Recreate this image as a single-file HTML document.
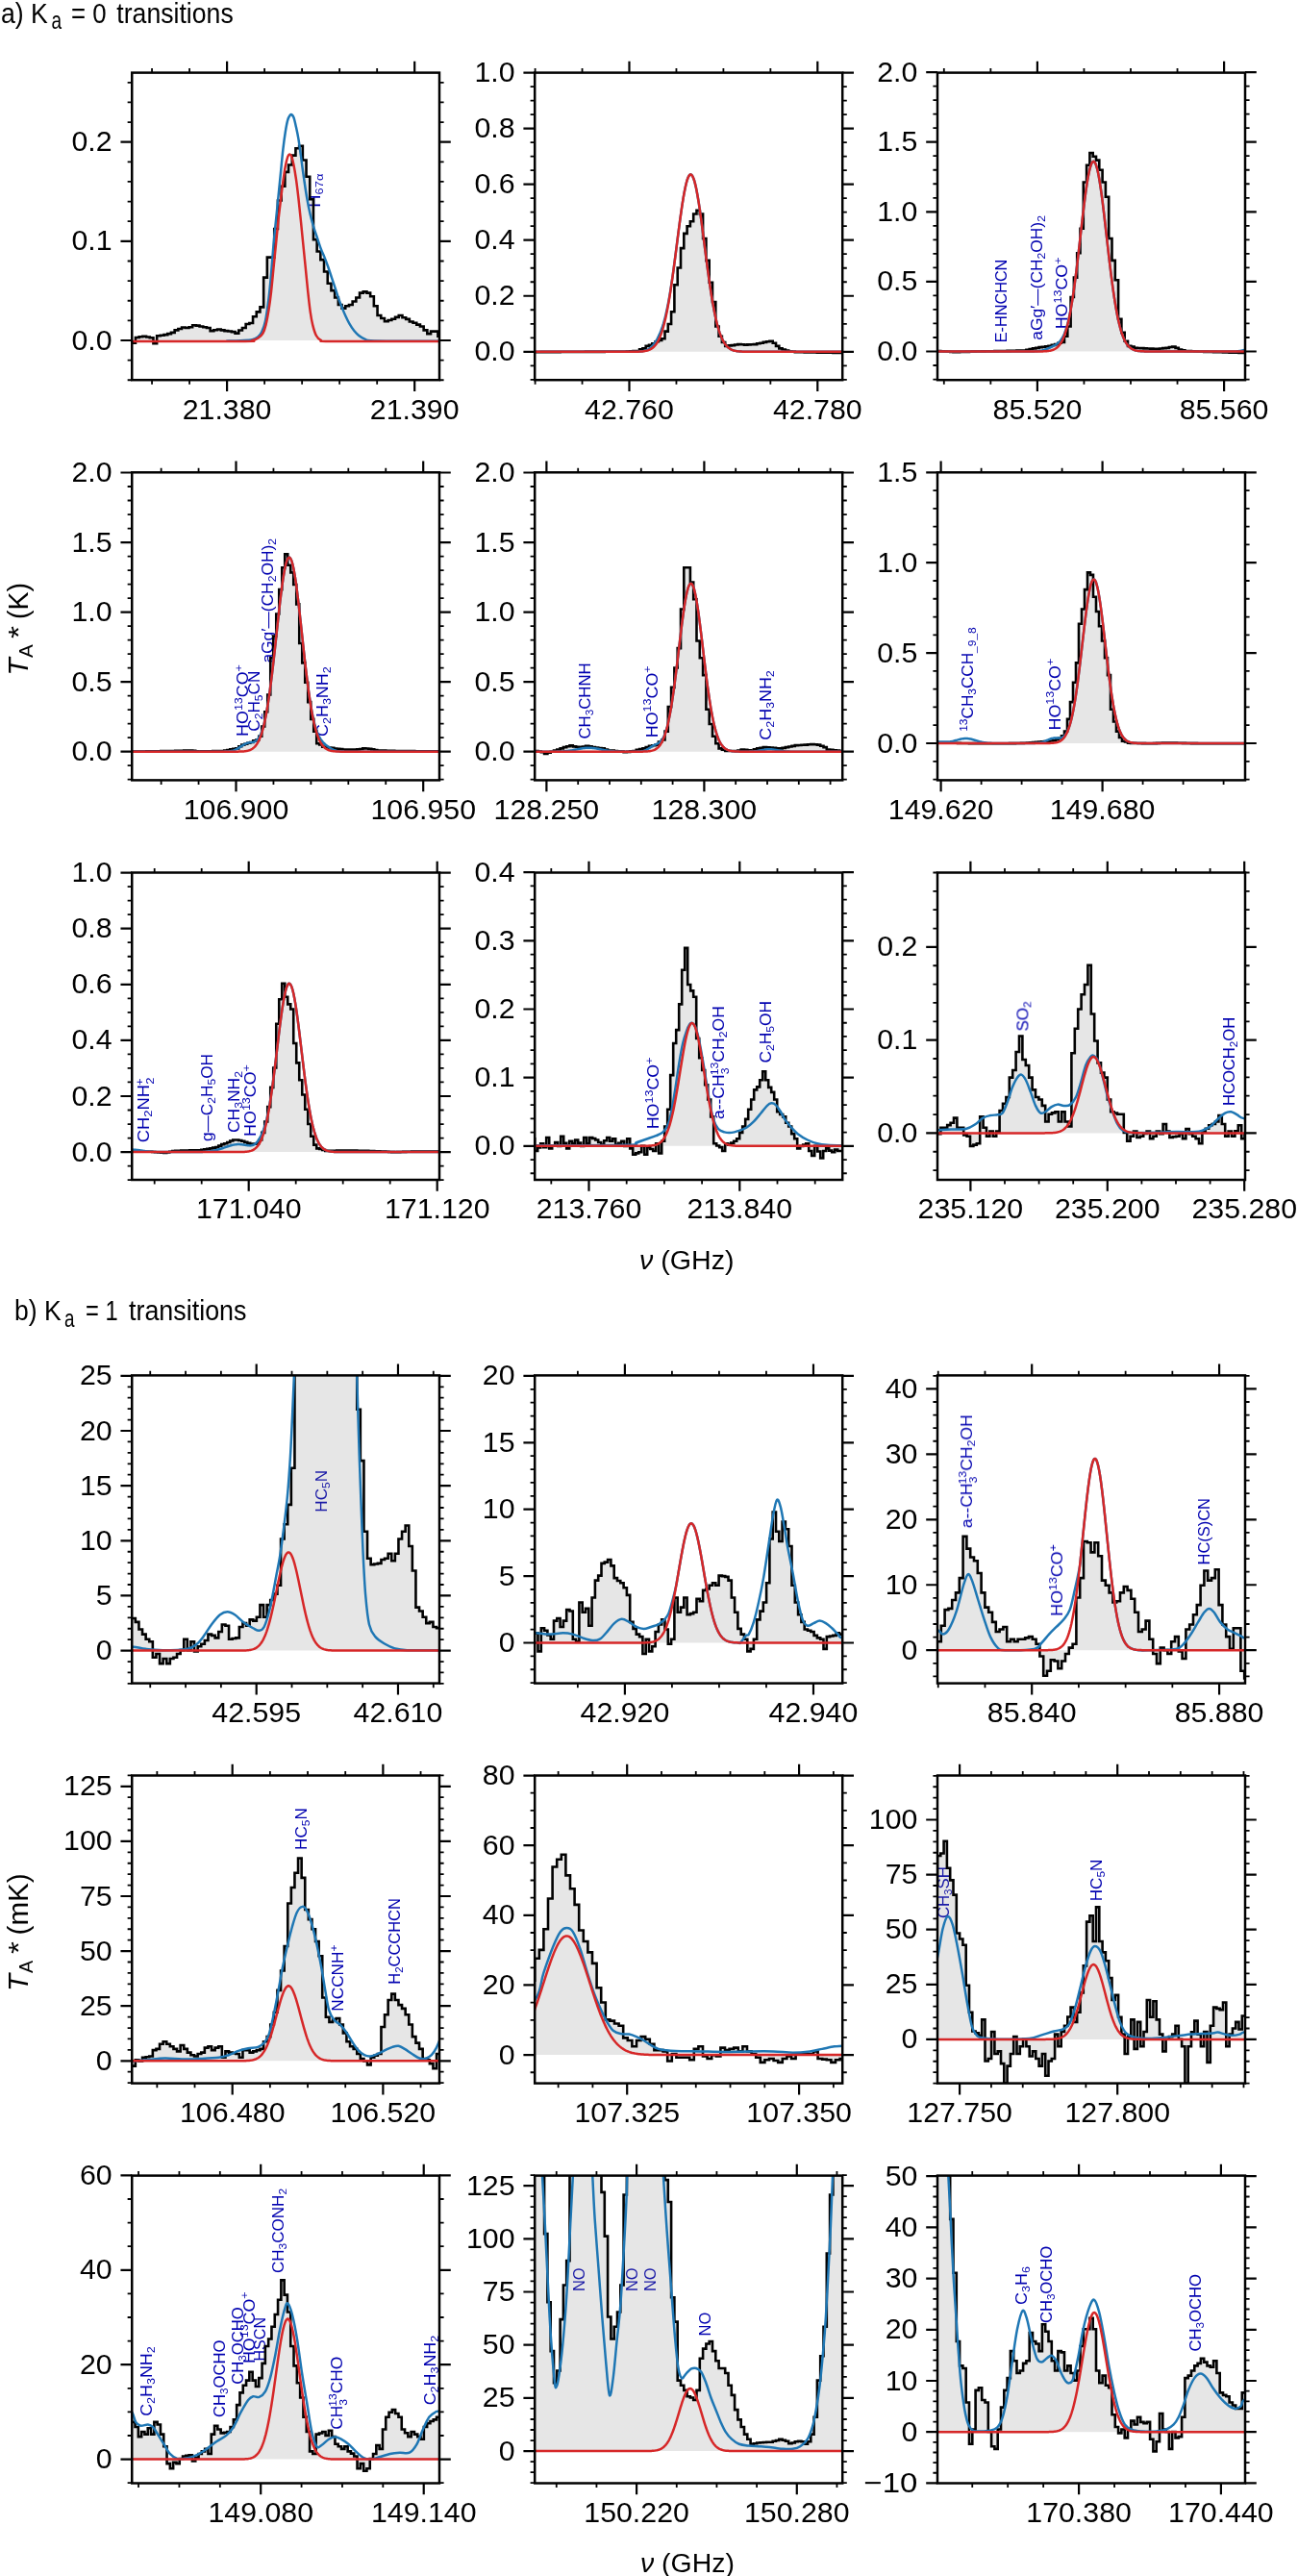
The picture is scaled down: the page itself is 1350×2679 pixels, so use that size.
<!DOCTYPE html><html><head><meta charset="utf-8"><style>html,body{margin:0;padding:0;background:#fff;}svg{display:block;font-family:"Liberation Sans",sans-serif;}</style></head><body>
<svg width="1350" height="2679" viewBox="0 0 1350 2679">
<rect width="1350" height="2679" fill="#fff"/>
<g opacity="0.999">
<defs><clipPath id="cp0"><rect x="137.25" y="75.60" width="319.75" height="319.60"/></clipPath><clipPath id="cp1"><rect x="556.20" y="75.60" width="320.00" height="319.60"/></clipPath><clipPath id="cp2"><rect x="975.00" y="75.60" width="320.00" height="319.60"/></clipPath><clipPath id="cp3"><rect x="137.25" y="491.30" width="319.75" height="320.10"/></clipPath><clipPath id="cp4"><rect x="556.20" y="491.30" width="320.00" height="320.10"/></clipPath><clipPath id="cp5"><rect x="975.00" y="491.30" width="320.00" height="320.10"/></clipPath><clipPath id="cp6"><rect x="137.25" y="907.50" width="319.75" height="319.50"/></clipPath><clipPath id="cp7"><rect x="556.20" y="907.50" width="320.00" height="319.50"/></clipPath><clipPath id="cp8"><rect x="975.00" y="907.50" width="320.00" height="319.50"/></clipPath><clipPath id="cp9"><rect x="137.25" y="1430.40" width="319.75" height="320.20"/></clipPath><clipPath id="cp10"><rect x="556.20" y="1430.40" width="320.00" height="320.20"/></clipPath><clipPath id="cp11"><rect x="975.00" y="1430.40" width="320.00" height="320.20"/></clipPath><clipPath id="cp12"><rect x="137.25" y="1846.50" width="319.75" height="320.10"/></clipPath><clipPath id="cp13"><rect x="556.20" y="1846.50" width="320.00" height="320.10"/></clipPath><clipPath id="cp14"><rect x="975.00" y="1846.50" width="320.00" height="320.10"/></clipPath><clipPath id="cp15"><rect x="137.25" y="2262.60" width="319.75" height="319.90"/></clipPath><clipPath id="cp16"><rect x="556.20" y="2262.60" width="320.00" height="319.90"/></clipPath><clipPath id="cp17"><rect x="975.00" y="2262.60" width="320.00" height="319.90"/></clipPath></defs>
<g font-size="16">
<text transform="translate(332.80 215.70) rotate(-90)" fill="#0000b0" textLength="35.03" lengthAdjust="spacingAndGlyphs" text-anchor="start"><tspan font-size="16.00" dy="0.00">H</tspan><tspan font-size="11.20" dy="3.04">67α</tspan></text>
</g>
<g clip-path="url(#cp0)">
<path d="M133.55 354.00V356.80H137.25V356.80H140.95V350.96H144.65V350.32H148.35V349.68H152.05V350.54H155.75V351.21H159.45V357.31H163.15V349.18H166.85V348.76H170.55V348.16H174.25V347.12H177.95V345.87H181.65V343.33H185.35V341.93H189.05V340.53H192.75V341.04H196.45V340.24H200.15V338.24H203.85V338.64H207.55V339.51H211.25V340.24H214.95V341.04H218.65V344.09H222.35V343.29H226.05V342.57H229.75V343.33H233.45V344.09H237.15V344.53H240.85V345.11H244.55V346.63H248.25V343.45H251.95V340.99H255.65V336.97H259.35V335.95H263.05V329.28H266.75V324.35H270.45V319.41H274.15V288.60H277.85V267.64H281.55V267.64H285.25V238.06H288.95V208.47H292.65V193.68H296.35V178.89H300.05V171.49H303.75V161.63H307.45V154.24H311.15V151.77H314.85V166.56H318.55V183.82H322.25V207.24H325.95V249.15H329.65V261.48H333.35V270.11H337.05V282.43H340.75V294.76H344.45V302.16H348.15V309.55H351.85V316.95H355.55V320.65H359.25V318.18H362.95V316.95H366.65V313.50H370.35V309.55H374.05V304.62H377.75V303.39H381.45V304.62H385.15V308.32H388.85V318.18H392.55V328.04H396.25V330.94H399.95V334.21H403.65V332.97H407.35V331.74H411.05V329.89H414.75V328.07H418.45V330.31H422.15V331.89H425.85V334.43H429.55V335.70H433.25V337.60H436.95V339.51H440.65V343.33H444.35V347.14H448.05V344.60H451.75V344.60H455.45V349.68H459.15V354.00 Z" fill="#808080" fill-opacity="0.2" stroke="none"/>
<path d="M133.55 356.80H137.25V356.80H140.95V350.96H144.65V350.32H148.35V349.68H152.05V350.54H155.75V351.21H159.45V357.31H163.15V349.18H166.85V348.76H170.55V348.16H174.25V347.12H177.95V345.87H181.65V343.33H185.35V341.93H189.05V340.53H192.75V341.04H196.45V340.24H200.15V338.24H203.85V338.64H207.55V339.51H211.25V340.24H214.95V341.04H218.65V344.09H222.35V343.29H226.05V342.57H229.75V343.33H233.45V344.09H237.15V344.53H240.85V345.11H244.55V346.63H248.25V343.45H251.95V340.99H255.65V336.97H259.35V335.95H263.05V329.28H266.75V324.35H270.45V319.41H274.15V288.60H277.85V267.64H281.55V267.64H285.25V238.06H288.95V208.47H292.65V193.68H296.35V178.89H300.05V171.49H303.75V161.63H307.45V154.24H311.15V151.77H314.85V166.56H318.55V183.82H322.25V207.24H325.95V249.15H329.65V261.48H333.35V270.11H337.05V282.43H340.75V294.76H344.45V302.16H348.15V309.55H351.85V316.95H355.55V320.65H359.25V318.18H362.95V316.95H366.65V313.50H370.35V309.55H374.05V304.62H377.75V303.39H381.45V304.62H385.15V308.32H388.85V318.18H392.55V328.04H396.25V330.94H399.95V334.21H403.65V332.97H407.35V331.74H411.05V329.89H414.75V328.07H418.45V330.31H422.15V331.89H425.85V334.43H429.55V335.70H433.25V337.60H436.95V339.51H440.65V343.33H444.35V347.14H448.05V344.60H451.75V344.60H455.45V349.68H459.15" fill="none" stroke="#000" stroke-width="2.60" stroke-linejoin="miter"/>
<path d="M235.21 354.67C237.67 354.59 245.48 354.40 250.00 354.18C254.52 353.95 259.24 353.97 262.33 353.31C265.41 352.66 266.85 351.57 268.49 350.23C270.13 348.90 270.96 347.97 272.19 345.30C273.42 342.63 274.65 340.16 275.89 334.21C277.12 328.25 278.56 317.77 279.58 309.55C280.61 301.34 281.23 294.14 282.05 284.90C282.87 275.65 283.69 263.33 284.51 254.08C285.34 244.84 286.16 237.65 286.98 229.43C287.80 221.21 288.62 212.99 289.45 204.78C290.27 196.56 291.09 188.34 291.91 180.12C292.73 171.91 293.55 162.66 294.38 155.47C295.20 148.28 296.02 142.12 296.84 136.98C297.66 131.84 298.48 127.53 299.31 124.65C300.13 121.78 301.11 120.65 301.77 119.72C302.43 118.80 302.63 118.70 303.25 119.11C303.87 119.52 304.69 120.03 305.47 122.19C306.25 124.35 307.11 128.35 307.94 132.05C308.76 135.75 309.58 139.45 310.40 144.38C311.22 149.31 312.04 155.68 312.87 161.63C313.69 167.59 314.30 172.93 315.33 180.12C316.36 187.31 317.80 197.59 319.03 204.78C320.26 211.97 321.49 217.93 322.73 223.27C323.96 228.61 325.19 232.72 326.43 236.83C327.66 240.93 328.89 244.22 330.12 247.92C331.36 251.62 332.59 255.73 333.82 259.01C335.05 262.30 336.29 264.56 337.52 267.64C338.75 270.72 339.98 274.01 341.22 277.50C342.45 281.00 343.68 284.90 344.92 288.60C346.15 292.30 347.38 295.99 348.61 299.69C349.85 303.39 351.08 307.29 352.31 310.79C353.54 314.28 354.78 317.57 356.01 320.65C357.24 323.73 358.47 326.61 359.71 329.28C360.94 331.95 361.97 334.21 363.41 336.67C364.84 339.14 366.69 342.01 368.34 344.07C369.98 346.12 371.42 347.56 373.27 349.00C375.12 350.44 377.38 351.83 379.43 352.70C381.48 353.56 380.50 353.85 385.59 354.18C390.69 354.50 397.67 354.59 410.00 354.67C422.33 354.75 451.29 354.67 459.55 354.67" fill="none" stroke="#1f77b4" stroke-width="2.50"/>
<path d="M114.41 354.92C137.01 354.92 225.35 355.08 250.00 354.92C274.65 354.75 259.24 354.50 262.33 353.93C265.41 353.35 266.64 352.70 268.49 351.46C270.34 350.23 272.09 348.79 273.42 346.53C274.76 344.27 275.48 342.01 276.50 337.90C277.53 333.80 278.66 327.63 279.58 321.88C280.51 316.13 281.23 310.58 282.05 303.39C282.87 296.20 283.69 286.95 284.51 278.74C285.34 270.52 286.16 262.30 286.98 254.08C287.80 245.87 288.62 237.03 289.45 229.43C290.27 221.83 291.09 215.25 291.91 208.47C292.73 201.69 293.55 194.71 294.38 188.75C295.20 182.79 296.02 177.04 296.84 172.73C297.66 168.41 298.59 164.92 299.31 162.87C300.03 160.81 300.54 160.50 301.16 160.40C301.77 160.30 302.29 160.40 303.00 162.25C303.72 164.10 304.65 167.49 305.47 171.49C306.29 175.50 307.11 180.53 307.94 186.29C308.76 192.04 309.58 198.82 310.40 206.01C311.22 213.20 312.04 221.42 312.87 229.43C313.69 237.44 314.51 245.87 315.33 254.08C316.15 262.30 316.97 270.52 317.80 278.74C318.62 286.95 319.44 295.79 320.26 303.39C321.08 310.99 321.91 318.59 322.73 324.35C323.55 330.10 324.17 333.80 325.19 337.90C326.22 342.01 327.45 346.33 328.89 349.00C330.33 351.67 331.77 352.94 333.82 353.93C335.88 354.92 328.52 354.75 341.22 354.92C353.91 355.08 390.28 354.92 410.00 354.92C429.72 354.92 451.29 354.92 459.55 354.92" fill="none" stroke="#d62728" stroke-width="2.50"/>
</g>
<rect x="137.25" y="75.60" width="319.75" height="319.60" fill="none" stroke="#000" stroke-width="2.50"/>
<text x="236.10" y="435.60" font-size="29.00" textLength="92.72" lengthAdjust="spacingAndGlyphs" text-anchor="middle">21.380</text>
<text x="431.20" y="435.60" font-size="29.00" textLength="92.72" lengthAdjust="spacingAndGlyphs" text-anchor="middle">21.390</text>
<text x="116.65" y="363.50" font-size="29.00" textLength="42.14" lengthAdjust="spacingAndGlyphs" text-anchor="end">0.0</text>
<text x="116.65" y="260.35" font-size="29.00" textLength="42.14" lengthAdjust="spacingAndGlyphs" text-anchor="end">0.1</text>
<text x="116.65" y="157.20" font-size="29.00" textLength="42.14" lengthAdjust="spacingAndGlyphs" text-anchor="end">0.2</text>
<path d="M236.10 395.20V407.00M236.10 75.60V63.80M431.20 395.20V407.00M431.20 75.60V63.80M137.25 354.00H125.45M457.00 354.00H468.80M137.25 250.85H125.45M457.00 250.85H468.80M137.25 147.70H125.45M457.00 147.70H468.80" stroke="#000" stroke-width="2.20" fill="none"/>
<path d="M158.06 395.20V399.80M158.06 75.60V71.00M197.08 395.20V399.80M197.08 75.60V71.00M275.12 395.20V399.80M275.12 75.60V71.00M314.14 395.20V399.80M314.14 75.60V71.00M353.16 395.20V399.80M353.16 75.60V71.00M392.18 395.20V399.80M392.18 75.60V71.00M137.25 395.26H132.65M457.00 395.26H461.60M137.25 374.63H132.65M457.00 374.63H461.60M137.25 333.37H132.65M457.00 333.37H461.60M137.25 312.74H132.65M457.00 312.74H461.60M137.25 292.11H132.65M457.00 292.11H461.60M137.25 271.48H132.65M457.00 271.48H461.60M137.25 230.22H132.65M457.00 230.22H461.60M137.25 209.59H132.65M457.00 209.59H461.60M137.25 188.96H132.65M457.00 188.96H461.60M137.25 168.33H132.65M457.00 168.33H461.60M137.25 127.07H132.65M457.00 127.07H461.60M137.25 106.44H132.65M457.00 106.44H461.60M137.25 85.81H132.65M457.00 85.81H461.60" stroke="#000" stroke-width="1.80" fill="none"/>
<g font-size="16">
</g>
<g clip-path="url(#cp1)">
<path d="M552.90 365.80V366.21H556.20V366.20H559.50V366.18H562.80V366.16H566.10V366.14H569.40V366.13H572.70V366.11H576.00V366.09H579.30V366.08H582.60V366.06H585.90V366.04H589.20V366.02H592.50V366.01H595.80V365.99H599.10V365.97H602.40V365.95H605.70V365.94H609.00V365.92H612.30V365.90H615.60V365.88H618.90V365.87H622.20V365.85H625.50V365.83H628.80V365.81H632.10V365.80H635.40V365.78H638.70V365.76H642.00V365.75H645.30V365.73H648.60V365.70H651.90V365.56H655.20V365.32H658.50V365.07H661.80V364.94H665.10V363.31H668.40V362.40H671.70V359.86H675.00V358.82H678.30V357.31H681.60V355.28H684.90V353.84H688.20V352.23H691.50V344.60H694.80V336.97H698.10V324.26H701.40V296.29H704.70V278.49H708.00V258.15H711.30V242.90H714.60V235.27H717.90V230.18H721.20V222.56H724.50V218.74H727.80V222.56H731.10V247.98H734.40V270.86H737.70V293.75H741.00V314.09H744.30V339.51H747.60V349.68H750.90V356.04H754.20V359.86H757.50V359.38H760.80V359.09H764.10V358.46H767.40V358.08H770.70V358.32H774.00V358.58H777.30V358.41H780.60V358.19H783.90V358.08H787.20V357.25H790.50V356.80H793.80V355.87H797.10V355.28H800.40V354.77H803.70V356.80H807.00V359.86H810.30V362.40H813.60V363.51H816.90V364.43H820.20V365.45H823.50V365.76H826.80V366.21H830.10V366.25H833.40V366.30H836.70V366.36H840.00V366.41H843.30V366.47H846.60V366.52H849.90V366.58H853.20V366.63H856.50V366.69H859.80V366.74H863.10V366.80H866.40V366.85H869.70V366.91H873.00V366.97H876.30V365.80 Z" fill="#808080" fill-opacity="0.2" stroke="none"/>
<path d="M552.90 366.21H556.20V366.20H559.50V366.18H562.80V366.16H566.10V366.14H569.40V366.13H572.70V366.11H576.00V366.09H579.30V366.08H582.60V366.06H585.90V366.04H589.20V366.02H592.50V366.01H595.80V365.99H599.10V365.97H602.40V365.95H605.70V365.94H609.00V365.92H612.30V365.90H615.60V365.88H618.90V365.87H622.20V365.85H625.50V365.83H628.80V365.81H632.10V365.80H635.40V365.78H638.70V365.76H642.00V365.75H645.30V365.73H648.60V365.70H651.90V365.56H655.20V365.32H658.50V365.07H661.80V364.94H665.10V363.31H668.40V362.40H671.70V359.86H675.00V358.82H678.30V357.31H681.60V355.28H684.90V353.84H688.20V352.23H691.50V344.60H694.80V336.97H698.10V324.26H701.40V296.29H704.70V278.49H708.00V258.15H711.30V242.90H714.60V235.27H717.90V230.18H721.20V222.56H724.50V218.74H727.80V222.56H731.10V247.98H734.40V270.86H737.70V293.75H741.00V314.09H744.30V339.51H747.60V349.68H750.90V356.04H754.20V359.86H757.50V359.38H760.80V359.09H764.10V358.46H767.40V358.08H770.70V358.32H774.00V358.58H777.30V358.41H780.60V358.19H783.90V358.08H787.20V357.25H790.50V356.80H793.80V355.87H797.10V355.28H800.40V354.77H803.70V356.80H807.00V359.86H810.30V362.40H813.60V363.51H816.90V364.43H820.20V365.45H823.50V365.76H826.80V366.21H830.10V366.25H833.40V366.30H836.70V366.36H840.00V366.41H843.30V366.47H846.60V366.52H849.90V366.58H853.20V366.63H856.50V366.69H859.80V366.74H863.10V366.80H866.40V366.85H869.70V366.91H873.00V366.97H876.30" fill="none" stroke="#000" stroke-width="2.60" stroke-linejoin="miter"/>
<path d="M551.20 365.80 L552.03 365.80 L552.85 365.80 L553.68 365.80 L554.50 365.80 L555.33 365.80 L556.15 365.80 L556.98 365.80 L557.80 365.80 L558.62 365.80 L559.45 365.80 L560.28 365.80 L561.10 365.80 L561.93 365.80 L562.75 365.80 L563.58 365.80 L564.40 365.80 L565.23 365.80 L566.05 365.80 L566.88 365.80 L567.70 365.80 L568.53 365.80 L569.35 365.80 L570.18 365.80 L571.00 365.80 L571.83 365.80 L572.65 365.80 L573.48 365.80 L574.30 365.80 L575.12 365.80 L575.95 365.80 L576.78 365.80 L577.60 365.80 L578.43 365.80 L579.25 365.80 L580.08 365.80 L580.90 365.80 L581.73 365.80 L582.55 365.80 L583.38 365.80 L584.20 365.80 L585.03 365.80 L585.85 365.80 L586.68 365.80 L587.50 365.80 L588.33 365.80 L589.15 365.80 L589.98 365.80 L590.80 365.80 L591.62 365.80 L592.45 365.80 L593.28 365.80 L594.10 365.80 L594.93 365.80 L595.75 365.80 L596.58 365.80 L597.40 365.80 L598.23 365.80 L599.05 365.80 L599.88 365.80 L600.70 365.80 L601.53 365.80 L602.35 365.80 L603.18 365.80 L604.00 365.80 L604.83 365.80 L605.65 365.80 L606.48 365.80 L607.30 365.80 L608.12 365.80 L608.95 365.80 L609.78 365.80 L610.60 365.80 L611.43 365.80 L612.25 365.80 L613.08 365.80 L613.90 365.80 L614.73 365.80 L615.55 365.80 L616.38 365.80 L617.20 365.80 L618.03 365.80 L618.85 365.80 L619.68 365.80 L620.50 365.80 L621.33 365.80 L622.15 365.80 L622.98 365.80 L623.80 365.80 L624.62 365.80 L625.45 365.80 L626.28 365.80 L627.10 365.80 L627.93 365.80 L628.75 365.80 L629.58 365.80 L630.40 365.80 L631.23 365.80 L632.05 365.80 L632.88 365.80 L633.70 365.80 L634.53 365.80 L635.35 365.80 L636.18 365.80 L637.00 365.80 L637.83 365.80 L638.65 365.80 L639.48 365.80 L640.30 365.80 L641.12 365.80 L641.95 365.80 L642.78 365.80 L643.60 365.80 L644.43 365.80 L645.25 365.80 L646.08 365.80 L646.90 365.80 L647.73 365.80 L648.55 365.80 L649.38 365.80 L650.20 365.80 L651.03 365.80 L651.85 365.80 L652.68 365.80 L653.50 365.79 L654.33 365.79 L655.15 365.79 L655.98 365.79 L656.80 365.78 L657.62 365.78 L658.45 365.77 L659.28 365.76 L660.10 365.75 L660.93 365.73 L661.75 365.72 L662.58 365.69 L663.40 365.66 L664.23 365.62 L665.05 365.57 L665.88 365.51 L666.70 365.44 L667.53 365.34 L668.35 365.22 L669.18 365.07 L670.00 364.89 L670.83 364.67 L671.65 364.41 L672.48 364.10 L673.30 363.72 L674.12 363.29 L674.95 362.79 L675.78 362.21 L676.60 361.55 L677.43 360.81 L678.25 359.98 L679.08 359.07 L679.90 358.06 L680.73 356.95 L681.55 355.75 L682.38 354.45 L683.20 353.04 L684.03 351.53 L684.85 349.90 L685.68 348.15 L686.50 346.26 L687.33 344.22 L688.15 342.02 L688.98 339.64 L689.80 337.06 L690.62 334.26 L691.45 331.22 L692.28 327.94 L693.10 324.40 L693.93 320.58 L694.75 316.48 L695.58 312.09 L696.40 307.43 L697.23 302.48 L698.05 297.27 L698.88 291.81 L699.70 286.12 L700.53 280.22 L701.35 274.15 L702.18 267.93 L703.00 261.61 L703.83 255.23 L704.65 248.82 L705.48 242.44 L706.30 236.14 L707.12 229.95 L707.95 223.94 L708.78 218.15 L709.60 212.62 L710.43 207.42 L711.25 202.58 L712.08 198.16 L712.90 194.18 L713.73 190.69 L714.55 187.73 L715.38 185.31 L716.20 183.48 L717.03 182.23 L717.85 181.59 L718.68 181.56 L719.50 182.15 L720.33 183.34 L721.15 185.12 L721.98 187.49 L722.80 190.40 L723.62 193.85 L724.45 197.78 L725.28 202.17 L726.10 206.97 L726.93 212.15 L727.75 217.65 L728.58 223.43 L729.40 229.44 L730.23 235.63 L731.05 241.95 L731.88 248.35 L732.70 254.80 L733.53 261.24 L734.35 267.63 L735.18 273.94 L736.00 280.13 L736.83 286.16 L737.65 292.02 L738.48 297.68 L739.30 303.11 L740.12 308.29 L740.95 313.23 L741.78 317.90 L742.60 322.30 L743.43 326.43 L744.25 330.28 L745.08 333.87 L745.90 337.18 L746.73 340.24 L747.55 343.05 L748.38 345.61 L749.20 347.95 L750.03 350.07 L750.85 351.98 L751.68 353.70 L752.50 355.24 L753.33 356.62 L754.15 357.84 L754.98 358.93 L755.80 359.88 L756.62 360.72 L757.45 361.46 L758.28 362.10 L759.10 362.65 L759.93 363.14 L760.75 363.55 L761.58 363.91 L762.40 364.21 L763.23 364.47 L764.05 364.70 L764.88 364.88 L765.70 365.04 L766.53 365.17 L767.35 365.29 L768.18 365.38 L769.00 365.46 L769.83 365.52 L770.65 365.57 L771.48 365.62 L772.30 365.65 L773.12 365.68 L773.95 365.71 L774.78 365.72 L775.60 365.74 L776.43 365.75 L777.25 365.76 L778.08 365.77 L778.90 365.78 L779.73 365.78 L780.55 365.79 L781.38 365.79 L782.20 365.79 L783.03 365.79 L783.85 365.79 L784.68 365.80 L785.50 365.80 L786.33 365.80 L787.15 365.80 L787.98 365.80 L788.80 365.80 L789.62 365.80 L790.45 365.80 L791.28 365.80 L792.10 365.80 L792.93 365.80 L793.75 365.80 L794.58 365.80 L795.40 365.80 L796.23 365.80 L797.05 365.80 L797.88 365.80 L798.70 365.80 L799.53 365.80 L800.35 365.80 L801.18 365.80 L802.00 365.80 L802.83 365.80 L803.65 365.80 L804.48 365.80 L805.30 365.80 L806.12 365.80 L806.95 365.80 L807.78 365.80 L808.60 365.80 L809.43 365.80 L810.25 365.80 L811.08 365.80 L811.90 365.80 L812.73 365.80 L813.55 365.80 L814.38 365.80 L815.20 365.80 L816.03 365.80 L816.85 365.80 L817.68 365.80 L818.50 365.80 L819.33 365.80 L820.15 365.80 L820.98 365.80 L821.80 365.80 L822.62 365.80 L823.45 365.80 L824.28 365.80 L825.10 365.80 L825.93 365.80 L826.75 365.80 L827.58 365.80 L828.40 365.80 L829.23 365.80 L830.05 365.80 L830.88 365.80 L831.70 365.80 L832.53 365.80 L833.35 365.80 L834.18 365.80 L835.00 365.80 L835.83 365.80 L836.65 365.80 L837.48 365.80 L838.30 365.80 L839.12 365.80 L839.95 365.80 L840.78 365.80 L841.60 365.80 L842.43 365.80 L843.25 365.80 L844.08 365.80 L844.90 365.80 L845.73 365.80 L846.55 365.80 L847.38 365.80 L848.20 365.80 L849.03 365.80 L849.85 365.80 L850.68 365.80 L851.50 365.80 L852.33 365.80 L853.15 365.80 L853.98 365.80 L854.80 365.80 L855.62 365.80 L856.45 365.80 L857.28 365.80 L858.10 365.80 L858.93 365.80 L859.75 365.80 L860.58 365.80 L861.40 365.80 L862.23 365.80 L863.05 365.80 L863.88 365.80 L864.70 365.80 L865.53 365.80 L866.35 365.80 L867.18 365.80 L868.00 365.80 L868.83 365.80 L869.65 365.80 L870.48 365.80 L871.30 365.80 L872.12 365.80 L872.95 365.80 L873.78 365.80 L874.60 365.80 L875.43 365.80 L876.25 365.80 L877.08 365.80 L877.90 365.80 L878.73 365.80 L879.55 365.80 L880.38 365.80 L881.20 365.80" fill="none" stroke="#1f77b4" stroke-width="2.50"/>
<path d="M551.20 365.80 L552.03 365.80 L552.85 365.80 L553.68 365.80 L554.50 365.80 L555.33 365.80 L556.15 365.80 L556.98 365.80 L557.80 365.80 L558.62 365.80 L559.45 365.80 L560.28 365.80 L561.10 365.80 L561.93 365.80 L562.75 365.80 L563.58 365.80 L564.40 365.80 L565.23 365.80 L566.05 365.80 L566.88 365.80 L567.70 365.80 L568.53 365.80 L569.35 365.80 L570.18 365.80 L571.00 365.80 L571.83 365.80 L572.65 365.80 L573.48 365.80 L574.30 365.80 L575.12 365.80 L575.95 365.80 L576.78 365.80 L577.60 365.80 L578.43 365.80 L579.25 365.80 L580.08 365.80 L580.90 365.80 L581.73 365.80 L582.55 365.80 L583.38 365.80 L584.20 365.80 L585.03 365.80 L585.85 365.80 L586.68 365.80 L587.50 365.80 L588.33 365.80 L589.15 365.80 L589.98 365.80 L590.80 365.80 L591.62 365.80 L592.45 365.80 L593.28 365.80 L594.10 365.80 L594.93 365.80 L595.75 365.80 L596.58 365.80 L597.40 365.80 L598.23 365.80 L599.05 365.80 L599.88 365.80 L600.70 365.80 L601.53 365.80 L602.35 365.80 L603.18 365.80 L604.00 365.80 L604.83 365.80 L605.65 365.80 L606.48 365.80 L607.30 365.80 L608.12 365.80 L608.95 365.80 L609.78 365.80 L610.60 365.80 L611.43 365.80 L612.25 365.80 L613.08 365.80 L613.90 365.80 L614.73 365.80 L615.55 365.80 L616.38 365.80 L617.20 365.80 L618.03 365.80 L618.85 365.80 L619.68 365.80 L620.50 365.80 L621.33 365.80 L622.15 365.80 L622.98 365.80 L623.80 365.80 L624.62 365.80 L625.45 365.80 L626.28 365.80 L627.10 365.80 L627.93 365.80 L628.75 365.80 L629.58 365.80 L630.40 365.80 L631.23 365.80 L632.05 365.80 L632.88 365.80 L633.70 365.80 L634.53 365.80 L635.35 365.80 L636.18 365.80 L637.00 365.80 L637.83 365.80 L638.65 365.80 L639.48 365.80 L640.30 365.80 L641.12 365.80 L641.95 365.80 L642.78 365.80 L643.60 365.80 L644.43 365.80 L645.25 365.80 L646.08 365.80 L646.90 365.80 L647.73 365.80 L648.55 365.80 L649.38 365.80 L650.20 365.80 L651.03 365.80 L651.85 365.80 L652.68 365.80 L653.50 365.79 L654.33 365.79 L655.15 365.79 L655.98 365.79 L656.80 365.78 L657.62 365.78 L658.45 365.77 L659.28 365.76 L660.10 365.75 L660.93 365.74 L661.75 365.73 L662.58 365.71 L663.40 365.68 L664.23 365.66 L665.05 365.62 L665.88 365.58 L666.70 365.53 L667.53 365.46 L668.35 365.39 L669.18 365.30 L670.00 365.19 L670.83 365.06 L671.65 364.90 L672.48 364.71 L673.30 364.50 L674.12 364.24 L674.95 363.94 L675.78 363.59 L676.60 363.18 L677.43 362.70 L678.25 362.15 L679.08 361.52 L679.90 360.79 L680.73 359.96 L681.55 359.02 L682.38 357.95 L683.20 356.74 L684.03 355.38 L684.85 353.85 L685.68 352.15 L686.50 350.25 L687.33 348.15 L688.15 345.84 L688.98 343.29 L689.80 340.51 L690.62 337.47 L691.45 334.18 L692.28 330.62 L693.10 326.79 L693.93 322.69 L694.75 318.31 L695.58 313.66 L696.40 308.75 L697.23 303.59 L698.05 298.18 L698.88 292.54 L699.70 286.70 L700.53 280.68 L701.35 274.51 L702.18 268.21 L703.00 261.82 L703.83 255.38 L704.65 248.94 L705.48 242.53 L706.30 236.20 L707.12 230.00 L707.95 223.97 L708.78 218.17 L709.60 212.64 L710.43 207.43 L711.25 202.59 L712.08 198.16 L712.90 194.18 L713.73 190.69 L714.55 187.73 L715.38 185.32 L716.20 183.48 L717.03 182.23 L717.85 181.59 L718.68 181.56 L719.50 182.15 L720.33 183.34 L721.15 185.12 L721.98 187.49 L722.80 190.40 L723.62 193.85 L724.45 197.78 L725.28 202.17 L726.10 206.97 L726.93 212.15 L727.75 217.65 L728.58 223.43 L729.40 229.44 L730.23 235.63 L731.05 241.95 L731.88 248.35 L732.70 254.80 L733.53 261.24 L734.35 267.63 L735.18 273.94 L736.00 280.13 L736.83 286.16 L737.65 292.02 L738.48 297.68 L739.30 303.11 L740.12 308.29 L740.95 313.23 L741.78 317.90 L742.60 322.30 L743.43 326.43 L744.25 330.28 L745.08 333.87 L745.90 337.18 L746.73 340.24 L747.55 343.05 L748.38 345.61 L749.20 347.95 L750.03 350.07 L750.85 351.98 L751.68 353.70 L752.50 355.24 L753.33 356.62 L754.15 357.84 L754.98 358.93 L755.80 359.88 L756.62 360.72 L757.45 361.46 L758.28 362.10 L759.10 362.65 L759.93 363.14 L760.75 363.55 L761.58 363.91 L762.40 364.21 L763.23 364.47 L764.05 364.70 L764.88 364.88 L765.70 365.04 L766.53 365.17 L767.35 365.29 L768.18 365.38 L769.00 365.46 L769.83 365.52 L770.65 365.57 L771.48 365.62 L772.30 365.65 L773.12 365.68 L773.95 365.71 L774.78 365.72 L775.60 365.74 L776.43 365.75 L777.25 365.76 L778.08 365.77 L778.90 365.78 L779.73 365.78 L780.55 365.79 L781.38 365.79 L782.20 365.79 L783.03 365.79 L783.85 365.79 L784.68 365.80 L785.50 365.80 L786.33 365.80 L787.15 365.80 L787.98 365.80 L788.80 365.80 L789.62 365.80 L790.45 365.80 L791.28 365.80 L792.10 365.80 L792.93 365.80 L793.75 365.80 L794.58 365.80 L795.40 365.80 L796.23 365.80 L797.05 365.80 L797.88 365.80 L798.70 365.80 L799.53 365.80 L800.35 365.80 L801.18 365.80 L802.00 365.80 L802.83 365.80 L803.65 365.80 L804.48 365.80 L805.30 365.80 L806.12 365.80 L806.95 365.80 L807.78 365.80 L808.60 365.80 L809.43 365.80 L810.25 365.80 L811.08 365.80 L811.90 365.80 L812.73 365.80 L813.55 365.80 L814.38 365.80 L815.20 365.80 L816.03 365.80 L816.85 365.80 L817.68 365.80 L818.50 365.80 L819.33 365.80 L820.15 365.80 L820.98 365.80 L821.80 365.80 L822.62 365.80 L823.45 365.80 L824.28 365.80 L825.10 365.80 L825.93 365.80 L826.75 365.80 L827.58 365.80 L828.40 365.80 L829.23 365.80 L830.05 365.80 L830.88 365.80 L831.70 365.80 L832.53 365.80 L833.35 365.80 L834.18 365.80 L835.00 365.80 L835.83 365.80 L836.65 365.80 L837.48 365.80 L838.30 365.80 L839.12 365.80 L839.95 365.80 L840.78 365.80 L841.60 365.80 L842.43 365.80 L843.25 365.80 L844.08 365.80 L844.90 365.80 L845.73 365.80 L846.55 365.80 L847.38 365.80 L848.20 365.80 L849.03 365.80 L849.85 365.80 L850.68 365.80 L851.50 365.80 L852.33 365.80 L853.15 365.80 L853.98 365.80 L854.80 365.80 L855.62 365.80 L856.45 365.80 L857.28 365.80 L858.10 365.80 L858.93 365.80 L859.75 365.80 L860.58 365.80 L861.40 365.80 L862.23 365.80 L863.05 365.80 L863.88 365.80 L864.70 365.80 L865.53 365.80 L866.35 365.80 L867.18 365.80 L868.00 365.80 L868.83 365.80 L869.65 365.80 L870.48 365.80 L871.30 365.80 L872.12 365.80 L872.95 365.80 L873.78 365.80 L874.60 365.80 L875.43 365.80 L876.25 365.80 L877.08 365.80 L877.90 365.80 L878.73 365.80 L879.55 365.80 L880.38 365.80 L881.20 365.80" fill="none" stroke="#d62728" stroke-width="2.50"/>
</g>
<rect x="556.20" y="75.60" width="320.00" height="319.60" fill="none" stroke="#000" stroke-width="2.50"/>
<text x="654.50" y="435.60" font-size="29.00" textLength="92.72" lengthAdjust="spacingAndGlyphs" text-anchor="middle">42.760</text>
<text x="850.30" y="435.60" font-size="29.00" textLength="92.72" lengthAdjust="spacingAndGlyphs" text-anchor="middle">42.780</text>
<text x="535.60" y="375.30" font-size="29.00" textLength="42.14" lengthAdjust="spacingAndGlyphs" text-anchor="end">0.0</text>
<text x="535.60" y="317.25" font-size="29.00" textLength="42.14" lengthAdjust="spacingAndGlyphs" text-anchor="end">0.2</text>
<text x="535.60" y="259.20" font-size="29.00" textLength="42.14" lengthAdjust="spacingAndGlyphs" text-anchor="end">0.4</text>
<text x="535.60" y="201.15" font-size="29.00" textLength="42.14" lengthAdjust="spacingAndGlyphs" text-anchor="end">0.6</text>
<text x="535.60" y="143.10" font-size="29.00" textLength="42.14" lengthAdjust="spacingAndGlyphs" text-anchor="end">0.8</text>
<text x="535.60" y="85.05" font-size="29.00" textLength="42.14" lengthAdjust="spacingAndGlyphs" text-anchor="end">1.0</text>
<path d="M654.50 395.20V407.00M654.50 75.60V63.80M850.30 395.20V407.00M850.30 75.60V63.80M556.20 365.80H544.40M876.20 365.80H888.00M556.20 307.75H544.40M876.20 307.75H888.00M556.20 249.70H544.40M876.20 249.70H888.00M556.20 191.65H544.40M876.20 191.65H888.00M556.20 133.60H544.40M876.20 133.60H888.00M556.20 75.55H544.40M876.20 75.55H888.00" stroke="#000" stroke-width="2.20" fill="none"/>
<path d="M556.60 395.20V399.80M556.60 75.60V71.00M605.55 395.20V399.80M605.55 75.60V71.00M703.45 395.20V399.80M703.45 75.60V71.00M752.40 395.20V399.80M752.40 75.60V71.00M801.35 395.20V399.80M801.35 75.60V71.00M556.20 394.82H551.60M876.20 394.82H880.80M556.20 380.31H551.60M876.20 380.31H880.80M556.20 351.29H551.60M876.20 351.29H880.80M556.20 336.78H551.60M876.20 336.78H880.80M556.20 322.26H551.60M876.20 322.26H880.80M556.20 293.24H551.60M876.20 293.24H880.80M556.20 278.73H551.60M876.20 278.73H880.80M556.20 264.21H551.60M876.20 264.21H880.80M556.20 235.19H551.60M876.20 235.19H880.80M556.20 220.68H551.60M876.20 220.68H880.80M556.20 206.16H551.60M876.20 206.16H880.80M556.20 177.14H551.60M876.20 177.14H880.80M556.20 162.63H551.60M876.20 162.63H880.80M556.20 148.11H551.60M876.20 148.11H880.80M556.20 119.09H551.60M876.20 119.09H880.80M556.20 104.58H551.60M876.20 104.58H880.80M556.20 90.06H551.60M876.20 90.06H880.80" stroke="#000" stroke-width="1.80" fill="none"/>
<g font-size="16">
<text transform="translate(1046.50 356.30) rotate(-90)" fill="#0000b0" textLength="86.66" lengthAdjust="spacingAndGlyphs" text-anchor="start"><tspan font-size="16.00" dy="0.00">E-HNCHCN</tspan></text>
<text transform="translate(1083.50 353.70) rotate(-90)" fill="#0000b0" textLength="129.59" lengthAdjust="spacingAndGlyphs" text-anchor="start"><tspan font-size="16.00" dy="0.00">aGg′—(CH</tspan><tspan font-size="11.20" dy="3.04">2</tspan><tspan font-size="16.00" dy="-3.04">OH)</tspan><tspan font-size="11.20" dy="3.04">2</tspan></text>
<text transform="translate(1110.10 342.30) rotate(-90)" fill="#0000b0" textLength="74.79" lengthAdjust="spacingAndGlyphs" text-anchor="start"><tspan font-size="16.00" dy="0.00">HO</tspan><tspan font-size="11.20" dy="-6.24">13</tspan><tspan font-size="16.00" dy="6.24">CO</tspan><tspan font-size="11.20" dy="-6.24">+</tspan></text>
</g>
<g clip-path="url(#cp2)">
<path d="M971.70 365.50V364.94H975.00V365.10H978.30V365.31H981.60V365.51H984.90V365.72H988.20V365.93H991.50V366.21H994.80V366.15H998.10V366.05H1001.40V365.95H1004.70V365.85H1008.00V365.75H1011.30V365.66H1014.60V365.56H1017.90V365.45H1021.20V365.39H1024.50V365.32H1027.80V365.26H1031.10V365.19H1034.40V365.12H1037.70V365.06H1041.00V364.99H1044.30V364.94H1047.60V364.84H1050.90V364.76H1054.20V364.68H1057.50V364.59H1060.80V364.51H1064.10V364.43H1067.40V363.75H1070.70V363.09H1074.00V362.40H1077.30V361.87H1080.60V361.13H1083.90V360.77H1087.20V360.22H1090.50V359.86H1093.80V358.83H1097.10V358.08H1100.40V356.72H1103.70V356.04H1107.00V349.68H1110.30V339.51H1113.60V309.00H1116.90V288.66H1120.20V263.24H1123.50V237.81H1126.80V189.50H1130.10V171.70H1133.40V158.99H1136.70V162.80H1140.00V166.62H1143.30V176.79H1146.60V189.50H1149.90V204.76H1153.20V247.98H1156.50V270.86H1159.80V291.21H1163.10V331.89H1166.40V345.87H1169.70V354.77H1173.00V359.86H1176.30V360.66H1179.60V361.89H1182.90V361.99H1186.20V362.15H1189.50V362.40H1192.80V362.48H1196.10V362.65H1199.40V362.81H1202.70V362.91H1206.00V362.43H1209.30V362.10H1212.60V361.89H1215.90V361.00H1219.20V360.62H1222.50V361.89H1225.80V363.67H1229.10V364.40H1232.40V364.94H1235.70V365.14H1239.00V365.30H1242.30V365.47H1245.60V365.70H1248.90V365.75H1252.20V365.85H1255.50V365.94H1258.80V366.03H1262.10V366.12H1265.40V366.21H1268.70V366.30H1272.00V366.40H1275.30V366.49H1278.60V366.58H1281.90V366.67H1285.20V366.76H1288.50V366.85H1291.80V366.97H1295.10V365.50 Z" fill="#808080" fill-opacity="0.2" stroke="none"/>
<path d="M971.70 364.94H975.00V365.10H978.30V365.31H981.60V365.51H984.90V365.72H988.20V365.93H991.50V366.21H994.80V366.15H998.10V366.05H1001.40V365.95H1004.70V365.85H1008.00V365.75H1011.30V365.66H1014.60V365.56H1017.90V365.45H1021.20V365.39H1024.50V365.32H1027.80V365.26H1031.10V365.19H1034.40V365.12H1037.70V365.06H1041.00V364.99H1044.30V364.94H1047.60V364.84H1050.90V364.76H1054.20V364.68H1057.50V364.59H1060.80V364.51H1064.10V364.43H1067.40V363.75H1070.70V363.09H1074.00V362.40H1077.30V361.87H1080.60V361.13H1083.90V360.77H1087.20V360.22H1090.50V359.86H1093.80V358.83H1097.10V358.08H1100.40V356.72H1103.70V356.04H1107.00V349.68H1110.30V339.51H1113.60V309.00H1116.90V288.66H1120.20V263.24H1123.50V237.81H1126.80V189.50H1130.10V171.70H1133.40V158.99H1136.70V162.80H1140.00V166.62H1143.30V176.79H1146.60V189.50H1149.90V204.76H1153.20V247.98H1156.50V270.86H1159.80V291.21H1163.10V331.89H1166.40V345.87H1169.70V354.77H1173.00V359.86H1176.30V360.66H1179.60V361.89H1182.90V361.99H1186.20V362.15H1189.50V362.40H1192.80V362.48H1196.10V362.65H1199.40V362.81H1202.70V362.91H1206.00V362.43H1209.30V362.10H1212.60V361.89H1215.90V361.00H1219.20V360.62H1222.50V361.89H1225.80V363.67H1229.10V364.40H1232.40V364.94H1235.70V365.14H1239.00V365.30H1242.30V365.47H1245.60V365.70H1248.90V365.75H1252.20V365.85H1255.50V365.94H1258.80V366.03H1262.10V366.12H1265.40V366.21H1268.70V366.30H1272.00V366.40H1275.30V366.49H1278.60V366.58H1281.90V366.67H1285.20V366.76H1288.50V366.85H1291.80V366.97H1295.10" fill="none" stroke="#000" stroke-width="2.60" stroke-linejoin="miter"/>
<path d="M970.00 365.50 L970.83 365.50 L971.65 365.50 L972.48 365.50 L973.30 365.50 L974.12 365.50 L974.95 365.50 L975.77 365.50 L976.60 365.50 L977.42 365.50 L978.25 365.50 L979.08 365.50 L979.90 365.50 L980.73 365.50 L981.55 365.50 L982.38 365.50 L983.20 365.50 L984.02 365.50 L984.85 365.50 L985.67 365.50 L986.50 365.50 L987.33 365.50 L988.15 365.50 L988.98 365.50 L989.80 365.50 L990.62 365.50 L991.45 365.50 L992.27 365.50 L993.10 365.50 L993.92 365.50 L994.75 365.50 L995.58 365.50 L996.40 365.50 L997.23 365.50 L998.05 365.50 L998.88 365.50 L999.70 365.50 L1000.52 365.50 L1001.35 365.50 L1002.17 365.50 L1003.00 365.50 L1003.83 365.50 L1004.65 365.50 L1005.48 365.50 L1006.30 365.50 L1007.12 365.50 L1007.95 365.50 L1008.77 365.50 L1009.60 365.50 L1010.42 365.50 L1011.25 365.50 L1012.08 365.50 L1012.90 365.50 L1013.73 365.50 L1014.55 365.50 L1015.38 365.50 L1016.20 365.50 L1017.02 365.50 L1017.85 365.50 L1018.67 365.50 L1019.50 365.50 L1020.33 365.50 L1021.15 365.50 L1021.98 365.50 L1022.80 365.50 L1023.62 365.50 L1024.45 365.50 L1025.28 365.50 L1026.10 365.50 L1026.92 365.50 L1027.75 365.50 L1028.58 365.50 L1029.40 365.50 L1030.22 365.50 L1031.05 365.50 L1031.88 365.50 L1032.70 365.50 L1033.53 365.50 L1034.35 365.50 L1035.17 365.50 L1036.00 365.50 L1036.83 365.50 L1037.65 365.50 L1038.47 365.50 L1039.30 365.50 L1040.12 365.50 L1040.95 365.50 L1041.78 365.50 L1042.60 365.50 L1043.42 365.50 L1044.25 365.50 L1045.08 365.50 L1045.90 365.50 L1046.72 365.50 L1047.55 365.50 L1048.38 365.50 L1049.20 365.50 L1050.03 365.50 L1050.85 365.50 L1051.67 365.50 L1052.50 365.50 L1053.33 365.50 L1054.15 365.50 L1054.97 365.50 L1055.80 365.50 L1056.62 365.50 L1057.45 365.50 L1058.28 365.50 L1059.10 365.50 L1059.92 365.50 L1060.75 365.50 L1061.58 365.50 L1062.40 365.50 L1063.22 365.50 L1064.05 365.50 L1064.88 365.50 L1065.70 365.50 L1066.53 365.50 L1067.35 365.50 L1068.17 365.49 L1069.00 365.49 L1069.83 365.49 L1070.65 365.48 L1071.47 365.48 L1072.30 365.47 L1073.12 365.46 L1073.95 365.44 L1074.78 365.42 L1075.60 365.40 L1076.42 365.36 L1077.25 365.32 L1078.08 365.27 L1078.90 365.20 L1079.72 365.13 L1080.55 365.03 L1081.38 364.92 L1082.20 364.79 L1083.03 364.64 L1083.85 364.46 L1084.67 364.26 L1085.50 364.04 L1086.33 363.79 L1087.15 363.52 L1087.97 363.23 L1088.80 362.91 L1089.62 362.58 L1090.45 362.23 L1091.28 361.87 L1092.10 361.50 L1092.92 361.12 L1093.75 360.72 L1094.58 360.32 L1095.40 359.91 L1096.22 359.48 L1097.05 359.03 L1097.88 358.55 L1098.70 358.03 L1099.53 357.47 L1100.35 356.83 L1101.17 356.12 L1102.00 355.30 L1102.83 354.37 L1103.65 353.30 L1104.47 352.06 L1105.30 350.64 L1106.12 349.01 L1106.95 347.16 L1107.78 345.05 L1108.60 342.68 L1109.42 340.02 L1110.25 337.06 L1111.08 333.79 L1111.90 330.18 L1112.72 326.25 L1113.55 321.97 L1114.38 317.35 L1115.20 312.39 L1116.03 307.10 L1116.85 301.49 L1117.67 295.58 L1118.50 289.37 L1119.33 282.91 L1120.15 276.21 L1120.97 269.31 L1121.80 262.25 L1122.62 255.08 L1123.45 247.83 L1124.28 240.57 L1125.10 233.35 L1125.92 226.22 L1126.75 219.24 L1127.58 212.48 L1128.40 205.99 L1129.22 199.83 L1130.05 194.07 L1130.88 188.76 L1131.70 183.96 L1132.53 179.71 L1133.35 176.06 L1134.17 173.05 L1135.00 170.71 L1135.83 169.06 L1136.65 168.13 L1137.47 167.92 L1138.30 168.43 L1139.12 169.67 L1139.95 171.62 L1140.78 174.25 L1141.60 177.53 L1142.42 181.44 L1143.25 185.93 L1144.08 190.96 L1144.90 196.47 L1145.72 202.40 L1146.55 208.70 L1147.38 215.32 L1148.20 222.18 L1149.03 229.23 L1149.85 236.42 L1150.67 243.67 L1151.50 250.93 L1152.33 258.16 L1153.15 265.31 L1153.97 272.32 L1154.80 279.15 L1155.62 285.78 L1156.45 292.18 L1157.28 298.30 L1158.10 304.14 L1158.92 309.68 L1159.75 314.91 L1160.58 319.81 L1161.40 324.39 L1162.22 328.65 L1163.05 332.59 L1163.88 336.21 L1164.70 339.54 L1165.53 342.56 L1166.35 345.32 L1167.17 347.80 L1168.00 350.04 L1168.83 352.04 L1169.65 353.83 L1170.47 355.41 L1171.30 356.82 L1172.12 358.05 L1172.95 359.14 L1173.78 360.08 L1174.60 360.90 L1175.42 361.62 L1176.25 362.23 L1177.08 362.76 L1177.90 363.21 L1178.72 363.59 L1179.55 363.91 L1180.38 364.19 L1181.20 364.42 L1182.03 364.61 L1182.85 364.78 L1183.67 364.91 L1184.50 365.02 L1185.33 365.11 L1186.15 365.19 L1186.97 365.25 L1187.80 365.30 L1188.62 365.34 L1189.45 365.37 L1190.28 365.40 L1191.10 365.42 L1191.92 365.44 L1192.75 365.45 L1193.58 365.46 L1194.40 365.47 L1195.22 365.48 L1196.05 365.48 L1196.88 365.49 L1197.70 365.49 L1198.53 365.49 L1199.35 365.49 L1200.17 365.50 L1201.00 365.50 L1201.83 365.50 L1202.65 365.50 L1203.47 365.50 L1204.30 365.50 L1205.12 365.50 L1205.95 365.50 L1206.78 365.50 L1207.60 365.50 L1208.42 365.50 L1209.25 365.50 L1210.08 365.50 L1210.90 365.50 L1211.72 365.50 L1212.55 365.50 L1213.38 365.50 L1214.20 365.50 L1215.03 365.50 L1215.85 365.50 L1216.67 365.50 L1217.50 365.50 L1218.33 365.50 L1219.15 365.50 L1219.97 365.50 L1220.80 365.50 L1221.62 365.50 L1222.45 365.50 L1223.28 365.50 L1224.10 365.50 L1224.92 365.50 L1225.75 365.50 L1226.58 365.50 L1227.40 365.50 L1228.22 365.50 L1229.05 365.50 L1229.88 365.50 L1230.70 365.50 L1231.53 365.50 L1232.35 365.50 L1233.17 365.50 L1234.00 365.50 L1234.83 365.50 L1235.65 365.50 L1236.47 365.50 L1237.30 365.50 L1238.12 365.50 L1238.95 365.50 L1239.78 365.50 L1240.60 365.50 L1241.42 365.50 L1242.25 365.50 L1243.08 365.50 L1243.90 365.50 L1244.72 365.50 L1245.55 365.50 L1246.38 365.50 L1247.20 365.50 L1248.03 365.50 L1248.85 365.50 L1249.67 365.50 L1250.50 365.50 L1251.33 365.50 L1252.15 365.50 L1252.97 365.50 L1253.80 365.50 L1254.62 365.50 L1255.45 365.50 L1256.28 365.50 L1257.10 365.50 L1257.92 365.50 L1258.75 365.50 L1259.58 365.50 L1260.40 365.50 L1261.22 365.50 L1262.05 365.50 L1262.88 365.50 L1263.70 365.50 L1264.53 365.50 L1265.35 365.50 L1266.17 365.50 L1267.00 365.50 L1267.83 365.50 L1268.65 365.50 L1269.47 365.50 L1270.30 365.50 L1271.12 365.50 L1271.95 365.50 L1272.78 365.50 L1273.60 365.50 L1274.42 365.50 L1275.25 365.50 L1276.08 365.50 L1276.90 365.50 L1277.72 365.50 L1278.55 365.50 L1279.38 365.49 L1280.20 365.49 L1281.03 365.48 L1281.85 365.47 L1282.67 365.46 L1283.50 365.44 L1284.33 365.42 L1285.15 365.38 L1285.97 365.34 L1286.80 365.28 L1287.62 365.20 L1288.45 365.11 L1289.28 364.99 L1290.10 364.86 L1290.92 364.70 L1291.75 364.53 L1292.58 364.34 L1293.40 364.13 L1294.22 363.93 L1295.05 363.72 L1295.88 363.53 L1296.70 363.35 L1297.53 363.20 L1298.35 363.09 L1299.17 363.02 L1300.00 363.00" fill="none" stroke="#1f77b4" stroke-width="2.50"/>
<path d="M970.00 365.50 L970.83 365.50 L971.65 365.50 L972.48 365.50 L973.30 365.50 L974.12 365.50 L974.95 365.50 L975.77 365.50 L976.60 365.50 L977.42 365.50 L978.25 365.50 L979.08 365.50 L979.90 365.50 L980.73 365.50 L981.55 365.50 L982.38 365.50 L983.20 365.50 L984.02 365.50 L984.85 365.50 L985.67 365.50 L986.50 365.50 L987.33 365.50 L988.15 365.50 L988.98 365.50 L989.80 365.50 L990.62 365.50 L991.45 365.50 L992.27 365.50 L993.10 365.50 L993.92 365.50 L994.75 365.50 L995.58 365.50 L996.40 365.50 L997.23 365.50 L998.05 365.50 L998.88 365.50 L999.70 365.50 L1000.52 365.50 L1001.35 365.50 L1002.17 365.50 L1003.00 365.50 L1003.83 365.50 L1004.65 365.50 L1005.48 365.50 L1006.30 365.50 L1007.12 365.50 L1007.95 365.50 L1008.77 365.50 L1009.60 365.50 L1010.42 365.50 L1011.25 365.50 L1012.08 365.50 L1012.90 365.50 L1013.73 365.50 L1014.55 365.50 L1015.38 365.50 L1016.20 365.50 L1017.02 365.50 L1017.85 365.50 L1018.67 365.50 L1019.50 365.50 L1020.33 365.50 L1021.15 365.50 L1021.98 365.50 L1022.80 365.50 L1023.62 365.50 L1024.45 365.50 L1025.28 365.50 L1026.10 365.50 L1026.92 365.50 L1027.75 365.50 L1028.58 365.50 L1029.40 365.50 L1030.22 365.50 L1031.05 365.50 L1031.88 365.50 L1032.70 365.50 L1033.53 365.50 L1034.35 365.50 L1035.17 365.50 L1036.00 365.50 L1036.83 365.50 L1037.65 365.50 L1038.47 365.50 L1039.30 365.50 L1040.12 365.50 L1040.95 365.50 L1041.78 365.50 L1042.60 365.50 L1043.42 365.50 L1044.25 365.50 L1045.08 365.50 L1045.90 365.50 L1046.72 365.50 L1047.55 365.50 L1048.38 365.50 L1049.20 365.50 L1050.03 365.50 L1050.85 365.50 L1051.67 365.50 L1052.50 365.50 L1053.33 365.50 L1054.15 365.50 L1054.97 365.50 L1055.80 365.50 L1056.62 365.50 L1057.45 365.50 L1058.28 365.50 L1059.10 365.50 L1059.92 365.50 L1060.75 365.50 L1061.58 365.50 L1062.40 365.50 L1063.22 365.50 L1064.05 365.50 L1064.88 365.50 L1065.70 365.50 L1066.53 365.50 L1067.35 365.50 L1068.17 365.50 L1069.00 365.50 L1069.83 365.50 L1070.65 365.50 L1071.47 365.50 L1072.30 365.50 L1073.12 365.50 L1073.95 365.50 L1074.78 365.49 L1075.60 365.49 L1076.42 365.49 L1077.25 365.49 L1078.08 365.48 L1078.90 365.48 L1079.72 365.47 L1080.55 365.47 L1081.38 365.46 L1082.20 365.45 L1083.03 365.43 L1083.85 365.41 L1084.67 365.39 L1085.50 365.36 L1086.33 365.32 L1087.15 365.28 L1087.97 365.22 L1088.80 365.16 L1089.62 365.08 L1090.45 364.98 L1091.28 364.86 L1092.10 364.71 L1092.92 364.54 L1093.75 364.33 L1094.58 364.08 L1095.40 363.78 L1096.22 363.43 L1097.05 363.02 L1097.88 362.54 L1098.70 361.98 L1099.53 361.33 L1100.35 360.57 L1101.17 359.70 L1102.00 358.69 L1102.83 357.55 L1103.65 356.24 L1104.47 354.77 L1105.30 353.10 L1106.12 351.22 L1106.95 349.12 L1107.78 346.78 L1108.60 344.18 L1109.42 341.31 L1110.25 338.16 L1111.08 334.71 L1111.90 330.96 L1112.72 326.88 L1113.55 322.49 L1114.38 317.77 L1115.20 312.73 L1116.03 307.37 L1116.85 301.70 L1117.67 295.74 L1118.50 289.50 L1119.33 283.00 L1120.15 276.28 L1120.97 269.36 L1121.80 262.29 L1122.62 255.10 L1123.45 247.85 L1124.28 240.59 L1125.10 233.36 L1125.92 226.22 L1126.75 219.24 L1127.58 212.48 L1128.40 205.99 L1129.22 199.83 L1130.05 194.07 L1130.88 188.77 L1131.70 183.96 L1132.53 179.71 L1133.35 176.06 L1134.17 173.05 L1135.00 170.71 L1135.83 169.06 L1136.65 168.13 L1137.47 167.92 L1138.30 168.43 L1139.12 169.67 L1139.95 171.62 L1140.78 174.25 L1141.60 177.53 L1142.42 181.44 L1143.25 185.93 L1144.08 190.96 L1144.90 196.47 L1145.72 202.40 L1146.55 208.70 L1147.38 215.32 L1148.20 222.18 L1149.03 229.23 L1149.85 236.42 L1150.67 243.67 L1151.50 250.93 L1152.33 258.16 L1153.15 265.31 L1153.97 272.32 L1154.80 279.15 L1155.62 285.78 L1156.45 292.18 L1157.28 298.30 L1158.10 304.14 L1158.92 309.68 L1159.75 314.91 L1160.58 319.81 L1161.40 324.39 L1162.22 328.65 L1163.05 332.59 L1163.88 336.21 L1164.70 339.54 L1165.53 342.56 L1166.35 345.32 L1167.17 347.80 L1168.00 350.04 L1168.83 352.04 L1169.65 353.83 L1170.47 355.41 L1171.30 356.82 L1172.12 358.05 L1172.95 359.14 L1173.78 360.08 L1174.60 360.90 L1175.42 361.62 L1176.25 362.23 L1177.08 362.76 L1177.90 363.21 L1178.72 363.59 L1179.55 363.91 L1180.38 364.19 L1181.20 364.42 L1182.03 364.61 L1182.85 364.78 L1183.67 364.91 L1184.50 365.02 L1185.33 365.11 L1186.15 365.19 L1186.97 365.25 L1187.80 365.30 L1188.62 365.34 L1189.45 365.37 L1190.28 365.40 L1191.10 365.42 L1191.92 365.44 L1192.75 365.45 L1193.58 365.46 L1194.40 365.47 L1195.22 365.48 L1196.05 365.48 L1196.88 365.49 L1197.70 365.49 L1198.53 365.49 L1199.35 365.49 L1200.17 365.50 L1201.00 365.50 L1201.83 365.50 L1202.65 365.50 L1203.47 365.50 L1204.30 365.50 L1205.12 365.50 L1205.95 365.50 L1206.78 365.50 L1207.60 365.50 L1208.42 365.50 L1209.25 365.50 L1210.08 365.50 L1210.90 365.50 L1211.72 365.50 L1212.55 365.50 L1213.38 365.50 L1214.20 365.50 L1215.03 365.50 L1215.85 365.50 L1216.67 365.50 L1217.50 365.50 L1218.33 365.50 L1219.15 365.50 L1219.97 365.50 L1220.80 365.50 L1221.62 365.50 L1222.45 365.50 L1223.28 365.50 L1224.10 365.50 L1224.92 365.50 L1225.75 365.50 L1226.58 365.50 L1227.40 365.50 L1228.22 365.50 L1229.05 365.50 L1229.88 365.50 L1230.70 365.50 L1231.53 365.50 L1232.35 365.50 L1233.17 365.50 L1234.00 365.50 L1234.83 365.50 L1235.65 365.50 L1236.47 365.50 L1237.30 365.50 L1238.12 365.50 L1238.95 365.50 L1239.78 365.50 L1240.60 365.50 L1241.42 365.50 L1242.25 365.50 L1243.08 365.50 L1243.90 365.50 L1244.72 365.50 L1245.55 365.50 L1246.38 365.50 L1247.20 365.50 L1248.03 365.50 L1248.85 365.50 L1249.67 365.50 L1250.50 365.50 L1251.33 365.50 L1252.15 365.50 L1252.97 365.50 L1253.80 365.50 L1254.62 365.50 L1255.45 365.50 L1256.28 365.50 L1257.10 365.50 L1257.92 365.50 L1258.75 365.50 L1259.58 365.50 L1260.40 365.50 L1261.22 365.50 L1262.05 365.50 L1262.88 365.50 L1263.70 365.50 L1264.53 365.50 L1265.35 365.50 L1266.17 365.50 L1267.00 365.50 L1267.83 365.50 L1268.65 365.50 L1269.47 365.50 L1270.30 365.50 L1271.12 365.50 L1271.95 365.50 L1272.78 365.50 L1273.60 365.50 L1274.42 365.50 L1275.25 365.50 L1276.08 365.50 L1276.90 365.50 L1277.72 365.50 L1278.55 365.50 L1279.38 365.50 L1280.20 365.50 L1281.03 365.50 L1281.85 365.50 L1282.67 365.50 L1283.50 365.50 L1284.33 365.50 L1285.15 365.50 L1285.97 365.50 L1286.80 365.50 L1287.62 365.50 L1288.45 365.50 L1289.28 365.50 L1290.10 365.50 L1290.92 365.50 L1291.75 365.50 L1292.58 365.50 L1293.40 365.50 L1294.22 365.50 L1295.05 365.50 L1295.88 365.50 L1296.70 365.50 L1297.53 365.50 L1298.35 365.50 L1299.17 365.50 L1300.00 365.50" fill="none" stroke="#d62728" stroke-width="2.50"/>
</g>
<rect x="975.00" y="75.60" width="320.00" height="319.60" fill="none" stroke="#000" stroke-width="2.50"/>
<text x="1078.90" y="435.60" font-size="29.00" textLength="92.72" lengthAdjust="spacingAndGlyphs" text-anchor="middle">85.520</text>
<text x="1273.10" y="435.60" font-size="29.00" textLength="92.72" lengthAdjust="spacingAndGlyphs" text-anchor="middle">85.560</text>
<text x="954.40" y="375.00" font-size="29.00" textLength="42.14" lengthAdjust="spacingAndGlyphs" text-anchor="end">0.0</text>
<text x="954.40" y="302.40" font-size="29.00" textLength="42.14" lengthAdjust="spacingAndGlyphs" text-anchor="end">0.5</text>
<text x="954.40" y="229.80" font-size="29.00" textLength="42.14" lengthAdjust="spacingAndGlyphs" text-anchor="end">1.0</text>
<text x="954.40" y="157.20" font-size="29.00" textLength="42.14" lengthAdjust="spacingAndGlyphs" text-anchor="end">1.5</text>
<text x="954.40" y="84.60" font-size="29.00" textLength="42.14" lengthAdjust="spacingAndGlyphs" text-anchor="end">2.0</text>
<path d="M1078.90 395.20V407.00M1078.90 75.60V63.80M1273.10 395.20V407.00M1273.10 75.60V63.80M975.00 365.50H963.20M1295.00 365.50H1306.80M975.00 292.90H963.20M1295.00 292.90H1306.80M975.00 220.30H963.20M1295.00 220.30H1306.80M975.00 147.70H963.20M1295.00 147.70H1306.80M975.00 75.10H963.20M1295.00 75.10H1306.80" stroke="#000" stroke-width="2.20" fill="none"/>
<path d="M981.80 395.20V399.80M981.80 75.60V71.00M1030.35 395.20V399.80M1030.35 75.60V71.00M1127.45 395.20V399.80M1127.45 75.60V71.00M1176.00 395.20V399.80M1176.00 75.60V71.00M1224.55 395.20V399.80M1224.55 75.60V71.00M975.00 394.54H970.40M1295.00 394.54H1299.60M975.00 380.02H970.40M1295.00 380.02H1299.60M975.00 350.98H970.40M1295.00 350.98H1299.60M975.00 336.46H970.40M1295.00 336.46H1299.60M975.00 321.94H970.40M1295.00 321.94H1299.60M975.00 307.42H970.40M1295.00 307.42H1299.60M975.00 278.38H970.40M1295.00 278.38H1299.60M975.00 263.86H970.40M1295.00 263.86H1299.60M975.00 249.34H970.40M1295.00 249.34H1299.60M975.00 234.82H970.40M1295.00 234.82H1299.60M975.00 205.78H970.40M1295.00 205.78H1299.60M975.00 191.26H970.40M1295.00 191.26H1299.60M975.00 176.74H970.40M1295.00 176.74H1299.60M975.00 162.22H970.40M1295.00 162.22H1299.60M975.00 133.18H970.40M1295.00 133.18H1299.60M975.00 118.66H970.40M1295.00 118.66H1299.60M975.00 104.14H970.40M1295.00 104.14H1299.60M975.00 89.62H970.40M1295.00 89.62H1299.60" stroke="#000" stroke-width="1.80" fill="none"/>
<g font-size="16">
<text transform="translate(258.10 765.90) rotate(-90)" fill="#0000b0" textLength="74.79" lengthAdjust="spacingAndGlyphs" text-anchor="start"><tspan font-size="16.00" dy="0.00">HO</tspan><tspan font-size="11.20" dy="-6.24">13</tspan><tspan font-size="16.00" dy="6.24">CO</tspan><tspan font-size="11.20" dy="-6.24">+</tspan></text>
<text transform="translate(269.60 760.80) rotate(-90)" fill="#0000b0" textLength="63.30" lengthAdjust="spacingAndGlyphs" text-anchor="start"><tspan font-size="16.00" dy="0.00">C</tspan><tspan font-size="11.20" dy="3.04">2</tspan><tspan font-size="16.00" dy="-3.04">H</tspan><tspan font-size="11.20" dy="3.04">5</tspan><tspan font-size="16.00" dy="-3.04">CN</tspan></text>
<text transform="translate(283.60 689.60) rotate(-90)" fill="#0000b0" textLength="129.59" lengthAdjust="spacingAndGlyphs" text-anchor="start"><tspan font-size="16.00" dy="0.00">aGg′—(CH</tspan><tspan font-size="11.20" dy="3.04">2</tspan><tspan font-size="16.00" dy="-3.04">OH)</tspan><tspan font-size="11.20" dy="3.04">2</tspan></text>
<text transform="translate(340.80 765.90) rotate(-90)" fill="#0000b0" textLength="72.52" lengthAdjust="spacingAndGlyphs" text-anchor="start"><tspan font-size="16.00" dy="0.00">C</tspan><tspan font-size="11.20" dy="3.04">2</tspan><tspan font-size="16.00" dy="-3.04">H</tspan><tspan font-size="11.20" dy="3.04">3</tspan><tspan font-size="16.00" dy="-3.04">NH</tspan><tspan font-size="11.20" dy="3.04">2</tspan></text>
</g>
<g clip-path="url(#cp3)">
<path d="M134.25 781.70V781.70H137.25V781.66H140.25V781.61H143.25V781.56H146.25V781.51H149.25V781.46H152.25V781.41H155.25V781.36H158.25V781.31H161.25V781.26H164.25V781.21H167.25V781.16H170.25V781.11H173.25V781.06H176.25V781.01H179.25V780.94H182.25V780.88H185.25V780.78H188.25V780.68H191.25V780.58H194.25V780.43H197.25V780.60H200.25V780.90H203.25V781.20H206.25V781.45H209.25V781.38H212.25V781.32H215.25V781.26H218.25V781.20H221.25V781.14H224.25V781.08H227.25V781.02H230.25V780.94H233.25V780.53H236.25V779.93H239.25V779.33H242.25V778.73H245.25V778.40H248.25V776.23H251.25V774.58H254.25V773.68H257.25V772.68H260.25V772.04H263.25V770.41H266.25V769.50H269.25V765.68H272.25V755.51H275.25V740.26H278.25V722.46H281.25V684.32H284.25V661.44H287.25V638.56H290.25V613.13H293.25V590.25H296.25V576.26H299.25V587.70H302.25V595.33H305.25V608.04H308.25V628.38H311.25V669.07H314.25V689.41H317.25V709.75H320.25V730.09H323.25V747.89H326.25V760.60H329.25V773.31H332.25V774.54H335.25V776.62H338.25V777.08H341.25V777.58H344.25V777.89H347.25V778.45H350.25V778.91H353.25V779.16H356.25V779.46H359.25V779.67H362.25V779.67H365.25V779.67H368.25V779.67H371.25V779.33H374.25V778.95H377.25V778.40H380.25V778.56H383.25V778.91H386.25V779.40H389.25V780.00H392.25V780.43H395.25V780.54H398.25V780.63H401.25V780.71H404.25V780.80H407.25V780.88H410.25V780.94H413.25V780.99H416.25V781.02H419.25V781.05H422.25V781.09H425.25V781.12H428.25V781.15H431.25V781.19H434.25V781.22H437.25V781.25H440.25V781.29H443.25V781.32H446.25V781.35H449.25V781.39H452.25V781.42H455.25V781.45H458.25V781.70 Z" fill="#808080" fill-opacity="0.2" stroke="none"/>
<path d="M134.25 781.70H137.25V781.66H140.25V781.61H143.25V781.56H146.25V781.51H149.25V781.46H152.25V781.41H155.25V781.36H158.25V781.31H161.25V781.26H164.25V781.21H167.25V781.16H170.25V781.11H173.25V781.06H176.25V781.01H179.25V780.94H182.25V780.88H185.25V780.78H188.25V780.68H191.25V780.58H194.25V780.43H197.25V780.60H200.25V780.90H203.25V781.20H206.25V781.45H209.25V781.38H212.25V781.32H215.25V781.26H218.25V781.20H221.25V781.14H224.25V781.08H227.25V781.02H230.25V780.94H233.25V780.53H236.25V779.93H239.25V779.33H242.25V778.73H245.25V778.40H248.25V776.23H251.25V774.58H254.25V773.68H257.25V772.68H260.25V772.04H263.25V770.41H266.25V769.50H269.25V765.68H272.25V755.51H275.25V740.26H278.25V722.46H281.25V684.32H284.25V661.44H287.25V638.56H290.25V613.13H293.25V590.25H296.25V576.26H299.25V587.70H302.25V595.33H305.25V608.04H308.25V628.38H311.25V669.07H314.25V689.41H317.25V709.75H320.25V730.09H323.25V747.89H326.25V760.60H329.25V773.31H332.25V774.54H335.25V776.62H338.25V777.08H341.25V777.58H344.25V777.89H347.25V778.45H350.25V778.91H353.25V779.16H356.25V779.46H359.25V779.67H362.25V779.67H365.25V779.67H368.25V779.67H371.25V779.33H374.25V778.95H377.25V778.40H380.25V778.56H383.25V778.91H386.25V779.40H389.25V780.00H392.25V780.43H395.25V780.54H398.25V780.63H401.25V780.71H404.25V780.80H407.25V780.88H410.25V780.94H413.25V780.99H416.25V781.02H419.25V781.05H422.25V781.09H425.25V781.12H428.25V781.15H431.25V781.19H434.25V781.22H437.25V781.25H440.25V781.29H443.25V781.32H446.25V781.35H449.25V781.39H452.25V781.42H455.25V781.45H458.25" fill="none" stroke="#000" stroke-width="2.60" stroke-linejoin="miter"/>
<path d="M132.25 781.70 L133.07 781.70 L133.90 781.70 L134.72 781.70 L135.55 781.70 L136.37 781.70 L137.20 781.70 L138.02 781.70 L138.84 781.70 L139.67 781.70 L140.49 781.70 L141.32 781.70 L142.14 781.70 L142.97 781.70 L143.79 781.70 L144.62 781.70 L145.44 781.70 L146.26 781.70 L147.09 781.70 L147.91 781.70 L148.74 781.70 L149.56 781.70 L150.39 781.70 L151.21 781.70 L152.03 781.70 L152.86 781.70 L153.68 781.70 L154.51 781.70 L155.33 781.70 L156.16 781.70 L156.98 781.70 L157.81 781.70 L158.63 781.70 L159.45 781.70 L160.28 781.70 L161.10 781.70 L161.93 781.70 L162.75 781.70 L163.58 781.70 L164.40 781.70 L165.22 781.70 L166.05 781.70 L166.87 781.70 L167.70 781.70 L168.52 781.70 L169.35 781.70 L170.17 781.70 L171.00 781.70 L171.82 781.70 L172.64 781.70 L173.47 781.70 L174.29 781.70 L175.12 781.70 L175.94 781.70 L176.77 781.70 L177.59 781.70 L178.41 781.70 L179.24 781.70 L180.06 781.70 L180.89 781.70 L181.71 781.70 L182.54 781.70 L183.36 781.70 L184.19 781.70 L185.01 781.70 L185.83 781.70 L186.66 781.70 L187.48 781.70 L188.31 781.70 L189.13 781.70 L189.96 781.70 L190.78 781.70 L191.60 781.70 L192.43 781.70 L193.25 781.70 L194.08 781.70 L194.90 781.70 L195.73 781.70 L196.55 781.70 L197.38 781.70 L198.20 781.70 L199.02 781.70 L199.85 781.70 L200.67 781.70 L201.50 781.70 L202.32 781.70 L203.15 781.70 L203.97 781.70 L204.80 781.70 L205.62 781.70 L206.44 781.70 L207.27 781.70 L208.09 781.70 L208.92 781.70 L209.74 781.70 L210.57 781.70 L211.39 781.70 L212.21 781.70 L213.04 781.70 L213.86 781.70 L214.69 781.70 L215.51 781.70 L216.34 781.70 L217.16 781.70 L217.99 781.70 L218.81 781.70 L219.63 781.70 L220.46 781.70 L221.28 781.70 L222.11 781.70 L222.93 781.70 L223.76 781.70 L224.58 781.70 L225.40 781.70 L226.23 781.70 L227.05 781.70 L227.88 781.69 L228.70 781.69 L229.53 781.69 L230.35 781.68 L231.18 781.67 L232.00 781.66 L232.82 781.64 L233.65 781.62 L234.47 781.59 L235.30 781.56 L236.12 781.51 L236.95 781.45 L237.77 781.37 L238.59 781.27 L239.42 781.16 L240.24 781.01 L241.07 780.84 L241.89 780.64 L242.72 780.40 L243.54 780.12 L244.37 779.81 L245.19 779.45 L246.01 779.06 L246.84 778.63 L247.66 778.17 L248.49 777.68 L249.31 777.16 L250.14 776.64 L250.96 776.11 L251.78 775.58 L252.61 775.07 L253.43 774.58 L254.26 774.13 L255.08 773.71 L255.91 773.35 L256.73 773.03 L257.56 772.77 L258.38 772.55 L259.20 772.38 L260.03 772.24 L260.85 772.12 L261.68 772.00 L262.50 771.87 L263.33 771.70 L264.15 771.47 L264.97 771.15 L265.80 770.72 L266.62 770.15 L267.45 769.42 L268.27 768.49 L269.10 767.35 L269.92 765.97 L270.75 764.33 L271.57 762.40 L272.39 760.17 L273.22 757.63 L274.04 754.74 L274.87 751.51 L275.69 747.92 L276.52 743.96 L277.34 739.64 L278.16 734.94 L278.99 729.87 L279.81 724.43 L280.64 718.64 L281.46 712.52 L282.29 706.08 L283.11 699.35 L283.94 692.35 L284.76 685.13 L285.58 677.73 L286.41 670.20 L287.23 662.58 L288.06 654.94 L288.88 647.32 L289.71 639.81 L290.53 632.45 L291.35 625.33 L292.18 618.50 L293.00 612.04 L293.83 606.00 L294.65 600.46 L295.48 595.48 L296.30 591.10 L297.12 587.38 L297.95 584.36 L298.77 582.07 L299.60 580.54 L300.42 579.78 L301.25 579.82 L302.07 580.63 L302.90 582.23 L303.72 584.58 L304.54 587.67 L305.37 591.44 L306.19 595.88 L307.02 600.91 L307.84 606.49 L308.67 612.56 L309.49 619.06 L310.31 625.91 L311.14 633.06 L311.96 640.43 L312.79 647.95 L313.61 655.57 L314.44 663.21 L315.26 670.82 L316.09 678.34 L316.91 685.72 L317.73 692.90 L318.56 699.86 L319.38 706.55 L320.21 712.93 L321.03 719.00 L321.86 724.72 L322.68 730.07 L323.50 735.06 L324.33 739.68 L325.15 743.92 L325.98 747.79 L326.80 751.29 L327.63 754.46 L328.45 757.29 L329.28 759.81 L330.10 762.04 L330.92 764.01 L331.75 765.75 L332.57 767.28 L333.40 768.62 L334.22 769.81 L335.05 770.87 L335.87 771.83 L336.69 772.70 L337.52 773.49 L338.34 774.24 L339.17 774.93 L339.99 775.59 L340.82 776.21 L341.64 776.80 L342.47 777.36 L343.29 777.89 L344.11 778.39 L344.94 778.84 L345.76 779.26 L346.59 779.64 L347.41 779.98 L348.24 780.28 L349.06 780.54 L349.88 780.76 L350.71 780.95 L351.53 781.11 L352.36 781.24 L353.18 781.35 L354.01 781.43 L354.83 781.50 L355.66 781.55 L356.48 781.59 L357.30 781.62 L358.13 781.64 L358.95 781.66 L359.78 781.67 L360.60 781.68 L361.43 781.69 L362.25 781.69 L363.07 781.69 L363.90 781.70 L364.72 781.70 L365.55 781.70 L366.37 781.70 L367.20 781.70 L368.02 781.70 L368.85 781.70 L369.67 781.70 L370.49 781.70 L371.32 781.70 L372.14 781.70 L372.97 781.70 L373.79 781.70 L374.62 781.70 L375.44 781.70 L376.26 781.70 L377.09 781.70 L377.91 781.70 L378.74 781.70 L379.56 781.70 L380.39 781.70 L381.21 781.70 L382.04 781.70 L382.86 781.70 L383.68 781.70 L384.51 781.70 L385.33 781.70 L386.16 781.70 L386.98 781.70 L387.81 781.70 L388.63 781.70 L389.45 781.70 L390.28 781.70 L391.10 781.70 L391.93 781.70 L392.75 781.70 L393.58 781.70 L394.40 781.70 L395.23 781.70 L396.05 781.70 L396.87 781.70 L397.70 781.70 L398.52 781.70 L399.35 781.70 L400.17 781.70 L401.00 781.70 L401.82 781.70 L402.64 781.70 L403.47 781.70 L404.29 781.70 L405.12 781.70 L405.94 781.70 L406.77 781.70 L407.59 781.70 L408.42 781.70 L409.24 781.70 L410.06 781.70 L410.89 781.70 L411.71 781.70 L412.54 781.70 L413.36 781.70 L414.19 781.70 L415.01 781.70 L415.83 781.70 L416.66 781.70 L417.48 781.70 L418.31 781.70 L419.13 781.70 L419.96 781.70 L420.78 781.70 L421.61 781.70 L422.43 781.70 L423.25 781.70 L424.08 781.70 L424.90 781.70 L425.73 781.70 L426.55 781.70 L427.38 781.70 L428.20 781.70 L429.02 781.70 L429.85 781.70 L430.67 781.70 L431.50 781.70 L432.32 781.70 L433.15 781.70 L433.97 781.70 L434.80 781.70 L435.62 781.70 L436.44 781.70 L437.27 781.70 L438.09 781.70 L438.92 781.70 L439.74 781.70 L440.57 781.70 L441.39 781.70 L442.21 781.70 L443.04 781.70 L443.86 781.70 L444.69 781.70 L445.51 781.70 L446.34 781.70 L447.16 781.70 L447.99 781.70 L448.81 781.70 L449.63 781.70 L450.46 781.70 L451.28 781.70 L452.11 781.70 L452.93 781.70 L453.76 781.70 L454.58 781.70 L455.40 781.70 L456.23 781.70 L457.05 781.70 L457.88 781.70 L458.70 781.70 L459.53 781.70 L460.35 781.70 L461.18 781.70 L462.00 781.70" fill="none" stroke="#1f77b4" stroke-width="2.50"/>
<path d="M132.25 781.70 L133.07 781.70 L133.90 781.70 L134.72 781.70 L135.55 781.70 L136.37 781.70 L137.20 781.70 L138.02 781.70 L138.84 781.70 L139.67 781.70 L140.49 781.70 L141.32 781.70 L142.14 781.70 L142.97 781.70 L143.79 781.70 L144.62 781.70 L145.44 781.70 L146.26 781.70 L147.09 781.70 L147.91 781.70 L148.74 781.70 L149.56 781.70 L150.39 781.70 L151.21 781.70 L152.03 781.70 L152.86 781.70 L153.68 781.70 L154.51 781.70 L155.33 781.70 L156.16 781.70 L156.98 781.70 L157.81 781.70 L158.63 781.70 L159.45 781.70 L160.28 781.70 L161.10 781.70 L161.93 781.70 L162.75 781.70 L163.58 781.70 L164.40 781.70 L165.22 781.70 L166.05 781.70 L166.87 781.70 L167.70 781.70 L168.52 781.70 L169.35 781.70 L170.17 781.70 L171.00 781.70 L171.82 781.70 L172.64 781.70 L173.47 781.70 L174.29 781.70 L175.12 781.70 L175.94 781.70 L176.77 781.70 L177.59 781.70 L178.41 781.70 L179.24 781.70 L180.06 781.70 L180.89 781.70 L181.71 781.70 L182.54 781.70 L183.36 781.70 L184.19 781.70 L185.01 781.70 L185.83 781.70 L186.66 781.70 L187.48 781.70 L188.31 781.70 L189.13 781.70 L189.96 781.70 L190.78 781.70 L191.60 781.70 L192.43 781.70 L193.25 781.70 L194.08 781.70 L194.90 781.70 L195.73 781.70 L196.55 781.70 L197.38 781.70 L198.20 781.70 L199.02 781.70 L199.85 781.70 L200.67 781.70 L201.50 781.70 L202.32 781.70 L203.15 781.70 L203.97 781.70 L204.80 781.70 L205.62 781.70 L206.44 781.70 L207.27 781.70 L208.09 781.70 L208.92 781.70 L209.74 781.70 L210.57 781.70 L211.39 781.70 L212.21 781.70 L213.04 781.70 L213.86 781.70 L214.69 781.70 L215.51 781.70 L216.34 781.70 L217.16 781.70 L217.99 781.70 L218.81 781.70 L219.63 781.70 L220.46 781.70 L221.28 781.70 L222.11 781.70 L222.93 781.70 L223.76 781.70 L224.58 781.70 L225.40 781.70 L226.23 781.70 L227.05 781.70 L227.88 781.70 L228.70 781.70 L229.53 781.70 L230.35 781.70 L231.18 781.70 L232.00 781.70 L232.82 781.70 L233.65 781.70 L234.47 781.70 L235.30 781.70 L236.12 781.70 L236.95 781.70 L237.77 781.70 L238.59 781.70 L239.42 781.70 L240.24 781.69 L241.07 781.69 L241.89 781.69 L242.72 781.69 L243.54 781.68 L244.37 781.68 L245.19 781.67 L246.01 781.66 L246.84 781.65 L247.66 781.64 L248.49 781.62 L249.31 781.60 L250.14 781.57 L250.96 781.54 L251.78 781.50 L252.61 781.44 L253.43 781.38 L254.26 781.30 L255.08 781.20 L255.91 781.08 L256.73 780.93 L257.56 780.76 L258.38 780.54 L259.20 780.29 L260.03 779.99 L260.85 779.63 L261.68 779.20 L262.50 778.70 L263.33 778.11 L264.15 777.42 L264.97 776.62 L265.80 775.69 L266.62 774.63 L267.45 773.40 L268.27 772.00 L269.10 770.41 L269.92 768.61 L270.75 766.58 L271.57 764.30 L272.39 761.76 L273.22 758.94 L274.04 755.81 L274.87 752.38 L275.69 748.61 L276.52 744.51 L277.34 740.07 L278.16 735.27 L278.99 730.12 L279.81 724.63 L280.64 718.79 L281.46 712.63 L282.29 706.16 L283.11 699.40 L283.94 692.39 L284.76 685.16 L285.58 677.76 L286.41 670.21 L287.23 662.59 L288.06 654.94 L288.88 647.33 L289.71 639.81 L290.53 632.45 L291.35 625.33 L292.18 618.50 L293.00 612.04 L293.83 606.00 L294.65 600.46 L295.48 595.48 L296.30 591.10 L297.12 587.38 L297.95 584.36 L298.77 582.07 L299.60 580.54 L300.42 579.78 L301.25 579.82 L302.07 580.63 L302.90 582.23 L303.72 584.58 L304.54 587.67 L305.37 591.44 L306.19 595.88 L307.02 600.91 L307.84 606.49 L308.67 612.56 L309.49 619.06 L310.31 625.92 L311.14 633.06 L311.96 640.44 L312.79 647.96 L313.61 655.59 L314.44 663.23 L315.26 670.85 L316.09 678.38 L316.91 685.78 L317.73 692.99 L318.56 699.98 L319.38 706.71 L320.21 713.16 L321.03 719.29 L321.86 725.10 L322.68 730.57 L323.50 735.69 L324.33 740.45 L325.15 744.87 L325.98 748.94 L326.80 752.68 L327.63 756.09 L328.45 759.18 L329.28 761.98 L330.10 764.50 L330.92 766.76 L331.75 768.77 L332.57 770.55 L333.40 772.13 L334.22 773.51 L335.05 774.72 L335.87 775.78 L336.69 776.69 L337.52 777.48 L338.34 778.16 L339.17 778.74 L339.99 779.24 L340.82 779.66 L341.64 780.02 L342.47 780.31 L343.29 780.56 L344.11 780.77 L344.94 780.95 L345.76 781.09 L346.59 781.21 L347.41 781.30 L348.24 781.38 L349.06 781.45 L349.88 781.50 L350.71 781.54 L351.53 781.57 L352.36 781.60 L353.18 781.62 L354.01 781.64 L354.83 781.65 L355.66 781.66 L356.48 781.67 L357.30 781.68 L358.13 781.68 L358.95 781.69 L359.78 781.69 L360.60 781.69 L361.43 781.69 L362.25 781.70 L363.07 781.70 L363.90 781.70 L364.72 781.70 L365.55 781.70 L366.37 781.70 L367.20 781.70 L368.02 781.70 L368.85 781.70 L369.67 781.70 L370.49 781.70 L371.32 781.70 L372.14 781.70 L372.97 781.70 L373.79 781.70 L374.62 781.70 L375.44 781.70 L376.26 781.70 L377.09 781.70 L377.91 781.70 L378.74 781.70 L379.56 781.70 L380.39 781.70 L381.21 781.70 L382.04 781.70 L382.86 781.70 L383.68 781.70 L384.51 781.70 L385.33 781.70 L386.16 781.70 L386.98 781.70 L387.81 781.70 L388.63 781.70 L389.45 781.70 L390.28 781.70 L391.10 781.70 L391.93 781.70 L392.75 781.70 L393.58 781.70 L394.40 781.70 L395.23 781.70 L396.05 781.70 L396.87 781.70 L397.70 781.70 L398.52 781.70 L399.35 781.70 L400.17 781.70 L401.00 781.70 L401.82 781.70 L402.64 781.70 L403.47 781.70 L404.29 781.70 L405.12 781.70 L405.94 781.70 L406.77 781.70 L407.59 781.70 L408.42 781.70 L409.24 781.70 L410.06 781.70 L410.89 781.70 L411.71 781.70 L412.54 781.70 L413.36 781.70 L414.19 781.70 L415.01 781.70 L415.83 781.70 L416.66 781.70 L417.48 781.70 L418.31 781.70 L419.13 781.70 L419.96 781.70 L420.78 781.70 L421.61 781.70 L422.43 781.70 L423.25 781.70 L424.08 781.70 L424.90 781.70 L425.73 781.70 L426.55 781.70 L427.38 781.70 L428.20 781.70 L429.02 781.70 L429.85 781.70 L430.67 781.70 L431.50 781.70 L432.32 781.70 L433.15 781.70 L433.97 781.70 L434.80 781.70 L435.62 781.70 L436.44 781.70 L437.27 781.70 L438.09 781.70 L438.92 781.70 L439.74 781.70 L440.57 781.70 L441.39 781.70 L442.21 781.70 L443.04 781.70 L443.86 781.70 L444.69 781.70 L445.51 781.70 L446.34 781.70 L447.16 781.70 L447.99 781.70 L448.81 781.70 L449.63 781.70 L450.46 781.70 L451.28 781.70 L452.11 781.70 L452.93 781.70 L453.76 781.70 L454.58 781.70 L455.40 781.70 L456.23 781.70 L457.05 781.70 L457.88 781.70 L458.70 781.70 L459.53 781.70 L460.35 781.70 L461.18 781.70 L462.00 781.70" fill="none" stroke="#d62728" stroke-width="2.50"/>
</g>
<rect x="137.25" y="491.30" width="319.75" height="320.10" fill="none" stroke="#000" stroke-width="2.50"/>
<text x="245.50" y="851.80" font-size="29.00" textLength="109.58" lengthAdjust="spacingAndGlyphs" text-anchor="middle">106.900</text>
<text x="440.20" y="851.80" font-size="29.00" textLength="109.58" lengthAdjust="spacingAndGlyphs" text-anchor="middle">106.950</text>
<text x="116.65" y="791.20" font-size="29.00" textLength="42.14" lengthAdjust="spacingAndGlyphs" text-anchor="end">0.0</text>
<text x="116.65" y="718.65" font-size="29.00" textLength="42.14" lengthAdjust="spacingAndGlyphs" text-anchor="end">0.5</text>
<text x="116.65" y="646.10" font-size="29.00" textLength="42.14" lengthAdjust="spacingAndGlyphs" text-anchor="end">1.0</text>
<text x="116.65" y="573.55" font-size="29.00" textLength="42.14" lengthAdjust="spacingAndGlyphs" text-anchor="end">1.5</text>
<text x="116.65" y="501.00" font-size="29.00" textLength="42.14" lengthAdjust="spacingAndGlyphs" text-anchor="end">2.0</text>
<path d="M245.50 811.40V823.20M245.50 491.30V479.50M440.20 811.40V823.20M440.20 491.30V479.50M137.25 781.70H125.45M457.00 781.70H468.80M137.25 709.15H125.45M457.00 709.15H468.80M137.25 636.60H125.45M457.00 636.60H468.80M137.25 564.05H125.45M457.00 564.05H468.80M137.25 491.50H125.45M457.00 491.50H468.80" stroke="#000" stroke-width="2.20" fill="none"/>
<path d="M167.62 811.40V816.00M167.62 491.30V486.70M206.56 811.40V816.00M206.56 491.30V486.70M284.44 811.40V816.00M284.44 491.30V486.70M323.38 811.40V816.00M323.38 491.30V486.70M362.32 811.40V816.00M362.32 491.30V486.70M401.26 811.40V816.00M401.26 491.30V486.70M137.25 810.72H132.65M457.00 810.72H461.60M137.25 796.21H132.65M457.00 796.21H461.60M137.25 767.19H132.65M457.00 767.19H461.60M137.25 752.68H132.65M457.00 752.68H461.60M137.25 738.17H132.65M457.00 738.17H461.60M137.25 723.66H132.65M457.00 723.66H461.60M137.25 694.64H132.65M457.00 694.64H461.60M137.25 680.13H132.65M457.00 680.13H461.60M137.25 665.62H132.65M457.00 665.62H461.60M137.25 651.11H132.65M457.00 651.11H461.60M137.25 622.09H132.65M457.00 622.09H461.60M137.25 607.58H132.65M457.00 607.58H461.60M137.25 593.07H132.65M457.00 593.07H461.60M137.25 578.56H132.65M457.00 578.56H461.60M137.25 549.54H132.65M457.00 549.54H461.60M137.25 535.03H132.65M457.00 535.03H461.60M137.25 520.52H132.65M457.00 520.52H461.60M137.25 506.01H132.65M457.00 506.01H461.60" stroke="#000" stroke-width="1.80" fill="none"/>
<g font-size="16">
<text transform="translate(613.60 768.50) rotate(-90)" fill="#0000b0" textLength="79.12" lengthAdjust="spacingAndGlyphs" text-anchor="start"><tspan font-size="16.00" dy="0.00">CH</tspan><tspan font-size="11.20" dy="3.04">3</tspan><tspan font-size="16.00" dy="-3.04">CHNH</tspan></text>
<text transform="translate(683.50 767.20) rotate(-90)" fill="#0000b0" textLength="74.79" lengthAdjust="spacingAndGlyphs" text-anchor="start"><tspan font-size="16.00" dy="0.00">HO</tspan><tspan font-size="11.20" dy="-6.24">13</tspan><tspan font-size="16.00" dy="6.24">CO</tspan><tspan font-size="11.20" dy="-6.24">+</tspan></text>
<text transform="translate(801.70 769.70) rotate(-90)" fill="#0000b0" textLength="72.52" lengthAdjust="spacingAndGlyphs" text-anchor="start"><tspan font-size="16.00" dy="0.00">C</tspan><tspan font-size="11.20" dy="3.04">2</tspan><tspan font-size="16.00" dy="-3.04">H</tspan><tspan font-size="11.20" dy="3.04">3</tspan><tspan font-size="16.00" dy="-3.04">NH</tspan><tspan font-size="11.20" dy="3.04">2</tspan></text>
</g>
<g clip-path="url(#cp4)">
<path d="M552.90 781.70V780.94H556.20V780.94H559.50V781.53H562.80V782.21H566.10V783.99H569.40V782.80H572.70V781.70H576.00V780.43H579.30V779.67H582.60V778.42H585.90V777.13H589.20V776.18H592.50V775.35H595.80V776.36H599.10V776.73H602.40V777.13H605.70V776.47H609.00V775.86H612.30V776.34H615.60V777.13H618.90V777.44H622.20V777.99H625.50V778.40H628.80V779.51H632.10V780.43H635.40V780.64H638.70V780.94H642.00V781.20H645.30V781.62H648.60V782.21H651.90V781.90H655.20V781.35H658.50V780.94H661.80V779.91H665.10V779.09H668.40V778.40H671.70V777.11H675.00V775.86H678.30V775.29H681.60V774.58H684.90V771.52H688.20V769.50H691.50V760.60H694.80V735.17H698.10V714.83H701.40V694.49H704.70V674.15H708.00V633.47H711.30V590.25H714.60V590.25H717.90V605.50H721.20V623.30H724.50V666.52H727.80V684.32H731.10V702.12H734.40V737.72H737.70V752.97H741.00V765.68H744.30V773.31H747.60V778.40H750.90V779.58H754.20V780.94H757.50V780.94H760.80V780.94H764.10V780.94H767.40V780.45H770.70V779.67H774.00V779.86H777.30V780.19H780.60V780.43H783.90V779.32H787.20V778.40H790.50V777.87H793.80V777.13H797.10V777.34H800.40V777.67H803.70V777.89H807.00V778.18H810.30V778.40H813.60V777.84H816.90V777.13H820.20V776.54H823.50V775.86H826.80V775.09H830.10V774.95H833.40V774.73H836.70V774.58H840.00V774.29H843.30V774.08H846.60V774.30H849.90V774.58H853.20V775.72H856.50V777.13H859.80V779.67H863.10V779.87H866.40V780.20H869.70V780.43H873.00V780.94H876.30V781.70 Z" fill="#808080" fill-opacity="0.2" stroke="none"/>
<path d="M552.90 780.94H556.20V780.94H559.50V781.53H562.80V782.21H566.10V783.99H569.40V782.80H572.70V781.70H576.00V780.43H579.30V779.67H582.60V778.42H585.90V777.13H589.20V776.18H592.50V775.35H595.80V776.36H599.10V776.73H602.40V777.13H605.70V776.47H609.00V775.86H612.30V776.34H615.60V777.13H618.90V777.44H622.20V777.99H625.50V778.40H628.80V779.51H632.10V780.43H635.40V780.64H638.70V780.94H642.00V781.20H645.30V781.62H648.60V782.21H651.90V781.90H655.20V781.35H658.50V780.94H661.80V779.91H665.10V779.09H668.40V778.40H671.70V777.11H675.00V775.86H678.30V775.29H681.60V774.58H684.90V771.52H688.20V769.50H691.50V760.60H694.80V735.17H698.10V714.83H701.40V694.49H704.70V674.15H708.00V633.47H711.30V590.25H714.60V590.25H717.90V605.50H721.20V623.30H724.50V666.52H727.80V684.32H731.10V702.12H734.40V737.72H737.70V752.97H741.00V765.68H744.30V773.31H747.60V778.40H750.90V779.58H754.20V780.94H757.50V780.94H760.80V780.94H764.10V780.94H767.40V780.45H770.70V779.67H774.00V779.86H777.30V780.19H780.60V780.43H783.90V779.32H787.20V778.40H790.50V777.87H793.80V777.13H797.10V777.34H800.40V777.67H803.70V777.89H807.00V778.18H810.30V778.40H813.60V777.84H816.90V777.13H820.20V776.54H823.50V775.86H826.80V775.09H830.10V774.95H833.40V774.73H836.70V774.58H840.00V774.29H843.30V774.08H846.60V774.30H849.90V774.58H853.20V775.72H856.50V777.13H859.80V779.67H863.10V779.87H866.40V780.20H869.70V780.43H873.00V780.94H876.30" fill="none" stroke="#000" stroke-width="2.60" stroke-linejoin="miter"/>
<path d="M551.20 781.70 L552.03 781.70 L552.85 781.70 L553.68 781.70 L554.50 781.70 L555.33 781.70 L556.15 781.70 L556.98 781.70 L557.80 781.70 L558.62 781.70 L559.45 781.70 L560.28 781.70 L561.10 781.70 L561.93 781.70 L562.75 781.70 L563.58 781.70 L564.40 781.70 L565.23 781.70 L566.05 781.70 L566.88 781.70 L567.70 781.70 L568.53 781.69 L569.35 781.69 L570.18 781.69 L571.00 781.69 L571.83 781.69 L572.65 781.68 L573.48 781.68 L574.30 781.67 L575.12 781.67 L575.95 781.66 L576.78 781.65 L577.60 781.64 L578.43 781.63 L579.25 781.61 L580.08 781.59 L580.90 781.57 L581.73 781.54 L582.55 781.51 L583.38 781.48 L584.20 781.44 L585.03 781.40 L585.85 781.35 L586.68 781.29 L587.50 781.23 L588.33 781.16 L589.15 781.08 L589.98 780.99 L590.80 780.90 L591.62 780.79 L592.45 780.68 L593.28 780.56 L594.10 780.43 L594.93 780.30 L595.75 780.15 L596.58 780.00 L597.40 779.85 L598.23 779.69 L599.05 779.53 L599.88 779.36 L600.70 779.19 L601.53 779.03 L602.35 778.86 L603.18 778.70 L604.00 778.55 L604.83 778.41 L605.65 778.27 L606.48 778.14 L607.30 778.03 L608.12 777.93 L608.95 777.85 L609.78 777.79 L610.60 777.74 L611.43 777.71 L612.25 777.70 L613.08 777.71 L613.90 777.74 L614.73 777.78 L615.55 777.84 L616.38 777.92 L617.20 778.02 L618.03 778.13 L618.85 778.25 L619.68 778.39 L620.50 778.53 L621.33 778.69 L622.15 778.84 L622.98 779.01 L623.80 779.17 L624.62 779.34 L625.45 779.51 L626.28 779.67 L627.10 779.83 L627.93 779.99 L628.75 780.14 L629.58 780.28 L630.40 780.42 L631.23 780.55 L632.05 780.67 L632.88 780.78 L633.70 780.88 L634.53 780.98 L635.35 781.07 L636.18 781.15 L637.00 781.22 L637.83 781.28 L638.65 781.34 L639.48 781.39 L640.30 781.44 L641.12 781.48 L641.95 781.51 L642.78 781.54 L643.60 781.57 L644.43 781.59 L645.25 781.61 L646.08 781.62 L646.90 781.64 L647.73 781.65 L648.55 781.66 L649.38 781.67 L650.20 781.67 L651.03 781.68 L651.85 781.68 L652.68 781.69 L653.50 781.69 L654.33 781.69 L655.15 781.69 L655.98 781.69 L656.80 781.69 L657.62 781.69 L658.45 781.69 L659.28 781.69 L660.10 781.68 L660.93 781.68 L661.75 781.66 L662.58 781.65 L663.40 781.62 L664.23 781.58 L665.05 781.53 L665.88 781.46 L666.70 781.37 L667.53 781.25 L668.35 781.10 L669.18 780.90 L670.00 780.67 L670.83 780.38 L671.65 780.05 L672.48 779.66 L673.30 779.23 L674.12 778.76 L674.95 778.26 L675.78 777.74 L676.60 777.20 L677.43 776.67 L678.25 776.16 L679.08 775.67 L679.90 775.22 L680.73 774.80 L681.55 774.40 L682.38 774.02 L683.20 773.65 L684.03 773.24 L684.85 772.79 L685.68 772.25 L686.50 771.60 L687.33 770.80 L688.15 769.81 L688.98 768.61 L689.80 767.16 L690.62 765.45 L691.45 763.44 L692.28 761.12 L693.10 758.48 L693.93 755.50 L694.75 752.18 L695.58 748.50 L696.40 744.47 L697.23 740.09 L698.05 735.35 L698.88 730.28 L699.70 724.88 L700.53 719.17 L701.35 713.17 L702.18 706.91 L703.00 700.42 L703.83 693.75 L704.65 686.94 L705.48 680.03 L706.30 673.09 L707.12 666.17 L707.95 659.34 L708.78 652.65 L709.60 646.18 L710.43 640.00 L711.25 634.16 L712.08 628.75 L712.90 623.81 L713.73 619.41 L714.55 615.61 L715.38 612.44 L716.20 609.94 L717.03 608.16 L717.85 607.11 L718.68 606.80 L719.50 607.25 L720.33 608.43 L721.15 610.35 L721.98 612.96 L722.80 616.25 L723.62 620.17 L724.45 624.67 L725.28 629.70 L726.10 635.19 L726.93 641.10 L727.75 647.34 L728.58 653.85 L729.40 660.57 L730.23 667.43 L731.05 674.35 L731.88 681.30 L732.70 688.19 L733.53 694.98 L734.35 701.62 L735.18 708.08 L736.00 714.30 L736.83 720.26 L737.65 725.93 L738.48 731.29 L739.30 736.34 L740.12 741.05 L740.95 745.43 L741.78 749.48 L742.60 753.19 L743.43 756.59 L744.25 759.68 L745.08 762.47 L745.90 764.97 L746.73 767.22 L747.55 769.21 L748.38 770.98 L749.20 772.54 L750.03 773.90 L750.85 775.09 L751.68 776.12 L752.50 777.01 L753.33 777.78 L754.15 778.43 L754.98 778.99 L755.80 779.46 L756.62 779.86 L757.45 780.19 L758.28 780.47 L759.10 780.70 L759.93 780.89 L760.75 781.05 L761.58 781.18 L762.40 781.28 L763.23 781.37 L764.05 781.44 L764.88 781.49 L765.70 781.54 L766.53 781.57 L767.35 781.60 L768.18 781.62 L769.00 781.64 L769.83 781.65 L770.65 781.66 L771.48 781.67 L772.30 781.67 L773.12 781.68 L773.95 781.68 L774.78 781.68 L775.60 781.67 L776.43 781.67 L777.25 781.66 L778.08 781.65 L778.90 781.63 L779.73 781.61 L780.55 781.58 L781.38 781.55 L782.20 781.51 L783.03 781.46 L783.85 781.41 L784.68 781.34 L785.50 781.26 L786.33 781.17 L787.15 781.07 L787.98 780.95 L788.80 780.83 L789.62 780.69 L790.45 780.55 L791.28 780.40 L792.10 780.24 L792.93 780.08 L793.75 779.93 L794.58 779.78 L795.40 779.64 L796.23 779.52 L797.05 779.41 L797.88 779.32 L798.70 779.26 L799.53 779.21 L800.35 779.20 L801.18 779.21 L802.00 779.25 L802.83 779.31 L803.65 779.40 L804.48 779.50 L805.30 779.63 L806.12 779.76 L806.95 779.91 L807.78 780.07 L808.60 780.22 L809.43 780.38 L810.25 780.53 L811.08 780.67 L811.90 780.81 L812.73 780.94 L813.55 781.05 L814.38 781.16 L815.20 781.25 L816.03 781.33 L816.85 781.40 L817.68 781.46 L818.50 781.51 L819.33 781.55 L820.15 781.58 L820.98 781.61 L821.80 781.63 L822.62 781.65 L823.45 781.66 L824.28 781.67 L825.10 781.68 L825.93 781.68 L826.75 781.69 L827.58 781.69 L828.40 781.69 L829.23 781.70 L830.05 781.70 L830.88 781.70 L831.70 781.70 L832.53 781.70 L833.35 781.70 L834.18 781.70 L835.00 781.70 L835.83 781.70 L836.65 781.70 L837.48 781.70 L838.30 781.70 L839.12 781.70 L839.95 781.70 L840.78 781.70 L841.60 781.70 L842.43 781.70 L843.25 781.70 L844.08 781.70 L844.90 781.70 L845.73 781.70 L846.55 781.70 L847.38 781.70 L848.20 781.70 L849.03 781.70 L849.85 781.70 L850.68 781.70 L851.50 781.70 L852.33 781.70 L853.15 781.70 L853.98 781.70 L854.80 781.70 L855.62 781.70 L856.45 781.70 L857.28 781.70 L858.10 781.70 L858.93 781.70 L859.75 781.70 L860.58 781.70 L861.40 781.70 L862.23 781.70 L863.05 781.70 L863.88 781.70 L864.70 781.70 L865.53 781.70 L866.35 781.70 L867.18 781.70 L868.00 781.70 L868.83 781.70 L869.65 781.70 L870.48 781.70 L871.30 781.70 L872.12 781.70 L872.95 781.70 L873.78 781.70 L874.60 781.70 L875.43 781.70 L876.25 781.70 L877.08 781.70 L877.90 781.70 L878.73 781.70 L879.55 781.70 L880.38 781.70 L881.20 781.70" fill="none" stroke="#1f77b4" stroke-width="2.50"/>
<path d="M551.20 781.70 L552.03 781.70 L552.85 781.70 L553.68 781.70 L554.50 781.70 L555.33 781.70 L556.15 781.70 L556.98 781.70 L557.80 781.70 L558.62 781.70 L559.45 781.70 L560.28 781.70 L561.10 781.70 L561.93 781.70 L562.75 781.70 L563.58 781.70 L564.40 781.70 L565.23 781.70 L566.05 781.70 L566.88 781.70 L567.70 781.70 L568.53 781.70 L569.35 781.70 L570.18 781.70 L571.00 781.70 L571.83 781.70 L572.65 781.70 L573.48 781.70 L574.30 781.70 L575.12 781.70 L575.95 781.70 L576.78 781.70 L577.60 781.70 L578.43 781.70 L579.25 781.70 L580.08 781.70 L580.90 781.70 L581.73 781.70 L582.55 781.70 L583.38 781.70 L584.20 781.70 L585.03 781.70 L585.85 781.70 L586.68 781.70 L587.50 781.70 L588.33 781.70 L589.15 781.70 L589.98 781.70 L590.80 781.70 L591.62 781.70 L592.45 781.70 L593.28 781.70 L594.10 781.70 L594.93 781.70 L595.75 781.70 L596.58 781.70 L597.40 781.70 L598.23 781.70 L599.05 781.70 L599.88 781.70 L600.70 781.70 L601.53 781.70 L602.35 781.70 L603.18 781.70 L604.00 781.70 L604.83 781.70 L605.65 781.70 L606.48 781.70 L607.30 781.70 L608.12 781.70 L608.95 781.70 L609.78 781.70 L610.60 781.70 L611.43 781.70 L612.25 781.70 L613.08 781.70 L613.90 781.70 L614.73 781.70 L615.55 781.70 L616.38 781.70 L617.20 781.70 L618.03 781.70 L618.85 781.70 L619.68 781.70 L620.50 781.70 L621.33 781.70 L622.15 781.70 L622.98 781.70 L623.80 781.70 L624.62 781.70 L625.45 781.70 L626.28 781.70 L627.10 781.70 L627.93 781.70 L628.75 781.70 L629.58 781.70 L630.40 781.70 L631.23 781.70 L632.05 781.70 L632.88 781.70 L633.70 781.70 L634.53 781.70 L635.35 781.70 L636.18 781.70 L637.00 781.70 L637.83 781.70 L638.65 781.70 L639.48 781.70 L640.30 781.70 L641.12 781.70 L641.95 781.70 L642.78 781.70 L643.60 781.70 L644.43 781.70 L645.25 781.70 L646.08 781.70 L646.90 781.70 L647.73 781.70 L648.55 781.70 L649.38 781.70 L650.20 781.70 L651.03 781.70 L651.85 781.70 L652.68 781.70 L653.50 781.70 L654.33 781.70 L655.15 781.70 L655.98 781.70 L656.80 781.70 L657.62 781.70 L658.45 781.70 L659.28 781.70 L660.10 781.70 L660.93 781.70 L661.75 781.69 L662.58 781.69 L663.40 781.69 L664.23 781.68 L665.05 781.68 L665.88 781.67 L666.70 781.66 L667.53 781.65 L668.35 781.64 L669.18 781.62 L670.00 781.60 L670.83 781.57 L671.65 781.53 L672.48 781.48 L673.30 781.43 L674.12 781.36 L674.95 781.27 L675.78 781.16 L676.60 781.02 L677.43 780.86 L678.25 780.66 L679.08 780.42 L679.90 780.14 L680.73 779.79 L681.55 779.38 L682.38 778.90 L683.20 778.32 L684.03 777.65 L684.85 776.86 L685.68 775.94 L686.50 774.89 L687.33 773.67 L688.15 772.27 L688.98 770.67 L689.80 768.87 L690.62 766.83 L691.45 764.54 L692.28 761.98 L693.10 759.14 L693.93 756.00 L694.75 752.54 L695.58 748.76 L696.40 744.66 L697.23 740.22 L698.05 735.44 L698.88 730.34 L699.70 724.92 L700.53 719.19 L701.35 713.18 L702.18 706.92 L703.00 700.43 L703.83 693.76 L704.65 686.94 L705.48 680.04 L706.30 673.09 L707.12 666.17 L707.95 659.34 L708.78 652.65 L709.60 646.18 L710.43 640.00 L711.25 634.16 L712.08 628.75 L712.90 623.81 L713.73 619.41 L714.55 615.61 L715.38 612.44 L716.20 609.94 L717.03 608.16 L717.85 607.11 L718.68 606.80 L719.50 607.25 L720.33 608.43 L721.15 610.35 L721.98 612.96 L722.80 616.25 L723.62 620.17 L724.45 624.67 L725.28 629.70 L726.10 635.19 L726.93 641.10 L727.75 647.34 L728.58 653.85 L729.40 660.57 L730.23 667.43 L731.05 674.35 L731.88 681.30 L732.70 688.19 L733.53 694.98 L734.35 701.62 L735.18 708.08 L736.00 714.30 L736.83 720.26 L737.65 725.93 L738.48 731.29 L739.30 736.34 L740.12 741.05 L740.95 745.43 L741.78 749.48 L742.60 753.19 L743.43 756.59 L744.25 759.68 L745.08 762.47 L745.90 764.97 L746.73 767.22 L747.55 769.21 L748.38 770.98 L749.20 772.54 L750.03 773.90 L750.85 775.09 L751.68 776.12 L752.50 777.01 L753.33 777.78 L754.15 778.43 L754.98 778.99 L755.80 779.46 L756.62 779.86 L757.45 780.19 L758.28 780.47 L759.10 780.70 L759.93 780.89 L760.75 781.05 L761.58 781.18 L762.40 781.28 L763.23 781.37 L764.05 781.44 L764.88 781.49 L765.70 781.54 L766.53 781.57 L767.35 781.60 L768.18 781.62 L769.00 781.64 L769.83 781.65 L770.65 781.67 L771.48 781.67 L772.30 781.68 L773.12 781.68 L773.95 781.69 L774.78 781.69 L775.60 781.69 L776.43 781.70 L777.25 781.70 L778.08 781.70 L778.90 781.70 L779.73 781.70 L780.55 781.70 L781.38 781.70 L782.20 781.70 L783.03 781.70 L783.85 781.70 L784.68 781.70 L785.50 781.70 L786.33 781.70 L787.15 781.70 L787.98 781.70 L788.80 781.70 L789.62 781.70 L790.45 781.70 L791.28 781.70 L792.10 781.70 L792.93 781.70 L793.75 781.70 L794.58 781.70 L795.40 781.70 L796.23 781.70 L797.05 781.70 L797.88 781.70 L798.70 781.70 L799.53 781.70 L800.35 781.70 L801.18 781.70 L802.00 781.70 L802.83 781.70 L803.65 781.70 L804.48 781.70 L805.30 781.70 L806.12 781.70 L806.95 781.70 L807.78 781.70 L808.60 781.70 L809.43 781.70 L810.25 781.70 L811.08 781.70 L811.90 781.70 L812.73 781.70 L813.55 781.70 L814.38 781.70 L815.20 781.70 L816.03 781.70 L816.85 781.70 L817.68 781.70 L818.50 781.70 L819.33 781.70 L820.15 781.70 L820.98 781.70 L821.80 781.70 L822.62 781.70 L823.45 781.70 L824.28 781.70 L825.10 781.70 L825.93 781.70 L826.75 781.70 L827.58 781.70 L828.40 781.70 L829.23 781.70 L830.05 781.70 L830.88 781.70 L831.70 781.70 L832.53 781.70 L833.35 781.70 L834.18 781.70 L835.00 781.70 L835.83 781.70 L836.65 781.70 L837.48 781.70 L838.30 781.70 L839.12 781.70 L839.95 781.70 L840.78 781.70 L841.60 781.70 L842.43 781.70 L843.25 781.70 L844.08 781.70 L844.90 781.70 L845.73 781.70 L846.55 781.70 L847.38 781.70 L848.20 781.70 L849.03 781.70 L849.85 781.70 L850.68 781.70 L851.50 781.70 L852.33 781.70 L853.15 781.70 L853.98 781.70 L854.80 781.70 L855.62 781.70 L856.45 781.70 L857.28 781.70 L858.10 781.70 L858.93 781.70 L859.75 781.70 L860.58 781.70 L861.40 781.70 L862.23 781.70 L863.05 781.70 L863.88 781.70 L864.70 781.70 L865.53 781.70 L866.35 781.70 L867.18 781.70 L868.00 781.70 L868.83 781.70 L869.65 781.70 L870.48 781.70 L871.30 781.70 L872.12 781.70 L872.95 781.70 L873.78 781.70 L874.60 781.70 L875.43 781.70 L876.25 781.70 L877.08 781.70 L877.90 781.70 L878.73 781.70 L879.55 781.70 L880.38 781.70 L881.20 781.70" fill="none" stroke="#d62728" stroke-width="2.50"/>
</g>
<rect x="556.20" y="491.30" width="320.00" height="320.10" fill="none" stroke="#000" stroke-width="2.50"/>
<text x="568.40" y="851.80" font-size="29.00" textLength="109.58" lengthAdjust="spacingAndGlyphs" text-anchor="middle">128.250</text>
<text x="732.40" y="851.80" font-size="29.00" textLength="109.58" lengthAdjust="spacingAndGlyphs" text-anchor="middle">128.300</text>
<text x="535.60" y="791.20" font-size="29.00" textLength="42.14" lengthAdjust="spacingAndGlyphs" text-anchor="end">0.0</text>
<text x="535.60" y="718.65" font-size="29.00" textLength="42.14" lengthAdjust="spacingAndGlyphs" text-anchor="end">0.5</text>
<text x="535.60" y="646.10" font-size="29.00" textLength="42.14" lengthAdjust="spacingAndGlyphs" text-anchor="end">1.0</text>
<text x="535.60" y="573.55" font-size="29.00" textLength="42.14" lengthAdjust="spacingAndGlyphs" text-anchor="end">1.5</text>
<text x="535.60" y="501.00" font-size="29.00" textLength="42.14" lengthAdjust="spacingAndGlyphs" text-anchor="end">2.0</text>
<path d="M568.40 811.40V823.20M568.40 491.30V479.50M732.40 811.40V823.20M732.40 491.30V479.50M556.20 781.70H544.40M876.20 781.70H888.00M556.20 709.15H544.40M876.20 709.15H888.00M556.20 636.60H544.40M876.20 636.60H888.00M556.20 564.05H544.40M876.20 564.05H888.00M556.20 491.50H544.40M876.20 491.50H888.00" stroke="#000" stroke-width="2.20" fill="none"/>
<path d="M601.20 811.40V816.00M601.20 491.30V486.70M634.00 811.40V816.00M634.00 491.30V486.70M666.80 811.40V816.00M666.80 491.30V486.70M699.60 811.40V816.00M699.60 491.30V486.70M765.20 811.40V816.00M765.20 491.30V486.70M798.00 811.40V816.00M798.00 491.30V486.70M830.80 811.40V816.00M830.80 491.30V486.70M863.60 811.40V816.00M863.60 491.30V486.70M556.20 810.72H551.60M876.20 810.72H880.80M556.20 796.21H551.60M876.20 796.21H880.80M556.20 767.19H551.60M876.20 767.19H880.80M556.20 752.68H551.60M876.20 752.68H880.80M556.20 738.17H551.60M876.20 738.17H880.80M556.20 723.66H551.60M876.20 723.66H880.80M556.20 694.64H551.60M876.20 694.64H880.80M556.20 680.13H551.60M876.20 680.13H880.80M556.20 665.62H551.60M876.20 665.62H880.80M556.20 651.11H551.60M876.20 651.11H880.80M556.20 622.09H551.60M876.20 622.09H880.80M556.20 607.58H551.60M876.20 607.58H880.80M556.20 593.07H551.60M876.20 593.07H880.80M556.20 578.56H551.60M876.20 578.56H880.80M556.20 549.54H551.60M876.20 549.54H880.80M556.20 535.03H551.60M876.20 535.03H880.80M556.20 520.52H551.60M876.20 520.52H880.80M556.20 506.01H551.60M876.20 506.01H880.80" stroke="#000" stroke-width="1.80" fill="none"/>
<g font-size="16">
<text transform="translate(1012.20 760.80) rotate(-90)" fill="#0000b0" textLength="108.53" lengthAdjust="spacingAndGlyphs" text-anchor="start"><tspan font-size="11.20" dy="-6.24">13</tspan><tspan font-size="16.00" dy="6.24">CH</tspan><tspan font-size="11.20" dy="3.04">3</tspan><tspan font-size="16.00" dy="-3.04">CCH</tspan><tspan font-size="11.20" dy="3.04">_9_8</tspan></text>
<text transform="translate(1102.50 759.50) rotate(-90)" fill="#0000b0" textLength="74.79" lengthAdjust="spacingAndGlyphs" text-anchor="start"><tspan font-size="16.00" dy="0.00">HO</tspan><tspan font-size="11.20" dy="-6.24">13</tspan><tspan font-size="16.00" dy="6.24">CO</tspan><tspan font-size="11.20" dy="-6.24">+</tspan></text>
</g>
<g clip-path="url(#cp5)">
<path d="M972.00 773.00V772.80H975.00V772.80H978.00V772.80H981.00V772.80H984.00V772.80H987.00V772.80H990.00V772.80H993.00V772.80H996.00V772.87H999.00V772.93H1002.00V772.99H1005.00V773.05H1008.00V773.11H1011.00V773.17H1014.00V773.23H1017.00V773.31H1020.00V773.31H1023.00V773.31H1026.00V773.31H1029.00V773.31H1032.00V773.31H1035.00V773.31H1038.00V773.31H1041.00V773.31H1044.00V773.31H1047.00V773.23H1050.00V773.16H1053.00V773.08H1056.00V773.01H1059.00V772.93H1062.00V772.86H1065.00V772.80H1068.00V772.51H1071.00V772.29H1074.00V772.04H1077.00V771.84H1080.00V771.61H1083.00V771.28H1086.00V771.12H1089.00V770.82H1092.00V770.52H1095.00V770.26H1098.00V769.14H1101.00V767.72H1104.00V765.28H1107.00V760.60H1110.00V747.89H1113.00V730.09H1116.00V709.75H1119.00V689.41H1122.00V648.73H1125.00V633.47H1128.00V613.13H1131.00V595.33H1134.00V597.87H1137.00V620.76H1140.00V636.01H1143.00V651.27H1146.00V666.52H1149.00V684.32H1152.00V702.12H1155.00V737.72H1158.00V750.43H1161.00V760.60H1164.00V766.96H1167.00V770.77H1170.00V771.42H1173.00V772.80H1176.00V772.86H1179.00V772.93H1182.00V772.99H1185.00V773.06H1188.00V773.13H1191.00V773.19H1194.00V773.26H1197.00V773.31H1200.00V773.09H1203.00V772.91H1206.00V772.73H1209.00V772.55H1212.00V772.55H1215.00V772.55H1218.00V772.55H1221.00V772.60H1224.00V772.68H1227.00V772.76H1230.00V772.84H1233.00V772.93H1236.00V773.01H1239.00V773.09H1242.00V773.17H1245.00V773.25H1248.00V773.31H1251.00V773.31H1254.00V773.31H1257.00V773.31H1260.00V773.31H1263.00V773.31H1266.00V773.31H1269.00V773.31H1272.00V773.31H1275.00V773.31H1278.00V773.31H1281.00V773.31H1284.00V773.31H1287.00V773.31H1290.00V773.31H1293.00V773.31H1296.00V773.00 Z" fill="#808080" fill-opacity="0.2" stroke="none"/>
<path d="M972.00 772.80H975.00V772.80H978.00V772.80H981.00V772.80H984.00V772.80H987.00V772.80H990.00V772.80H993.00V772.80H996.00V772.87H999.00V772.93H1002.00V772.99H1005.00V773.05H1008.00V773.11H1011.00V773.17H1014.00V773.23H1017.00V773.31H1020.00V773.31H1023.00V773.31H1026.00V773.31H1029.00V773.31H1032.00V773.31H1035.00V773.31H1038.00V773.31H1041.00V773.31H1044.00V773.31H1047.00V773.23H1050.00V773.16H1053.00V773.08H1056.00V773.01H1059.00V772.93H1062.00V772.86H1065.00V772.80H1068.00V772.51H1071.00V772.29H1074.00V772.04H1077.00V771.84H1080.00V771.61H1083.00V771.28H1086.00V771.12H1089.00V770.82H1092.00V770.52H1095.00V770.26H1098.00V769.14H1101.00V767.72H1104.00V765.28H1107.00V760.60H1110.00V747.89H1113.00V730.09H1116.00V709.75H1119.00V689.41H1122.00V648.73H1125.00V633.47H1128.00V613.13H1131.00V595.33H1134.00V597.87H1137.00V620.76H1140.00V636.01H1143.00V651.27H1146.00V666.52H1149.00V684.32H1152.00V702.12H1155.00V737.72H1158.00V750.43H1161.00V760.60H1164.00V766.96H1167.00V770.77H1170.00V771.42H1173.00V772.80H1176.00V772.86H1179.00V772.93H1182.00V772.99H1185.00V773.06H1188.00V773.13H1191.00V773.19H1194.00V773.26H1197.00V773.31H1200.00V773.09H1203.00V772.91H1206.00V772.73H1209.00V772.55H1212.00V772.55H1215.00V772.55H1218.00V772.55H1221.00V772.60H1224.00V772.68H1227.00V772.76H1230.00V772.84H1233.00V772.93H1236.00V773.01H1239.00V773.09H1242.00V773.17H1245.00V773.25H1248.00V773.31H1251.00V773.31H1254.00V773.31H1257.00V773.31H1260.00V773.31H1263.00V773.31H1266.00V773.31H1269.00V773.31H1272.00V773.31H1275.00V773.31H1278.00V773.31H1281.00V773.31H1284.00V773.31H1287.00V773.31H1290.00V773.31H1293.00V773.31H1296.00" fill="none" stroke="#000" stroke-width="2.60" stroke-linejoin="miter"/>
<path d="M970.00 771.75 L970.83 771.67 L971.65 771.60 L972.48 771.54 L973.30 771.50 L974.12 771.46 L974.95 771.44 L975.77 771.43 L976.60 771.43 L977.42 771.44 L978.25 771.46 L979.08 771.49 L979.90 771.52 L980.73 771.55 L981.55 771.58 L982.38 771.60 L983.20 771.61 L984.02 771.60 L984.85 771.59 L985.67 771.55 L986.50 771.49 L987.33 771.42 L988.15 771.32 L988.98 771.20 L989.80 771.06 L990.62 770.89 L991.45 770.71 L992.27 770.51 L993.10 770.30 L993.92 770.08 L994.75 769.85 L995.58 769.62 L996.40 769.39 L997.23 769.16 L998.05 768.94 L998.88 768.74 L999.70 768.55 L1000.52 768.39 L1001.35 768.25 L1002.17 768.14 L1003.00 768.06 L1003.83 768.01 L1004.65 768.00 L1005.48 768.02 L1006.30 768.07 L1007.12 768.16 L1007.95 768.27 L1008.77 768.42 L1009.60 768.59 L1010.42 768.78 L1011.25 768.99 L1012.08 769.22 L1012.90 769.46 L1013.73 769.70 L1014.55 769.95 L1015.38 770.20 L1016.20 770.45 L1017.02 770.69 L1017.85 770.92 L1018.67 771.14 L1019.50 771.35 L1020.33 771.55 L1021.15 771.73 L1021.98 771.89 L1022.80 772.05 L1023.62 772.18 L1024.45 772.30 L1025.28 772.41 L1026.10 772.50 L1026.92 772.59 L1027.75 772.66 L1028.58 772.72 L1029.40 772.77 L1030.22 772.81 L1031.05 772.85 L1031.88 772.88 L1032.70 772.90 L1033.53 772.92 L1034.35 772.94 L1035.17 772.95 L1036.00 772.96 L1036.83 772.97 L1037.65 772.98 L1038.47 772.98 L1039.30 772.99 L1040.12 772.99 L1040.95 772.99 L1041.78 773.00 L1042.60 773.00 L1043.42 773.00 L1044.25 773.00 L1045.08 773.00 L1045.90 773.00 L1046.72 773.00 L1047.55 773.00 L1048.38 773.00 L1049.20 773.00 L1050.03 773.00 L1050.85 773.00 L1051.67 773.00 L1052.50 773.00 L1053.33 773.00 L1054.15 773.00 L1054.97 773.00 L1055.80 773.00 L1056.62 773.00 L1057.45 773.00 L1058.28 773.00 L1059.10 773.00 L1059.92 773.00 L1060.75 773.00 L1061.58 773.00 L1062.40 773.00 L1063.22 773.00 L1064.05 773.00 L1064.88 773.00 L1065.70 773.00 L1066.53 773.00 L1067.35 773.00 L1068.17 773.00 L1069.00 773.00 L1069.83 773.00 L1070.65 772.99 L1071.47 772.99 L1072.30 772.98 L1073.12 772.98 L1073.95 772.96 L1074.78 772.95 L1075.60 772.93 L1076.42 772.90 L1077.25 772.86 L1078.08 772.81 L1078.90 772.75 L1079.72 772.66 L1080.55 772.56 L1081.38 772.43 L1082.20 772.28 L1083.03 772.10 L1083.85 771.89 L1084.67 771.64 L1085.50 771.37 L1086.33 771.06 L1087.15 770.73 L1087.97 770.38 L1088.80 770.02 L1089.62 769.65 L1090.45 769.28 L1091.28 768.93 L1092.10 768.60 L1092.92 768.31 L1093.75 768.06 L1094.58 767.86 L1095.40 767.70 L1096.22 767.60 L1097.05 767.54 L1097.88 767.53 L1098.70 767.54 L1099.53 767.58 L1100.35 767.61 L1101.17 767.62 L1102.00 767.59 L1102.83 767.51 L1103.65 767.34 L1104.47 767.06 L1105.30 766.65 L1106.12 766.08 L1106.95 765.35 L1107.78 764.41 L1108.60 763.26 L1109.42 761.87 L1110.25 760.22 L1111.08 758.29 L1111.90 756.07 L1112.72 753.53 L1113.55 750.66 L1114.38 747.45 L1115.20 743.89 L1116.03 739.96 L1116.85 735.66 L1117.67 730.99 L1118.50 725.95 L1119.33 720.55 L1120.15 714.80 L1120.97 708.74 L1121.80 702.38 L1122.62 695.75 L1123.45 688.92 L1124.28 681.91 L1125.10 674.80 L1125.92 667.63 L1126.75 660.49 L1127.58 653.43 L1128.40 646.54 L1129.22 639.90 L1130.05 633.58 L1130.88 627.66 L1131.70 622.22 L1132.53 617.32 L1133.35 613.03 L1134.17 609.42 L1135.00 606.52 L1135.83 604.39 L1136.65 603.04 L1137.47 602.51 L1138.30 602.79 L1139.12 603.89 L1139.95 605.79 L1140.78 608.46 L1141.60 611.87 L1142.42 615.95 L1143.25 620.67 L1144.08 625.96 L1144.90 631.74 L1145.72 637.95 L1146.55 644.50 L1147.38 651.32 L1148.20 658.34 L1149.03 665.46 L1149.85 672.63 L1150.67 679.77 L1151.50 686.81 L1152.33 693.71 L1153.15 700.40 L1153.97 706.85 L1154.80 713.01 L1155.62 718.86 L1156.45 724.37 L1157.28 729.54 L1158.10 734.34 L1158.92 738.77 L1159.75 742.84 L1160.58 746.56 L1161.40 749.93 L1162.22 752.96 L1163.05 755.68 L1163.88 758.10 L1164.70 760.25 L1165.53 762.14 L1166.35 763.79 L1167.17 765.23 L1168.00 766.47 L1168.83 767.55 L1169.65 768.46 L1170.47 769.25 L1171.30 769.91 L1172.12 770.47 L1172.95 770.93 L1173.78 771.32 L1174.60 771.64 L1175.42 771.91 L1176.25 772.13 L1177.08 772.30 L1177.90 772.45 L1178.72 772.57 L1179.55 772.66 L1180.38 772.73 L1181.20 772.79 L1182.03 772.84 L1182.85 772.88 L1183.67 772.91 L1184.50 772.93 L1185.33 772.95 L1186.15 772.96 L1186.97 772.97 L1187.80 772.98 L1188.62 772.98 L1189.45 772.99 L1190.28 772.99 L1191.10 772.99 L1191.92 772.99 L1192.75 773.00 L1193.58 773.00 L1194.40 773.00 L1195.22 773.00 L1196.05 773.00 L1196.88 773.00 L1197.70 773.00 L1198.53 773.00 L1199.35 773.00 L1200.17 773.00 L1201.00 773.00 L1201.83 773.00 L1202.65 773.00 L1203.47 773.00 L1204.30 773.00 L1205.12 773.00 L1205.95 773.00 L1206.78 773.00 L1207.60 773.00 L1208.42 773.00 L1209.25 773.00 L1210.08 773.00 L1210.90 773.00 L1211.72 773.00 L1212.55 773.00 L1213.38 773.00 L1214.20 773.00 L1215.03 773.00 L1215.85 773.00 L1216.67 773.00 L1217.50 773.00 L1218.33 773.00 L1219.15 773.00 L1219.97 773.00 L1220.80 773.00 L1221.62 773.00 L1222.45 773.00 L1223.28 773.00 L1224.10 773.00 L1224.92 773.00 L1225.75 773.00 L1226.58 773.00 L1227.40 773.00 L1228.22 773.00 L1229.05 773.00 L1229.88 773.00 L1230.70 773.00 L1231.53 773.00 L1232.35 773.00 L1233.17 773.00 L1234.00 773.00 L1234.83 773.00 L1235.65 773.00 L1236.47 773.00 L1237.30 773.00 L1238.12 773.00 L1238.95 773.00 L1239.78 773.00 L1240.60 773.00 L1241.42 773.00 L1242.25 773.00 L1243.08 773.00 L1243.90 773.00 L1244.72 773.00 L1245.55 773.00 L1246.38 773.00 L1247.20 773.00 L1248.03 773.00 L1248.85 773.00 L1249.67 773.00 L1250.50 773.00 L1251.33 773.00 L1252.15 773.00 L1252.97 773.00 L1253.80 773.00 L1254.62 773.00 L1255.45 773.00 L1256.28 773.00 L1257.10 773.00 L1257.92 773.00 L1258.75 773.00 L1259.58 773.00 L1260.40 773.00 L1261.22 773.00 L1262.05 773.00 L1262.88 773.00 L1263.70 773.00 L1264.53 773.00 L1265.35 773.00 L1266.17 773.00 L1267.00 773.00 L1267.83 773.00 L1268.65 773.00 L1269.47 773.00 L1270.30 773.00 L1271.12 773.00 L1271.95 773.00 L1272.78 773.00 L1273.60 773.00 L1274.42 773.00 L1275.25 773.00 L1276.08 773.00 L1276.90 773.00 L1277.72 773.00 L1278.55 773.00 L1279.38 773.00 L1280.20 773.00 L1281.03 773.00 L1281.85 773.00 L1282.67 773.00 L1283.50 773.00 L1284.33 773.00 L1285.15 773.00 L1285.97 773.00 L1286.80 773.00 L1287.62 773.00 L1288.45 773.00 L1289.28 773.00 L1290.10 773.00 L1290.92 773.00 L1291.75 773.00 L1292.58 773.00 L1293.40 773.00 L1294.22 773.00 L1295.05 773.00 L1295.88 773.00 L1296.70 773.00 L1297.53 773.00 L1298.35 773.00 L1299.17 773.00 L1300.00 773.00" fill="none" stroke="#1f77b4" stroke-width="2.50"/>
<path d="M970.00 773.00 L970.83 773.00 L971.65 773.00 L972.48 773.00 L973.30 773.00 L974.12 773.00 L974.95 773.00 L975.77 773.00 L976.60 773.00 L977.42 773.00 L978.25 773.00 L979.08 773.00 L979.90 773.00 L980.73 773.00 L981.55 773.00 L982.38 773.00 L983.20 773.00 L984.02 773.00 L984.85 773.00 L985.67 773.00 L986.50 773.00 L987.33 773.00 L988.15 773.00 L988.98 773.00 L989.80 773.00 L990.62 773.00 L991.45 773.00 L992.27 773.00 L993.10 773.00 L993.92 773.00 L994.75 773.00 L995.58 773.00 L996.40 773.00 L997.23 773.00 L998.05 773.00 L998.88 773.00 L999.70 773.00 L1000.52 773.00 L1001.35 773.00 L1002.17 773.00 L1003.00 773.00 L1003.83 773.00 L1004.65 773.00 L1005.48 773.00 L1006.30 773.00 L1007.12 773.00 L1007.95 773.00 L1008.77 773.00 L1009.60 773.00 L1010.42 773.00 L1011.25 773.00 L1012.08 773.00 L1012.90 773.00 L1013.73 773.00 L1014.55 773.00 L1015.38 773.00 L1016.20 773.00 L1017.02 773.00 L1017.85 773.00 L1018.67 773.00 L1019.50 773.00 L1020.33 773.00 L1021.15 773.00 L1021.98 773.00 L1022.80 773.00 L1023.62 773.00 L1024.45 773.00 L1025.28 773.00 L1026.10 773.00 L1026.92 773.00 L1027.75 773.00 L1028.58 773.00 L1029.40 773.00 L1030.22 773.00 L1031.05 773.00 L1031.88 773.00 L1032.70 773.00 L1033.53 773.00 L1034.35 773.00 L1035.17 773.00 L1036.00 773.00 L1036.83 773.00 L1037.65 773.00 L1038.47 773.00 L1039.30 773.00 L1040.12 773.00 L1040.95 773.00 L1041.78 773.00 L1042.60 773.00 L1043.42 773.00 L1044.25 773.00 L1045.08 773.00 L1045.90 773.00 L1046.72 773.00 L1047.55 773.00 L1048.38 773.00 L1049.20 773.00 L1050.03 773.00 L1050.85 773.00 L1051.67 773.00 L1052.50 773.00 L1053.33 773.00 L1054.15 773.00 L1054.97 773.00 L1055.80 773.00 L1056.62 773.00 L1057.45 773.00 L1058.28 773.00 L1059.10 773.00 L1059.92 773.00 L1060.75 773.00 L1061.58 773.00 L1062.40 773.00 L1063.22 773.00 L1064.05 773.00 L1064.88 773.00 L1065.70 773.00 L1066.53 773.00 L1067.35 773.00 L1068.17 773.00 L1069.00 773.00 L1069.83 773.00 L1070.65 773.00 L1071.47 773.00 L1072.30 773.00 L1073.12 773.00 L1073.95 773.00 L1074.78 773.00 L1075.60 773.00 L1076.42 773.00 L1077.25 773.00 L1078.08 773.00 L1078.90 773.00 L1079.72 773.00 L1080.55 773.00 L1081.38 773.00 L1082.20 773.00 L1083.03 773.00 L1083.85 772.99 L1084.67 772.99 L1085.50 772.99 L1086.33 772.98 L1087.15 772.98 L1087.97 772.97 L1088.80 772.96 L1089.62 772.95 L1090.45 772.93 L1091.28 772.91 L1092.10 772.89 L1092.92 772.85 L1093.75 772.81 L1094.58 772.75 L1095.40 772.68 L1096.22 772.60 L1097.05 772.49 L1097.88 772.35 L1098.70 772.18 L1099.53 771.98 L1100.35 771.73 L1101.17 771.43 L1102.00 771.06 L1102.83 770.62 L1103.65 770.09 L1104.47 769.46 L1105.30 768.72 L1106.12 767.84 L1106.95 766.82 L1107.78 765.63 L1108.60 764.25 L1109.42 762.66 L1110.25 760.85 L1111.08 758.78 L1111.90 756.45 L1112.72 753.82 L1113.55 750.88 L1114.38 747.61 L1115.20 744.01 L1116.03 740.04 L1116.85 735.72 L1117.67 731.03 L1118.50 725.98 L1119.33 720.57 L1120.15 714.82 L1120.97 708.75 L1121.80 702.38 L1122.62 695.76 L1123.45 688.92 L1124.28 681.91 L1125.10 674.80 L1125.92 667.63 L1126.75 660.49 L1127.58 653.43 L1128.40 646.55 L1129.22 639.90 L1130.05 633.58 L1130.88 627.66 L1131.70 622.22 L1132.53 617.32 L1133.35 613.03 L1134.17 609.42 L1135.00 606.52 L1135.83 604.39 L1136.65 603.04 L1137.47 602.51 L1138.30 602.79 L1139.12 603.89 L1139.95 605.79 L1140.78 608.46 L1141.60 611.87 L1142.42 615.95 L1143.25 620.67 L1144.08 625.96 L1144.90 631.74 L1145.72 637.95 L1146.55 644.50 L1147.38 651.32 L1148.20 658.34 L1149.03 665.46 L1149.85 672.63 L1150.67 679.77 L1151.50 686.81 L1152.33 693.71 L1153.15 700.40 L1153.97 706.85 L1154.80 713.01 L1155.62 718.86 L1156.45 724.37 L1157.28 729.54 L1158.10 734.34 L1158.92 738.77 L1159.75 742.84 L1160.58 746.56 L1161.40 749.93 L1162.22 752.96 L1163.05 755.68 L1163.88 758.10 L1164.70 760.25 L1165.53 762.14 L1166.35 763.79 L1167.17 765.23 L1168.00 766.47 L1168.83 767.55 L1169.65 768.46 L1170.47 769.25 L1171.30 769.91 L1172.12 770.47 L1172.95 770.93 L1173.78 771.32 L1174.60 771.64 L1175.42 771.91 L1176.25 772.13 L1177.08 772.30 L1177.90 772.45 L1178.72 772.57 L1179.55 772.66 L1180.38 772.73 L1181.20 772.79 L1182.03 772.84 L1182.85 772.88 L1183.67 772.91 L1184.50 772.93 L1185.33 772.95 L1186.15 772.96 L1186.97 772.97 L1187.80 772.98 L1188.62 772.98 L1189.45 772.99 L1190.28 772.99 L1191.10 772.99 L1191.92 772.99 L1192.75 773.00 L1193.58 773.00 L1194.40 773.00 L1195.22 773.00 L1196.05 773.00 L1196.88 773.00 L1197.70 773.00 L1198.53 773.00 L1199.35 773.00 L1200.17 773.00 L1201.00 773.00 L1201.83 773.00 L1202.65 773.00 L1203.47 773.00 L1204.30 773.00 L1205.12 773.00 L1205.95 773.00 L1206.78 773.00 L1207.60 773.00 L1208.42 773.00 L1209.25 773.00 L1210.08 773.00 L1210.90 773.00 L1211.72 773.00 L1212.55 773.00 L1213.38 773.00 L1214.20 773.00 L1215.03 773.00 L1215.85 773.00 L1216.67 773.00 L1217.50 773.00 L1218.33 773.00 L1219.15 773.00 L1219.97 773.00 L1220.80 773.00 L1221.62 773.00 L1222.45 773.00 L1223.28 773.00 L1224.10 773.00 L1224.92 773.00 L1225.75 773.00 L1226.58 773.00 L1227.40 773.00 L1228.22 773.00 L1229.05 773.00 L1229.88 773.00 L1230.70 773.00 L1231.53 773.00 L1232.35 773.00 L1233.17 773.00 L1234.00 773.00 L1234.83 773.00 L1235.65 773.00 L1236.47 773.00 L1237.30 773.00 L1238.12 773.00 L1238.95 773.00 L1239.78 773.00 L1240.60 773.00 L1241.42 773.00 L1242.25 773.00 L1243.08 773.00 L1243.90 773.00 L1244.72 773.00 L1245.55 773.00 L1246.38 773.00 L1247.20 773.00 L1248.03 773.00 L1248.85 773.00 L1249.67 773.00 L1250.50 773.00 L1251.33 773.00 L1252.15 773.00 L1252.97 773.00 L1253.80 773.00 L1254.62 773.00 L1255.45 773.00 L1256.28 773.00 L1257.10 773.00 L1257.92 773.00 L1258.75 773.00 L1259.58 773.00 L1260.40 773.00 L1261.22 773.00 L1262.05 773.00 L1262.88 773.00 L1263.70 773.00 L1264.53 773.00 L1265.35 773.00 L1266.17 773.00 L1267.00 773.00 L1267.83 773.00 L1268.65 773.00 L1269.47 773.00 L1270.30 773.00 L1271.12 773.00 L1271.95 773.00 L1272.78 773.00 L1273.60 773.00 L1274.42 773.00 L1275.25 773.00 L1276.08 773.00 L1276.90 773.00 L1277.72 773.00 L1278.55 773.00 L1279.38 773.00 L1280.20 773.00 L1281.03 773.00 L1281.85 773.00 L1282.67 773.00 L1283.50 773.00 L1284.33 773.00 L1285.15 773.00 L1285.97 773.00 L1286.80 773.00 L1287.62 773.00 L1288.45 773.00 L1289.28 773.00 L1290.10 773.00 L1290.92 773.00 L1291.75 773.00 L1292.58 773.00 L1293.40 773.00 L1294.22 773.00 L1295.05 773.00 L1295.88 773.00 L1296.70 773.00 L1297.53 773.00 L1298.35 773.00 L1299.17 773.00 L1300.00 773.00" fill="none" stroke="#d62728" stroke-width="2.50"/>
</g>
<rect x="975.00" y="491.30" width="320.00" height="320.10" fill="none" stroke="#000" stroke-width="2.50"/>
<text x="978.60" y="851.80" font-size="29.00" textLength="109.58" lengthAdjust="spacingAndGlyphs" text-anchor="middle">149.620</text>
<text x="1146.60" y="851.80" font-size="29.00" textLength="109.58" lengthAdjust="spacingAndGlyphs" text-anchor="middle">149.680</text>
<text x="954.40" y="782.50" font-size="29.00" textLength="42.14" lengthAdjust="spacingAndGlyphs" text-anchor="end">0.0</text>
<text x="954.40" y="688.60" font-size="29.00" textLength="42.14" lengthAdjust="spacingAndGlyphs" text-anchor="end">0.5</text>
<text x="954.40" y="594.70" font-size="29.00" textLength="42.14" lengthAdjust="spacingAndGlyphs" text-anchor="end">1.0</text>
<text x="954.40" y="500.80" font-size="29.00" textLength="42.14" lengthAdjust="spacingAndGlyphs" text-anchor="end">1.5</text>
<path d="M978.60 811.40V823.20M978.60 491.30V479.50M1146.60 811.40V823.20M1146.60 491.30V479.50M975.00 773.00H963.20M1295.00 773.00H1306.80M975.00 679.10H963.20M1295.00 679.10H1306.80M975.00 585.20H963.20M1295.00 585.20H1306.80M975.00 491.30H963.20M1295.00 491.30H1306.80" stroke="#000" stroke-width="2.20" fill="none"/>
<path d="M1020.60 811.40V816.00M1020.60 491.30V486.70M1062.60 811.40V816.00M1062.60 491.30V486.70M1104.60 811.40V816.00M1104.60 491.30V486.70M1188.60 811.40V816.00M1188.60 491.30V486.70M1230.60 811.40V816.00M1230.60 491.30V486.70M1272.60 811.40V816.00M1272.60 491.30V486.70M975.00 810.56H970.40M1295.00 810.56H1299.60M975.00 791.78H970.40M1295.00 791.78H1299.60M975.00 754.22H970.40M1295.00 754.22H1299.60M975.00 735.44H970.40M1295.00 735.44H1299.60M975.00 716.66H970.40M1295.00 716.66H1299.60M975.00 697.88H970.40M1295.00 697.88H1299.60M975.00 660.32H970.40M1295.00 660.32H1299.60M975.00 641.54H970.40M1295.00 641.54H1299.60M975.00 622.76H970.40M1295.00 622.76H1299.60M975.00 603.98H970.40M1295.00 603.98H1299.60M975.00 566.42H970.40M1295.00 566.42H1299.60M975.00 547.64H970.40M1295.00 547.64H1299.60M975.00 528.86H970.40M1295.00 528.86H1299.60M975.00 510.08H970.40M1295.00 510.08H1299.60" stroke="#000" stroke-width="1.80" fill="none"/>
<g font-size="16">
<text transform="translate(155.20 1188.30) rotate(-90)" fill="#0000b0" textLength="67.63" lengthAdjust="spacingAndGlyphs" text-anchor="start"><tspan font-size="16.00" dy="0.00">CH</tspan><tspan font-size="11.20" dy="3.04">2</tspan><tspan font-size="16.00" dy="-3.04">NH</tspan><tspan font-size="11.20" dy="4.80">2</tspan><tspan font-size="11.20" dx="-7.13" dy="-11.04">+</tspan></text>
<text transform="translate(221.30 1187.00) rotate(-90)" fill="#0000b0" textLength="91.08" lengthAdjust="spacingAndGlyphs" text-anchor="start"><tspan font-size="16.00" dy="0.00">g—C</tspan><tspan font-size="11.20" dy="3.04">2</tspan><tspan font-size="16.00" dy="-3.04">H</tspan><tspan font-size="11.20" dy="3.04">5</tspan><tspan font-size="16.00" dy="-3.04">OH</tspan></text>
<text transform="translate(249.20 1178.10) rotate(-90)" fill="#0000b0" textLength="64.16" lengthAdjust="spacingAndGlyphs" text-anchor="start"><tspan font-size="16.00" dy="0.00">CH</tspan><tspan font-size="11.20" dy="3.04">3</tspan><tspan font-size="16.00" dy="-3.04">NH</tspan><tspan font-size="11.20" dy="3.04">2</tspan></text>
<text transform="translate(265.80 1181.90) rotate(-90)" fill="#0000b0" textLength="74.79" lengthAdjust="spacingAndGlyphs" text-anchor="start"><tspan font-size="16.00" dy="0.00">HO</tspan><tspan font-size="11.20" dy="-6.24">13</tspan><tspan font-size="16.00" dy="6.24">CO</tspan><tspan font-size="11.20" dy="-6.24">+</tspan></text>
</g>
<g clip-path="url(#cp6)">
<path d="M134.25 1198.10V1197.70H137.25V1197.70H140.25V1197.70H143.25V1197.70H146.25V1197.70H149.25V1197.70H152.25V1197.70H155.25V1197.70H158.25V1197.98H161.25V1198.23H164.25V1198.48H167.25V1198.73H170.25V1198.97H173.25V1198.36H176.25V1197.76H179.25V1196.94H182.25V1196.86H185.25V1196.74H188.25V1196.62H191.25V1196.50H194.25V1196.43H197.25V1196.35H200.25V1196.29H203.25V1196.23H206.25V1196.18H209.25V1195.74H212.25V1195.37H215.25V1194.91H218.25V1194.37H221.25V1193.67H224.25V1193.13H227.25V1191.66H230.25V1190.08H233.25V1189.26H236.25V1188.04H239.25V1186.56H242.25V1185.50H245.25V1185.50H248.25V1185.95H251.25V1186.77H254.25V1187.85H257.25V1188.80H260.25V1189.82H263.25V1189.67H266.25V1189.31H269.25V1185.50H272.25V1177.87H275.25V1166.43H278.25V1151.17H281.25V1130.83H284.25V1110.49H287.25V1064.73H290.25V1039.30H293.25V1022.77H296.25V1036.76H299.25V1044.38H302.25V1049.47H305.25V1085.07H308.25V1105.41H311.25V1123.21H314.25V1138.46H317.25V1153.72H320.25V1168.97H323.25V1181.68H326.25V1190.58H329.25V1194.40H332.25V1195.03H335.25V1196.03H338.25V1196.94H341.25V1196.86H344.25V1196.78H347.25V1196.71H350.25V1196.63H353.25V1196.56H356.25V1196.48H359.25V1196.43H362.25V1196.51H365.25V1196.57H368.25V1196.63H371.25V1196.69H374.25V1196.75H377.25V1196.81H380.25V1196.87H383.25V1196.94H386.25V1197.06H389.25V1197.21H392.25V1197.36H395.25V1197.51H398.25V1197.66H401.25V1197.81H404.25V1197.96H407.25V1198.11H410.25V1198.21H413.25V1198.09H416.25V1198.00H419.25V1197.91H422.25V1197.82H425.25V1197.73H428.25V1197.64H431.25V1197.55H434.25V1197.45H437.25V1197.45H440.25V1197.45H443.25V1197.45H446.25V1197.45H449.25V1197.45H452.25V1197.45H455.25V1197.45H458.25V1198.10 Z" fill="#808080" fill-opacity="0.2" stroke="none"/>
<path d="M134.25 1197.70H137.25V1197.70H140.25V1197.70H143.25V1197.70H146.25V1197.70H149.25V1197.70H152.25V1197.70H155.25V1197.70H158.25V1197.98H161.25V1198.23H164.25V1198.48H167.25V1198.73H170.25V1198.97H173.25V1198.36H176.25V1197.76H179.25V1196.94H182.25V1196.86H185.25V1196.74H188.25V1196.62H191.25V1196.50H194.25V1196.43H197.25V1196.35H200.25V1196.29H203.25V1196.23H206.25V1196.18H209.25V1195.74H212.25V1195.37H215.25V1194.91H218.25V1194.37H221.25V1193.67H224.25V1193.13H227.25V1191.66H230.25V1190.08H233.25V1189.26H236.25V1188.04H239.25V1186.56H242.25V1185.50H245.25V1185.50H248.25V1185.95H251.25V1186.77H254.25V1187.85H257.25V1188.80H260.25V1189.82H263.25V1189.67H266.25V1189.31H269.25V1185.50H272.25V1177.87H275.25V1166.43H278.25V1151.17H281.25V1130.83H284.25V1110.49H287.25V1064.73H290.25V1039.30H293.25V1022.77H296.25V1036.76H299.25V1044.38H302.25V1049.47H305.25V1085.07H308.25V1105.41H311.25V1123.21H314.25V1138.46H317.25V1153.72H320.25V1168.97H323.25V1181.68H326.25V1190.58H329.25V1194.40H332.25V1195.03H335.25V1196.03H338.25V1196.94H341.25V1196.86H344.25V1196.78H347.25V1196.71H350.25V1196.63H353.25V1196.56H356.25V1196.48H359.25V1196.43H362.25V1196.51H365.25V1196.57H368.25V1196.63H371.25V1196.69H374.25V1196.75H377.25V1196.81H380.25V1196.87H383.25V1196.94H386.25V1197.06H389.25V1197.21H392.25V1197.36H395.25V1197.51H398.25V1197.66H401.25V1197.81H404.25V1197.96H407.25V1198.11H410.25V1198.21H413.25V1198.09H416.25V1198.00H419.25V1197.91H422.25V1197.82H425.25V1197.73H428.25V1197.64H431.25V1197.55H434.25V1197.45H437.25V1197.45H440.25V1197.45H443.25V1197.45H446.25V1197.45H449.25V1197.45H452.25V1197.45H455.25V1197.45H458.25" fill="none" stroke="#000" stroke-width="2.60" stroke-linejoin="miter"/>
<path d="M132.25 1195.87 L133.07 1195.79 L133.90 1195.72 L134.72 1195.66 L135.55 1195.63 L136.37 1195.60 L137.20 1195.60 L138.02 1195.61 L138.84 1195.64 L139.67 1195.69 L140.49 1195.75 L141.32 1195.82 L142.14 1195.91 L142.97 1196.01 L143.79 1196.11 L144.62 1196.23 L145.44 1196.35 L146.26 1196.47 L147.09 1196.60 L147.91 1196.72 L148.74 1196.84 L149.56 1196.96 L150.39 1197.08 L151.21 1197.19 L152.03 1197.29 L152.86 1197.39 L153.68 1197.48 L154.51 1197.56 L155.33 1197.63 L156.16 1197.70 L156.98 1197.76 L157.81 1197.81 L158.63 1197.86 L159.45 1197.90 L160.28 1197.93 L161.10 1197.96 L161.93 1197.99 L162.75 1198.01 L163.58 1198.03 L164.40 1198.04 L165.22 1198.05 L166.05 1198.06 L166.87 1198.07 L167.70 1198.08 L168.52 1198.08 L169.35 1198.09 L170.17 1198.09 L171.00 1198.09 L171.82 1198.09 L172.64 1198.10 L173.47 1198.10 L174.29 1198.10 L175.12 1198.10 L175.94 1198.10 L176.77 1198.10 L177.59 1198.10 L178.41 1198.10 L179.24 1198.10 L180.06 1198.10 L180.89 1198.10 L181.71 1198.10 L182.54 1198.10 L183.36 1198.10 L184.19 1198.10 L185.01 1198.10 L185.83 1198.10 L186.66 1198.10 L187.48 1198.10 L188.31 1198.10 L189.13 1198.10 L189.96 1198.10 L190.78 1198.10 L191.60 1198.10 L192.43 1198.10 L193.25 1198.10 L194.08 1198.10 L194.90 1198.09 L195.73 1198.09 L196.55 1198.09 L197.38 1198.09 L198.20 1198.09 L199.02 1198.08 L199.85 1198.08 L200.67 1198.07 L201.50 1198.07 L202.32 1198.06 L203.15 1198.05 L203.97 1198.04 L204.80 1198.03 L205.62 1198.02 L206.44 1198.00 L207.27 1197.98 L208.09 1197.96 L208.92 1197.94 L209.74 1197.91 L210.57 1197.88 L211.39 1197.84 L212.21 1197.79 L213.04 1197.75 L213.86 1197.69 L214.69 1197.63 L215.51 1197.56 L216.34 1197.48 L217.16 1197.39 L217.99 1197.30 L218.81 1197.19 L219.63 1197.07 L220.46 1196.94 L221.28 1196.81 L222.11 1196.65 L222.93 1196.49 L223.76 1196.31 L224.58 1196.13 L225.40 1195.93 L226.23 1195.71 L227.05 1195.49 L227.88 1195.25 L228.70 1195.01 L229.53 1194.75 L230.35 1194.49 L231.18 1194.21 L232.00 1193.94 L232.82 1193.65 L233.65 1193.37 L234.47 1193.08 L235.30 1192.80 L236.12 1192.52 L236.95 1192.24 L237.77 1191.97 L238.59 1191.72 L239.42 1191.47 L240.24 1191.24 L241.07 1191.02 L241.89 1190.82 L242.72 1190.64 L243.54 1190.49 L244.37 1190.36 L245.19 1190.25 L246.01 1190.16 L246.84 1190.11 L247.66 1190.07 L248.49 1190.07 L249.31 1190.09 L250.14 1190.13 L250.96 1190.20 L251.78 1190.28 L252.61 1190.39 L253.43 1190.51 L254.26 1190.64 L255.08 1190.78 L255.91 1190.92 L256.73 1191.06 L257.56 1191.18 L258.38 1191.29 L259.20 1191.36 L260.03 1191.38 L260.85 1191.36 L261.68 1191.26 L262.50 1191.07 L263.33 1190.78 L264.15 1190.39 L264.97 1189.87 L265.80 1189.21 L266.62 1188.42 L267.45 1187.50 L268.27 1186.43 L269.10 1185.22 L269.92 1183.88 L270.75 1182.40 L271.57 1180.77 L272.39 1178.99 L273.22 1177.03 L274.04 1174.87 L274.87 1172.49 L275.69 1169.85 L276.52 1166.93 L277.34 1163.69 L278.16 1160.10 L278.99 1156.17 L279.81 1151.86 L280.64 1147.18 L281.46 1142.15 L282.29 1136.76 L283.11 1131.05 L283.94 1125.04 L284.76 1118.78 L285.58 1112.29 L286.41 1105.63 L287.23 1098.84 L288.06 1091.99 L288.88 1085.12 L289.71 1078.31 L290.53 1071.61 L291.35 1065.09 L292.18 1058.82 L293.00 1052.86 L293.83 1047.29 L294.65 1042.15 L295.48 1037.52 L296.30 1033.44 L297.12 1029.97 L297.95 1027.15 L298.77 1025.01 L299.60 1023.57 L300.42 1022.87 L301.25 1022.90 L302.07 1023.67 L302.90 1025.17 L303.72 1027.37 L304.54 1030.25 L305.37 1033.78 L306.19 1037.91 L307.02 1042.60 L307.84 1047.78 L308.67 1053.40 L309.49 1059.39 L310.31 1065.70 L311.14 1072.25 L311.96 1078.98 L312.79 1085.82 L313.61 1092.72 L314.44 1099.60 L315.26 1106.43 L316.09 1113.14 L316.91 1119.69 L317.73 1126.04 L318.56 1132.15 L319.38 1138.00 L320.21 1143.56 L321.03 1148.82 L321.86 1153.75 L322.68 1158.36 L323.50 1162.64 L324.33 1166.59 L325.15 1170.22 L325.98 1173.54 L326.80 1176.55 L327.63 1179.27 L328.45 1181.72 L329.28 1183.91 L330.10 1185.85 L330.92 1187.58 L331.75 1189.10 L332.57 1190.43 L333.40 1191.60 L334.22 1192.61 L335.05 1193.48 L335.87 1194.23 L336.69 1194.87 L337.52 1195.42 L338.34 1195.88 L339.17 1196.27 L339.99 1196.60 L340.82 1196.88 L341.64 1197.10 L342.47 1197.29 L343.29 1197.45 L344.11 1197.58 L344.94 1197.68 L345.76 1197.77 L346.59 1197.84 L347.41 1197.89 L348.24 1197.94 L349.06 1197.97 L349.88 1198.00 L350.71 1198.02 L351.53 1198.04 L352.36 1198.05 L353.18 1198.06 L354.01 1198.07 L354.83 1198.08 L355.66 1198.08 L356.48 1198.09 L357.30 1198.09 L358.13 1198.09 L358.95 1198.10 L359.78 1198.10 L360.60 1198.10 L361.43 1198.10 L362.25 1198.10 L363.07 1198.10 L363.90 1198.10 L364.72 1198.10 L365.55 1198.10 L366.37 1198.10 L367.20 1198.10 L368.02 1198.10 L368.85 1198.10 L369.67 1198.10 L370.49 1198.10 L371.32 1198.10 L372.14 1198.10 L372.97 1198.10 L373.79 1198.10 L374.62 1198.10 L375.44 1198.10 L376.26 1198.10 L377.09 1198.10 L377.91 1198.10 L378.74 1198.10 L379.56 1198.10 L380.39 1198.10 L381.21 1198.10 L382.04 1198.10 L382.86 1198.10 L383.68 1198.10 L384.51 1198.10 L385.33 1198.10 L386.16 1198.10 L386.98 1198.10 L387.81 1198.10 L388.63 1198.10 L389.45 1198.10 L390.28 1198.10 L391.10 1198.10 L391.93 1198.10 L392.75 1198.10 L393.58 1198.10 L394.40 1198.10 L395.23 1198.10 L396.05 1198.10 L396.87 1198.10 L397.70 1198.10 L398.52 1198.10 L399.35 1198.10 L400.17 1198.10 L401.00 1198.10 L401.82 1198.10 L402.64 1198.10 L403.47 1198.10 L404.29 1198.10 L405.12 1198.10 L405.94 1198.10 L406.77 1198.10 L407.59 1198.10 L408.42 1198.10 L409.24 1198.10 L410.06 1198.10 L410.89 1198.10 L411.71 1198.10 L412.54 1198.10 L413.36 1198.10 L414.19 1198.10 L415.01 1198.10 L415.83 1198.10 L416.66 1198.10 L417.48 1198.10 L418.31 1198.10 L419.13 1198.10 L419.96 1198.10 L420.78 1198.10 L421.61 1198.10 L422.43 1198.10 L423.25 1198.10 L424.08 1198.10 L424.90 1198.10 L425.73 1198.10 L426.55 1198.10 L427.38 1198.10 L428.20 1198.10 L429.02 1198.10 L429.85 1198.10 L430.67 1198.10 L431.50 1198.10 L432.32 1198.10 L433.15 1198.10 L433.97 1198.10 L434.80 1198.10 L435.62 1198.10 L436.44 1198.10 L437.27 1198.10 L438.09 1198.10 L438.92 1198.10 L439.74 1198.10 L440.57 1198.10 L441.39 1198.10 L442.21 1198.10 L443.04 1198.10 L443.86 1198.10 L444.69 1198.10 L445.51 1198.10 L446.34 1198.10 L447.16 1198.10 L447.99 1198.10 L448.81 1198.10 L449.63 1198.10 L450.46 1198.10 L451.28 1198.10 L452.11 1198.10 L452.93 1198.10 L453.76 1198.10 L454.58 1198.10 L455.40 1198.10 L456.23 1198.10 L457.05 1198.10 L457.88 1198.10 L458.70 1198.10 L459.53 1198.10 L460.35 1198.10 L461.18 1198.10 L462.00 1198.10" fill="none" stroke="#1f77b4" stroke-width="2.50"/>
<path d="M132.25 1198.10 L133.07 1198.10 L133.90 1198.10 L134.72 1198.10 L135.55 1198.10 L136.37 1198.10 L137.20 1198.10 L138.02 1198.10 L138.84 1198.10 L139.67 1198.10 L140.49 1198.10 L141.32 1198.10 L142.14 1198.10 L142.97 1198.10 L143.79 1198.10 L144.62 1198.10 L145.44 1198.10 L146.26 1198.10 L147.09 1198.10 L147.91 1198.10 L148.74 1198.10 L149.56 1198.10 L150.39 1198.10 L151.21 1198.10 L152.03 1198.10 L152.86 1198.10 L153.68 1198.10 L154.51 1198.10 L155.33 1198.10 L156.16 1198.10 L156.98 1198.10 L157.81 1198.10 L158.63 1198.10 L159.45 1198.10 L160.28 1198.10 L161.10 1198.10 L161.93 1198.10 L162.75 1198.10 L163.58 1198.10 L164.40 1198.10 L165.22 1198.10 L166.05 1198.10 L166.87 1198.10 L167.70 1198.10 L168.52 1198.10 L169.35 1198.10 L170.17 1198.10 L171.00 1198.10 L171.82 1198.10 L172.64 1198.10 L173.47 1198.10 L174.29 1198.10 L175.12 1198.10 L175.94 1198.10 L176.77 1198.10 L177.59 1198.10 L178.41 1198.10 L179.24 1198.10 L180.06 1198.10 L180.89 1198.10 L181.71 1198.10 L182.54 1198.10 L183.36 1198.10 L184.19 1198.10 L185.01 1198.10 L185.83 1198.10 L186.66 1198.10 L187.48 1198.10 L188.31 1198.10 L189.13 1198.10 L189.96 1198.10 L190.78 1198.10 L191.60 1198.10 L192.43 1198.10 L193.25 1198.10 L194.08 1198.10 L194.90 1198.10 L195.73 1198.10 L196.55 1198.10 L197.38 1198.10 L198.20 1198.10 L199.02 1198.10 L199.85 1198.10 L200.67 1198.10 L201.50 1198.10 L202.32 1198.10 L203.15 1198.10 L203.97 1198.10 L204.80 1198.10 L205.62 1198.10 L206.44 1198.10 L207.27 1198.10 L208.09 1198.10 L208.92 1198.10 L209.74 1198.10 L210.57 1198.10 L211.39 1198.10 L212.21 1198.10 L213.04 1198.10 L213.86 1198.10 L214.69 1198.10 L215.51 1198.10 L216.34 1198.10 L217.16 1198.10 L217.99 1198.10 L218.81 1198.10 L219.63 1198.10 L220.46 1198.10 L221.28 1198.10 L222.11 1198.10 L222.93 1198.10 L223.76 1198.10 L224.58 1198.10 L225.40 1198.10 L226.23 1198.10 L227.05 1198.10 L227.88 1198.10 L228.70 1198.10 L229.53 1198.10 L230.35 1198.10 L231.18 1198.10 L232.00 1198.10 L232.82 1198.10 L233.65 1198.10 L234.47 1198.10 L235.30 1198.10 L236.12 1198.10 L236.95 1198.10 L237.77 1198.10 L238.59 1198.10 L239.42 1198.10 L240.24 1198.10 L241.07 1198.10 L241.89 1198.10 L242.72 1198.09 L243.54 1198.09 L244.37 1198.09 L245.19 1198.09 L246.01 1198.08 L246.84 1198.08 L247.66 1198.07 L248.49 1198.06 L249.31 1198.05 L250.14 1198.04 L250.96 1198.02 L251.78 1198.00 L252.61 1197.97 L253.43 1197.93 L254.26 1197.89 L255.08 1197.83 L255.91 1197.76 L256.73 1197.67 L257.56 1197.57 L258.38 1197.44 L259.20 1197.28 L260.03 1197.09 L260.85 1196.85 L261.68 1196.58 L262.50 1196.24 L263.33 1195.85 L264.15 1195.37 L264.97 1194.82 L265.80 1194.17 L266.62 1193.41 L267.45 1192.53 L268.27 1191.50 L269.10 1190.33 L269.92 1188.98 L270.75 1187.44 L271.57 1185.70 L272.39 1183.73 L273.22 1181.52 L274.04 1179.05 L274.87 1176.31 L275.69 1173.27 L276.52 1169.93 L277.34 1166.27 L278.16 1162.29 L278.99 1157.99 L279.81 1153.35 L280.64 1148.39 L281.46 1143.11 L282.29 1137.52 L283.11 1131.65 L283.94 1125.51 L284.76 1119.15 L285.58 1112.58 L286.41 1105.86 L287.23 1099.03 L288.06 1092.14 L288.88 1085.24 L289.71 1078.41 L290.53 1071.69 L291.35 1065.16 L292.18 1058.88 L293.00 1052.91 L293.83 1047.32 L294.65 1042.18 L295.48 1037.54 L296.30 1033.46 L297.12 1029.99 L297.95 1027.16 L298.77 1025.02 L299.60 1023.58 L300.42 1022.88 L301.25 1022.91 L302.07 1023.68 L302.90 1025.17 L303.72 1027.37 L304.54 1030.26 L305.37 1033.78 L306.19 1037.91 L307.02 1042.60 L307.84 1047.78 L308.67 1053.40 L309.49 1059.39 L310.31 1065.70 L311.14 1072.25 L311.96 1078.98 L312.79 1085.82 L313.61 1092.72 L314.44 1099.60 L315.26 1106.43 L316.09 1113.14 L316.91 1119.69 L317.73 1126.04 L318.56 1132.15 L319.38 1138.00 L320.21 1143.56 L321.03 1148.82 L321.86 1153.75 L322.68 1158.36 L323.50 1162.64 L324.33 1166.59 L325.15 1170.22 L325.98 1173.54 L326.80 1176.55 L327.63 1179.27 L328.45 1181.72 L329.28 1183.91 L330.10 1185.85 L330.92 1187.58 L331.75 1189.10 L332.57 1190.43 L333.40 1191.60 L334.22 1192.61 L335.05 1193.48 L335.87 1194.23 L336.69 1194.87 L337.52 1195.42 L338.34 1195.88 L339.17 1196.27 L339.99 1196.60 L340.82 1196.88 L341.64 1197.10 L342.47 1197.29 L343.29 1197.45 L344.11 1197.58 L344.94 1197.68 L345.76 1197.77 L346.59 1197.84 L347.41 1197.89 L348.24 1197.94 L349.06 1197.97 L349.88 1198.00 L350.71 1198.02 L351.53 1198.04 L352.36 1198.05 L353.18 1198.06 L354.01 1198.07 L354.83 1198.08 L355.66 1198.08 L356.48 1198.09 L357.30 1198.09 L358.13 1198.09 L358.95 1198.10 L359.78 1198.10 L360.60 1198.10 L361.43 1198.10 L362.25 1198.10 L363.07 1198.10 L363.90 1198.10 L364.72 1198.10 L365.55 1198.10 L366.37 1198.10 L367.20 1198.10 L368.02 1198.10 L368.85 1198.10 L369.67 1198.10 L370.49 1198.10 L371.32 1198.10 L372.14 1198.10 L372.97 1198.10 L373.79 1198.10 L374.62 1198.10 L375.44 1198.10 L376.26 1198.10 L377.09 1198.10 L377.91 1198.10 L378.74 1198.10 L379.56 1198.10 L380.39 1198.10 L381.21 1198.10 L382.04 1198.10 L382.86 1198.10 L383.68 1198.10 L384.51 1198.10 L385.33 1198.10 L386.16 1198.10 L386.98 1198.10 L387.81 1198.10 L388.63 1198.10 L389.45 1198.10 L390.28 1198.10 L391.10 1198.10 L391.93 1198.10 L392.75 1198.10 L393.58 1198.10 L394.40 1198.10 L395.23 1198.10 L396.05 1198.10 L396.87 1198.10 L397.70 1198.10 L398.52 1198.10 L399.35 1198.10 L400.17 1198.10 L401.00 1198.10 L401.82 1198.10 L402.64 1198.10 L403.47 1198.10 L404.29 1198.10 L405.12 1198.10 L405.94 1198.10 L406.77 1198.10 L407.59 1198.10 L408.42 1198.10 L409.24 1198.10 L410.06 1198.10 L410.89 1198.10 L411.71 1198.10 L412.54 1198.10 L413.36 1198.10 L414.19 1198.10 L415.01 1198.10 L415.83 1198.10 L416.66 1198.10 L417.48 1198.10 L418.31 1198.10 L419.13 1198.10 L419.96 1198.10 L420.78 1198.10 L421.61 1198.10 L422.43 1198.10 L423.25 1198.10 L424.08 1198.10 L424.90 1198.10 L425.73 1198.10 L426.55 1198.10 L427.38 1198.10 L428.20 1198.10 L429.02 1198.10 L429.85 1198.10 L430.67 1198.10 L431.50 1198.10 L432.32 1198.10 L433.15 1198.10 L433.97 1198.10 L434.80 1198.10 L435.62 1198.10 L436.44 1198.10 L437.27 1198.10 L438.09 1198.10 L438.92 1198.10 L439.74 1198.10 L440.57 1198.10 L441.39 1198.10 L442.21 1198.10 L443.04 1198.10 L443.86 1198.10 L444.69 1198.10 L445.51 1198.10 L446.34 1198.10 L447.16 1198.10 L447.99 1198.10 L448.81 1198.10 L449.63 1198.10 L450.46 1198.10 L451.28 1198.10 L452.11 1198.10 L452.93 1198.10 L453.76 1198.10 L454.58 1198.10 L455.40 1198.10 L456.23 1198.10 L457.05 1198.10 L457.88 1198.10 L458.70 1198.10 L459.53 1198.10 L460.35 1198.10 L461.18 1198.10 L462.00 1198.10" fill="none" stroke="#d62728" stroke-width="2.50"/>
</g>
<rect x="137.25" y="907.50" width="319.75" height="319.50" fill="none" stroke="#000" stroke-width="2.50"/>
<text x="258.70" y="1267.40" font-size="29.00" textLength="109.58" lengthAdjust="spacingAndGlyphs" text-anchor="middle">171.040</text>
<text x="454.70" y="1267.40" font-size="29.00" textLength="109.58" lengthAdjust="spacingAndGlyphs" text-anchor="middle">171.120</text>
<text x="116.65" y="1207.60" font-size="29.00" textLength="42.14" lengthAdjust="spacingAndGlyphs" text-anchor="end">0.0</text>
<text x="116.65" y="1149.50" font-size="29.00" textLength="42.14" lengthAdjust="spacingAndGlyphs" text-anchor="end">0.2</text>
<text x="116.65" y="1091.40" font-size="29.00" textLength="42.14" lengthAdjust="spacingAndGlyphs" text-anchor="end">0.4</text>
<text x="116.65" y="1033.30" font-size="29.00" textLength="42.14" lengthAdjust="spacingAndGlyphs" text-anchor="end">0.6</text>
<text x="116.65" y="975.20" font-size="29.00" textLength="42.14" lengthAdjust="spacingAndGlyphs" text-anchor="end">0.8</text>
<text x="116.65" y="917.10" font-size="29.00" textLength="42.14" lengthAdjust="spacingAndGlyphs" text-anchor="end">1.0</text>
<path d="M258.70 1227.00V1238.80M258.70 907.50V895.70M454.70 1227.00V1238.80M454.70 907.50V895.70M137.25 1198.10H125.45M457.00 1198.10H468.80M137.25 1140.00H125.45M457.00 1140.00H468.80M137.25 1081.90H125.45M457.00 1081.90H468.80M137.25 1023.80H125.45M457.00 1023.80H468.80M137.25 965.70H125.45M457.00 965.70H468.80M137.25 907.60H125.45M457.00 907.60H468.80" stroke="#000" stroke-width="2.20" fill="none"/>
<path d="M160.70 1227.00V1231.60M160.70 907.50V902.90M209.70 1227.00V1231.60M209.70 907.50V902.90M307.70 1227.00V1231.60M307.70 907.50V902.90M356.70 1227.00V1231.60M356.70 907.50V902.90M405.70 1227.00V1231.60M405.70 907.50V902.90M137.25 1227.15H132.65M457.00 1227.15H461.60M137.25 1212.62H132.65M457.00 1212.62H461.60M137.25 1183.57H132.65M457.00 1183.57H461.60M137.25 1169.05H132.65M457.00 1169.05H461.60M137.25 1154.52H132.65M457.00 1154.52H461.60M137.25 1125.47H132.65M457.00 1125.47H461.60M137.25 1110.95H132.65M457.00 1110.95H461.60M137.25 1096.42H132.65M457.00 1096.42H461.60M137.25 1067.38H132.65M457.00 1067.38H461.60M137.25 1052.85H132.65M457.00 1052.85H461.60M137.25 1038.32H132.65M457.00 1038.32H461.60M137.25 1009.27H132.65M457.00 1009.27H461.60M137.25 994.75H132.65M457.00 994.75H461.60M137.25 980.22H132.65M457.00 980.22H461.60M137.25 951.17H132.65M457.00 951.17H461.60M137.25 936.65H132.65M457.00 936.65H461.60M137.25 922.12H132.65M457.00 922.12H461.60" stroke="#000" stroke-width="1.80" fill="none"/>
<g font-size="16">
<text transform="translate(684.80 1174.30) rotate(-90)" fill="#0000b0" textLength="74.79" lengthAdjust="spacingAndGlyphs" text-anchor="start"><tspan font-size="16.00" dy="0.00">HO</tspan><tspan font-size="11.20" dy="-6.24">13</tspan><tspan font-size="16.00" dy="6.24">CO</tspan><tspan font-size="11.20" dy="-6.24">+</tspan></text>
<text transform="translate(753.40 1164.10) rotate(-90)" fill="#0000b0" textLength="117.93" lengthAdjust="spacingAndGlyphs" text-anchor="start"><tspan font-size="16.00" dy="0.00">a--CH</tspan><tspan font-size="11.20" dy="4.80">3</tspan><tspan font-size="11.20" dx="-7.13" dy="-11.04">13</tspan><tspan font-size="16.00" dy="6.24">CH</tspan><tspan font-size="11.20" dy="3.04">2</tspan><tspan font-size="16.00" dy="-3.04">OH</tspan></text>
<text transform="translate(801.70 1105.60) rotate(-90)" fill="#0000b0" textLength="64.79" lengthAdjust="spacingAndGlyphs" text-anchor="start"><tspan font-size="16.00" dy="0.00">C</tspan><tspan font-size="11.20" dy="3.04">2</tspan><tspan font-size="16.00" dy="-3.04">H</tspan><tspan font-size="11.20" dy="3.04">5</tspan><tspan font-size="16.00" dy="-3.04">OH</tspan></text>
</g>
<g clip-path="url(#cp7)">
<path d="M553.20 1191.80V1184.23H556.20V1196.94H559.20V1193.34H562.20V1189.31H565.20V1193.13H568.20V1182.96H571.20V1194.40H574.20V1191.82H577.20V1188.04H580.20V1191.86H583.20V1181.68H586.20V1188.70H589.20V1194.40H592.20V1186.77H595.20V1189.31H598.20V1185.50H601.20V1188.58H604.20V1191.86H607.20V1182.96H610.20V1189.31H613.20V1182.96H616.20V1184.02H619.20V1185.50H622.20V1188.04H625.20V1190.58H628.20V1186.28H631.20V1182.96H634.20V1186.77H637.20V1184.23H640.20V1190.58H643.20V1188.69H646.20V1186.77H649.20V1191.86H652.20V1184.23H655.20V1194.40H658.20V1200.75H661.20V1199.36H664.20V1198.21H667.20V1191.86H670.20V1200.75H673.20V1193.13H676.20V1194.97H679.20V1196.94H682.20V1189.31H685.20V1199.48H688.20V1186.77H691.20V1171.51H694.20V1153.72H697.20V1118.12H700.20V1085.07H703.20V1071.08H706.20V1044.38H709.20V1008.79H712.20V985.91H715.20V1024.04H718.20V1030.40H721.20V1036.76H724.20V1079.98H727.20V1100.32H730.20V1113.03H733.20V1128.29H736.20V1143.55H739.20V1161.34H742.20V1189.31H745.20V1191.50H748.20V1193.13H751.20V1196.94H754.20V1189.31H757.20V1190.58H760.20V1188.65H763.20V1186.77H766.20V1184.23H769.20V1177.87H772.20V1171.51H775.20V1163.89H778.20V1153.72H781.20V1143.55H784.20V1133.38H787.20V1130.39H790.20V1123.21H793.20V1114.31H796.20V1123.21H799.20V1130.83H802.20V1135.92H805.20V1143.55H808.20V1156.26H811.20V1159.04H814.20V1161.34H817.20V1167.70H820.20V1171.51H823.20V1179.14H826.20V1184.23H829.20V1194.40H832.20V1191.86H835.20V1190.57H838.20V1189.31H841.20V1196.94H844.20V1202.03H847.20V1191.86H850.20V1197.44H853.20V1204.57H856.20V1196.94H859.20V1194.40H862.20V1196.63H865.20V1198.21H868.20V1195.67H871.20V1196.94H874.20V1196.94H877.20V1191.80 Z" fill="#808080" fill-opacity="0.2" stroke="none"/>
<path d="M553.20 1184.23H556.20V1196.94H559.20V1193.34H562.20V1189.31H565.20V1193.13H568.20V1182.96H571.20V1194.40H574.20V1191.82H577.20V1188.04H580.20V1191.86H583.20V1181.68H586.20V1188.70H589.20V1194.40H592.20V1186.77H595.20V1189.31H598.20V1185.50H601.20V1188.58H604.20V1191.86H607.20V1182.96H610.20V1189.31H613.20V1182.96H616.20V1184.02H619.20V1185.50H622.20V1188.04H625.20V1190.58H628.20V1186.28H631.20V1182.96H634.20V1186.77H637.20V1184.23H640.20V1190.58H643.20V1188.69H646.20V1186.77H649.20V1191.86H652.20V1184.23H655.20V1194.40H658.20V1200.75H661.20V1199.36H664.20V1198.21H667.20V1191.86H670.20V1200.75H673.20V1193.13H676.20V1194.97H679.20V1196.94H682.20V1189.31H685.20V1199.48H688.20V1186.77H691.20V1171.51H694.20V1153.72H697.20V1118.12H700.20V1085.07H703.20V1071.08H706.20V1044.38H709.20V1008.79H712.20V985.91H715.20V1024.04H718.20V1030.40H721.20V1036.76H724.20V1079.98H727.20V1100.32H730.20V1113.03H733.20V1128.29H736.20V1143.55H739.20V1161.34H742.20V1189.31H745.20V1191.50H748.20V1193.13H751.20V1196.94H754.20V1189.31H757.20V1190.58H760.20V1188.65H763.20V1186.77H766.20V1184.23H769.20V1177.87H772.20V1171.51H775.20V1163.89H778.20V1153.72H781.20V1143.55H784.20V1133.38H787.20V1130.39H790.20V1123.21H793.20V1114.31H796.20V1123.21H799.20V1130.83H802.20V1135.92H805.20V1143.55H808.20V1156.26H811.20V1159.04H814.20V1161.34H817.20V1167.70H820.20V1171.51H823.20V1179.14H826.20V1184.23H829.20V1194.40H832.20V1191.86H835.20V1190.57H838.20V1189.31H841.20V1196.94H844.20V1202.03H847.20V1191.86H850.20V1197.44H853.20V1204.57H856.20V1196.94H859.20V1194.40H862.20V1196.63H865.20V1198.21H868.20V1195.67H871.20V1196.94H874.20V1196.94H877.20" fill="none" stroke="#000" stroke-width="2.60" stroke-linejoin="miter"/>
<path d="M524.57 1191.35C529.66 1191.35 533.90 1191.43 555.09 1191.35C576.27 1191.26 633.91 1191.35 651.70 1190.84C669.50 1190.33 658.48 1189.31 661.87 1188.30C665.26 1187.28 668.65 1185.92 672.04 1184.74C675.43 1183.55 679.25 1182.45 682.21 1181.18C685.18 1179.90 687.72 1179.14 689.84 1177.11C691.96 1175.07 693.44 1172.87 694.93 1168.97C696.41 1165.07 697.47 1160.07 698.74 1153.72C700.01 1147.36 701.28 1138.88 702.56 1130.83C703.83 1122.78 705.10 1113.03 706.37 1105.41C707.64 1097.78 708.91 1090.58 710.18 1085.07C711.45 1079.56 712.81 1075.66 714.00 1072.35C715.18 1069.05 716.33 1066.63 717.30 1065.23C718.28 1063.84 718.91 1063.62 719.84 1063.96C720.78 1064.30 721.75 1064.60 722.90 1067.27C724.04 1069.94 725.44 1074.47 726.71 1079.98C727.98 1085.49 729.25 1093.12 730.52 1100.32C731.80 1107.53 733.07 1115.58 734.34 1123.21C735.61 1130.83 736.88 1139.31 738.15 1146.09C739.42 1152.87 740.48 1159.23 741.97 1163.89C743.45 1168.55 745.14 1171.81 747.05 1174.06C748.96 1176.30 751.08 1176.73 753.41 1177.36C755.74 1178.00 758.49 1178.13 761.03 1177.87C763.58 1177.62 766.12 1176.68 768.66 1175.84C771.21 1174.99 773.75 1174.35 776.29 1172.79C778.83 1171.22 781.38 1168.97 783.92 1166.43C786.46 1163.89 789.22 1160.28 791.55 1157.53C793.88 1154.78 796.12 1151.60 797.90 1149.90C799.68 1148.21 800.74 1147.49 802.22 1147.36C803.71 1147.23 805.19 1147.66 806.80 1149.14C808.41 1150.62 810.19 1153.59 811.89 1156.26C813.58 1158.93 815.06 1162.40 816.97 1165.16C818.88 1167.91 821.21 1170.45 823.33 1172.79C825.45 1175.12 826.93 1177.02 829.68 1179.14C832.44 1181.26 836.46 1183.80 839.86 1185.50C843.25 1187.19 846.64 1188.42 850.03 1189.31C853.42 1190.20 855.96 1190.50 860.20 1190.84C864.43 1191.18 867.82 1191.26 875.45 1191.35C883.08 1191.43 900.88 1191.35 905.96 1191.35" fill="none" stroke="#1f77b4" stroke-width="2.50"/>
<path d="M551.20 1191.80 L552.03 1191.80 L552.85 1191.80 L553.68 1191.80 L554.50 1191.80 L555.33 1191.80 L556.15 1191.80 L556.98 1191.80 L557.80 1191.80 L558.62 1191.80 L559.45 1191.80 L560.28 1191.80 L561.10 1191.80 L561.93 1191.80 L562.75 1191.80 L563.58 1191.80 L564.40 1191.80 L565.23 1191.80 L566.05 1191.80 L566.88 1191.80 L567.70 1191.80 L568.53 1191.80 L569.35 1191.80 L570.18 1191.80 L571.00 1191.80 L571.83 1191.80 L572.65 1191.80 L573.48 1191.80 L574.30 1191.80 L575.12 1191.80 L575.95 1191.80 L576.78 1191.80 L577.60 1191.80 L578.43 1191.80 L579.25 1191.80 L580.08 1191.80 L580.90 1191.80 L581.73 1191.80 L582.55 1191.80 L583.38 1191.80 L584.20 1191.80 L585.03 1191.80 L585.85 1191.80 L586.68 1191.80 L587.50 1191.80 L588.33 1191.80 L589.15 1191.80 L589.98 1191.80 L590.80 1191.80 L591.62 1191.80 L592.45 1191.80 L593.28 1191.80 L594.10 1191.80 L594.93 1191.80 L595.75 1191.80 L596.58 1191.80 L597.40 1191.80 L598.23 1191.80 L599.05 1191.80 L599.88 1191.80 L600.70 1191.80 L601.53 1191.80 L602.35 1191.80 L603.18 1191.80 L604.00 1191.80 L604.83 1191.80 L605.65 1191.80 L606.48 1191.80 L607.30 1191.80 L608.12 1191.80 L608.95 1191.80 L609.78 1191.80 L610.60 1191.80 L611.43 1191.80 L612.25 1191.80 L613.08 1191.80 L613.90 1191.80 L614.73 1191.80 L615.55 1191.80 L616.38 1191.80 L617.20 1191.80 L618.03 1191.80 L618.85 1191.80 L619.68 1191.80 L620.50 1191.80 L621.33 1191.80 L622.15 1191.80 L622.98 1191.80 L623.80 1191.80 L624.62 1191.80 L625.45 1191.80 L626.28 1191.80 L627.10 1191.80 L627.93 1191.80 L628.75 1191.80 L629.58 1191.80 L630.40 1191.80 L631.23 1191.80 L632.05 1191.80 L632.88 1191.80 L633.70 1191.80 L634.53 1191.80 L635.35 1191.80 L636.18 1191.80 L637.00 1191.80 L637.83 1191.80 L638.65 1191.80 L639.48 1191.80 L640.30 1191.80 L641.12 1191.80 L641.95 1191.80 L642.78 1191.80 L643.60 1191.80 L644.43 1191.80 L645.25 1191.80 L646.08 1191.80 L646.90 1191.80 L647.73 1191.80 L648.55 1191.80 L649.38 1191.80 L650.20 1191.80 L651.03 1191.80 L651.85 1191.80 L652.68 1191.80 L653.50 1191.80 L654.33 1191.80 L655.15 1191.80 L655.98 1191.80 L656.80 1191.80 L657.62 1191.80 L658.45 1191.80 L659.28 1191.80 L660.10 1191.80 L660.93 1191.80 L661.75 1191.80 L662.58 1191.80 L663.40 1191.80 L664.23 1191.79 L665.05 1191.79 L665.88 1191.79 L666.70 1191.79 L667.53 1191.78 L668.35 1191.78 L669.18 1191.77 L670.00 1191.76 L670.83 1191.75 L671.65 1191.73 L672.48 1191.71 L673.30 1191.69 L674.12 1191.66 L674.95 1191.62 L675.78 1191.57 L676.60 1191.50 L677.43 1191.43 L678.25 1191.33 L679.08 1191.22 L679.90 1191.08 L680.73 1190.91 L681.55 1190.70 L682.38 1190.46 L683.20 1190.16 L684.03 1189.81 L684.85 1189.39 L685.68 1188.90 L686.50 1188.33 L687.33 1187.66 L688.15 1186.88 L688.98 1185.98 L689.80 1184.95 L690.62 1183.77 L691.45 1182.44 L692.28 1180.92 L693.10 1179.22 L693.93 1177.31 L694.75 1175.19 L695.58 1172.84 L696.40 1170.26 L697.23 1167.43 L698.05 1164.36 L698.88 1161.03 L699.70 1157.45 L700.53 1153.62 L701.35 1149.55 L702.18 1145.26 L703.00 1140.76 L703.83 1136.07 L704.65 1131.21 L705.48 1126.23 L706.30 1121.14 L707.12 1116.00 L707.95 1110.85 L708.78 1105.73 L709.60 1100.68 L710.43 1095.77 L711.25 1091.04 L712.08 1086.54 L712.90 1082.33 L713.73 1078.45 L714.55 1074.96 L715.38 1071.88 L716.20 1069.27 L717.03 1067.16 L717.85 1065.57 L718.68 1064.52 L719.50 1064.04 L720.33 1064.11 L721.15 1064.76 L721.98 1065.95 L722.80 1067.69 L723.62 1069.94 L724.45 1072.68 L725.28 1075.87 L726.10 1079.47 L726.93 1083.45 L727.75 1087.74 L728.58 1092.31 L729.40 1097.09 L730.23 1102.05 L731.05 1107.12 L731.88 1112.25 L732.70 1117.41 L733.53 1122.54 L734.35 1127.60 L735.18 1132.55 L736.00 1137.36 L736.83 1142.00 L737.65 1146.45 L738.48 1150.68 L739.30 1154.69 L740.12 1158.45 L740.95 1161.96 L741.78 1165.22 L742.60 1168.23 L743.43 1170.99 L744.25 1173.51 L745.08 1175.79 L745.90 1177.85 L746.73 1179.70 L747.55 1181.35 L748.38 1182.82 L749.20 1184.11 L750.03 1185.25 L750.85 1186.24 L751.68 1187.10 L752.50 1187.85 L753.33 1188.49 L754.15 1189.04 L754.98 1189.51 L755.80 1189.91 L756.62 1190.25 L757.45 1190.53 L758.28 1190.76 L759.10 1190.96 L759.93 1191.12 L760.75 1191.25 L761.58 1191.36 L762.40 1191.45 L763.23 1191.52 L764.05 1191.58 L764.88 1191.63 L765.70 1191.66 L766.53 1191.69 L767.35 1191.72 L768.18 1191.74 L769.00 1191.75 L769.83 1191.76 L770.65 1191.77 L771.48 1191.78 L772.30 1191.78 L773.12 1191.79 L773.95 1191.79 L774.78 1191.79 L775.60 1191.79 L776.43 1191.80 L777.25 1191.80 L778.08 1191.80 L778.90 1191.80 L779.73 1191.80 L780.55 1191.80 L781.38 1191.80 L782.20 1191.80 L783.03 1191.80 L783.85 1191.80 L784.68 1191.80 L785.50 1191.80 L786.33 1191.80 L787.15 1191.80 L787.98 1191.80 L788.80 1191.80 L789.62 1191.80 L790.45 1191.80 L791.28 1191.80 L792.10 1191.80 L792.93 1191.80 L793.75 1191.80 L794.58 1191.80 L795.40 1191.80 L796.23 1191.80 L797.05 1191.80 L797.88 1191.80 L798.70 1191.80 L799.53 1191.80 L800.35 1191.80 L801.18 1191.80 L802.00 1191.80 L802.83 1191.80 L803.65 1191.80 L804.48 1191.80 L805.30 1191.80 L806.12 1191.80 L806.95 1191.80 L807.78 1191.80 L808.60 1191.80 L809.43 1191.80 L810.25 1191.80 L811.08 1191.80 L811.90 1191.80 L812.73 1191.80 L813.55 1191.80 L814.38 1191.80 L815.20 1191.80 L816.03 1191.80 L816.85 1191.80 L817.68 1191.80 L818.50 1191.80 L819.33 1191.80 L820.15 1191.80 L820.98 1191.80 L821.80 1191.80 L822.62 1191.80 L823.45 1191.80 L824.28 1191.80 L825.10 1191.80 L825.93 1191.80 L826.75 1191.80 L827.58 1191.80 L828.40 1191.80 L829.23 1191.80 L830.05 1191.80 L830.88 1191.80 L831.70 1191.80 L832.53 1191.80 L833.35 1191.80 L834.18 1191.80 L835.00 1191.80 L835.83 1191.80 L836.65 1191.80 L837.48 1191.80 L838.30 1191.80 L839.12 1191.80 L839.95 1191.80 L840.78 1191.80 L841.60 1191.80 L842.43 1191.80 L843.25 1191.80 L844.08 1191.80 L844.90 1191.80 L845.73 1191.80 L846.55 1191.80 L847.38 1191.80 L848.20 1191.80 L849.03 1191.80 L849.85 1191.80 L850.68 1191.80 L851.50 1191.80 L852.33 1191.80 L853.15 1191.80 L853.98 1191.80 L854.80 1191.80 L855.62 1191.80 L856.45 1191.80 L857.28 1191.80 L858.10 1191.80 L858.93 1191.80 L859.75 1191.80 L860.58 1191.80 L861.40 1191.80 L862.23 1191.80 L863.05 1191.80 L863.88 1191.80 L864.70 1191.80 L865.53 1191.80 L866.35 1191.80 L867.18 1191.80 L868.00 1191.80 L868.83 1191.80 L869.65 1191.80 L870.48 1191.80 L871.30 1191.80 L872.12 1191.80 L872.95 1191.80 L873.78 1191.80 L874.60 1191.80 L875.43 1191.80 L876.25 1191.80 L877.08 1191.80 L877.90 1191.80 L878.73 1191.80 L879.55 1191.80 L880.38 1191.80 L881.20 1191.80" fill="none" stroke="#d62728" stroke-width="2.50"/>
</g>
<rect x="556.20" y="907.50" width="320.00" height="319.50" fill="none" stroke="#000" stroke-width="2.50"/>
<text x="612.50" y="1267.40" font-size="29.00" textLength="109.58" lengthAdjust="spacingAndGlyphs" text-anchor="middle">213.760</text>
<text x="769.30" y="1267.40" font-size="29.00" textLength="109.58" lengthAdjust="spacingAndGlyphs" text-anchor="middle">213.840</text>
<text x="535.60" y="1201.30" font-size="29.00" textLength="42.14" lengthAdjust="spacingAndGlyphs" text-anchor="end">0.0</text>
<text x="535.60" y="1130.15" font-size="29.00" textLength="42.14" lengthAdjust="spacingAndGlyphs" text-anchor="end">0.1</text>
<text x="535.60" y="1059.00" font-size="29.00" textLength="42.14" lengthAdjust="spacingAndGlyphs" text-anchor="end">0.2</text>
<text x="535.60" y="987.85" font-size="29.00" textLength="42.14" lengthAdjust="spacingAndGlyphs" text-anchor="end">0.3</text>
<text x="535.60" y="916.70" font-size="29.00" textLength="42.14" lengthAdjust="spacingAndGlyphs" text-anchor="end">0.4</text>
<path d="M612.50 1227.00V1238.80M612.50 907.50V895.70M769.30 1227.00V1238.80M769.30 907.50V895.70M556.20 1191.80H544.40M876.20 1191.80H888.00M556.20 1120.65H544.40M876.20 1120.65H888.00M556.20 1049.50H544.40M876.20 1049.50H888.00M556.20 978.35H544.40M876.20 978.35H888.00M556.20 907.20H544.40M876.20 907.20H888.00" stroke="#000" stroke-width="2.20" fill="none"/>
<path d="M573.30 1227.00V1231.60M573.30 907.50V902.90M651.70 1227.00V1231.60M651.70 907.50V902.90M690.90 1227.00V1231.60M690.90 907.50V902.90M730.10 1227.00V1231.60M730.10 907.50V902.90M808.50 1227.00V1231.60M808.50 907.50V902.90M847.70 1227.00V1231.60M847.70 907.50V902.90M556.20 1220.26H551.60M876.20 1220.26H880.80M556.20 1206.03H551.60M876.20 1206.03H880.80M556.20 1177.57H551.60M876.20 1177.57H880.80M556.20 1163.34H551.60M876.20 1163.34H880.80M556.20 1149.11H551.60M876.20 1149.11H880.80M556.20 1134.88H551.60M876.20 1134.88H880.80M556.20 1106.42H551.60M876.20 1106.42H880.80M556.20 1092.19H551.60M876.20 1092.19H880.80M556.20 1077.96H551.60M876.20 1077.96H880.80M556.20 1063.73H551.60M876.20 1063.73H880.80M556.20 1035.27H551.60M876.20 1035.27H880.80M556.20 1021.04H551.60M876.20 1021.04H880.80M556.20 1006.81H551.60M876.20 1006.81H880.80M556.20 992.58H551.60M876.20 992.58H880.80M556.20 964.12H551.60M876.20 964.12H880.80M556.20 949.89H551.60M876.20 949.89H880.80M556.20 935.66H551.60M876.20 935.66H880.80M556.20 921.43H551.60M876.20 921.43H880.80" stroke="#000" stroke-width="1.80" fill="none"/>
<g font-size="16">
<text transform="translate(1069.40 1072.50) rotate(-90)" fill="#0000b0" textLength="31.23" lengthAdjust="spacingAndGlyphs" text-anchor="start"><tspan font-size="16.00" dy="0.00">SO</tspan><tspan font-size="11.20" dy="3.04">2</tspan></text>
<text transform="translate(1284.30 1150.10) rotate(-90)" fill="#0000b0" textLength="92.40" lengthAdjust="spacingAndGlyphs" text-anchor="start"><tspan font-size="16.00" dy="0.00">HCOCH</tspan><tspan font-size="11.20" dy="3.04">2</tspan><tspan font-size="16.00" dy="-3.04">OH</tspan></text>
</g>
<g clip-path="url(#cp8)">
<path d="M971.60 1178.40V1179.14H975.00V1179.14H978.40V1172.79H981.80V1172.79H985.20V1170.14H988.60V1167.70H992.00V1162.62H995.40V1172.79H998.80V1172.79H1002.20V1180.41H1005.60V1181.68H1009.00V1191.86H1012.40V1190.60H1015.80V1189.31H1019.20V1161.34H1022.60V1172.79H1026.00V1181.68H1029.40V1176.60H1032.80V1181.68H1036.20V1176.60H1039.60V1154.99H1043.00V1147.78H1046.40V1141.00H1049.80V1120.66H1053.20V1113.03H1056.60V1093.97H1060.00V1077.44H1063.40V1101.98H1066.80V1107.95H1070.20V1120.66H1073.60V1133.38H1077.00V1141.00H1080.40V1143.55H1083.80V1149.90H1087.20V1166.43H1090.60V1158.80H1094.00V1157.39H1097.40V1156.26H1100.80V1166.43H1104.20V1156.26H1107.60V1166.43H1111.00V1171.51H1114.40V1095.24H1117.80V1069.81H1121.20V1049.47H1124.60V1034.21H1128.00V1024.04H1131.40V1003.70H1134.80V1054.56H1138.20V1082.52H1141.60V1105.41H1145.00V1115.58H1148.40V1120.66H1151.80V1143.55H1155.20V1156.26H1158.60V1157.51H1162.00V1158.80H1165.40V1158.80H1168.80V1177.87H1172.20V1186.77H1175.60V1181.68H1179.00V1176.60H1182.40V1182.96H1185.80V1181.68H1189.20V1179.06H1192.60V1176.60H1196.00V1184.23H1199.40V1181.68H1202.80V1176.60H1206.20V1179.14H1209.60V1168.97H1213.00V1176.60H1216.40V1182.96H1219.80V1182.27H1223.20V1181.68H1226.60V1179.14H1230.00V1184.23H1233.40V1174.06H1236.80V1179.14H1240.20V1181.68H1243.60V1184.23H1247.00V1189.31H1250.40V1176.60H1253.80V1173.72H1257.20V1170.24H1260.60V1168.97H1264.00V1166.43H1267.40V1160.07H1270.80V1168.97H1274.20V1181.68H1277.60V1176.60H1281.00V1181.68H1284.40V1176.23H1287.80V1170.24H1291.20V1184.23H1294.60V1180.41H1298.00V1178.40 Z" fill="#808080" fill-opacity="0.2" stroke="none"/>
<path d="M971.60 1179.14H975.00V1179.14H978.40V1172.79H981.80V1172.79H985.20V1170.14H988.60V1167.70H992.00V1162.62H995.40V1172.79H998.80V1172.79H1002.20V1180.41H1005.60V1181.68H1009.00V1191.86H1012.40V1190.60H1015.80V1189.31H1019.20V1161.34H1022.60V1172.79H1026.00V1181.68H1029.40V1176.60H1032.80V1181.68H1036.20V1176.60H1039.60V1154.99H1043.00V1147.78H1046.40V1141.00H1049.80V1120.66H1053.20V1113.03H1056.60V1093.97H1060.00V1077.44H1063.40V1101.98H1066.80V1107.95H1070.20V1120.66H1073.60V1133.38H1077.00V1141.00H1080.40V1143.55H1083.80V1149.90H1087.20V1166.43H1090.60V1158.80H1094.00V1157.39H1097.40V1156.26H1100.80V1166.43H1104.20V1156.26H1107.60V1166.43H1111.00V1171.51H1114.40V1095.24H1117.80V1069.81H1121.20V1049.47H1124.60V1034.21H1128.00V1024.04H1131.40V1003.70H1134.80V1054.56H1138.20V1082.52H1141.60V1105.41H1145.00V1115.58H1148.40V1120.66H1151.80V1143.55H1155.20V1156.26H1158.60V1157.51H1162.00V1158.80H1165.40V1158.80H1168.80V1177.87H1172.20V1186.77H1175.60V1181.68H1179.00V1176.60H1182.40V1182.96H1185.80V1181.68H1189.20V1179.06H1192.60V1176.60H1196.00V1184.23H1199.40V1181.68H1202.80V1176.60H1206.20V1179.14H1209.60V1168.97H1213.00V1176.60H1216.40V1182.96H1219.80V1182.27H1223.20V1181.68H1226.60V1179.14H1230.00V1184.23H1233.40V1174.06H1236.80V1179.14H1240.20V1181.68H1243.60V1184.23H1247.00V1189.31H1250.40V1176.60H1253.80V1173.72H1257.20V1170.24H1260.60V1168.97H1264.00V1166.43H1267.40V1160.07H1270.80V1168.97H1274.20V1181.68H1277.60V1176.60H1281.00V1181.68H1284.40V1176.23H1287.80V1170.24H1291.20V1184.23H1294.60V1180.41H1298.00" fill="none" stroke="#000" stroke-width="2.60" stroke-linejoin="miter"/>
<path d="M943.57 1175.33C948.66 1175.33 966.46 1175.46 974.09 1175.33C981.71 1175.20 984.26 1174.78 989.34 1174.57C994.43 1174.35 1000.36 1174.99 1004.60 1174.06C1008.83 1173.12 1011.80 1170.88 1014.77 1168.97C1017.73 1167.06 1019.85 1164.10 1022.39 1162.62C1024.94 1161.13 1027.48 1160.62 1030.02 1160.07C1032.56 1159.52 1035.53 1159.73 1037.65 1159.31C1039.77 1158.89 1041.04 1159.73 1042.74 1157.53C1044.43 1155.33 1046.13 1150.54 1047.82 1146.09C1049.52 1141.64 1051.21 1135.07 1052.91 1130.83C1054.60 1126.60 1056.42 1122.87 1057.99 1120.66C1059.56 1118.46 1060.83 1117.19 1062.31 1117.61C1063.80 1118.04 1065.28 1120.15 1066.89 1123.21C1068.50 1126.26 1070.28 1131.47 1071.97 1135.92C1073.67 1140.37 1075.36 1146.30 1077.06 1149.90C1078.76 1153.50 1080.45 1156.47 1082.15 1157.53C1083.84 1158.59 1085.32 1157.32 1087.23 1156.26C1089.14 1155.20 1091.47 1152.44 1093.59 1151.17C1095.71 1149.90 1097.82 1148.84 1099.94 1148.63C1102.06 1148.42 1104.18 1149.82 1106.30 1149.90C1108.42 1149.99 1110.54 1150.62 1112.66 1149.14C1114.78 1147.66 1117.11 1144.90 1119.01 1141.00C1120.92 1137.10 1122.40 1131.26 1124.10 1125.75C1125.79 1120.24 1127.49 1112.40 1129.18 1107.95C1130.88 1103.50 1132.91 1100.75 1134.27 1099.05C1135.62 1097.36 1136.05 1097.14 1137.32 1097.78C1138.59 1098.41 1140.29 1099.05 1141.90 1102.86C1143.51 1106.68 1145.29 1114.31 1146.98 1120.66C1148.68 1127.02 1150.37 1135.07 1152.07 1141.00C1153.76 1146.94 1155.46 1151.60 1157.15 1156.26C1158.85 1160.92 1160.54 1165.79 1162.24 1168.97C1163.93 1172.15 1165.20 1173.85 1167.32 1175.33C1169.44 1176.81 1169.86 1177.45 1174.95 1177.87C1180.03 1178.29 1189.78 1178.00 1197.83 1177.87C1205.88 1177.74 1215.63 1177.24 1223.26 1177.11C1230.89 1176.98 1238.94 1177.40 1243.60 1177.11C1248.26 1176.81 1248.68 1176.26 1251.23 1175.33C1253.77 1174.40 1256.31 1173.42 1258.86 1171.51C1261.40 1169.61 1263.94 1166.22 1266.48 1163.89C1269.03 1161.56 1271.78 1158.80 1274.11 1157.53C1276.44 1156.26 1278.35 1155.96 1280.47 1156.26C1282.59 1156.56 1284.49 1158.12 1286.82 1159.31C1289.15 1160.50 1288.09 1161.77 1294.45 1163.38C1300.81 1164.99 1319.88 1168.04 1324.96 1168.97" fill="none" stroke="#1f77b4" stroke-width="2.50"/>
<path d="M970.00 1178.40 L970.83 1178.40 L971.65 1178.40 L972.48 1178.40 L973.30 1178.40 L974.12 1178.40 L974.95 1178.40 L975.77 1178.40 L976.60 1178.40 L977.42 1178.40 L978.25 1178.40 L979.08 1178.40 L979.90 1178.40 L980.73 1178.40 L981.55 1178.40 L982.38 1178.40 L983.20 1178.40 L984.02 1178.40 L984.85 1178.40 L985.67 1178.40 L986.50 1178.40 L987.33 1178.40 L988.15 1178.40 L988.98 1178.40 L989.80 1178.40 L990.62 1178.40 L991.45 1178.40 L992.27 1178.40 L993.10 1178.40 L993.92 1178.40 L994.75 1178.40 L995.58 1178.40 L996.40 1178.40 L997.23 1178.40 L998.05 1178.40 L998.88 1178.40 L999.70 1178.40 L1000.52 1178.40 L1001.35 1178.40 L1002.17 1178.40 L1003.00 1178.40 L1003.83 1178.40 L1004.65 1178.40 L1005.48 1178.40 L1006.30 1178.40 L1007.12 1178.40 L1007.95 1178.40 L1008.77 1178.40 L1009.60 1178.40 L1010.42 1178.40 L1011.25 1178.40 L1012.08 1178.40 L1012.90 1178.40 L1013.73 1178.40 L1014.55 1178.40 L1015.38 1178.40 L1016.20 1178.40 L1017.02 1178.40 L1017.85 1178.40 L1018.67 1178.40 L1019.50 1178.40 L1020.33 1178.40 L1021.15 1178.40 L1021.98 1178.40 L1022.80 1178.40 L1023.62 1178.40 L1024.45 1178.40 L1025.28 1178.40 L1026.10 1178.40 L1026.92 1178.40 L1027.75 1178.40 L1028.58 1178.40 L1029.40 1178.40 L1030.22 1178.40 L1031.05 1178.40 L1031.88 1178.40 L1032.70 1178.40 L1033.53 1178.40 L1034.35 1178.40 L1035.17 1178.40 L1036.00 1178.40 L1036.83 1178.40 L1037.65 1178.40 L1038.47 1178.40 L1039.30 1178.40 L1040.12 1178.40 L1040.95 1178.40 L1041.78 1178.40 L1042.60 1178.40 L1043.42 1178.40 L1044.25 1178.40 L1045.08 1178.40 L1045.90 1178.40 L1046.72 1178.40 L1047.55 1178.40 L1048.38 1178.40 L1049.20 1178.40 L1050.03 1178.40 L1050.85 1178.40 L1051.67 1178.40 L1052.50 1178.40 L1053.33 1178.40 L1054.15 1178.40 L1054.97 1178.40 L1055.80 1178.40 L1056.62 1178.40 L1057.45 1178.40 L1058.28 1178.40 L1059.10 1178.40 L1059.92 1178.40 L1060.75 1178.40 L1061.58 1178.40 L1062.40 1178.40 L1063.22 1178.40 L1064.05 1178.40 L1064.88 1178.40 L1065.70 1178.40 L1066.53 1178.40 L1067.35 1178.40 L1068.17 1178.40 L1069.00 1178.40 L1069.83 1178.40 L1070.65 1178.40 L1071.47 1178.40 L1072.30 1178.40 L1073.12 1178.40 L1073.95 1178.40 L1074.78 1178.40 L1075.60 1178.40 L1076.42 1178.40 L1077.25 1178.40 L1078.08 1178.40 L1078.90 1178.40 L1079.72 1178.40 L1080.55 1178.40 L1081.38 1178.40 L1082.20 1178.39 L1083.03 1178.39 L1083.85 1178.39 L1084.67 1178.39 L1085.50 1178.38 L1086.33 1178.38 L1087.15 1178.37 L1087.97 1178.36 L1088.80 1178.35 L1089.62 1178.34 L1090.45 1178.32 L1091.28 1178.30 L1092.10 1178.27 L1092.92 1178.24 L1093.75 1178.20 L1094.58 1178.15 L1095.40 1178.09 L1096.22 1178.01 L1097.05 1177.92 L1097.88 1177.81 L1098.70 1177.67 L1099.53 1177.51 L1100.35 1177.32 L1101.17 1177.10 L1102.00 1176.83 L1102.83 1176.52 L1103.65 1176.16 L1104.47 1175.74 L1105.30 1175.25 L1106.12 1174.68 L1106.95 1174.04 L1107.78 1173.31 L1108.60 1172.48 L1109.42 1171.54 L1110.25 1170.48 L1111.08 1169.31 L1111.90 1168.00 L1112.72 1166.56 L1113.55 1164.98 L1114.38 1163.25 L1115.20 1161.37 L1116.03 1159.34 L1116.85 1157.15 L1117.67 1154.82 L1118.50 1152.35 L1119.33 1149.74 L1120.15 1147.00 L1120.97 1144.14 L1121.80 1141.19 L1122.62 1138.15 L1123.45 1135.06 L1124.28 1131.92 L1125.10 1128.78 L1125.92 1125.64 L1126.75 1122.55 L1127.58 1119.53 L1128.40 1116.61 L1129.22 1113.82 L1130.05 1111.20 L1130.88 1108.77 L1131.70 1106.56 L1132.53 1104.59 L1133.35 1102.90 L1134.17 1101.50 L1135.00 1100.41 L1135.83 1099.64 L1136.65 1099.21 L1137.47 1099.11 L1138.30 1099.35 L1139.12 1099.93 L1139.95 1100.83 L1140.78 1102.06 L1141.60 1103.59 L1142.42 1105.40 L1143.25 1107.47 L1144.08 1109.77 L1144.90 1112.29 L1145.72 1114.99 L1146.55 1117.83 L1147.38 1120.80 L1148.20 1123.85 L1149.03 1126.97 L1149.85 1130.11 L1150.67 1133.26 L1151.50 1136.38 L1152.33 1139.45 L1153.15 1142.45 L1153.97 1145.37 L1154.80 1148.17 L1155.62 1150.86 L1156.45 1153.41 L1157.28 1155.83 L1158.10 1158.10 L1158.92 1160.22 L1159.75 1162.19 L1160.58 1164.00 L1161.40 1165.67 L1162.22 1167.19 L1163.05 1168.57 L1163.88 1169.82 L1164.70 1170.95 L1165.53 1171.95 L1166.35 1172.84 L1167.17 1173.63 L1168.00 1174.32 L1168.83 1174.93 L1169.65 1175.46 L1170.47 1175.92 L1171.30 1176.32 L1172.12 1176.66 L1172.95 1176.95 L1173.78 1177.20 L1174.60 1177.41 L1175.42 1177.58 L1176.25 1177.73 L1177.08 1177.86 L1177.90 1177.96 L1178.72 1178.04 L1179.55 1178.11 L1180.38 1178.17 L1181.20 1178.22 L1182.03 1178.25 L1182.85 1178.28 L1183.67 1178.31 L1184.50 1178.33 L1185.33 1178.34 L1186.15 1178.36 L1186.97 1178.37 L1187.80 1178.37 L1188.62 1178.38 L1189.45 1178.38 L1190.28 1178.39 L1191.10 1178.39 L1191.92 1178.39 L1192.75 1178.40 L1193.58 1178.40 L1194.40 1178.40 L1195.22 1178.40 L1196.05 1178.40 L1196.88 1178.40 L1197.70 1178.40 L1198.53 1178.40 L1199.35 1178.40 L1200.17 1178.40 L1201.00 1178.40 L1201.83 1178.40 L1202.65 1178.40 L1203.47 1178.40 L1204.30 1178.40 L1205.12 1178.40 L1205.95 1178.40 L1206.78 1178.40 L1207.60 1178.40 L1208.42 1178.40 L1209.25 1178.40 L1210.08 1178.40 L1210.90 1178.40 L1211.72 1178.40 L1212.55 1178.40 L1213.38 1178.40 L1214.20 1178.40 L1215.03 1178.40 L1215.85 1178.40 L1216.67 1178.40 L1217.50 1178.40 L1218.33 1178.40 L1219.15 1178.40 L1219.97 1178.40 L1220.80 1178.40 L1221.62 1178.40 L1222.45 1178.40 L1223.28 1178.40 L1224.10 1178.40 L1224.92 1178.40 L1225.75 1178.40 L1226.58 1178.40 L1227.40 1178.40 L1228.22 1178.40 L1229.05 1178.40 L1229.88 1178.40 L1230.70 1178.40 L1231.53 1178.40 L1232.35 1178.40 L1233.17 1178.40 L1234.00 1178.40 L1234.83 1178.40 L1235.65 1178.40 L1236.47 1178.40 L1237.30 1178.40 L1238.12 1178.40 L1238.95 1178.40 L1239.78 1178.40 L1240.60 1178.40 L1241.42 1178.40 L1242.25 1178.40 L1243.08 1178.40 L1243.90 1178.40 L1244.72 1178.40 L1245.55 1178.40 L1246.38 1178.40 L1247.20 1178.40 L1248.03 1178.40 L1248.85 1178.40 L1249.67 1178.40 L1250.50 1178.40 L1251.33 1178.40 L1252.15 1178.40 L1252.97 1178.40 L1253.80 1178.40 L1254.62 1178.40 L1255.45 1178.40 L1256.28 1178.40 L1257.10 1178.40 L1257.92 1178.40 L1258.75 1178.40 L1259.58 1178.40 L1260.40 1178.40 L1261.22 1178.40 L1262.05 1178.40 L1262.88 1178.40 L1263.70 1178.40 L1264.53 1178.40 L1265.35 1178.40 L1266.17 1178.40 L1267.00 1178.40 L1267.83 1178.40 L1268.65 1178.40 L1269.47 1178.40 L1270.30 1178.40 L1271.12 1178.40 L1271.95 1178.40 L1272.78 1178.40 L1273.60 1178.40 L1274.42 1178.40 L1275.25 1178.40 L1276.08 1178.40 L1276.90 1178.40 L1277.72 1178.40 L1278.55 1178.40 L1279.38 1178.40 L1280.20 1178.40 L1281.03 1178.40 L1281.85 1178.40 L1282.67 1178.40 L1283.50 1178.40 L1284.33 1178.40 L1285.15 1178.40 L1285.97 1178.40 L1286.80 1178.40 L1287.62 1178.40 L1288.45 1178.40 L1289.28 1178.40 L1290.10 1178.40 L1290.92 1178.40 L1291.75 1178.40 L1292.58 1178.40 L1293.40 1178.40 L1294.22 1178.40 L1295.05 1178.40 L1295.88 1178.40 L1296.70 1178.40 L1297.53 1178.40 L1298.35 1178.40 L1299.17 1178.40 L1300.00 1178.40" fill="none" stroke="#d62728" stroke-width="2.50"/>
</g>
<rect x="975.00" y="907.50" width="320.00" height="319.50" fill="none" stroke="#000" stroke-width="2.50"/>
<text x="1009.40" y="1267.40" font-size="29.00" textLength="109.58" lengthAdjust="spacingAndGlyphs" text-anchor="middle">235.120</text>
<text x="1151.80" y="1267.40" font-size="29.00" textLength="109.58" lengthAdjust="spacingAndGlyphs" text-anchor="middle">235.200</text>
<text x="1294.20" y="1267.40" font-size="29.00" textLength="109.58" lengthAdjust="spacingAndGlyphs" text-anchor="middle">235.280</text>
<text x="954.40" y="1187.90" font-size="29.00" textLength="42.14" lengthAdjust="spacingAndGlyphs" text-anchor="end">0.0</text>
<text x="954.40" y="1091.15" font-size="29.00" textLength="42.14" lengthAdjust="spacingAndGlyphs" text-anchor="end">0.1</text>
<text x="954.40" y="994.40" font-size="29.00" textLength="42.14" lengthAdjust="spacingAndGlyphs" text-anchor="end">0.2</text>
<path d="M1009.40 1227.00V1238.80M1009.40 907.50V895.70M1151.80 1227.00V1238.80M1151.80 907.50V895.70M1294.20 1227.00V1238.80M1294.20 907.50V895.70M975.00 1178.40H963.20M1295.00 1178.40H1306.80M975.00 1081.65H963.20M1295.00 1081.65H1306.80M975.00 984.90H963.20M1295.00 984.90H1306.80" stroke="#000" stroke-width="2.20" fill="none"/>
<path d="M1045.00 1227.00V1231.60M1045.00 907.50V902.90M1080.60 1227.00V1231.60M1080.60 907.50V902.90M1116.20 1227.00V1231.60M1116.20 907.50V902.90M1187.40 1227.00V1231.60M1187.40 907.50V902.90M1223.00 1227.00V1231.60M1223.00 907.50V902.90M1258.60 1227.00V1231.60M1258.60 907.50V902.90M975.00 1217.10H970.40M1295.00 1217.10H1299.60M975.00 1197.75H970.40M1295.00 1197.75H1299.60M975.00 1159.05H970.40M1295.00 1159.05H1299.60M975.00 1139.70H970.40M1295.00 1139.70H1299.60M975.00 1120.35H970.40M1295.00 1120.35H1299.60M975.00 1101.00H970.40M1295.00 1101.00H1299.60M975.00 1062.30H970.40M1295.00 1062.30H1299.60M975.00 1042.95H970.40M1295.00 1042.95H1299.60M975.00 1023.60H970.40M1295.00 1023.60H1299.60M975.00 1004.25H970.40M1295.00 1004.25H1299.60M975.00 965.55H970.40M1295.00 965.55H1299.60M975.00 946.20H970.40M1295.00 946.20H1299.60M975.00 926.85H970.40M1295.00 926.85H1299.60M975.00 907.50H970.40M1295.00 907.50H1299.60" stroke="#000" stroke-width="1.80" fill="none"/>
<g font-size="16">
<text transform="translate(339.50 1572.70) rotate(-90)" fill="#0000b0" textLength="43.71" lengthAdjust="spacingAndGlyphs" text-anchor="start"><tspan font-size="16.00" dy="0.00">HC</tspan><tspan font-size="11.20" dy="3.04">5</tspan><tspan font-size="16.00" dy="-3.04">N</tspan></text>
</g>
<g clip-path="url(#cp9)">
<path d="M133.65 1716.60V1683.07H137.25V1683.07H140.85V1686.89H144.45V1694.51H148.05V1699.60H151.65V1704.68H155.25V1707.23H158.85V1723.75H162.45V1719.94H166.05V1730.11H169.65V1725.03H173.25V1730.11H176.85V1725.03H180.45V1723.75H184.05V1719.94H187.65V1716.13H191.25V1704.68H194.85V1716.13H198.45V1707.23H202.05V1717.40H205.65V1712.31H209.25V1709.77H212.85V1705.96H216.45V1699.60H220.05V1700.87H223.65V1703.41H227.25V1697.06H230.85V1689.43H234.45V1690.70H238.05V1704.68H241.65V1704.07H245.25V1703.41H248.85V1691.97H252.45V1688.16H256.05V1690.70H259.65V1684.34H263.25V1685.62H266.85V1681.80H270.45V1669.09H274.05V1681.80H277.65V1669.09H281.25V1664.00H284.85V1657.65H288.45V1648.75H292.05V1600.44H295.65V1585.18H299.25V1564.84H302.85V1526.70H306.45V1412.29H310.05V1221.59H313.65V1221.59H317.25V1221.59H320.85V1221.59H324.45V1221.59H328.05V1221.59H331.65V1221.59H335.25V1221.59H338.85V1221.59H342.45V1221.59H346.05V1221.59H349.65V1221.59H353.25V1221.59H356.85V1221.59H360.45V1221.59H364.05V1221.59H367.65V1221.59H371.25V1465.68H374.85V1519.08H378.45V1592.81H382.05V1620.78H385.65V1627.14H389.25V1626.48H392.85V1625.86H396.45V1622.05H400.05V1620.78H403.65V1615.69H407.25V1623.32H410.85V1615.69H414.45V1600.44H418.05V1592.81H421.65V1586.45H425.25V1608.07H428.85V1633.49H432.45V1671.63H436.05V1675.44H439.65V1681.80H443.25V1688.16H446.85V1686.89H450.45V1691.97H454.05V1693.27H457.65V1716.60 Z" fill="#808080" fill-opacity="0.2" stroke="none"/>
<path d="M133.65 1683.07H137.25V1683.07H140.85V1686.89H144.45V1694.51H148.05V1699.60H151.65V1704.68H155.25V1707.23H158.85V1723.75H162.45V1719.94H166.05V1730.11H169.65V1725.03H173.25V1730.11H176.85V1725.03H180.45V1723.75H184.05V1719.94H187.65V1716.13H191.25V1704.68H194.85V1716.13H198.45V1707.23H202.05V1717.40H205.65V1712.31H209.25V1709.77H212.85V1705.96H216.45V1699.60H220.05V1700.87H223.65V1703.41H227.25V1697.06H230.85V1689.43H234.45V1690.70H238.05V1704.68H241.65V1704.07H245.25V1703.41H248.85V1691.97H252.45V1688.16H256.05V1690.70H259.65V1684.34H263.25V1685.62H266.85V1681.80H270.45V1669.09H274.05V1681.80H277.65V1669.09H281.25V1664.00H284.85V1657.65H288.45V1648.75H292.05V1600.44H295.65V1585.18H299.25V1564.84H302.85V1526.70H306.45V1412.29H310.05V1221.59H313.65V1221.59H317.25V1221.59H320.85V1221.59H324.45V1221.59H328.05V1221.59H331.65V1221.59H335.25V1221.59H338.85V1221.59H342.45V1221.59H346.05V1221.59H349.65V1221.59H353.25V1221.59H356.85V1221.59H360.45V1221.59H364.05V1221.59H367.65V1221.59H371.25V1465.68H374.85V1519.08H378.45V1592.81H382.05V1620.78H385.65V1627.14H389.25V1626.48H392.85V1625.86H396.45V1622.05H400.05V1620.78H403.65V1615.69H407.25V1623.32H410.85V1615.69H414.45V1600.44H418.05V1592.81H421.65V1586.45H425.25V1608.07H428.85V1633.49H432.45V1671.63H436.05V1675.44H439.65V1681.80H443.25V1688.16H446.85V1686.89H450.45V1691.97H454.05V1693.27H457.65" fill="none" stroke="#000" stroke-width="2.60" stroke-linejoin="miter"/>
<path d="M105.57 1711.04C110.66 1711.25 128.46 1711.68 136.09 1712.31C143.71 1712.95 145.83 1714.22 151.34 1714.86C156.85 1715.49 161.93 1716.13 169.14 1716.13C176.34 1716.13 188.63 1715.91 194.56 1714.86C200.50 1713.80 201.77 1712.10 204.74 1709.77C207.70 1707.44 209.82 1704.26 212.36 1700.87C214.91 1697.48 217.24 1693.03 219.99 1689.43C222.75 1685.83 226.14 1681.46 228.89 1679.26C231.64 1677.06 233.97 1676.21 236.52 1676.21C239.06 1676.21 241.39 1677.48 244.15 1679.26C246.90 1681.04 249.87 1684.56 253.04 1686.89C256.22 1689.22 260.46 1691.76 263.21 1693.24C265.97 1694.73 267.66 1696.00 269.57 1695.79C271.48 1695.57 272.96 1695.15 274.66 1691.97C276.35 1688.79 278.26 1682.23 279.74 1676.72C281.22 1671.21 282.28 1665.27 283.56 1658.92C284.83 1652.56 286.10 1645.36 287.37 1638.58C288.64 1631.80 289.91 1626.29 291.18 1618.24C292.45 1610.19 293.73 1600.44 295.00 1590.27C296.27 1580.10 297.67 1569.50 298.81 1557.21C299.95 1544.93 301.01 1530.09 301.86 1516.53C302.71 1502.97 303.22 1490.26 303.90 1475.85C304.57 1461.44 305.29 1447.04 305.93 1430.09C306.57 1413.13 307.20 1391.95 307.71 1374.15C308.22 1356.35 308.77 1331.77 308.98 1323.30" fill="none" stroke="#1f77b4" stroke-width="2.50"/>
<path d="M368.73 1323.30C368.94 1331.77 369.58 1355.93 370.00 1374.15C370.43 1392.37 370.85 1415.68 371.27 1432.63C371.70 1449.58 372.12 1461.87 372.55 1475.85C372.97 1489.84 373.31 1501.70 373.82 1516.53C374.33 1531.36 374.96 1548.32 375.60 1564.84C376.23 1581.37 376.87 1600.01 377.63 1615.69C378.39 1631.37 379.11 1646.63 380.17 1658.92C381.23 1671.21 382.29 1682.23 383.99 1689.43C385.68 1696.63 387.59 1698.75 390.34 1702.14C393.10 1705.53 397.12 1707.74 400.51 1709.77C403.90 1711.80 406.87 1713.29 410.68 1714.35C414.50 1715.41 415.77 1715.83 423.40 1716.13C431.03 1716.42 445.86 1716.13 456.45 1716.13C467.05 1716.13 481.88 1716.13 486.96 1716.13" fill="none" stroke="#1f77b4" stroke-width="2.50"/>
<path d="M132.25 1716.60 L133.07 1716.60 L133.90 1716.60 L134.72 1716.60 L135.55 1716.60 L136.37 1716.60 L137.20 1716.60 L138.02 1716.60 L138.84 1716.60 L139.67 1716.60 L140.49 1716.60 L141.32 1716.60 L142.14 1716.60 L142.97 1716.60 L143.79 1716.60 L144.62 1716.60 L145.44 1716.60 L146.26 1716.60 L147.09 1716.60 L147.91 1716.60 L148.74 1716.60 L149.56 1716.60 L150.39 1716.60 L151.21 1716.60 L152.03 1716.60 L152.86 1716.60 L153.68 1716.60 L154.51 1716.60 L155.33 1716.60 L156.16 1716.60 L156.98 1716.60 L157.81 1716.60 L158.63 1716.60 L159.45 1716.60 L160.28 1716.60 L161.10 1716.60 L161.93 1716.60 L162.75 1716.60 L163.58 1716.60 L164.40 1716.60 L165.22 1716.60 L166.05 1716.60 L166.87 1716.60 L167.70 1716.60 L168.52 1716.60 L169.35 1716.60 L170.17 1716.60 L171.00 1716.60 L171.82 1716.60 L172.64 1716.60 L173.47 1716.60 L174.29 1716.60 L175.12 1716.60 L175.94 1716.60 L176.77 1716.60 L177.59 1716.60 L178.41 1716.60 L179.24 1716.60 L180.06 1716.60 L180.89 1716.60 L181.71 1716.60 L182.54 1716.60 L183.36 1716.60 L184.19 1716.60 L185.01 1716.60 L185.83 1716.60 L186.66 1716.60 L187.48 1716.60 L188.31 1716.60 L189.13 1716.60 L189.96 1716.60 L190.78 1716.60 L191.60 1716.60 L192.43 1716.60 L193.25 1716.60 L194.08 1716.60 L194.90 1716.60 L195.73 1716.60 L196.55 1716.60 L197.38 1716.60 L198.20 1716.60 L199.02 1716.60 L199.85 1716.60 L200.67 1716.60 L201.50 1716.60 L202.32 1716.60 L203.15 1716.60 L203.97 1716.60 L204.80 1716.60 L205.62 1716.60 L206.44 1716.60 L207.27 1716.60 L208.09 1716.60 L208.92 1716.60 L209.74 1716.60 L210.57 1716.60 L211.39 1716.60 L212.21 1716.60 L213.04 1716.60 L213.86 1716.60 L214.69 1716.60 L215.51 1716.60 L216.34 1716.60 L217.16 1716.60 L217.99 1716.60 L218.81 1716.60 L219.63 1716.60 L220.46 1716.60 L221.28 1716.60 L222.11 1716.60 L222.93 1716.60 L223.76 1716.60 L224.58 1716.60 L225.40 1716.60 L226.23 1716.60 L227.05 1716.60 L227.88 1716.60 L228.70 1716.60 L229.53 1716.60 L230.35 1716.60 L231.18 1716.60 L232.00 1716.60 L232.82 1716.60 L233.65 1716.60 L234.47 1716.60 L235.30 1716.60 L236.12 1716.60 L236.95 1716.60 L237.77 1716.60 L238.59 1716.60 L239.42 1716.60 L240.24 1716.60 L241.07 1716.60 L241.89 1716.60 L242.72 1716.60 L243.54 1716.60 L244.37 1716.59 L245.19 1716.59 L246.01 1716.59 L246.84 1716.59 L247.66 1716.58 L248.49 1716.58 L249.31 1716.57 L250.14 1716.56 L250.96 1716.55 L251.78 1716.53 L252.61 1716.52 L253.43 1716.49 L254.26 1716.46 L255.08 1716.43 L255.91 1716.38 L256.73 1716.33 L257.56 1716.26 L258.38 1716.17 L259.20 1716.07 L260.03 1715.95 L260.85 1715.80 L261.68 1715.62 L262.50 1715.41 L263.33 1715.16 L264.15 1714.86 L264.97 1714.50 L265.80 1714.09 L266.62 1713.60 L267.45 1713.04 L268.27 1712.39 L269.10 1711.65 L269.92 1710.80 L270.75 1709.83 L271.57 1708.73 L272.39 1707.49 L273.22 1706.10 L274.04 1704.56 L274.87 1702.84 L275.69 1700.95 L276.52 1698.87 L277.34 1696.60 L278.16 1694.14 L278.99 1691.49 L279.81 1688.64 L280.64 1685.60 L281.46 1682.38 L282.29 1678.98 L283.11 1675.42 L283.94 1671.72 L284.76 1667.90 L285.58 1663.97 L286.41 1659.97 L287.23 1655.93 L288.06 1651.87 L288.88 1647.85 L289.71 1643.88 L290.53 1640.01 L291.35 1636.28 L292.18 1632.73 L293.00 1629.39 L293.83 1626.31 L294.65 1623.52 L295.48 1621.05 L296.30 1618.94 L297.12 1617.21 L297.95 1615.88 L298.77 1614.96 L299.60 1614.48 L300.42 1614.43 L301.25 1614.82 L302.07 1615.64 L302.90 1616.88 L303.72 1618.53 L304.54 1620.56 L305.37 1622.96 L306.19 1625.68 L307.02 1628.70 L307.84 1631.98 L308.67 1635.49 L309.49 1639.18 L310.31 1643.03 L311.14 1646.98 L311.96 1650.99 L312.79 1655.05 L313.61 1659.09 L314.44 1663.11 L315.26 1667.05 L316.09 1670.90 L316.91 1674.63 L317.73 1678.22 L318.56 1681.65 L319.38 1684.91 L320.21 1687.99 L321.03 1690.89 L321.86 1693.58 L322.68 1696.09 L323.50 1698.39 L324.33 1700.51 L325.15 1702.44 L325.98 1704.20 L326.80 1705.78 L327.63 1707.20 L328.45 1708.47 L329.28 1709.60 L330.10 1710.60 L330.92 1711.47 L331.75 1712.24 L332.57 1712.91 L333.40 1713.49 L334.22 1713.99 L335.05 1714.42 L335.87 1714.78 L336.69 1715.09 L337.52 1715.36 L338.34 1715.58 L339.17 1715.76 L339.99 1715.92 L340.82 1716.05 L341.64 1716.15 L342.47 1716.24 L343.29 1716.31 L344.11 1716.37 L344.94 1716.42 L345.76 1716.46 L346.59 1716.49 L347.41 1716.51 L348.24 1716.53 L349.06 1716.55 L349.88 1716.56 L350.71 1716.57 L351.53 1716.58 L352.36 1716.58 L353.18 1716.59 L354.01 1716.59 L354.83 1716.59 L355.66 1716.59 L356.48 1716.60 L357.30 1716.60 L358.13 1716.60 L358.95 1716.60 L359.78 1716.60 L360.60 1716.60 L361.43 1716.60 L362.25 1716.60 L363.07 1716.60 L363.90 1716.60 L364.72 1716.60 L365.55 1716.60 L366.37 1716.60 L367.20 1716.60 L368.02 1716.60 L368.85 1716.60 L369.67 1716.60 L370.49 1716.60 L371.32 1716.60 L372.14 1716.60 L372.97 1716.60 L373.79 1716.60 L374.62 1716.60 L375.44 1716.60 L376.26 1716.60 L377.09 1716.60 L377.91 1716.60 L378.74 1716.60 L379.56 1716.60 L380.39 1716.60 L381.21 1716.60 L382.04 1716.60 L382.86 1716.60 L383.68 1716.60 L384.51 1716.60 L385.33 1716.60 L386.16 1716.60 L386.98 1716.60 L387.81 1716.60 L388.63 1716.60 L389.45 1716.60 L390.28 1716.60 L391.10 1716.60 L391.93 1716.60 L392.75 1716.60 L393.58 1716.60 L394.40 1716.60 L395.23 1716.60 L396.05 1716.60 L396.87 1716.60 L397.70 1716.60 L398.52 1716.60 L399.35 1716.60 L400.17 1716.60 L401.00 1716.60 L401.82 1716.60 L402.64 1716.60 L403.47 1716.60 L404.29 1716.60 L405.12 1716.60 L405.94 1716.60 L406.77 1716.60 L407.59 1716.60 L408.42 1716.60 L409.24 1716.60 L410.06 1716.60 L410.89 1716.60 L411.71 1716.60 L412.54 1716.60 L413.36 1716.60 L414.19 1716.60 L415.01 1716.60 L415.83 1716.60 L416.66 1716.60 L417.48 1716.60 L418.31 1716.60 L419.13 1716.60 L419.96 1716.60 L420.78 1716.60 L421.61 1716.60 L422.43 1716.60 L423.25 1716.60 L424.08 1716.60 L424.90 1716.60 L425.73 1716.60 L426.55 1716.60 L427.38 1716.60 L428.20 1716.60 L429.02 1716.60 L429.85 1716.60 L430.67 1716.60 L431.50 1716.60 L432.32 1716.60 L433.15 1716.60 L433.97 1716.60 L434.80 1716.60 L435.62 1716.60 L436.44 1716.60 L437.27 1716.60 L438.09 1716.60 L438.92 1716.60 L439.74 1716.60 L440.57 1716.60 L441.39 1716.60 L442.21 1716.60 L443.04 1716.60 L443.86 1716.60 L444.69 1716.60 L445.51 1716.60 L446.34 1716.60 L447.16 1716.60 L447.99 1716.60 L448.81 1716.60 L449.63 1716.60 L450.46 1716.60 L451.28 1716.60 L452.11 1716.60 L452.93 1716.60 L453.76 1716.60 L454.58 1716.60 L455.40 1716.60 L456.23 1716.60 L457.05 1716.60 L457.88 1716.60 L458.70 1716.60 L459.53 1716.60 L460.35 1716.60 L461.18 1716.60 L462.00 1716.60" fill="none" stroke="#d62728" stroke-width="2.50"/>
</g>
<rect x="137.25" y="1430.40" width="319.75" height="320.20" fill="none" stroke="#000" stroke-width="2.50"/>
<text x="266.70" y="1791.00" font-size="29.00" textLength="92.72" lengthAdjust="spacingAndGlyphs" text-anchor="middle">42.595</text>
<text x="413.98" y="1791.00" font-size="29.00" textLength="92.72" lengthAdjust="spacingAndGlyphs" text-anchor="middle">42.610</text>
<text x="116.65" y="1726.10" font-size="29.00" textLength="16.86" lengthAdjust="spacingAndGlyphs" text-anchor="end">0</text>
<text x="116.65" y="1668.95" font-size="29.00" textLength="16.86" lengthAdjust="spacingAndGlyphs" text-anchor="end">5</text>
<text x="116.65" y="1611.80" font-size="29.00" textLength="33.72" lengthAdjust="spacingAndGlyphs" text-anchor="end">10</text>
<text x="116.65" y="1554.65" font-size="29.00" textLength="33.72" lengthAdjust="spacingAndGlyphs" text-anchor="end">15</text>
<text x="116.65" y="1497.50" font-size="29.00" textLength="33.72" lengthAdjust="spacingAndGlyphs" text-anchor="end">20</text>
<text x="116.65" y="1440.35" font-size="29.00" textLength="33.72" lengthAdjust="spacingAndGlyphs" text-anchor="end">25</text>
<path d="M266.70 1750.60V1762.40M266.70 1430.40V1418.60M413.98 1750.60V1762.40M413.98 1430.40V1418.60M137.25 1716.60H125.45M457.00 1716.60H468.80M137.25 1659.45H125.45M457.00 1659.45H468.80M137.25 1602.30H125.45M457.00 1602.30H468.80M137.25 1545.15H125.45M457.00 1545.15H468.80M137.25 1488.00H125.45M457.00 1488.00H468.80M137.25 1430.85H125.45M457.00 1430.85H468.80" stroke="#000" stroke-width="2.20" fill="none"/>
<path d="M156.24 1750.60V1755.20M156.24 1430.40V1425.80M193.06 1750.60V1755.20M193.06 1430.40V1425.80M229.88 1750.60V1755.20M229.88 1430.40V1425.80M303.52 1750.60V1755.20M303.52 1430.40V1425.80M340.34 1750.60V1755.20M340.34 1430.40V1425.80M377.16 1750.60V1755.20M377.16 1430.40V1425.80M450.80 1750.60V1755.20M450.80 1430.40V1425.80M137.25 1750.89H132.65M457.00 1750.89H461.60M137.25 1739.46H132.65M457.00 1739.46H461.60M137.25 1728.03H132.65M457.00 1728.03H461.60M137.25 1705.17H132.65M457.00 1705.17H461.60M137.25 1693.74H132.65M457.00 1693.74H461.60M137.25 1682.31H132.65M457.00 1682.31H461.60M137.25 1670.88H132.65M457.00 1670.88H461.60M137.25 1648.02H132.65M457.00 1648.02H461.60M137.25 1636.59H132.65M457.00 1636.59H461.60M137.25 1625.16H132.65M457.00 1625.16H461.60M137.25 1613.73H132.65M457.00 1613.73H461.60M137.25 1590.87H132.65M457.00 1590.87H461.60M137.25 1579.44H132.65M457.00 1579.44H461.60M137.25 1568.01H132.65M457.00 1568.01H461.60M137.25 1556.58H132.65M457.00 1556.58H461.60M137.25 1533.72H132.65M457.00 1533.72H461.60M137.25 1522.29H132.65M457.00 1522.29H461.60M137.25 1510.86H132.65M457.00 1510.86H461.60M137.25 1499.43H132.65M457.00 1499.43H461.60M137.25 1476.57H132.65M457.00 1476.57H461.60M137.25 1465.14H132.65M457.00 1465.14H461.60M137.25 1453.71H132.65M457.00 1453.71H461.60M137.25 1442.28H132.65M457.00 1442.28H461.60" stroke="#000" stroke-width="1.80" fill="none"/>
<g font-size="16">
</g>
<g clip-path="url(#cp10)">
<path d="M552.90 1708.50V1698.33H556.20V1698.33H559.50V1717.40H562.80V1693.24H566.10V1695.79H569.40V1700.41H572.70V1704.68H576.00V1685.62H579.30V1683.07H582.60V1691.97H585.90V1685.62H589.20V1674.17H592.50V1675.44H595.80V1704.68H599.10V1707.23H602.40V1666.55H605.70V1676.72H609.00V1672.90H612.30V1690.70H615.60V1661.46H618.90V1643.66H622.20V1638.58H625.50V1625.86H628.80V1624.59H632.10V1622.05H635.40V1628.41H638.70V1641.12H642.00V1643.94H645.30V1646.21H648.60V1651.29H651.90V1658.92H655.20V1686.89H658.50V1693.85H661.80V1699.60H665.10V1702.14H668.40V1719.94H671.70V1704.68H675.00V1717.40H678.30V1712.31H681.60V1697.06H684.90V1689.43H688.20V1684.34H691.50V1694.51H694.80V1709.77H698.10V1704.68H701.40V1661.46H704.70V1676.72H708.00V1671.63H711.30V1661.46H714.60V1679.26H717.90V1678.10H721.20V1676.72H724.50V1662.73H727.80V1665.27H731.10V1653.83H734.40V1652.56H737.70V1648.75H741.00V1646.21H744.30V1648.75H747.60V1638.58H750.90V1639.14H754.20V1639.85H757.50V1643.66H760.80V1661.46H764.10V1676.72H767.40V1693.85H770.70V1699.60H774.00V1704.68H777.30V1717.40H780.60V1714.86H783.90V1704.68H787.20V1684.34H790.50V1675.59H793.80V1666.55H797.10V1646.21H800.40V1600.44H803.70V1572.47H807.00V1592.81H810.30V1602.98H813.60V1582.64H816.90V1590.27H820.20V1608.07H823.50V1648.75H826.80V1666.55H830.10V1679.26H833.40V1686.89H836.70V1694.51H840.00V1695.71H843.30V1697.06H846.60V1700.87H849.90V1703.41H853.20V1704.68H856.50V1714.86H859.80V1702.14H863.10V1701.47H866.40V1700.87H869.70V1698.33H873.00V1699.60H876.30V1708.50 Z" fill="#808080" fill-opacity="0.2" stroke="none"/>
<path d="M552.90 1698.33H556.20V1698.33H559.50V1717.40H562.80V1693.24H566.10V1695.79H569.40V1700.41H572.70V1704.68H576.00V1685.62H579.30V1683.07H582.60V1691.97H585.90V1685.62H589.20V1674.17H592.50V1675.44H595.80V1704.68H599.10V1707.23H602.40V1666.55H605.70V1676.72H609.00V1672.90H612.30V1690.70H615.60V1661.46H618.90V1643.66H622.20V1638.58H625.50V1625.86H628.80V1624.59H632.10V1622.05H635.40V1628.41H638.70V1641.12H642.00V1643.94H645.30V1646.21H648.60V1651.29H651.90V1658.92H655.20V1686.89H658.50V1693.85H661.80V1699.60H665.10V1702.14H668.40V1719.94H671.70V1704.68H675.00V1717.40H678.30V1712.31H681.60V1697.06H684.90V1689.43H688.20V1684.34H691.50V1694.51H694.80V1709.77H698.10V1704.68H701.40V1661.46H704.70V1676.72H708.00V1671.63H711.30V1661.46H714.60V1679.26H717.90V1678.10H721.20V1676.72H724.50V1662.73H727.80V1665.27H731.10V1653.83H734.40V1652.56H737.70V1648.75H741.00V1646.21H744.30V1648.75H747.60V1638.58H750.90V1639.14H754.20V1639.85H757.50V1643.66H760.80V1661.46H764.10V1676.72H767.40V1693.85H770.70V1699.60H774.00V1704.68H777.30V1717.40H780.60V1714.86H783.90V1704.68H787.20V1684.34H790.50V1675.59H793.80V1666.55H797.10V1646.21H800.40V1600.44H803.70V1572.47H807.00V1592.81H810.30V1602.98H813.60V1582.64H816.90V1590.27H820.20V1608.07H823.50V1648.75H826.80V1666.55H830.10V1679.26H833.40V1686.89H836.70V1694.51H840.00V1695.71H843.30V1697.06H846.60V1700.87H849.90V1703.41H853.20V1704.68H856.50V1714.86H859.80V1702.14H863.10V1701.47H866.40V1700.87H869.70V1698.33H873.00V1699.60H876.30" fill="none" stroke="#000" stroke-width="2.60" stroke-linejoin="miter"/>
<path d="M524.57 1698.33C529.66 1698.33 547.46 1698.12 555.09 1698.33C562.71 1698.54 565.26 1699.60 570.34 1699.60C575.43 1699.60 581.36 1698.33 585.60 1698.33C589.83 1698.33 592.38 1698.75 595.77 1699.60C599.16 1700.45 602.55 1702.35 605.94 1703.41C609.33 1704.47 613.14 1705.74 616.11 1705.96C619.07 1706.17 621.19 1706.17 623.74 1704.68C626.28 1703.20 628.82 1699.81 631.36 1697.06C633.91 1694.30 636.45 1690.36 638.99 1688.16C641.53 1685.95 644.08 1684.05 646.62 1683.84C649.16 1683.62 651.70 1685.53 654.25 1686.89C656.79 1688.24 659.33 1690.79 661.87 1691.97C664.42 1693.16 666.96 1694.01 669.50 1694.01C672.04 1694.01 674.59 1692.73 677.13 1691.97C679.67 1691.21 683.00 1690.24 684.76 1689.43C686.52 1688.62 686.64 1687.95 687.70 1687.10C688.76 1686.25 689.83 1685.88 691.11 1684.34C692.40 1682.81 693.92 1681.56 695.40 1677.90C696.88 1674.24 698.72 1667.08 700.00 1662.40C701.28 1657.72 702.42 1652.87 703.10 1649.84C703.78 1646.80 703.77 1646.09 704.10 1644.19C704.43 1642.28 704.77 1640.35 705.10 1638.42C705.43 1636.48 705.77 1634.53 706.10 1632.58C706.43 1630.64 706.77 1628.69 707.10 1626.76C707.43 1624.83 707.77 1622.91 708.10 1621.02C708.43 1619.13 708.77 1617.25 709.10 1615.43C709.43 1613.61 709.77 1611.81 710.10 1610.08C710.43 1608.35 710.77 1606.66 711.10 1605.05C711.43 1603.44 711.77 1601.88 712.10 1600.41C712.43 1598.94 712.77 1597.54 713.10 1596.24C713.43 1594.94 713.77 1593.72 714.10 1592.61C714.43 1591.50 714.77 1590.48 715.10 1589.57C715.43 1588.67 715.77 1587.87 716.10 1587.19C716.43 1586.51 716.77 1585.95 717.10 1585.50C717.43 1585.06 717.77 1584.74 718.10 1584.54C718.43 1584.34 718.77 1584.27 719.10 1584.31C719.43 1584.36 719.77 1584.54 720.10 1584.84C720.43 1585.13 720.77 1585.56 721.10 1586.09C721.43 1586.63 721.77 1587.29 722.10 1588.06C722.43 1588.83 722.77 1589.72 723.10 1590.71C723.43 1591.70 723.77 1592.80 724.10 1593.99C724.43 1595.18 724.77 1596.48 725.10 1597.85C725.43 1599.22 725.77 1600.69 726.10 1602.21C726.43 1603.74 726.77 1605.36 727.10 1607.02C727.43 1608.68 727.77 1610.42 728.10 1612.19C728.43 1613.96 728.77 1615.79 729.10 1617.64C729.43 1619.49 729.77 1621.39 730.10 1623.30C730.43 1625.21 730.77 1627.15 731.10 1629.09C731.43 1631.02 731.77 1632.98 732.10 1634.92C732.43 1636.86 732.77 1638.81 733.10 1640.74C733.43 1642.66 733.77 1644.58 734.10 1646.46C734.43 1648.35 734.77 1650.22 735.10 1652.05C735.43 1653.88 735.77 1655.68 736.10 1657.44C736.43 1659.20 736.77 1660.92 737.10 1662.59C737.43 1664.26 737.77 1665.89 738.10 1667.47C738.43 1669.05 738.77 1670.58 739.10 1672.05C739.43 1673.53 739.77 1674.95 740.10 1676.32C740.43 1677.68 740.77 1678.99 741.10 1680.25C741.43 1681.51 741.77 1682.71 742.10 1683.85C742.43 1685.00 742.77 1686.09 743.10 1687.12C743.43 1688.16 743.77 1689.14 744.10 1690.07C744.43 1691.00 744.77 1691.88 745.10 1692.71C745.43 1693.54 745.77 1694.32 746.10 1695.05C746.43 1695.78 746.77 1696.47 747.10 1697.11C747.43 1697.76 747.77 1698.35 748.10 1698.92C748.43 1699.48 748.77 1700.00 749.10 1700.48C749.43 1700.97 749.77 1701.42 750.10 1701.83C750.43 1702.25 750.77 1702.63 751.10 1702.99C751.43 1703.35 751.77 1703.67 752.10 1703.97C752.43 1704.28 752.77 1704.55 753.10 1704.80C753.43 1705.06 753.77 1705.29 754.10 1705.50C754.43 1705.71 754.77 1705.90 755.10 1706.08C755.43 1706.25 755.77 1706.41 756.10 1706.56C756.43 1706.70 756.77 1706.83 757.10 1706.95C757.43 1707.07 757.77 1707.18 758.10 1707.27C758.43 1707.37 758.77 1707.45 759.10 1707.53C759.43 1707.61 759.77 1707.68 760.10 1707.74C760.43 1707.81 760.77 1707.86 761.10 1707.91C761.43 1707.96 761.77 1708.00 762.10 1708.04C762.43 1708.08 762.77 1708.12 763.10 1708.15C763.43 1708.18 763.77 1708.21 764.10 1708.23C764.43 1708.26 764.77 1708.28 765.10 1708.30C765.43 1708.32 765.77 1708.33 766.10 1708.35C766.43 1708.36 766.77 1708.37 767.10 1708.38C767.43 1708.40 767.77 1708.41 768.10 1708.41C768.43 1708.42 768.77 1708.43 769.10 1708.44C769.43 1708.44 768.94 1709.71 770.10 1708.45C771.26 1707.19 774.58 1702.35 776.04 1700.87C777.49 1699.40 777.52 1701.93 778.83 1699.60C780.15 1697.27 782.22 1692.40 783.92 1686.89C785.61 1681.38 787.31 1674.17 789.00 1666.55C790.70 1658.92 792.39 1650.87 794.09 1641.12C795.78 1631.37 797.48 1619.08 799.17 1608.07C800.87 1597.05 802.78 1583.06 804.26 1575.01C805.74 1566.96 806.80 1561.03 808.07 1559.76C809.34 1558.49 810.62 1562.72 811.89 1567.38C813.16 1572.05 814.43 1580.52 815.70 1587.73C816.97 1594.93 818.03 1602.56 819.51 1610.61C821.00 1618.66 822.90 1627.14 824.60 1636.03C826.29 1644.93 827.99 1655.95 829.68 1664.00C831.38 1672.05 833.07 1679.89 834.77 1684.34C836.46 1688.79 837.95 1690.06 839.86 1690.70C841.76 1691.34 844.09 1689.01 846.21 1688.16C848.33 1687.31 850.45 1685.62 852.57 1685.62C854.69 1685.62 856.81 1686.89 858.92 1688.16C861.04 1689.43 863.16 1691.34 865.28 1693.24C867.40 1695.15 869.73 1697.90 871.64 1699.60C873.54 1701.29 871.00 1702.14 876.72 1703.41C882.44 1704.68 901.09 1706.59 905.96 1707.23" fill="none" stroke="#1f77b4" stroke-width="2.50"/>
<path d="M551.20 1708.50 L552.03 1708.50 L552.85 1708.50 L553.68 1708.50 L554.50 1708.50 L555.33 1708.50 L556.15 1708.50 L556.98 1708.50 L557.80 1708.50 L558.62 1708.50 L559.45 1708.50 L560.28 1708.50 L561.10 1708.50 L561.93 1708.50 L562.75 1708.50 L563.58 1708.50 L564.40 1708.50 L565.23 1708.50 L566.05 1708.50 L566.88 1708.50 L567.70 1708.50 L568.53 1708.50 L569.35 1708.50 L570.18 1708.50 L571.00 1708.50 L571.83 1708.50 L572.65 1708.50 L573.48 1708.50 L574.30 1708.50 L575.12 1708.50 L575.95 1708.50 L576.78 1708.50 L577.60 1708.50 L578.43 1708.50 L579.25 1708.50 L580.08 1708.50 L580.90 1708.50 L581.73 1708.50 L582.55 1708.50 L583.38 1708.50 L584.20 1708.50 L585.03 1708.50 L585.85 1708.50 L586.68 1708.50 L587.50 1708.50 L588.33 1708.50 L589.15 1708.50 L589.98 1708.50 L590.80 1708.50 L591.62 1708.50 L592.45 1708.50 L593.28 1708.50 L594.10 1708.50 L594.93 1708.50 L595.75 1708.50 L596.58 1708.50 L597.40 1708.50 L598.23 1708.50 L599.05 1708.50 L599.88 1708.50 L600.70 1708.50 L601.53 1708.50 L602.35 1708.50 L603.18 1708.50 L604.00 1708.50 L604.83 1708.50 L605.65 1708.50 L606.48 1708.50 L607.30 1708.50 L608.12 1708.50 L608.95 1708.50 L609.78 1708.50 L610.60 1708.50 L611.43 1708.50 L612.25 1708.50 L613.08 1708.50 L613.90 1708.50 L614.73 1708.50 L615.55 1708.50 L616.38 1708.50 L617.20 1708.50 L618.03 1708.50 L618.85 1708.50 L619.68 1708.50 L620.50 1708.50 L621.33 1708.50 L622.15 1708.50 L622.98 1708.50 L623.80 1708.50 L624.62 1708.50 L625.45 1708.50 L626.28 1708.50 L627.10 1708.50 L627.93 1708.50 L628.75 1708.50 L629.58 1708.50 L630.40 1708.50 L631.23 1708.50 L632.05 1708.50 L632.88 1708.50 L633.70 1708.50 L634.53 1708.50 L635.35 1708.50 L636.18 1708.50 L637.00 1708.50 L637.83 1708.50 L638.65 1708.50 L639.48 1708.50 L640.30 1708.50 L641.12 1708.50 L641.95 1708.50 L642.78 1708.50 L643.60 1708.50 L644.43 1708.50 L645.25 1708.50 L646.08 1708.50 L646.90 1708.50 L647.73 1708.50 L648.55 1708.50 L649.38 1708.50 L650.20 1708.50 L651.03 1708.50 L651.85 1708.50 L652.68 1708.50 L653.50 1708.50 L654.33 1708.50 L655.15 1708.50 L655.98 1708.50 L656.80 1708.50 L657.62 1708.50 L658.45 1708.50 L659.28 1708.50 L660.10 1708.50 L660.93 1708.49 L661.75 1708.49 L662.58 1708.49 L663.40 1708.49 L664.23 1708.48 L665.05 1708.48 L665.88 1708.47 L666.70 1708.47 L667.53 1708.46 L668.35 1708.44 L669.18 1708.43 L670.00 1708.41 L670.83 1708.38 L671.65 1708.35 L672.48 1708.31 L673.30 1708.26 L674.12 1708.20 L674.95 1708.13 L675.78 1708.04 L676.60 1707.93 L677.43 1707.79 L678.25 1707.63 L679.08 1707.44 L679.90 1707.21 L680.73 1706.94 L681.55 1706.62 L682.38 1706.24 L683.20 1705.80 L684.03 1705.29 L684.85 1704.69 L685.68 1704.00 L686.50 1703.20 L687.33 1702.29 L688.15 1701.25 L688.98 1700.07 L689.80 1698.75 L690.62 1697.26 L691.45 1695.59 L692.28 1693.74 L693.10 1691.69 L693.93 1689.44 L694.75 1686.97 L695.58 1684.28 L696.40 1681.37 L697.23 1678.23 L698.05 1674.86 L698.88 1671.27 L699.70 1667.47 L700.53 1663.47 L701.35 1659.27 L702.18 1654.91 L703.00 1650.39 L703.83 1645.76 L704.65 1641.02 L705.48 1636.23 L706.30 1631.42 L707.12 1626.62 L707.95 1621.87 L708.78 1617.23 L709.60 1612.72 L710.43 1608.41 L711.25 1604.33 L712.08 1600.52 L712.90 1597.03 L713.73 1593.90 L714.55 1591.16 L715.38 1588.85 L716.20 1586.99 L717.03 1585.61 L717.85 1584.71 L718.68 1584.32 L719.50 1584.43 L720.33 1585.06 L721.15 1586.17 L721.98 1587.78 L722.80 1589.85 L723.62 1592.36 L724.45 1595.28 L725.28 1598.58 L726.10 1602.21 L726.93 1606.15 L727.75 1610.34 L728.58 1614.75 L729.40 1619.32 L730.23 1624.02 L731.05 1628.79 L731.88 1633.61 L732.70 1638.42 L733.53 1643.18 L734.35 1647.88 L735.18 1652.46 L736.00 1656.91 L736.83 1661.20 L737.65 1665.31 L738.48 1669.23 L739.30 1672.93 L740.12 1676.42 L740.95 1679.68 L741.78 1682.72 L742.60 1685.53 L743.43 1688.12 L744.25 1690.49 L745.08 1692.65 L745.90 1694.61 L746.73 1696.37 L747.55 1697.96 L748.38 1699.37 L749.20 1700.63 L750.03 1701.74 L750.85 1702.72 L751.68 1703.58 L752.50 1704.32 L753.33 1704.97 L754.15 1705.53 L754.98 1706.01 L755.80 1706.42 L756.62 1706.77 L757.45 1707.07 L758.28 1707.32 L759.10 1707.53 L759.93 1707.71 L760.75 1707.86 L761.58 1707.98 L762.40 1708.08 L763.23 1708.16 L764.05 1708.23 L764.88 1708.28 L765.70 1708.33 L766.53 1708.36 L767.35 1708.39 L768.18 1708.42 L769.00 1708.43 L769.83 1708.45 L770.65 1708.46 L771.48 1708.47 L772.30 1708.48 L773.12 1708.48 L773.95 1708.49 L774.78 1708.49 L775.60 1708.49 L776.43 1708.49 L777.25 1708.50 L778.08 1708.50 L778.90 1708.50 L779.73 1708.50 L780.55 1708.50 L781.38 1708.50 L782.20 1708.50 L783.03 1708.50 L783.85 1708.50 L784.68 1708.50 L785.50 1708.50 L786.33 1708.50 L787.15 1708.50 L787.98 1708.50 L788.80 1708.50 L789.62 1708.50 L790.45 1708.50 L791.28 1708.50 L792.10 1708.50 L792.93 1708.50 L793.75 1708.50 L794.58 1708.50 L795.40 1708.50 L796.23 1708.50 L797.05 1708.50 L797.88 1708.50 L798.70 1708.50 L799.53 1708.50 L800.35 1708.50 L801.18 1708.50 L802.00 1708.50 L802.83 1708.50 L803.65 1708.50 L804.48 1708.50 L805.30 1708.50 L806.12 1708.50 L806.95 1708.50 L807.78 1708.50 L808.60 1708.50 L809.43 1708.50 L810.25 1708.50 L811.08 1708.50 L811.90 1708.50 L812.73 1708.50 L813.55 1708.50 L814.38 1708.50 L815.20 1708.50 L816.03 1708.50 L816.85 1708.50 L817.68 1708.50 L818.50 1708.50 L819.33 1708.50 L820.15 1708.50 L820.98 1708.50 L821.80 1708.50 L822.62 1708.50 L823.45 1708.50 L824.28 1708.50 L825.10 1708.50 L825.93 1708.50 L826.75 1708.50 L827.58 1708.50 L828.40 1708.50 L829.23 1708.50 L830.05 1708.50 L830.88 1708.50 L831.70 1708.50 L832.53 1708.50 L833.35 1708.50 L834.18 1708.50 L835.00 1708.50 L835.83 1708.50 L836.65 1708.50 L837.48 1708.50 L838.30 1708.50 L839.12 1708.50 L839.95 1708.50 L840.78 1708.50 L841.60 1708.50 L842.43 1708.50 L843.25 1708.50 L844.08 1708.50 L844.90 1708.50 L845.73 1708.50 L846.55 1708.50 L847.38 1708.50 L848.20 1708.50 L849.03 1708.50 L849.85 1708.50 L850.68 1708.50 L851.50 1708.50 L852.33 1708.50 L853.15 1708.50 L853.98 1708.50 L854.80 1708.50 L855.62 1708.50 L856.45 1708.50 L857.28 1708.50 L858.10 1708.50 L858.93 1708.50 L859.75 1708.50 L860.58 1708.50 L861.40 1708.50 L862.23 1708.50 L863.05 1708.50 L863.88 1708.50 L864.70 1708.50 L865.53 1708.50 L866.35 1708.50 L867.18 1708.50 L868.00 1708.50 L868.83 1708.50 L869.65 1708.50 L870.48 1708.50 L871.30 1708.50 L872.12 1708.50 L872.95 1708.50 L873.78 1708.50 L874.60 1708.50 L875.43 1708.50 L876.25 1708.50 L877.08 1708.50 L877.90 1708.50 L878.73 1708.50 L879.55 1708.50 L880.38 1708.50 L881.20 1708.50" fill="none" stroke="#d62728" stroke-width="2.50"/>
</g>
<rect x="556.20" y="1430.40" width="320.00" height="320.20" fill="none" stroke="#000" stroke-width="2.50"/>
<text x="649.90" y="1791.00" font-size="29.00" textLength="92.72" lengthAdjust="spacingAndGlyphs" text-anchor="middle">42.920</text>
<text x="845.98" y="1791.00" font-size="29.00" textLength="92.72" lengthAdjust="spacingAndGlyphs" text-anchor="middle">42.940</text>
<text x="535.60" y="1718.00" font-size="29.00" textLength="16.86" lengthAdjust="spacingAndGlyphs" text-anchor="end">0</text>
<text x="535.60" y="1648.60" font-size="29.00" textLength="16.86" lengthAdjust="spacingAndGlyphs" text-anchor="end">5</text>
<text x="535.60" y="1579.20" font-size="29.00" textLength="33.72" lengthAdjust="spacingAndGlyphs" text-anchor="end">10</text>
<text x="535.60" y="1509.80" font-size="29.00" textLength="33.72" lengthAdjust="spacingAndGlyphs" text-anchor="end">15</text>
<text x="535.60" y="1440.40" font-size="29.00" textLength="33.72" lengthAdjust="spacingAndGlyphs" text-anchor="end">20</text>
<path d="M649.90 1750.60V1762.40M649.90 1430.40V1418.60M845.98 1750.60V1762.40M845.98 1430.40V1418.60M556.20 1708.50H544.40M876.20 1708.50H888.00M556.20 1639.10H544.40M876.20 1639.10H888.00M556.20 1569.70H544.40M876.20 1569.70H888.00M556.20 1500.30H544.40M876.20 1500.30H888.00M556.20 1430.90H544.40M876.20 1430.90H888.00" stroke="#000" stroke-width="2.20" fill="none"/>
<path d="M600.88 1750.60V1755.20M600.88 1430.40V1425.80M698.92 1750.60V1755.20M698.92 1430.40V1425.80M747.94 1750.60V1755.20M747.94 1430.40V1425.80M796.96 1750.60V1755.20M796.96 1430.40V1425.80M556.20 1750.14H551.60M876.20 1750.14H880.80M556.20 1736.26H551.60M876.20 1736.26H880.80M556.20 1722.38H551.60M876.20 1722.38H880.80M556.20 1694.62H551.60M876.20 1694.62H880.80M556.20 1680.74H551.60M876.20 1680.74H880.80M556.20 1666.86H551.60M876.20 1666.86H880.80M556.20 1652.98H551.60M876.20 1652.98H880.80M556.20 1625.22H551.60M876.20 1625.22H880.80M556.20 1611.34H551.60M876.20 1611.34H880.80M556.20 1597.46H551.60M876.20 1597.46H880.80M556.20 1583.58H551.60M876.20 1583.58H880.80M556.20 1555.82H551.60M876.20 1555.82H880.80M556.20 1541.94H551.60M876.20 1541.94H880.80M556.20 1528.06H551.60M876.20 1528.06H880.80M556.20 1514.18H551.60M876.20 1514.18H880.80M556.20 1486.42H551.60M876.20 1486.42H880.80M556.20 1472.54H551.60M876.20 1472.54H880.80M556.20 1458.66H551.60M876.20 1458.66H880.80M556.20 1444.78H551.60M876.20 1444.78H880.80" stroke="#000" stroke-width="1.80" fill="none"/>
<g font-size="16">
<text transform="translate(1011.00 1589.20) rotate(-90)" fill="#0000b0" textLength="117.93" lengthAdjust="spacingAndGlyphs" text-anchor="start"><tspan font-size="16.00" dy="0.00">a--CH</tspan><tspan font-size="11.20" dy="4.80">3</tspan><tspan font-size="11.20" dx="-7.13" dy="-11.04">13</tspan><tspan font-size="16.00" dy="6.24">CH</tspan><tspan font-size="11.20" dy="3.04">2</tspan><tspan font-size="16.00" dy="-3.04">OH</tspan></text>
<text transform="translate(1105.00 1680.80) rotate(-90)" fill="#0000b0" textLength="74.79" lengthAdjust="spacingAndGlyphs" text-anchor="start"><tspan font-size="16.00" dy="0.00">HO</tspan><tspan font-size="11.20" dy="-6.24">13</tspan><tspan font-size="16.00" dy="6.24">CO</tspan><tspan font-size="11.20" dy="-6.24">+</tspan></text>
<text transform="translate(1258.10 1627.40) rotate(-90)" fill="#0000b0" textLength="69.33" lengthAdjust="spacingAndGlyphs" text-anchor="start"><tspan font-size="16.00" dy="0.00">HC(S)CN</tspan></text>
</g>
<g clip-path="url(#cp11)">
<path d="M971.20 1716.20V1707.23H975.00V1707.23H978.80V1690.70H982.60V1674.17H986.40V1672.90H990.20V1664.00H994.00V1656.38H997.80V1641.12H1001.60V1597.90H1005.40V1610.61H1009.20V1619.51H1013.00V1623.32H1016.80V1636.03H1020.60V1656.38H1024.40V1671.63H1028.20V1676.72H1032.00V1686.89H1035.80V1697.06H1039.60V1694.51H1043.40V1691.97H1047.20V1707.23H1051.00V1704.68H1054.80V1707.23H1058.60V1704.68H1062.40V1704.68H1066.20V1703.41H1070.00V1702.14H1073.80V1704.68H1077.60V1709.77H1081.40V1722.48H1085.20V1742.82H1089.00V1737.74H1092.80V1726.30H1096.60V1727.57H1100.40V1735.20H1104.20V1727.57H1108.00V1719.94H1111.80V1713.58H1115.60V1709.77H1119.40V1661.46H1123.20V1641.12H1127.00V1602.98H1130.80V1604.25H1134.60V1614.42H1138.40V1604.25H1142.20V1618.24H1146.00V1643.66H1149.80V1648.75H1153.60V1656.38H1157.40V1666.55H1161.20V1665.27H1165.00V1656.38H1168.80V1650.02H1172.60V1653.83H1176.40V1662.73H1180.20V1676.72H1184.00V1697.06H1187.80V1694.51H1191.60V1685.62H1195.40V1704.68H1199.20V1719.94H1203.00V1730.11H1206.80V1713.58H1210.60V1716.13H1214.40V1719.94H1218.20V1707.23H1222.00V1702.14H1225.80V1717.40H1229.60V1725.03H1233.40V1694.51H1237.20V1689.43H1241.00V1679.26H1244.80V1669.09H1248.60V1648.75H1252.40V1633.49H1256.20V1643.66H1260.00V1641.12H1263.80V1632.22H1267.60V1669.09H1271.40V1689.43H1275.20V1702.14H1279.00V1714.86H1282.80V1693.24H1286.60V1693.24H1290.40V1737.74H1294.20V1745.37H1298.00V1716.20 Z" fill="#808080" fill-opacity="0.2" stroke="none"/>
<path d="M971.20 1707.23H975.00V1707.23H978.80V1690.70H982.60V1674.17H986.40V1672.90H990.20V1664.00H994.00V1656.38H997.80V1641.12H1001.60V1597.90H1005.40V1610.61H1009.20V1619.51H1013.00V1623.32H1016.80V1636.03H1020.60V1656.38H1024.40V1671.63H1028.20V1676.72H1032.00V1686.89H1035.80V1697.06H1039.60V1694.51H1043.40V1691.97H1047.20V1707.23H1051.00V1704.68H1054.80V1707.23H1058.60V1704.68H1062.40V1704.68H1066.20V1703.41H1070.00V1702.14H1073.80V1704.68H1077.60V1709.77H1081.40V1722.48H1085.20V1742.82H1089.00V1737.74H1092.80V1726.30H1096.60V1727.57H1100.40V1735.20H1104.20V1727.57H1108.00V1719.94H1111.80V1713.58H1115.60V1709.77H1119.40V1661.46H1123.20V1641.12H1127.00V1602.98H1130.80V1604.25H1134.60V1614.42H1138.40V1604.25H1142.20V1618.24H1146.00V1643.66H1149.80V1648.75H1153.60V1656.38H1157.40V1666.55H1161.20V1665.27H1165.00V1656.38H1168.80V1650.02H1172.60V1653.83H1176.40V1662.73H1180.20V1676.72H1184.00V1697.06H1187.80V1694.51H1191.60V1685.62H1195.40V1704.68H1199.20V1719.94H1203.00V1730.11H1206.80V1713.58H1210.60V1716.13H1214.40V1719.94H1218.20V1707.23H1222.00V1702.14H1225.80V1717.40H1229.60V1725.03H1233.40V1694.51H1237.20V1689.43H1241.00V1679.26H1244.80V1669.09H1248.60V1648.75H1252.40V1633.49H1256.20V1643.66H1260.00V1641.12H1263.80V1632.22H1267.60V1669.09H1271.40V1689.43H1275.20V1702.14H1279.00V1714.86H1282.80V1693.24H1286.60V1693.24H1290.40V1737.74H1294.20V1745.37H1298.00" fill="none" stroke="#000" stroke-width="2.60" stroke-linejoin="miter"/>
<path d="M943.57 1679.26C948.66 1681.80 967.94 1691.12 974.09 1694.51C980.23 1697.90 978.32 1699.60 980.44 1699.60C982.56 1699.60 984.47 1698.33 986.80 1694.51C989.13 1690.70 991.88 1684.34 994.43 1676.72C996.97 1669.09 1000.02 1655.32 1002.05 1648.75C1004.09 1642.18 1005.15 1638.15 1006.63 1637.31C1008.11 1636.46 1009.17 1639.21 1010.95 1643.66C1012.73 1648.11 1015.19 1657.22 1017.31 1664.00C1019.43 1670.78 1021.55 1677.99 1023.67 1684.34C1025.78 1690.70 1027.69 1697.27 1030.02 1702.14C1032.35 1707.02 1035.11 1711.25 1037.65 1713.58C1040.19 1715.91 1038.92 1715.91 1045.28 1716.13C1051.63 1716.34 1069.43 1716.13 1075.79 1714.86C1082.15 1713.58 1080.87 1711.04 1083.42 1708.50C1085.96 1705.96 1088.50 1702.35 1091.04 1699.60C1093.59 1696.85 1096.13 1694.51 1098.67 1691.97C1101.21 1689.43 1103.97 1687.31 1106.30 1684.34C1108.63 1681.38 1110.75 1679.26 1112.66 1674.17C1114.56 1669.09 1116.02 1661.38 1117.74 1653.83C1119.47 1646.29 1121.96 1634.61 1123.00 1628.91C1124.04 1623.20 1123.67 1622.76 1124.00 1619.62C1124.33 1616.47 1124.67 1613.26 1125.00 1610.04C1125.33 1606.82 1125.67 1603.55 1126.00 1600.29C1126.33 1597.03 1126.67 1593.73 1127.00 1590.47C1127.33 1587.21 1127.67 1583.94 1128.00 1580.72C1128.33 1577.50 1128.67 1574.30 1129.00 1571.18C1129.33 1568.05 1129.67 1564.96 1130.00 1561.98C1130.33 1559.00 1130.67 1556.08 1131.00 1553.28C1131.33 1550.49 1131.67 1547.78 1132.00 1545.23C1132.33 1542.68 1132.67 1540.23 1133.00 1537.96C1133.33 1535.69 1133.67 1533.55 1134.00 1531.61C1134.33 1529.66 1134.67 1527.87 1135.00 1526.28C1135.33 1524.70 1135.67 1523.29 1136.00 1522.10C1136.33 1520.90 1136.67 1519.90 1137.00 1519.12C1137.33 1518.34 1137.67 1517.77 1138.00 1517.42C1138.33 1517.07 1138.67 1516.94 1139.00 1517.03C1139.33 1517.11 1139.67 1517.42 1140.00 1517.95C1140.33 1518.47 1140.67 1519.21 1141.00 1520.16C1141.33 1521.11 1141.67 1522.28 1142.00 1523.63C1142.33 1524.98 1142.67 1526.55 1143.00 1528.28C1143.33 1530.01 1143.67 1531.95 1144.00 1534.03C1144.33 1536.11 1144.67 1538.38 1145.00 1540.77C1145.33 1543.15 1145.67 1545.71 1146.00 1548.36C1146.33 1551.02 1146.67 1553.82 1147.00 1556.69C1147.33 1559.57 1147.67 1562.56 1148.00 1565.61C1148.33 1568.65 1148.67 1571.79 1149.00 1574.96C1149.33 1578.13 1149.67 1581.36 1150.00 1584.60C1150.33 1587.84 1150.67 1591.13 1151.00 1594.40C1151.33 1597.66 1151.67 1600.95 1152.00 1604.20C1152.33 1607.45 1152.67 1610.71 1153.00 1613.90C1153.33 1617.09 1153.67 1620.27 1154.00 1623.37C1154.33 1626.48 1154.67 1629.54 1155.00 1632.52C1155.33 1635.51 1155.67 1638.43 1156.00 1641.27C1156.33 1644.10 1156.67 1646.87 1157.00 1649.54C1157.33 1652.21 1157.67 1654.80 1158.00 1657.29C1158.33 1659.78 1158.67 1662.18 1159.00 1664.48C1159.33 1666.78 1159.67 1668.99 1160.00 1671.10C1160.33 1673.20 1160.67 1675.21 1161.00 1677.12C1161.33 1679.04 1161.67 1680.85 1162.00 1682.57C1162.33 1684.29 1162.67 1685.91 1163.00 1687.44C1163.33 1688.98 1163.67 1690.42 1164.00 1691.78C1164.33 1693.13 1164.67 1694.40 1165.00 1695.59C1165.33 1696.78 1165.67 1697.89 1166.00 1698.93C1166.33 1699.96 1166.67 1700.92 1167.00 1701.82C1167.33 1702.71 1167.67 1703.53 1168.00 1704.30C1168.33 1705.07 1168.67 1705.77 1169.00 1706.42C1169.33 1707.08 1169.67 1707.67 1170.00 1708.22C1170.33 1708.77 1170.67 1709.27 1171.00 1709.73C1171.33 1710.19 1171.67 1710.60 1172.00 1710.99C1172.33 1711.37 1172.67 1711.71 1173.00 1712.03C1173.33 1712.34 1172.40 1712.20 1174.00 1712.88C1175.60 1713.57 1178.61 1715.59 1182.58 1716.13C1186.55 1716.67 1191.05 1716.34 1197.83 1716.13C1204.61 1715.91 1217.75 1715.91 1223.26 1714.86C1228.77 1713.80 1228.34 1712.31 1230.89 1709.77C1233.43 1707.23 1235.97 1703.41 1238.51 1699.60C1241.06 1695.79 1243.81 1690.70 1246.14 1686.89C1248.47 1683.07 1250.59 1679.05 1252.50 1676.72C1254.41 1674.39 1255.89 1672.90 1257.58 1672.90C1259.28 1672.90 1260.76 1674.39 1262.67 1676.72C1264.58 1679.05 1266.69 1683.92 1269.03 1686.89C1271.36 1689.85 1274.11 1692.61 1276.65 1694.51C1279.20 1696.42 1281.74 1697.06 1284.28 1698.33C1286.82 1699.60 1290.00 1701.29 1291.91 1702.14C1293.82 1702.99 1290.21 1702.57 1295.72 1703.41C1301.23 1704.26 1320.09 1706.59 1324.96 1707.23" fill="none" stroke="#1f77b4" stroke-width="2.50"/>
<path d="M970.00 1716.20 L970.83 1716.20 L971.65 1716.20 L972.48 1716.20 L973.30 1716.20 L974.12 1716.20 L974.95 1716.20 L975.77 1716.20 L976.60 1716.20 L977.42 1716.20 L978.25 1716.20 L979.08 1716.20 L979.90 1716.20 L980.73 1716.20 L981.55 1716.20 L982.38 1716.20 L983.20 1716.20 L984.02 1716.20 L984.85 1716.20 L985.67 1716.20 L986.50 1716.20 L987.33 1716.20 L988.15 1716.20 L988.98 1716.20 L989.80 1716.20 L990.62 1716.20 L991.45 1716.20 L992.27 1716.20 L993.10 1716.20 L993.92 1716.20 L994.75 1716.20 L995.58 1716.20 L996.40 1716.20 L997.23 1716.20 L998.05 1716.20 L998.88 1716.20 L999.70 1716.20 L1000.52 1716.20 L1001.35 1716.20 L1002.17 1716.20 L1003.00 1716.20 L1003.83 1716.20 L1004.65 1716.20 L1005.48 1716.20 L1006.30 1716.20 L1007.12 1716.20 L1007.95 1716.20 L1008.77 1716.20 L1009.60 1716.20 L1010.42 1716.20 L1011.25 1716.20 L1012.08 1716.20 L1012.90 1716.20 L1013.73 1716.20 L1014.55 1716.20 L1015.38 1716.20 L1016.20 1716.20 L1017.02 1716.20 L1017.85 1716.20 L1018.67 1716.20 L1019.50 1716.20 L1020.33 1716.20 L1021.15 1716.20 L1021.98 1716.20 L1022.80 1716.20 L1023.62 1716.20 L1024.45 1716.20 L1025.28 1716.20 L1026.10 1716.20 L1026.92 1716.20 L1027.75 1716.20 L1028.58 1716.20 L1029.40 1716.20 L1030.22 1716.20 L1031.05 1716.20 L1031.88 1716.20 L1032.70 1716.20 L1033.53 1716.20 L1034.35 1716.20 L1035.17 1716.20 L1036.00 1716.20 L1036.83 1716.20 L1037.65 1716.20 L1038.47 1716.20 L1039.30 1716.20 L1040.12 1716.20 L1040.95 1716.20 L1041.78 1716.20 L1042.60 1716.20 L1043.42 1716.20 L1044.25 1716.20 L1045.08 1716.20 L1045.90 1716.20 L1046.72 1716.20 L1047.55 1716.20 L1048.38 1716.20 L1049.20 1716.20 L1050.03 1716.20 L1050.85 1716.20 L1051.67 1716.20 L1052.50 1716.20 L1053.33 1716.20 L1054.15 1716.20 L1054.97 1716.20 L1055.80 1716.20 L1056.62 1716.20 L1057.45 1716.20 L1058.28 1716.20 L1059.10 1716.20 L1059.92 1716.20 L1060.75 1716.20 L1061.58 1716.20 L1062.40 1716.20 L1063.22 1716.20 L1064.05 1716.20 L1064.88 1716.20 L1065.70 1716.20 L1066.53 1716.20 L1067.35 1716.20 L1068.17 1716.20 L1069.00 1716.20 L1069.83 1716.20 L1070.65 1716.20 L1071.47 1716.20 L1072.30 1716.20 L1073.12 1716.20 L1073.95 1716.20 L1074.78 1716.20 L1075.60 1716.20 L1076.42 1716.20 L1077.25 1716.20 L1078.08 1716.20 L1078.90 1716.20 L1079.72 1716.20 L1080.55 1716.20 L1081.38 1716.20 L1082.20 1716.19 L1083.03 1716.19 L1083.85 1716.19 L1084.67 1716.19 L1085.50 1716.18 L1086.33 1716.18 L1087.15 1716.17 L1087.97 1716.16 L1088.80 1716.15 L1089.62 1716.13 L1090.45 1716.11 L1091.28 1716.09 L1092.10 1716.05 L1092.92 1716.01 L1093.75 1715.96 L1094.58 1715.89 L1095.40 1715.81 L1096.22 1715.70 L1097.05 1715.57 L1097.88 1715.41 L1098.70 1715.22 L1099.53 1714.98 L1100.35 1714.70 L1101.17 1714.35 L1102.00 1713.93 L1102.83 1713.43 L1103.65 1712.84 L1104.47 1712.14 L1105.30 1711.32 L1106.12 1710.35 L1106.95 1709.23 L1107.78 1707.93 L1108.60 1706.42 L1109.42 1704.70 L1110.25 1702.73 L1111.08 1700.50 L1111.90 1697.97 L1112.72 1695.14 L1113.55 1691.98 L1114.38 1688.47 L1115.20 1684.59 L1116.03 1680.32 L1116.85 1675.67 L1117.67 1670.62 L1118.50 1665.17 L1119.33 1659.33 L1120.15 1653.10 L1120.97 1646.50 L1121.80 1639.55 L1122.62 1632.30 L1123.45 1624.77 L1124.28 1617.01 L1125.10 1609.07 L1125.92 1601.02 L1126.75 1592.92 L1127.58 1584.85 L1128.40 1576.87 L1129.22 1569.07 L1130.05 1561.53 L1130.88 1554.34 L1131.70 1547.57 L1132.53 1541.31 L1133.35 1535.63 L1134.17 1530.60 L1135.00 1526.28 L1135.83 1522.74 L1136.65 1520.02 L1137.47 1518.15 L1138.30 1517.16 L1139.12 1517.07 L1139.95 1517.87 L1140.78 1519.55 L1141.60 1522.10 L1142.42 1525.47 L1143.25 1529.62 L1144.08 1534.50 L1144.90 1540.05 L1145.72 1546.20 L1146.55 1552.86 L1147.38 1559.98 L1148.20 1567.45 L1149.03 1575.20 L1149.85 1583.14 L1150.67 1591.21 L1151.50 1599.31 L1152.33 1607.37 L1153.15 1615.34 L1153.97 1623.14 L1154.80 1630.72 L1155.62 1638.04 L1156.45 1645.05 L1157.28 1651.73 L1158.10 1658.04 L1158.92 1663.96 L1159.75 1669.50 L1160.58 1674.63 L1161.40 1679.37 L1162.22 1683.71 L1163.05 1687.67 L1163.88 1691.26 L1164.70 1694.50 L1165.53 1697.40 L1166.35 1699.99 L1167.17 1702.28 L1168.00 1704.30 L1168.83 1706.08 L1169.65 1707.62 L1170.47 1708.97 L1171.30 1710.13 L1172.12 1711.13 L1172.95 1711.98 L1173.78 1712.70 L1174.60 1713.32 L1175.42 1713.83 L1176.25 1714.27 L1177.08 1714.63 L1177.90 1714.93 L1178.72 1715.17 L1179.55 1715.38 L1180.38 1715.54 L1181.20 1715.68 L1182.03 1715.79 L1182.85 1715.87 L1183.67 1715.94 L1184.50 1716.00 L1185.33 1716.04 L1186.15 1716.08 L1186.97 1716.11 L1187.80 1716.13 L1188.62 1716.15 L1189.45 1716.16 L1190.28 1716.17 L1191.10 1716.18 L1191.92 1716.18 L1192.75 1716.19 L1193.58 1716.19 L1194.40 1716.19 L1195.22 1716.19 L1196.05 1716.20 L1196.88 1716.20 L1197.70 1716.20 L1198.53 1716.20 L1199.35 1716.20 L1200.17 1716.20 L1201.00 1716.20 L1201.83 1716.20 L1202.65 1716.20 L1203.47 1716.20 L1204.30 1716.20 L1205.12 1716.20 L1205.95 1716.20 L1206.78 1716.20 L1207.60 1716.20 L1208.42 1716.20 L1209.25 1716.20 L1210.08 1716.20 L1210.90 1716.20 L1211.72 1716.20 L1212.55 1716.20 L1213.38 1716.20 L1214.20 1716.20 L1215.03 1716.20 L1215.85 1716.20 L1216.67 1716.20 L1217.50 1716.20 L1218.33 1716.20 L1219.15 1716.20 L1219.97 1716.20 L1220.80 1716.20 L1221.62 1716.20 L1222.45 1716.20 L1223.28 1716.20 L1224.10 1716.20 L1224.92 1716.20 L1225.75 1716.20 L1226.58 1716.20 L1227.40 1716.20 L1228.22 1716.20 L1229.05 1716.20 L1229.88 1716.20 L1230.70 1716.20 L1231.53 1716.20 L1232.35 1716.20 L1233.17 1716.20 L1234.00 1716.20 L1234.83 1716.20 L1235.65 1716.20 L1236.47 1716.20 L1237.30 1716.20 L1238.12 1716.20 L1238.95 1716.20 L1239.78 1716.20 L1240.60 1716.20 L1241.42 1716.20 L1242.25 1716.20 L1243.08 1716.20 L1243.90 1716.20 L1244.72 1716.20 L1245.55 1716.20 L1246.38 1716.20 L1247.20 1716.20 L1248.03 1716.20 L1248.85 1716.20 L1249.67 1716.20 L1250.50 1716.20 L1251.33 1716.20 L1252.15 1716.20 L1252.97 1716.20 L1253.80 1716.20 L1254.62 1716.20 L1255.45 1716.20 L1256.28 1716.20 L1257.10 1716.20 L1257.92 1716.20 L1258.75 1716.20 L1259.58 1716.20 L1260.40 1716.20 L1261.22 1716.20 L1262.05 1716.20 L1262.88 1716.20 L1263.70 1716.20 L1264.53 1716.20 L1265.35 1716.20 L1266.17 1716.20 L1267.00 1716.20 L1267.83 1716.20 L1268.65 1716.20 L1269.47 1716.20 L1270.30 1716.20 L1271.12 1716.20 L1271.95 1716.20 L1272.78 1716.20 L1273.60 1716.20 L1274.42 1716.20 L1275.25 1716.20 L1276.08 1716.20 L1276.90 1716.20 L1277.72 1716.20 L1278.55 1716.20 L1279.38 1716.20 L1280.20 1716.20 L1281.03 1716.20 L1281.85 1716.20 L1282.67 1716.20 L1283.50 1716.20 L1284.33 1716.20 L1285.15 1716.20 L1285.97 1716.20 L1286.80 1716.20 L1287.62 1716.20 L1288.45 1716.20 L1289.28 1716.20 L1290.10 1716.20 L1290.92 1716.20 L1291.75 1716.20 L1292.58 1716.20 L1293.40 1716.20 L1294.22 1716.20 L1295.05 1716.20 L1295.88 1716.20 L1296.70 1716.20 L1297.53 1716.20 L1298.35 1716.20 L1299.17 1716.20 L1300.00 1716.20" fill="none" stroke="#d62728" stroke-width="2.50"/>
</g>
<rect x="975.00" y="1430.40" width="320.00" height="320.20" fill="none" stroke="#000" stroke-width="2.50"/>
<text x="1073.20" y="1791.00" font-size="29.00" textLength="92.72" lengthAdjust="spacingAndGlyphs" text-anchor="middle">85.840</text>
<text x="1268.08" y="1791.00" font-size="29.00" textLength="92.72" lengthAdjust="spacingAndGlyphs" text-anchor="middle">85.880</text>
<text x="954.40" y="1725.70" font-size="29.00" textLength="16.86" lengthAdjust="spacingAndGlyphs" text-anchor="end">0</text>
<text x="954.40" y="1657.75" font-size="29.00" textLength="33.72" lengthAdjust="spacingAndGlyphs" text-anchor="end">10</text>
<text x="954.40" y="1589.80" font-size="29.00" textLength="33.72" lengthAdjust="spacingAndGlyphs" text-anchor="end">20</text>
<text x="954.40" y="1521.85" font-size="29.00" textLength="33.72" lengthAdjust="spacingAndGlyphs" text-anchor="end">30</text>
<text x="954.40" y="1453.90" font-size="29.00" textLength="33.72" lengthAdjust="spacingAndGlyphs" text-anchor="end">40</text>
<path d="M1073.20 1750.60V1762.40M1073.20 1430.40V1418.60M1268.08 1750.60V1762.40M1268.08 1430.40V1418.60M975.00 1716.20H963.20M1295.00 1716.20H1306.80M975.00 1648.25H963.20M1295.00 1648.25H1306.80M975.00 1580.30H963.20M1295.00 1580.30H1306.80M975.00 1512.35H963.20M1295.00 1512.35H1306.80M975.00 1444.40H963.20M1295.00 1444.40H1306.80" stroke="#000" stroke-width="2.20" fill="none"/>
<path d="M975.76 1750.60V1755.20M975.76 1430.40V1425.80M1024.48 1750.60V1755.20M1024.48 1430.40V1425.80M1121.92 1750.60V1755.20M1121.92 1430.40V1425.80M1170.64 1750.60V1755.20M1170.64 1430.40V1425.80M1219.36 1750.60V1755.20M1219.36 1430.40V1425.80M975.00 1743.38H970.40M1295.00 1743.38H1299.60M975.00 1729.79H970.40M1295.00 1729.79H1299.60M975.00 1702.61H970.40M1295.00 1702.61H1299.60M975.00 1689.02H970.40M1295.00 1689.02H1299.60M975.00 1675.43H970.40M1295.00 1675.43H1299.60M975.00 1661.84H970.40M1295.00 1661.84H1299.60M975.00 1634.66H970.40M1295.00 1634.66H1299.60M975.00 1621.07H970.40M1295.00 1621.07H1299.60M975.00 1607.48H970.40M1295.00 1607.48H1299.60M975.00 1593.89H970.40M1295.00 1593.89H1299.60M975.00 1566.71H970.40M1295.00 1566.71H1299.60M975.00 1553.12H970.40M1295.00 1553.12H1299.60M975.00 1539.53H970.40M1295.00 1539.53H1299.60M975.00 1525.94H970.40M1295.00 1525.94H1299.60M975.00 1498.76H970.40M1295.00 1498.76H1299.60M975.00 1485.17H970.40M1295.00 1485.17H1299.60M975.00 1471.58H970.40M1295.00 1471.58H1299.60M975.00 1457.99H970.40M1295.00 1457.99H1299.60M975.00 1430.81H970.40M1295.00 1430.81H1299.60" stroke="#000" stroke-width="1.80" fill="none"/>
<g font-size="16">
<text transform="translate(319.20 1923.90) rotate(-90)" fill="#0000b0" textLength="43.71" lengthAdjust="spacingAndGlyphs" text-anchor="start"><tspan font-size="16.00" dy="0.00">HC</tspan><tspan font-size="11.20" dy="3.04">5</tspan><tspan font-size="16.00" dy="-3.04">N</tspan></text>
<text transform="translate(357.30 2091.70) rotate(-90)" fill="#0000b0" textLength="69.24" lengthAdjust="spacingAndGlyphs" text-anchor="start"><tspan font-size="16.00" dy="0.00">NCCNH</tspan><tspan font-size="11.20" dy="-6.24">+</tspan></text>
<text transform="translate(415.80 2063.70) rotate(-90)" fill="#0000b0" textLength="89.48" lengthAdjust="spacingAndGlyphs" text-anchor="start"><tspan font-size="16.00" dy="0.00">H</tspan><tspan font-size="11.20" dy="3.04">2</tspan><tspan font-size="16.00" dy="-3.04">CCCHCN</tspan></text>
</g>
<g clip-path="url(#cp12)">
<path d="M133.65 2143.30V2148.65H137.25V2148.65H140.85V2142.30H144.45V2143.57H148.05V2139.75H151.65V2139.23H155.25V2138.48H158.85V2132.13H162.45V2130.86H166.05V2125.77H169.65V2123.23H173.25V2125.77H176.85V2128.28H180.45V2130.86H184.05V2133.40H187.65V2127.04H191.25V2130.86H194.85V2134.67H198.45V2137.21H202.05V2138.48H205.65V2135.94H209.25V2134.67H212.85V2129.58H216.45V2128.31H220.05V2132.13H223.65V2129.58H227.25V2128.31H230.85V2139.75H234.45V2133.40H238.05V2134.67H241.65V2135.28H245.25V2135.94H248.85V2139.75H252.45V2132.13H256.05V2132.13H259.65V2134.67H263.25V2133.40H266.85V2132.13H270.45V2130.86H274.05V2123.23H277.65V2118.14H281.25V2105.43H284.85V2092.72H288.45V2069.83H292.05V2049.49H295.65V2024.07H299.25V1979.57H302.85V1963.04H306.45V1947.79H310.05V1932.53H313.65V1952.87H317.25V1985.93H320.85V1996.10H324.45V2006.27H328.05V2018.98H331.65V2034.24H335.25V2077.46H338.85V2097.80H342.45V2102.89H346.05V2100.34H349.65V2099.07H353.25V2105.43H356.85V2114.33H360.45V2123.23H364.05V2128.31H367.65V2130.86H371.25V2135.94H374.85V2141.03H378.45V2143.57H382.05V2147.38H385.65V2139.75H389.25V2137.78H392.85V2135.94H396.45V2107.97H400.05V2095.26H403.65V2080.00H407.25V2073.65H410.85V2080.00H414.45V2085.09H418.05V2088.90H421.65V2095.26H425.25V2105.43H428.85V2118.14H432.45V2124.65H436.05V2130.86H439.65V2141.03H443.25V2142.30H446.85V2146.11H450.45V2151.20H454.05V2135.94H457.65V2143.30 Z" fill="#808080" fill-opacity="0.2" stroke="none"/>
<path d="M133.65 2148.65H137.25V2148.65H140.85V2142.30H144.45V2143.57H148.05V2139.75H151.65V2139.23H155.25V2138.48H158.85V2132.13H162.45V2130.86H166.05V2125.77H169.65V2123.23H173.25V2125.77H176.85V2128.28H180.45V2130.86H184.05V2133.40H187.65V2127.04H191.25V2130.86H194.85V2134.67H198.45V2137.21H202.05V2138.48H205.65V2135.94H209.25V2134.67H212.85V2129.58H216.45V2128.31H220.05V2132.13H223.65V2129.58H227.25V2128.31H230.85V2139.75H234.45V2133.40H238.05V2134.67H241.65V2135.28H245.25V2135.94H248.85V2139.75H252.45V2132.13H256.05V2132.13H259.65V2134.67H263.25V2133.40H266.85V2132.13H270.45V2130.86H274.05V2123.23H277.65V2118.14H281.25V2105.43H284.85V2092.72H288.45V2069.83H292.05V2049.49H295.65V2024.07H299.25V1979.57H302.85V1963.04H306.45V1947.79H310.05V1932.53H313.65V1952.87H317.25V1985.93H320.85V1996.10H324.45V2006.27H328.05V2018.98H331.65V2034.24H335.25V2077.46H338.85V2097.80H342.45V2102.89H346.05V2100.34H349.65V2099.07H353.25V2105.43H356.85V2114.33H360.45V2123.23H364.05V2128.31H367.65V2130.86H371.25V2135.94H374.85V2141.03H378.45V2143.57H382.05V2147.38H385.65V2139.75H389.25V2137.78H392.85V2135.94H396.45V2107.97H400.05V2095.26H403.65V2080.00H407.25V2073.65H410.85V2080.00H414.45V2085.09H418.05V2088.90H421.65V2095.26H425.25V2105.43H428.85V2118.14H432.45V2124.65H436.05V2130.86H439.65V2141.03H443.25V2142.30H446.85V2146.11H450.45V2151.20H454.05V2135.94H457.65" fill="none" stroke="#000" stroke-width="2.60" stroke-linejoin="miter"/>
<path d="M105.57 2143.57C110.66 2143.57 128.46 2143.78 136.09 2143.57C143.71 2143.36 145.41 2142.81 151.34 2142.30C157.27 2141.79 165.32 2140.64 171.68 2140.52C178.04 2140.39 183.55 2141.45 189.48 2141.53C195.41 2141.62 200.92 2141.32 207.28 2141.03C213.63 2140.73 222.53 2140.39 227.62 2139.75C232.70 2139.12 234.40 2138.36 237.79 2137.21C241.18 2136.07 244.57 2134.03 247.96 2132.89C251.35 2131.74 254.74 2131.02 258.13 2130.35C261.52 2129.67 265.55 2129.80 268.30 2128.82C271.05 2127.85 272.75 2126.70 274.66 2124.50C276.56 2122.30 278.26 2119.63 279.74 2115.60C281.22 2111.57 282.07 2107.12 283.56 2100.34C285.04 2093.56 286.95 2083.82 288.64 2074.92C290.34 2066.02 292.03 2055.42 293.73 2046.95C295.42 2038.47 297.12 2031.27 298.81 2024.07C300.51 2016.86 302.20 2009.66 303.90 2003.73C305.59 1997.79 307.20 1991.94 308.98 1988.47C310.76 1985.00 312.88 1983.09 314.57 1982.88C316.27 1982.66 317.54 1984.15 319.15 1987.20C320.76 1990.25 322.54 1995.46 324.24 2001.18C325.93 2006.90 327.63 2013.90 329.32 2021.52C331.02 2029.15 332.92 2038.90 334.41 2046.95C335.89 2055.00 336.95 2062.63 338.22 2069.83C339.49 2077.04 340.55 2085.09 342.03 2090.17C343.52 2095.26 345.21 2097.80 347.12 2100.34C349.03 2102.89 351.36 2103.31 353.48 2105.43C355.60 2107.55 357.71 2110.09 359.83 2113.06C361.95 2116.02 364.07 2120.05 366.19 2123.23C368.31 2126.41 370.43 2129.80 372.55 2132.13C374.66 2134.46 376.78 2136.15 378.90 2137.21C381.02 2138.27 382.93 2138.69 385.26 2138.48C387.59 2138.27 390.34 2137.00 392.89 2135.94C395.43 2134.88 397.97 2133.31 400.51 2132.13C403.06 2130.94 405.81 2129.54 408.14 2128.82C410.47 2128.10 412.38 2127.46 414.50 2127.80C416.62 2128.14 418.52 2129.50 420.86 2130.86C423.19 2132.21 425.94 2134.33 428.48 2135.94C431.03 2137.55 433.78 2139.67 436.11 2140.52C438.44 2141.36 440.35 2141.58 442.47 2141.03C444.59 2140.47 446.92 2139.12 448.82 2137.21C450.73 2135.30 452.43 2132.34 453.91 2129.58C455.39 2126.83 456.45 2123.86 457.72 2120.68C458.99 2117.51 460.90 2112.21 461.54 2110.51" fill="none" stroke="#1f77b4" stroke-width="2.50"/>
<path d="M132.25 2143.30 L133.07 2143.30 L133.90 2143.30 L134.72 2143.30 L135.55 2143.30 L136.37 2143.30 L137.20 2143.30 L138.02 2143.30 L138.84 2143.30 L139.67 2143.30 L140.49 2143.30 L141.32 2143.30 L142.14 2143.30 L142.97 2143.30 L143.79 2143.30 L144.62 2143.30 L145.44 2143.30 L146.26 2143.30 L147.09 2143.30 L147.91 2143.30 L148.74 2143.30 L149.56 2143.30 L150.39 2143.30 L151.21 2143.30 L152.03 2143.30 L152.86 2143.30 L153.68 2143.30 L154.51 2143.30 L155.33 2143.30 L156.16 2143.30 L156.98 2143.30 L157.81 2143.30 L158.63 2143.30 L159.45 2143.30 L160.28 2143.30 L161.10 2143.30 L161.93 2143.30 L162.75 2143.30 L163.58 2143.30 L164.40 2143.30 L165.22 2143.30 L166.05 2143.30 L166.87 2143.30 L167.70 2143.30 L168.52 2143.30 L169.35 2143.30 L170.17 2143.30 L171.00 2143.30 L171.82 2143.30 L172.64 2143.30 L173.47 2143.30 L174.29 2143.30 L175.12 2143.30 L175.94 2143.30 L176.77 2143.30 L177.59 2143.30 L178.41 2143.30 L179.24 2143.30 L180.06 2143.30 L180.89 2143.30 L181.71 2143.30 L182.54 2143.30 L183.36 2143.30 L184.19 2143.30 L185.01 2143.30 L185.83 2143.30 L186.66 2143.30 L187.48 2143.30 L188.31 2143.30 L189.13 2143.30 L189.96 2143.30 L190.78 2143.30 L191.60 2143.30 L192.43 2143.30 L193.25 2143.30 L194.08 2143.30 L194.90 2143.30 L195.73 2143.30 L196.55 2143.30 L197.38 2143.30 L198.20 2143.30 L199.02 2143.30 L199.85 2143.30 L200.67 2143.30 L201.50 2143.30 L202.32 2143.30 L203.15 2143.30 L203.97 2143.30 L204.80 2143.30 L205.62 2143.30 L206.44 2143.30 L207.27 2143.30 L208.09 2143.30 L208.92 2143.30 L209.74 2143.30 L210.57 2143.30 L211.39 2143.30 L212.21 2143.30 L213.04 2143.30 L213.86 2143.30 L214.69 2143.30 L215.51 2143.30 L216.34 2143.30 L217.16 2143.30 L217.99 2143.30 L218.81 2143.30 L219.63 2143.30 L220.46 2143.30 L221.28 2143.30 L222.11 2143.30 L222.93 2143.30 L223.76 2143.30 L224.58 2143.30 L225.40 2143.30 L226.23 2143.30 L227.05 2143.30 L227.88 2143.30 L228.70 2143.30 L229.53 2143.30 L230.35 2143.30 L231.18 2143.30 L232.00 2143.30 L232.82 2143.30 L233.65 2143.30 L234.47 2143.30 L235.30 2143.30 L236.12 2143.30 L236.95 2143.30 L237.77 2143.30 L238.59 2143.30 L239.42 2143.30 L240.24 2143.30 L241.07 2143.30 L241.89 2143.30 L242.72 2143.30 L243.54 2143.30 L244.37 2143.30 L245.19 2143.29 L246.01 2143.29 L246.84 2143.29 L247.66 2143.29 L248.49 2143.28 L249.31 2143.28 L250.14 2143.27 L250.96 2143.27 L251.78 2143.26 L252.61 2143.24 L253.43 2143.23 L254.26 2143.21 L255.08 2143.18 L255.91 2143.15 L256.73 2143.11 L257.56 2143.06 L258.38 2143.00 L259.20 2142.93 L260.03 2142.84 L260.85 2142.74 L261.68 2142.61 L262.50 2142.45 L263.33 2142.27 L264.15 2142.05 L264.97 2141.80 L265.80 2141.49 L266.62 2141.14 L267.45 2140.73 L268.27 2140.25 L269.10 2139.70 L269.92 2139.07 L270.75 2138.35 L271.57 2137.53 L272.39 2136.61 L273.22 2135.58 L274.04 2134.42 L274.87 2133.13 L275.69 2131.71 L276.52 2130.15 L277.34 2128.43 L278.16 2126.57 L278.99 2124.56 L279.81 2122.40 L280.64 2120.09 L281.46 2117.64 L282.29 2115.05 L283.11 2112.33 L283.94 2109.50 L284.76 2106.57 L285.58 2103.56 L286.41 2100.49 L287.23 2097.38 L288.06 2094.26 L288.88 2091.16 L289.71 2088.10 L290.53 2085.11 L291.35 2082.23 L292.18 2079.49 L293.00 2076.91 L293.83 2074.53 L294.65 2072.37 L295.48 2070.46 L296.30 2068.82 L297.12 2067.48 L297.95 2066.45 L298.77 2065.74 L299.60 2065.36 L300.42 2065.33 L301.25 2065.63 L302.07 2066.26 L302.90 2067.23 L303.72 2068.50 L304.54 2070.08 L305.37 2071.93 L306.19 2074.04 L307.02 2076.37 L307.84 2078.91 L308.67 2081.62 L309.49 2084.48 L310.31 2087.44 L311.14 2090.49 L311.96 2093.58 L312.79 2096.70 L313.61 2099.81 L314.44 2102.89 L315.26 2105.92 L316.09 2108.87 L316.91 2111.72 L317.73 2114.46 L318.56 2117.08 L319.38 2119.57 L320.21 2121.91 L321.03 2124.10 L321.86 2126.15 L322.68 2128.04 L323.50 2129.79 L324.33 2131.38 L325.15 2132.83 L325.98 2134.15 L326.80 2135.34 L327.63 2136.40 L328.45 2137.34 L329.28 2138.18 L330.10 2138.92 L330.92 2139.57 L331.75 2140.14 L332.57 2140.63 L333.40 2141.05 L334.22 2141.42 L335.05 2141.73 L335.87 2142.00 L336.69 2142.23 L337.52 2142.42 L338.34 2142.58 L339.17 2142.71 L339.99 2142.82 L340.82 2142.91 L341.64 2142.99 L342.47 2143.05 L343.29 2143.10 L344.11 2143.14 L344.94 2143.17 L345.76 2143.20 L346.59 2143.22 L347.41 2143.24 L348.24 2143.25 L349.06 2143.26 L349.88 2143.27 L350.71 2143.28 L351.53 2143.28 L352.36 2143.29 L353.18 2143.29 L354.01 2143.29 L354.83 2143.29 L355.66 2143.30 L356.48 2143.30 L357.30 2143.30 L358.13 2143.30 L358.95 2143.30 L359.78 2143.30 L360.60 2143.30 L361.43 2143.30 L362.25 2143.30 L363.07 2143.30 L363.90 2143.30 L364.72 2143.30 L365.55 2143.30 L366.37 2143.30 L367.20 2143.30 L368.02 2143.30 L368.85 2143.30 L369.67 2143.30 L370.49 2143.30 L371.32 2143.30 L372.14 2143.30 L372.97 2143.30 L373.79 2143.30 L374.62 2143.30 L375.44 2143.30 L376.26 2143.30 L377.09 2143.30 L377.91 2143.30 L378.74 2143.30 L379.56 2143.30 L380.39 2143.30 L381.21 2143.30 L382.04 2143.30 L382.86 2143.30 L383.68 2143.30 L384.51 2143.30 L385.33 2143.30 L386.16 2143.30 L386.98 2143.30 L387.81 2143.30 L388.63 2143.30 L389.45 2143.30 L390.28 2143.30 L391.10 2143.30 L391.93 2143.30 L392.75 2143.30 L393.58 2143.30 L394.40 2143.30 L395.23 2143.30 L396.05 2143.30 L396.87 2143.30 L397.70 2143.30 L398.52 2143.30 L399.35 2143.30 L400.17 2143.30 L401.00 2143.30 L401.82 2143.30 L402.64 2143.30 L403.47 2143.30 L404.29 2143.30 L405.12 2143.30 L405.94 2143.30 L406.77 2143.30 L407.59 2143.30 L408.42 2143.30 L409.24 2143.30 L410.06 2143.30 L410.89 2143.30 L411.71 2143.30 L412.54 2143.30 L413.36 2143.30 L414.19 2143.30 L415.01 2143.30 L415.83 2143.30 L416.66 2143.30 L417.48 2143.30 L418.31 2143.30 L419.13 2143.30 L419.96 2143.30 L420.78 2143.30 L421.61 2143.30 L422.43 2143.30 L423.25 2143.30 L424.08 2143.30 L424.90 2143.30 L425.73 2143.30 L426.55 2143.30 L427.38 2143.30 L428.20 2143.30 L429.02 2143.30 L429.85 2143.30 L430.67 2143.30 L431.50 2143.30 L432.32 2143.30 L433.15 2143.30 L433.97 2143.30 L434.80 2143.30 L435.62 2143.30 L436.44 2143.30 L437.27 2143.30 L438.09 2143.30 L438.92 2143.30 L439.74 2143.30 L440.57 2143.30 L441.39 2143.30 L442.21 2143.30 L443.04 2143.30 L443.86 2143.30 L444.69 2143.30 L445.51 2143.30 L446.34 2143.30 L447.16 2143.30 L447.99 2143.30 L448.81 2143.30 L449.63 2143.30 L450.46 2143.30 L451.28 2143.30 L452.11 2143.30 L452.93 2143.30 L453.76 2143.30 L454.58 2143.30 L455.40 2143.30 L456.23 2143.30 L457.05 2143.30 L457.88 2143.30 L458.70 2143.30 L459.53 2143.30 L460.35 2143.30 L461.18 2143.30 L462.00 2143.30" fill="none" stroke="#d62728" stroke-width="2.50"/>
</g>
<rect x="137.25" y="1846.50" width="319.75" height="320.10" fill="none" stroke="#000" stroke-width="2.50"/>
<text x="241.70" y="2207.00" font-size="29.00" textLength="109.58" lengthAdjust="spacingAndGlyphs" text-anchor="middle">106.480</text>
<text x="398.38" y="2207.00" font-size="29.00" textLength="109.58" lengthAdjust="spacingAndGlyphs" text-anchor="middle">106.520</text>
<text x="116.65" y="2152.80" font-size="29.00" textLength="16.86" lengthAdjust="spacingAndGlyphs" text-anchor="end">0</text>
<text x="116.65" y="2095.70" font-size="29.00" textLength="33.72" lengthAdjust="spacingAndGlyphs" text-anchor="end">25</text>
<text x="116.65" y="2038.60" font-size="29.00" textLength="33.72" lengthAdjust="spacingAndGlyphs" text-anchor="end">50</text>
<text x="116.65" y="1981.50" font-size="29.00" textLength="33.72" lengthAdjust="spacingAndGlyphs" text-anchor="end">75</text>
<text x="116.65" y="1924.40" font-size="29.00" textLength="50.58" lengthAdjust="spacingAndGlyphs" text-anchor="end">100</text>
<text x="116.65" y="1867.30" font-size="29.00" textLength="50.58" lengthAdjust="spacingAndGlyphs" text-anchor="end">125</text>
<path d="M241.70 2166.60V2178.40M241.70 1846.50V1834.70M398.38 2166.60V2178.40M398.38 1846.50V1834.70M137.25 2143.30H125.45M457.00 2143.30H468.80M137.25 2086.20H125.45M457.00 2086.20H468.80M137.25 2029.10H125.45M457.00 2029.10H468.80M137.25 1972.00H125.45M457.00 1972.00H468.80M137.25 1914.90H125.45M457.00 1914.90H468.80M137.25 1857.80H125.45M457.00 1857.80H468.80" stroke="#000" stroke-width="2.20" fill="none"/>
<path d="M163.36 2166.60V2171.20M163.36 1846.50V1841.90M202.53 2166.60V2171.20M202.53 1846.50V1841.90M280.87 2166.60V2171.20M280.87 1846.50V1841.90M320.04 2166.60V2171.20M320.04 1846.50V1841.90M359.21 2166.60V2171.20M359.21 1846.50V1841.90M437.55 2166.60V2171.20M437.55 1846.50V1841.90M137.25 2166.14H132.65M457.00 2166.14H461.60M137.25 2154.72H132.65M457.00 2154.72H461.60M137.25 2131.88H132.65M457.00 2131.88H461.60M137.25 2120.46H132.65M457.00 2120.46H461.60M137.25 2109.04H132.65M457.00 2109.04H461.60M137.25 2097.62H132.65M457.00 2097.62H461.60M137.25 2074.78H132.65M457.00 2074.78H461.60M137.25 2063.36H132.65M457.00 2063.36H461.60M137.25 2051.94H132.65M457.00 2051.94H461.60M137.25 2040.52H132.65M457.00 2040.52H461.60M137.25 2017.68H132.65M457.00 2017.68H461.60M137.25 2006.26H132.65M457.00 2006.26H461.60M137.25 1994.84H132.65M457.00 1994.84H461.60M137.25 1983.42H132.65M457.00 1983.42H461.60M137.25 1960.58H132.65M457.00 1960.58H461.60M137.25 1949.16H132.65M457.00 1949.16H461.60M137.25 1937.74H132.65M457.00 1937.74H461.60M137.25 1926.32H132.65M457.00 1926.32H461.60M137.25 1903.48H132.65M457.00 1903.48H461.60M137.25 1892.06H132.65M457.00 1892.06H461.60M137.25 1880.64H132.65M457.00 1880.64H461.60M137.25 1869.22H132.65M457.00 1869.22H461.60M137.25 1846.38H132.65M457.00 1846.38H461.60" stroke="#000" stroke-width="1.80" fill="none"/>
<g font-size="16">
</g>
<g clip-path="url(#cp13)">
<path d="M551.60 2137.10V2059.66H556.20V2036.78H560.80V2027.88H565.40V2006.27H570.00V1974.49H574.60V1941.43H579.20V1933.80H583.80V1928.72H588.40V1950.33H593.00V1964.32H597.60V1980.84H602.20V2007.54H606.80V2018.98H611.40V2030.42H616.00V2041.86H620.60V2067.29H625.20V2082.55H629.80V2100.34H634.40V2101.62H639.00V2104.48H643.60V2106.70H648.20V2119.41H652.80V2121.96H657.40V2128.31H662.00V2121.96H666.60V2118.14H671.20V2120.68H675.80V2125.77H680.40V2132.13H685.00V2132.13H689.60V2133.40H694.20V2143.57H698.80V2135.94H703.40V2139.75H708.00V2139.75H712.60V2139.75H717.20V2142.30H721.80V2130.86H726.40V2128.31H731.00V2138.48H735.60V2141.03H740.20V2137.21H744.80V2138.48H749.40V2129.58H754.00V2132.13H758.60V2130.92H763.20V2129.58H767.80V2133.40H772.40V2128.31H777.00V2133.40H781.60V2135.94H786.20V2139.75H790.80V2144.84H795.40V2142.30H800.00V2141.03H804.60V2143.01H809.20V2144.84H813.80V2141.03H818.40V2138.48H823.00V2141.03H827.60V2135.94H832.20V2135.94H836.80V2135.94H841.40V2135.94H846.00V2133.40H850.60V2141.03H855.20V2141.62H859.80V2142.30H864.40V2144.84H869.00V2142.30H873.60V2141.03H878.20V2137.10 Z" fill="#808080" fill-opacity="0.2" stroke="none"/>
<path d="M551.60 2059.66H556.20V2036.78H560.80V2027.88H565.40V2006.27H570.00V1974.49H574.60V1941.43H579.20V1933.80H583.80V1928.72H588.40V1950.33H593.00V1964.32H597.60V1980.84H602.20V2007.54H606.80V2018.98H611.40V2030.42H616.00V2041.86H620.60V2067.29H625.20V2082.55H629.80V2100.34H634.40V2101.62H639.00V2104.48H643.60V2106.70H648.20V2119.41H652.80V2121.96H657.40V2128.31H662.00V2121.96H666.60V2118.14H671.20V2120.68H675.80V2125.77H680.40V2132.13H685.00V2132.13H689.60V2133.40H694.20V2143.57H698.80V2135.94H703.40V2139.75H708.00V2139.75H712.60V2139.75H717.20V2142.30H721.80V2130.86H726.40V2128.31H731.00V2138.48H735.60V2141.03H740.20V2137.21H744.80V2138.48H749.40V2129.58H754.00V2132.13H758.60V2130.92H763.20V2129.58H767.80V2133.40H772.40V2128.31H777.00V2133.40H781.60V2135.94H786.20V2139.75H790.80V2144.84H795.40V2142.30H800.00V2141.03H804.60V2143.01H809.20V2144.84H813.80V2141.03H818.40V2138.48H823.00V2141.03H827.60V2135.94H832.20V2135.94H836.80V2135.94H841.40V2135.94H846.00V2133.40H850.60V2141.03H855.20V2141.62H859.80V2142.30H864.40V2144.84H869.00V2142.30H873.60V2141.03H878.20" fill="none" stroke="#000" stroke-width="2.60" stroke-linejoin="miter"/>
<path d="M524.57 2107.97C529.87 2103.31 549.58 2089.33 556.36 2080.00C563.14 2070.68 562.08 2061.36 565.26 2052.03C568.43 2042.71 572.46 2031.27 575.43 2024.07C578.39 2016.86 580.72 2011.99 583.05 2008.81C585.38 2005.63 587.29 2005.00 589.41 2005.00C591.53 2005.00 593.44 2005.21 595.77 2008.81C598.10 2012.41 600.85 2019.40 603.39 2026.61C605.94 2033.81 608.48 2043.98 611.02 2052.03C613.56 2060.09 616.11 2068.14 618.65 2074.92C621.19 2081.70 624.16 2088.05 626.28 2092.72C628.40 2097.38 629.46 2099.71 631.36 2102.89C633.27 2106.06 635.39 2109.75 637.72 2111.79C640.05 2113.82 642.59 2114.46 645.35 2115.09C648.10 2115.73 651.49 2115.09 654.25 2115.60C657.00 2116.11 659.33 2117.08 661.87 2118.14C664.42 2119.20 666.96 2120.47 669.50 2121.96C672.04 2123.44 674.59 2125.56 677.13 2127.04C679.67 2128.52 682.21 2130.01 684.76 2130.86C687.30 2131.70 689.42 2131.79 692.38 2132.13C695.35 2132.47 696.62 2132.68 702.56 2132.89C708.49 2133.10 719.51 2133.23 727.98 2133.40C736.46 2133.57 744.93 2133.91 753.41 2133.91C761.88 2133.91 770.36 2133.48 778.83 2133.40C787.31 2133.31 796.63 2133.19 804.26 2133.40C811.89 2133.61 818.24 2134.67 824.60 2134.67C830.96 2134.67 837.31 2134.03 842.40 2133.40C847.48 2132.76 850.87 2131.70 855.11 2130.86C859.35 2130.01 864.22 2128.82 867.82 2128.31C871.43 2127.80 870.37 2128.02 876.72 2127.80C883.08 2127.59 901.09 2127.17 905.96 2127.04" fill="none" stroke="#1f77b4" stroke-width="2.50"/>
<path d="M551.20 2102.25 L552.03 2100.31 L552.85 2098.31 L553.68 2096.25 L554.50 2094.13 L555.33 2091.95 L556.15 2089.72 L556.98 2087.44 L557.80 2085.11 L558.62 2082.73 L559.45 2080.32 L560.28 2077.86 L561.10 2075.38 L561.93 2072.86 L562.75 2070.32 L563.58 2067.77 L564.40 2065.20 L565.23 2062.62 L566.05 2060.04 L566.88 2057.47 L567.70 2054.90 L568.53 2052.36 L569.35 2049.84 L570.18 2047.35 L571.00 2044.90 L571.83 2042.49 L572.65 2040.14 L573.48 2037.84 L574.30 2035.61 L575.12 2033.46 L575.95 2031.38 L576.78 2029.38 L577.60 2027.48 L578.43 2025.68 L579.25 2023.98 L580.08 2022.39 L580.90 2020.92 L581.73 2019.57 L582.55 2018.34 L583.38 2017.24 L584.20 2016.27 L585.03 2015.44 L585.85 2014.75 L586.68 2014.19 L587.50 2013.79 L588.33 2013.52 L589.15 2013.41 L589.98 2013.44 L590.80 2013.61 L591.62 2013.93 L592.45 2014.39 L593.28 2015.00 L594.10 2015.75 L594.93 2016.63 L595.75 2017.65 L596.58 2018.81 L597.40 2020.08 L598.23 2021.49 L599.05 2023.01 L599.88 2024.64 L600.70 2026.38 L601.53 2028.22 L602.35 2030.16 L603.18 2032.19 L604.00 2034.30 L604.83 2036.48 L605.65 2038.74 L606.48 2041.06 L607.30 2043.43 L608.12 2045.86 L608.95 2048.33 L609.78 2050.83 L610.60 2053.36 L611.43 2055.91 L612.25 2058.48 L613.08 2061.06 L613.90 2063.64 L614.73 2066.21 L615.55 2068.78 L616.38 2071.33 L617.20 2073.86 L618.03 2076.36 L618.85 2078.84 L619.68 2081.28 L620.50 2083.68 L621.33 2086.03 L622.15 2088.34 L622.98 2090.61 L623.80 2092.82 L624.62 2094.97 L625.45 2097.07 L626.28 2099.10 L627.10 2101.08 L627.93 2102.99 L628.75 2104.84 L629.58 2106.63 L630.40 2108.35 L631.23 2110.01 L632.05 2111.60 L632.88 2113.12 L633.70 2114.58 L634.53 2115.98 L635.35 2117.31 L636.18 2118.58 L637.00 2119.79 L637.83 2120.94 L638.65 2122.04 L639.48 2123.07 L640.30 2124.05 L641.12 2124.97 L641.95 2125.85 L642.78 2126.67 L643.60 2127.44 L644.43 2128.17 L645.25 2128.85 L646.08 2129.49 L646.90 2130.09 L647.73 2130.64 L648.55 2131.17 L649.38 2131.65 L650.20 2132.10 L651.03 2132.52 L651.85 2132.91 L652.68 2133.27 L653.50 2133.61 L654.33 2133.91 L655.15 2134.20 L655.98 2134.46 L656.80 2134.70 L657.62 2134.92 L658.45 2135.13 L659.28 2135.31 L660.10 2135.49 L660.93 2135.64 L661.75 2135.78 L662.58 2135.91 L663.40 2136.03 L664.23 2136.14 L665.05 2136.24 L665.88 2136.33 L666.70 2136.41 L667.53 2136.48 L668.35 2136.55 L669.18 2136.61 L670.00 2136.66 L670.83 2136.71 L671.65 2136.75 L672.48 2136.79 L673.30 2136.83 L674.12 2136.86 L674.95 2136.88 L675.78 2136.91 L676.60 2136.93 L677.43 2136.95 L678.25 2136.97 L679.08 2136.98 L679.90 2137.00 L680.73 2137.01 L681.55 2137.02 L682.38 2137.03 L683.20 2137.04 L684.03 2137.05 L684.85 2137.05 L685.68 2137.06 L686.50 2137.07 L687.33 2137.07 L688.15 2137.07 L688.98 2137.08 L689.80 2137.08 L690.62 2137.08 L691.45 2137.09 L692.28 2137.09 L693.10 2137.09 L693.93 2137.09 L694.75 2137.09 L695.58 2137.09 L696.40 2137.09 L697.23 2137.09 L698.05 2137.10 L698.88 2137.10 L699.70 2137.10 L700.53 2137.10 L701.35 2137.10 L702.18 2137.10 L703.00 2137.10 L703.83 2137.10 L704.65 2137.10 L705.48 2137.10 L706.30 2137.10 L707.12 2137.10 L707.95 2137.10 L708.78 2137.10 L709.60 2137.10 L710.43 2137.10 L711.25 2137.10 L712.08 2137.10 L712.90 2137.10 L713.73 2137.10 L714.55 2137.10 L715.38 2137.10 L716.20 2137.10 L717.03 2137.10 L717.85 2137.10 L718.68 2137.10 L719.50 2137.10 L720.33 2137.10 L721.15 2137.10 L721.98 2137.10 L722.80 2137.10 L723.62 2137.10 L724.45 2137.10 L725.28 2137.10 L726.10 2137.10 L726.93 2137.10 L727.75 2137.10 L728.58 2137.10 L729.40 2137.10 L730.23 2137.10 L731.05 2137.10 L731.88 2137.10 L732.70 2137.10 L733.53 2137.10 L734.35 2137.10 L735.18 2137.10 L736.00 2137.10 L736.83 2137.10 L737.65 2137.10 L738.48 2137.10 L739.30 2137.10 L740.12 2137.10 L740.95 2137.10 L741.78 2137.10 L742.60 2137.10 L743.43 2137.10 L744.25 2137.10 L745.08 2137.10 L745.90 2137.10 L746.73 2137.10 L747.55 2137.10 L748.38 2137.10 L749.20 2137.10 L750.03 2137.10 L750.85 2137.10 L751.68 2137.10 L752.50 2137.10 L753.33 2137.10 L754.15 2137.10 L754.98 2137.10 L755.80 2137.10 L756.62 2137.10 L757.45 2137.10 L758.28 2137.10 L759.10 2137.10 L759.93 2137.10 L760.75 2137.10 L761.58 2137.10 L762.40 2137.10 L763.23 2137.10 L764.05 2137.10 L764.88 2137.10 L765.70 2137.10 L766.53 2137.10 L767.35 2137.10 L768.18 2137.10 L769.00 2137.10 L769.83 2137.10 L770.65 2137.10 L771.48 2137.10 L772.30 2137.10 L773.12 2137.10 L773.95 2137.10 L774.78 2137.10 L775.60 2137.10 L776.43 2137.10 L777.25 2137.10 L778.08 2137.10 L778.90 2137.10 L779.73 2137.10 L780.55 2137.10 L781.38 2137.10 L782.20 2137.10 L783.03 2137.10 L783.85 2137.10 L784.68 2137.10 L785.50 2137.10 L786.33 2137.10 L787.15 2137.10 L787.98 2137.10 L788.80 2137.10 L789.62 2137.10 L790.45 2137.10 L791.28 2137.10 L792.10 2137.10 L792.93 2137.10 L793.75 2137.10 L794.58 2137.10 L795.40 2137.10 L796.23 2137.10 L797.05 2137.10 L797.88 2137.10 L798.70 2137.10 L799.53 2137.10 L800.35 2137.10 L801.18 2137.10 L802.00 2137.10 L802.83 2137.10 L803.65 2137.10 L804.48 2137.10 L805.30 2137.10 L806.12 2137.10 L806.95 2137.10 L807.78 2137.10 L808.60 2137.10 L809.43 2137.10 L810.25 2137.10 L811.08 2137.10 L811.90 2137.10 L812.73 2137.10 L813.55 2137.10 L814.38 2137.10 L815.20 2137.10 L816.03 2137.10 L816.85 2137.10 L817.68 2137.10 L818.50 2137.10 L819.33 2137.10 L820.15 2137.10 L820.98 2137.10 L821.80 2137.10 L822.62 2137.10 L823.45 2137.10 L824.28 2137.10 L825.10 2137.10 L825.93 2137.10 L826.75 2137.10 L827.58 2137.10 L828.40 2137.10 L829.23 2137.10 L830.05 2137.10 L830.88 2137.10 L831.70 2137.10 L832.53 2137.10 L833.35 2137.10 L834.18 2137.10 L835.00 2137.10 L835.83 2137.10 L836.65 2137.10 L837.48 2137.10 L838.30 2137.10 L839.12 2137.10 L839.95 2137.10 L840.78 2137.10 L841.60 2137.10 L842.43 2137.10 L843.25 2137.10 L844.08 2137.10 L844.90 2137.10 L845.73 2137.10 L846.55 2137.10 L847.38 2137.10 L848.20 2137.10 L849.03 2137.10 L849.85 2137.10 L850.68 2137.10 L851.50 2137.10 L852.33 2137.10 L853.15 2137.10 L853.98 2137.10 L854.80 2137.10 L855.62 2137.10 L856.45 2137.10 L857.28 2137.10 L858.10 2137.10 L858.93 2137.10 L859.75 2137.10 L860.58 2137.10 L861.40 2137.10 L862.23 2137.10 L863.05 2137.10 L863.88 2137.10 L864.70 2137.10 L865.53 2137.10 L866.35 2137.10 L867.18 2137.10 L868.00 2137.10 L868.83 2137.10 L869.65 2137.10 L870.48 2137.10 L871.30 2137.10 L872.12 2137.10 L872.95 2137.10 L873.78 2137.10 L874.60 2137.10 L875.43 2137.10 L876.25 2137.10 L877.08 2137.10 L877.90 2137.10 L878.73 2137.10 L879.55 2137.10 L880.38 2137.10 L881.20 2137.10" fill="none" stroke="#d62728" stroke-width="2.50"/>
</g>
<rect x="556.20" y="1846.50" width="320.00" height="320.10" fill="none" stroke="#000" stroke-width="2.50"/>
<text x="652.20" y="2207.00" font-size="29.00" textLength="109.58" lengthAdjust="spacingAndGlyphs" text-anchor="middle">107.325</text>
<text x="831.10" y="2207.00" font-size="29.00" textLength="109.58" lengthAdjust="spacingAndGlyphs" text-anchor="middle">107.350</text>
<text x="535.60" y="2146.60" font-size="29.00" textLength="16.86" lengthAdjust="spacingAndGlyphs" text-anchor="end">0</text>
<text x="535.60" y="2073.96" font-size="29.00" textLength="33.72" lengthAdjust="spacingAndGlyphs" text-anchor="end">20</text>
<text x="535.60" y="2001.32" font-size="29.00" textLength="33.72" lengthAdjust="spacingAndGlyphs" text-anchor="end">40</text>
<text x="535.60" y="1928.68" font-size="29.00" textLength="33.72" lengthAdjust="spacingAndGlyphs" text-anchor="end">60</text>
<text x="535.60" y="1856.04" font-size="29.00" textLength="33.72" lengthAdjust="spacingAndGlyphs" text-anchor="end">80</text>
<path d="M652.20 2166.60V2178.40M652.20 1846.50V1834.70M831.10 2166.60V2178.40M831.10 1846.50V1834.70M556.20 2137.10H544.40M876.20 2137.10H888.00M556.20 2064.46H544.40M876.20 2064.46H888.00M556.20 1991.82H544.40M876.20 1991.82H888.00M556.20 1919.18H544.40M876.20 1919.18H888.00M556.20 1846.54H544.40M876.20 1846.54H888.00" stroke="#000" stroke-width="2.20" fill="none"/>
<path d="M580.64 2166.60V2171.20M580.64 1846.50V1841.90M616.42 2166.60V2171.20M616.42 1846.50V1841.90M687.98 2166.60V2171.20M687.98 1846.50V1841.90M723.76 2166.60V2171.20M723.76 1846.50V1841.90M759.54 2166.60V2171.20M759.54 1846.50V1841.90M795.32 2166.60V2171.20M795.32 1846.50V1841.90M866.88 2166.60V2171.20M866.88 1846.50V1841.90M556.20 2155.26H551.60M876.20 2155.26H880.80M556.20 2118.94H551.60M876.20 2118.94H880.80M556.20 2100.78H551.60M876.20 2100.78H880.80M556.20 2082.62H551.60M876.20 2082.62H880.80M556.20 2046.30H551.60M876.20 2046.30H880.80M556.20 2028.14H551.60M876.20 2028.14H880.80M556.20 2009.98H551.60M876.20 2009.98H880.80M556.20 1973.66H551.60M876.20 1973.66H880.80M556.20 1955.50H551.60M876.20 1955.50H880.80M556.20 1937.34H551.60M876.20 1937.34H880.80M556.20 1901.02H551.60M876.20 1901.02H880.80M556.20 1882.86H551.60M876.20 1882.86H880.80M556.20 1864.70H551.60M876.20 1864.70H880.80" stroke="#000" stroke-width="1.80" fill="none"/>
<g font-size="16">
<text transform="translate(987.30 1995.10) rotate(-90)" fill="#0000b0" textLength="53.98" lengthAdjust="spacingAndGlyphs" text-anchor="start"><tspan font-size="16.00" dy="0.00">CH</tspan><tspan font-size="11.20" dy="3.04">3</tspan><tspan font-size="16.00" dy="-3.04">SH</tspan></text>
<text transform="translate(1146.20 1977.30) rotate(-90)" fill="#0000b0" textLength="43.71" lengthAdjust="spacingAndGlyphs" text-anchor="start"><tspan font-size="16.00" dy="0.00">HC</tspan><tspan font-size="11.20" dy="3.04">5</tspan><tspan font-size="16.00" dy="-3.04">N</tspan></text>
</g>
<g clip-path="url(#cp14)">
<path d="M971.70 2120.90V1960.50H975.00V1929.99H978.30V1927.45H981.60V1914.74H984.90V1942.70H988.20V1955.42H991.50V1970.67H994.80V2010.47H998.10V2016.44H1001.40V2022.80H1004.70V2064.75H1008.00V2092.72H1011.30V2112.51H1014.60V2114.33H1017.90V2116.87H1021.20V2100.34H1024.50V2143.57H1027.80V2141.03H1031.10V2113.06H1034.40V2135.94H1037.70V2133.40H1041.00V2146.11H1044.30V2166.45H1047.60V2148.65H1050.90V2135.94H1054.20V2118.14H1057.50V2135.94H1060.80V2128.27H1064.10V2120.68H1067.40V2128.31H1070.70V2138.48H1074.00V2133.40H1077.30V2140.96H1080.60V2148.65H1083.90V2135.94H1087.20V2158.82H1090.50V2143.57H1093.80V2141.03H1097.10V2115.60H1100.40V2128.31H1103.70V2113.06H1107.00V2106.70H1110.30V2097.52H1113.60V2087.63H1116.90V2102.89H1120.20V2092.72H1123.50V2072.38H1126.80V2044.41H1130.10V1998.64H1133.40V1992.28H1136.70V2018.98H1140.00V1983.38H1143.30V2018.98H1146.60V2030.42H1149.90V2039.32H1153.20V2057.12H1156.50V2080.00H1159.80V2074.92H1163.10V2097.80H1166.40V2115.60H1169.70V2135.94H1173.00V2118.14H1176.30V2100.34H1179.60V2130.86H1182.90V2102.89H1186.20V2128.31H1189.50V2113.06H1192.80V2080.00H1196.10V2097.80H1199.40V2081.27H1202.70V2100.34H1206.00V2115.60H1209.30V2133.40H1212.60V2120.68H1215.90V2118.13H1219.20V2115.60H1222.50V2106.70H1225.80V2120.68H1229.10V2128.31H1232.40V2166.45H1235.70V2128.31H1239.00V2113.36H1242.30V2101.62H1245.60V2115.60H1248.90V2128.31H1252.20V2113.06H1255.50V2144.84H1258.80V2106.70H1262.10V2087.63H1265.40V2088.90H1268.70V2090.17H1272.00V2082.55H1275.30V2128.31H1278.60V2115.60H1281.90V2109.56H1285.20V2102.89H1288.50V2110.51H1291.80V2096.53H1295.10V2120.90 Z" fill="#808080" fill-opacity="0.2" stroke="none"/>
<path d="M971.70 1960.50H975.00V1929.99H978.30V1927.45H981.60V1914.74H984.90V1942.70H988.20V1955.42H991.50V1970.67H994.80V2010.47H998.10V2016.44H1001.40V2022.80H1004.70V2064.75H1008.00V2092.72H1011.30V2112.51H1014.60V2114.33H1017.90V2116.87H1021.20V2100.34H1024.50V2143.57H1027.80V2141.03H1031.10V2113.06H1034.40V2135.94H1037.70V2133.40H1041.00V2146.11H1044.30V2166.45H1047.60V2148.65H1050.90V2135.94H1054.20V2118.14H1057.50V2135.94H1060.80V2128.27H1064.10V2120.68H1067.40V2128.31H1070.70V2138.48H1074.00V2133.40H1077.30V2140.96H1080.60V2148.65H1083.90V2135.94H1087.20V2158.82H1090.50V2143.57H1093.80V2141.03H1097.10V2115.60H1100.40V2128.31H1103.70V2113.06H1107.00V2106.70H1110.30V2097.52H1113.60V2087.63H1116.90V2102.89H1120.20V2092.72H1123.50V2072.38H1126.80V2044.41H1130.10V1998.64H1133.40V1992.28H1136.70V2018.98H1140.00V1983.38H1143.30V2018.98H1146.60V2030.42H1149.90V2039.32H1153.20V2057.12H1156.50V2080.00H1159.80V2074.92H1163.10V2097.80H1166.40V2115.60H1169.70V2135.94H1173.00V2118.14H1176.30V2100.34H1179.60V2130.86H1182.90V2102.89H1186.20V2128.31H1189.50V2113.06H1192.80V2080.00H1196.10V2097.80H1199.40V2081.27H1202.70V2100.34H1206.00V2115.60H1209.30V2133.40H1212.60V2120.68H1215.90V2118.13H1219.20V2115.60H1222.50V2106.70H1225.80V2120.68H1229.10V2128.31H1232.40V2166.45H1235.70V2128.31H1239.00V2113.36H1242.30V2101.62H1245.60V2115.60H1248.90V2128.31H1252.20V2113.06H1255.50V2144.84H1258.80V2106.70H1262.10V2087.63H1265.40V2088.90H1268.70V2090.17H1272.00V2082.55H1275.30V2128.31H1278.60V2115.60H1281.90V2109.56H1285.20V2102.89H1288.50V2110.51H1291.80V2096.53H1295.10" fill="none" stroke="#000" stroke-width="2.60" stroke-linejoin="miter"/>
<path d="M958.83 2085.09C960.52 2080.85 966.25 2068.14 969.00 2059.66C971.75 2051.19 973.45 2043.14 975.36 2034.24C977.26 2025.34 978.75 2013.13 980.44 2006.27C982.14 1999.40 983.83 1993.89 985.53 1993.05C987.22 1992.20 988.92 1996.01 990.61 2001.18C992.31 2006.35 994.00 2015.59 995.70 2024.07C997.39 2032.54 999.09 2042.29 1000.78 2052.03C1002.48 2061.78 1004.17 2073.22 1005.87 2082.55C1007.56 2091.87 1009.26 2102.25 1010.95 2107.97C1012.65 2113.69 1014.13 2114.96 1016.04 2116.87C1017.94 2118.78 1017.52 2118.78 1022.39 2119.41C1027.27 2120.05 1037.23 2120.60 1045.28 2120.68C1053.33 2120.77 1064.35 2120.64 1070.70 2119.92C1077.06 2119.20 1079.18 2117.59 1083.42 2116.36C1087.65 2115.13 1092.32 2113.61 1096.13 2112.55C1099.94 2111.49 1103.55 2111.40 1106.30 2110.01C1109.05 2108.61 1110.54 2108.31 1112.66 2104.16C1114.78 2100.01 1117.11 2091.66 1119.01 2085.09C1120.92 2078.52 1122.40 2071.53 1124.10 2064.75C1125.79 2057.97 1127.49 2050.34 1129.18 2044.41C1130.88 2038.47 1132.66 2032.54 1134.27 2029.15C1135.88 2025.76 1137.15 2024.07 1138.84 2024.07C1140.54 2024.07 1142.66 2025.76 1144.44 2029.15C1146.22 2032.54 1147.83 2038.47 1149.52 2044.41C1151.22 2050.34 1152.91 2057.97 1154.61 2064.75C1156.30 2071.53 1158.00 2078.73 1159.69 2085.09C1161.39 2091.44 1162.87 2098.01 1164.78 2102.89C1166.69 2107.76 1168.59 2111.70 1171.14 2114.33C1173.68 2116.96 1175.59 2117.72 1180.03 2118.65C1184.48 2119.58 1190.63 2120.13 1197.83 2119.92C1205.04 2119.71 1216.48 2118.10 1223.26 2117.38C1230.04 2116.66 1234.28 2115.98 1238.51 2115.60C1242.75 2115.22 1244.87 2115.26 1248.68 2115.09C1252.50 2114.92 1258.43 2114.84 1261.40 2114.58C1264.36 2114.33 1264.36 2113.40 1266.48 2113.57C1268.60 2113.73 1271.57 2115.05 1274.11 2115.60C1276.65 2116.15 1279.20 2116.87 1281.74 2116.87C1284.28 2116.87 1287.04 2116.24 1289.37 2115.60C1291.70 2114.96 1289.79 2113.90 1295.72 2113.06C1301.66 2112.21 1320.09 2110.94 1324.96 2110.51" fill="none" stroke="#1f77b4" stroke-width="2.50"/>
<path d="M970.00 2120.90 L970.83 2120.90 L971.65 2120.90 L972.48 2120.90 L973.30 2120.90 L974.12 2120.90 L974.95 2120.90 L975.77 2120.90 L976.60 2120.90 L977.42 2120.90 L978.25 2120.90 L979.08 2120.90 L979.90 2120.90 L980.73 2120.90 L981.55 2120.90 L982.38 2120.90 L983.20 2120.90 L984.02 2120.90 L984.85 2120.90 L985.67 2120.90 L986.50 2120.90 L987.33 2120.90 L988.15 2120.90 L988.98 2120.90 L989.80 2120.90 L990.62 2120.90 L991.45 2120.90 L992.27 2120.90 L993.10 2120.90 L993.92 2120.90 L994.75 2120.90 L995.58 2120.90 L996.40 2120.90 L997.23 2120.90 L998.05 2120.90 L998.88 2120.90 L999.70 2120.90 L1000.52 2120.90 L1001.35 2120.90 L1002.17 2120.90 L1003.00 2120.90 L1003.83 2120.90 L1004.65 2120.90 L1005.48 2120.90 L1006.30 2120.90 L1007.12 2120.90 L1007.95 2120.90 L1008.77 2120.90 L1009.60 2120.90 L1010.42 2120.90 L1011.25 2120.90 L1012.08 2120.90 L1012.90 2120.90 L1013.73 2120.90 L1014.55 2120.90 L1015.38 2120.90 L1016.20 2120.90 L1017.02 2120.90 L1017.85 2120.90 L1018.67 2120.90 L1019.50 2120.90 L1020.33 2120.90 L1021.15 2120.90 L1021.98 2120.90 L1022.80 2120.90 L1023.62 2120.90 L1024.45 2120.90 L1025.28 2120.90 L1026.10 2120.90 L1026.92 2120.90 L1027.75 2120.90 L1028.58 2120.90 L1029.40 2120.90 L1030.22 2120.90 L1031.05 2120.90 L1031.88 2120.90 L1032.70 2120.90 L1033.53 2120.90 L1034.35 2120.90 L1035.17 2120.90 L1036.00 2120.90 L1036.83 2120.90 L1037.65 2120.90 L1038.47 2120.90 L1039.30 2120.90 L1040.12 2120.90 L1040.95 2120.90 L1041.78 2120.90 L1042.60 2120.90 L1043.42 2120.90 L1044.25 2120.90 L1045.08 2120.90 L1045.90 2120.90 L1046.72 2120.90 L1047.55 2120.90 L1048.38 2120.90 L1049.20 2120.90 L1050.03 2120.90 L1050.85 2120.90 L1051.67 2120.90 L1052.50 2120.90 L1053.33 2120.90 L1054.15 2120.90 L1054.97 2120.90 L1055.80 2120.90 L1056.62 2120.90 L1057.45 2120.90 L1058.28 2120.90 L1059.10 2120.90 L1059.92 2120.90 L1060.75 2120.90 L1061.58 2120.90 L1062.40 2120.90 L1063.22 2120.90 L1064.05 2120.90 L1064.88 2120.90 L1065.70 2120.90 L1066.53 2120.90 L1067.35 2120.90 L1068.17 2120.90 L1069.00 2120.90 L1069.83 2120.90 L1070.65 2120.90 L1071.47 2120.90 L1072.30 2120.90 L1073.12 2120.90 L1073.95 2120.90 L1074.78 2120.90 L1075.60 2120.90 L1076.42 2120.90 L1077.25 2120.90 L1078.08 2120.90 L1078.90 2120.90 L1079.72 2120.90 L1080.55 2120.90 L1081.38 2120.90 L1082.20 2120.90 L1083.03 2120.90 L1083.85 2120.89 L1084.67 2120.89 L1085.50 2120.89 L1086.33 2120.89 L1087.15 2120.88 L1087.97 2120.87 L1088.80 2120.87 L1089.62 2120.86 L1090.45 2120.84 L1091.28 2120.83 L1092.10 2120.81 L1092.92 2120.78 L1093.75 2120.75 L1094.58 2120.71 L1095.40 2120.66 L1096.22 2120.61 L1097.05 2120.53 L1097.88 2120.44 L1098.70 2120.33 L1099.53 2120.20 L1100.35 2120.05 L1101.17 2119.86 L1102.00 2119.63 L1102.83 2119.37 L1103.65 2119.06 L1104.47 2118.69 L1105.30 2118.26 L1106.12 2117.77 L1106.95 2117.19 L1107.78 2116.54 L1108.60 2115.79 L1109.42 2114.93 L1110.25 2113.97 L1111.08 2112.89 L1111.90 2111.67 L1112.72 2110.33 L1113.55 2108.84 L1114.38 2107.20 L1115.20 2105.41 L1116.03 2103.47 L1116.85 2101.37 L1117.67 2099.11 L1118.50 2096.71 L1119.33 2094.16 L1120.15 2091.47 L1120.97 2088.65 L1121.80 2085.73 L1122.62 2082.72 L1123.45 2079.63 L1124.28 2076.49 L1125.10 2073.33 L1125.92 2070.17 L1126.75 2067.04 L1127.58 2063.98 L1128.40 2061.02 L1129.22 2058.18 L1130.05 2055.51 L1130.88 2053.02 L1131.70 2050.76 L1132.53 2048.75 L1133.35 2047.01 L1134.17 2045.57 L1135.00 2044.45 L1135.83 2043.66 L1136.65 2043.21 L1137.47 2043.11 L1138.30 2043.36 L1139.12 2043.95 L1139.95 2044.88 L1140.78 2046.14 L1141.60 2047.71 L1142.42 2049.57 L1143.25 2051.69 L1144.08 2054.05 L1144.90 2056.62 L1145.72 2059.37 L1146.55 2062.26 L1147.38 2065.27 L1148.20 2068.36 L1149.03 2071.51 L1149.85 2074.67 L1150.67 2077.83 L1151.50 2080.95 L1152.33 2084.01 L1153.15 2086.98 L1153.97 2089.86 L1154.80 2092.62 L1155.62 2095.26 L1156.45 2097.75 L1157.28 2100.09 L1158.10 2102.28 L1158.92 2104.31 L1159.75 2106.19 L1160.58 2107.92 L1161.40 2109.49 L1162.22 2110.92 L1163.05 2112.20 L1163.88 2113.36 L1164.70 2114.39 L1165.53 2115.31 L1166.35 2116.12 L1167.17 2116.83 L1168.00 2117.45 L1168.83 2117.99 L1169.65 2118.45 L1170.47 2118.85 L1171.30 2119.19 L1172.12 2119.49 L1172.95 2119.73 L1173.78 2119.94 L1174.60 2120.12 L1175.42 2120.26 L1176.25 2120.38 L1177.08 2120.48 L1177.90 2120.56 L1178.72 2120.63 L1179.55 2120.69 L1180.38 2120.73 L1181.20 2120.77 L1182.03 2120.80 L1182.85 2120.82 L1183.67 2120.84 L1184.50 2120.85 L1185.33 2120.86 L1186.15 2120.87 L1186.97 2120.88 L1187.80 2120.88 L1188.62 2120.89 L1189.45 2120.89 L1190.28 2120.89 L1191.10 2120.89 L1191.92 2120.90 L1192.75 2120.90 L1193.58 2120.90 L1194.40 2120.90 L1195.22 2120.90 L1196.05 2120.90 L1196.88 2120.90 L1197.70 2120.90 L1198.53 2120.90 L1199.35 2120.90 L1200.17 2120.90 L1201.00 2120.90 L1201.83 2120.90 L1202.65 2120.90 L1203.47 2120.90 L1204.30 2120.90 L1205.12 2120.90 L1205.95 2120.90 L1206.78 2120.90 L1207.60 2120.90 L1208.42 2120.90 L1209.25 2120.90 L1210.08 2120.90 L1210.90 2120.90 L1211.72 2120.90 L1212.55 2120.90 L1213.38 2120.90 L1214.20 2120.90 L1215.03 2120.90 L1215.85 2120.90 L1216.67 2120.90 L1217.50 2120.90 L1218.33 2120.90 L1219.15 2120.90 L1219.97 2120.90 L1220.80 2120.90 L1221.62 2120.90 L1222.45 2120.90 L1223.28 2120.90 L1224.10 2120.90 L1224.92 2120.90 L1225.75 2120.90 L1226.58 2120.90 L1227.40 2120.90 L1228.22 2120.90 L1229.05 2120.90 L1229.88 2120.90 L1230.70 2120.90 L1231.53 2120.90 L1232.35 2120.90 L1233.17 2120.90 L1234.00 2120.90 L1234.83 2120.90 L1235.65 2120.90 L1236.47 2120.90 L1237.30 2120.90 L1238.12 2120.90 L1238.95 2120.90 L1239.78 2120.90 L1240.60 2120.90 L1241.42 2120.90 L1242.25 2120.90 L1243.08 2120.90 L1243.90 2120.90 L1244.72 2120.90 L1245.55 2120.90 L1246.38 2120.90 L1247.20 2120.90 L1248.03 2120.90 L1248.85 2120.90 L1249.67 2120.90 L1250.50 2120.90 L1251.33 2120.90 L1252.15 2120.90 L1252.97 2120.90 L1253.80 2120.90 L1254.62 2120.90 L1255.45 2120.90 L1256.28 2120.90 L1257.10 2120.90 L1257.92 2120.90 L1258.75 2120.90 L1259.58 2120.90 L1260.40 2120.90 L1261.22 2120.90 L1262.05 2120.90 L1262.88 2120.90 L1263.70 2120.90 L1264.53 2120.90 L1265.35 2120.90 L1266.17 2120.90 L1267.00 2120.90 L1267.83 2120.90 L1268.65 2120.90 L1269.47 2120.90 L1270.30 2120.90 L1271.12 2120.90 L1271.95 2120.90 L1272.78 2120.90 L1273.60 2120.90 L1274.42 2120.90 L1275.25 2120.90 L1276.08 2120.90 L1276.90 2120.90 L1277.72 2120.90 L1278.55 2120.90 L1279.38 2120.90 L1280.20 2120.90 L1281.03 2120.90 L1281.85 2120.90 L1282.67 2120.90 L1283.50 2120.90 L1284.33 2120.90 L1285.15 2120.90 L1285.97 2120.90 L1286.80 2120.90 L1287.62 2120.90 L1288.45 2120.90 L1289.28 2120.90 L1290.10 2120.90 L1290.92 2120.90 L1291.75 2120.90 L1292.58 2120.90 L1293.40 2120.90 L1294.22 2120.90 L1295.05 2120.90 L1295.88 2120.90 L1296.70 2120.90 L1297.53 2120.90 L1298.35 2120.90 L1299.17 2120.90 L1300.00 2120.90" fill="none" stroke="#d62728" stroke-width="2.50"/>
</g>
<rect x="975.00" y="1846.50" width="320.00" height="320.10" fill="none" stroke="#000" stroke-width="2.50"/>
<text x="998.10" y="2207.00" font-size="29.00" textLength="109.58" lengthAdjust="spacingAndGlyphs" text-anchor="middle">127.750</text>
<text x="1162.20" y="2207.00" font-size="29.00" textLength="109.58" lengthAdjust="spacingAndGlyphs" text-anchor="middle">127.800</text>
<text x="954.40" y="2130.40" font-size="29.00" textLength="16.86" lengthAdjust="spacingAndGlyphs" text-anchor="end">0</text>
<text x="954.40" y="2073.30" font-size="29.00" textLength="33.72" lengthAdjust="spacingAndGlyphs" text-anchor="end">25</text>
<text x="954.40" y="2016.20" font-size="29.00" textLength="33.72" lengthAdjust="spacingAndGlyphs" text-anchor="end">50</text>
<text x="954.40" y="1959.10" font-size="29.00" textLength="33.72" lengthAdjust="spacingAndGlyphs" text-anchor="end">75</text>
<text x="954.40" y="1902.00" font-size="29.00" textLength="50.58" lengthAdjust="spacingAndGlyphs" text-anchor="end">100</text>
<path d="M998.10 2166.60V2178.40M998.10 1846.50V1834.70M1162.20 2166.60V2178.40M1162.20 1846.50V1834.70M975.00 2120.90H963.20M1295.00 2120.90H1306.80M975.00 2063.80H963.20M1295.00 2063.80H1306.80M975.00 2006.70H963.20M1295.00 2006.70H1306.80M975.00 1949.60H963.20M1295.00 1949.60H1306.80M975.00 1892.50H963.20M1295.00 1892.50H1306.80" stroke="#000" stroke-width="2.20" fill="none"/>
<path d="M1030.92 2166.60V2171.20M1030.92 1846.50V1841.90M1063.74 2166.60V2171.20M1063.74 1846.50V1841.90M1096.56 2166.60V2171.20M1096.56 1846.50V1841.90M1129.38 2166.60V2171.20M1129.38 1846.50V1841.90M1195.02 2166.60V2171.20M1195.02 1846.50V1841.90M1227.84 2166.60V2171.20M1227.84 1846.50V1841.90M1260.66 2166.60V2171.20M1260.66 1846.50V1841.90M1293.48 2166.60V2171.20M1293.48 1846.50V1841.90M975.00 2166.58H970.40M1295.00 2166.58H1299.60M975.00 2155.16H970.40M1295.00 2155.16H1299.60M975.00 2143.74H970.40M1295.00 2143.74H1299.60M975.00 2132.32H970.40M1295.00 2132.32H1299.60M975.00 2109.48H970.40M1295.00 2109.48H1299.60M975.00 2098.06H970.40M1295.00 2098.06H1299.60M975.00 2086.64H970.40M1295.00 2086.64H1299.60M975.00 2075.22H970.40M1295.00 2075.22H1299.60M975.00 2052.38H970.40M1295.00 2052.38H1299.60M975.00 2040.96H970.40M1295.00 2040.96H1299.60M975.00 2029.54H970.40M1295.00 2029.54H1299.60M975.00 2018.12H970.40M1295.00 2018.12H1299.60M975.00 1995.28H970.40M1295.00 1995.28H1299.60M975.00 1983.86H970.40M1295.00 1983.86H1299.60M975.00 1972.44H970.40M1295.00 1972.44H1299.60M975.00 1961.02H970.40M1295.00 1961.02H1299.60M975.00 1938.18H970.40M1295.00 1938.18H1299.60M975.00 1926.76H970.40M1295.00 1926.76H1299.60M975.00 1915.34H970.40M1295.00 1915.34H1299.60M975.00 1903.92H970.40M1295.00 1903.92H1299.60M975.00 1881.08H970.40M1295.00 1881.08H1299.60M975.00 1869.66H970.40M1295.00 1869.66H1299.60M975.00 1858.24H970.40M1295.00 1858.24H1299.60M975.00 1846.82H970.40M1295.00 1846.82H1299.60" stroke="#000" stroke-width="1.80" fill="none"/>
<g font-size="16">
<text transform="translate(157.70 2512.80) rotate(-90)" fill="#0000b0" textLength="72.52" lengthAdjust="spacingAndGlyphs" text-anchor="start"><tspan font-size="16.00" dy="0.00">C</tspan><tspan font-size="11.20" dy="3.04">2</tspan><tspan font-size="16.00" dy="-3.04">H</tspan><tspan font-size="11.20" dy="3.04">3</tspan><tspan font-size="16.00" dy="-3.04">NH</tspan><tspan font-size="11.20" dy="3.04">2</tspan></text>
<text transform="translate(234.00 2514.00) rotate(-90)" fill="#0000b0" textLength="80.31" lengthAdjust="spacingAndGlyphs" text-anchor="start"><tspan font-size="16.00" dy="0.00">CH</tspan><tspan font-size="11.20" dy="3.04">3</tspan><tspan font-size="16.00" dy="-3.04">OCHO</tspan></text>
<text transform="translate(253.00 2479.70) rotate(-90)" fill="#0000b0" textLength="80.31" lengthAdjust="spacingAndGlyphs" text-anchor="start"><tspan font-size="16.00" dy="0.00">CH</tspan><tspan font-size="11.20" dy="3.04">3</tspan><tspan font-size="16.00" dy="-3.04">OCHO</tspan></text>
<text transform="translate(264.50 2458.10) rotate(-90)" fill="#0000b0" textLength="74.79" lengthAdjust="spacingAndGlyphs" text-anchor="start"><tspan font-size="16.00" dy="0.00">HO</tspan><tspan font-size="11.20" dy="-6.24">13</tspan><tspan font-size="16.00" dy="6.24">CO</tspan><tspan font-size="11.20" dy="-6.24">+</tspan></text>
<text transform="translate(275.90 2455.50) rotate(-90)" fill="#0000b0" textLength="45.55" lengthAdjust="spacingAndGlyphs" text-anchor="start"><tspan font-size="16.00" dy="0.00">HSCN</tspan></text>
<text transform="translate(295.00 2364.00) rotate(-90)" fill="#0000b0" textLength="88.05" lengthAdjust="spacingAndGlyphs" text-anchor="start"><tspan font-size="16.00" dy="0.00">CH</tspan><tspan font-size="11.20" dy="3.04">3</tspan><tspan font-size="16.00" dy="-3.04">CONH</tspan><tspan font-size="11.20" dy="3.04">2</tspan></text>
<text transform="translate(356.00 2526.70) rotate(-90)" fill="#0000b0" textLength="76.02" lengthAdjust="spacingAndGlyphs" text-anchor="start"><tspan font-size="16.00" dy="0.00">CH</tspan><tspan font-size="11.20" dy="4.80">3</tspan><tspan font-size="11.20" dx="-7.13" dy="-11.04">13</tspan><tspan font-size="16.00" dy="6.24">CHO</tspan></text>
<text transform="translate(452.60 2501.30) rotate(-90)" fill="#0000b0" textLength="72.52" lengthAdjust="spacingAndGlyphs" text-anchor="start"><tspan font-size="16.00" dy="0.00">C</tspan><tspan font-size="11.20" dy="3.04">2</tspan><tspan font-size="16.00" dy="-3.04">H</tspan><tspan font-size="11.20" dy="3.04">3</tspan><tspan font-size="16.00" dy="-3.04">NH</tspan><tspan font-size="11.20" dy="3.04">2</tspan></text>
</g>
<g clip-path="url(#cp15)">
<path d="M133.95 2557.60V2518.89H137.25V2518.89H140.55V2523.97H143.85V2534.14H147.15V2529.06H150.45V2531.60H153.75V2525.24H157.05V2531.60H160.35V2518.89H163.65V2521.43H166.95V2531.60H170.25V2544.31H173.55V2562.11H176.85V2567.20H180.15V2560.84H183.45V2562.11H186.75V2557.03H190.05V2554.48H193.35V2553.91H196.65V2553.21H199.95V2559.57H203.25V2555.75H206.55V2551.94H209.85V2549.40H213.15V2546.86H216.45V2551.94H219.75V2531.60H223.05V2522.70H226.35V2526.51H229.65V2530.33H232.95V2529.70H236.25V2529.06H239.55V2523.97H242.85V2516.34H246.15V2501.09H249.45V2488.38H252.75V2480.75H256.05V2475.66H259.35V2466.76H262.65V2475.66H265.95V2482.02H269.25V2473.12H272.55V2457.86H275.85V2440.07H279.15V2432.44H282.45V2419.73H285.75V2407.01H289.05V2391.76H292.35V2371.42H295.65V2386.67H298.95V2404.47H302.25V2440.07H305.55V2460.41H308.85V2478.21H312.15V2493.46H315.45V2513.80H318.75V2529.06H322.05V2549.40H325.35V2551.94H328.65V2531.60H331.95V2530.44H335.25V2529.06H338.55V2532.87H341.85V2527.79H345.15V2534.14H348.45V2541.77H351.75V2544.31H355.05V2546.86H358.35V2544.31H361.65V2549.40H364.95V2551.64H368.25V2554.48H371.55V2567.20H374.85V2562.11H378.15V2569.74H381.45V2567.20H384.75V2557.03H388.05V2551.94H391.35V2543.04H394.65V2546.86H397.95V2526.51H401.25V2513.80H404.55V2508.72H407.85V2506.17H411.15V2509.99H414.45V2513.80H417.75V2526.51H421.05V2530.20H424.35V2534.14H427.65V2529.06H430.95V2531.60H434.25V2534.14H437.55V2536.68H440.85V2523.97H444.15V2520.16H447.45V2517.99H450.75V2516.34H454.05V2513.80H457.35V2557.60 Z" fill="#808080" fill-opacity="0.2" stroke="none"/>
<path d="M133.95 2518.89H137.25V2518.89H140.55V2523.97H143.85V2534.14H147.15V2529.06H150.45V2531.60H153.75V2525.24H157.05V2531.60H160.35V2518.89H163.65V2521.43H166.95V2531.60H170.25V2544.31H173.55V2562.11H176.85V2567.20H180.15V2560.84H183.45V2562.11H186.75V2557.03H190.05V2554.48H193.35V2553.91H196.65V2553.21H199.95V2559.57H203.25V2555.75H206.55V2551.94H209.85V2549.40H213.15V2546.86H216.45V2551.94H219.75V2531.60H223.05V2522.70H226.35V2526.51H229.65V2530.33H232.95V2529.70H236.25V2529.06H239.55V2523.97H242.85V2516.34H246.15V2501.09H249.45V2488.38H252.75V2480.75H256.05V2475.66H259.35V2466.76H262.65V2475.66H265.95V2482.02H269.25V2473.12H272.55V2457.86H275.85V2440.07H279.15V2432.44H282.45V2419.73H285.75V2407.01H289.05V2391.76H292.35V2371.42H295.65V2386.67H298.95V2404.47H302.25V2440.07H305.55V2460.41H308.85V2478.21H312.15V2493.46H315.45V2513.80H318.75V2529.06H322.05V2549.40H325.35V2551.94H328.65V2531.60H331.95V2530.44H335.25V2529.06H338.55V2532.87H341.85V2527.79H345.15V2534.14H348.45V2541.77H351.75V2544.31H355.05V2546.86H358.35V2544.31H361.65V2549.40H364.95V2551.64H368.25V2554.48H371.55V2567.20H374.85V2562.11H378.15V2569.74H381.45V2567.20H384.75V2557.03H388.05V2551.94H391.35V2543.04H394.65V2546.86H397.95V2526.51H401.25V2513.80H404.55V2508.72H407.85V2506.17H411.15V2509.99H414.45V2513.80H417.75V2526.51H421.05V2530.20H424.35V2534.14H427.65V2529.06H430.95V2531.60H434.25V2534.14H437.55V2536.68H440.85V2523.97H444.15V2520.16H447.45V2517.99H450.75V2516.34H454.05V2513.80H457.35" fill="none" stroke="#000" stroke-width="2.60" stroke-linejoin="miter"/>
<path d="M125.91 2501.09C126.76 2501.60 129.09 2502.87 131.00 2504.14C132.91 2505.41 135.66 2506.26 137.36 2508.72C139.05 2511.17 139.69 2516.56 141.17 2518.89C142.65 2521.22 144.14 2522.28 146.26 2522.70C148.37 2523.12 151.76 2521.22 153.88 2521.43C156.00 2521.64 157.27 2522.28 158.97 2523.97C160.66 2525.67 162.15 2528.63 164.05 2531.60C165.96 2534.57 168.29 2538.38 170.41 2541.77C172.53 2545.16 174.44 2549.40 176.77 2551.94C179.10 2554.48 181.43 2556.26 184.39 2557.03C187.36 2557.79 191.17 2557.15 194.56 2556.52C197.95 2555.88 201.34 2554.82 204.74 2553.21C208.13 2551.60 211.52 2549.19 214.91 2546.86C218.30 2544.52 221.69 2541.56 225.08 2539.23C228.47 2536.90 232.28 2535.41 235.25 2532.87C238.21 2530.33 240.33 2528.00 242.87 2523.97C245.42 2519.95 247.96 2513.38 250.50 2508.72C253.04 2504.05 256.01 2498.76 258.13 2496.00C260.25 2493.25 261.31 2492.70 263.21 2492.19C265.12 2491.68 267.45 2493.80 269.57 2492.95C271.69 2492.10 274.02 2490.41 275.93 2487.10C277.83 2483.80 279.32 2479.26 281.01 2473.12C282.71 2466.98 284.40 2458.71 286.10 2450.24C287.79 2441.76 289.49 2430.53 291.18 2422.27C292.88 2414.00 294.91 2405.11 296.27 2400.66C297.62 2396.21 298.05 2394.51 299.32 2395.57C300.59 2396.63 302.29 2400.87 303.90 2407.01C305.51 2413.16 307.29 2422.27 308.98 2432.44C310.68 2442.61 312.37 2457.02 314.07 2468.03C315.76 2479.05 317.46 2488.38 319.15 2498.55C320.85 2508.72 322.54 2521.43 324.24 2529.06C325.93 2536.68 327.63 2541.98 329.32 2544.31C331.02 2546.64 332.29 2544.31 334.41 2543.04C336.53 2541.77 339.70 2538.17 342.03 2536.68C344.37 2535.20 346.27 2534.14 348.39 2534.14C350.51 2534.14 352.42 2535.41 354.75 2536.68C357.08 2537.96 359.83 2539.65 362.38 2541.77C364.92 2543.89 367.46 2547.07 370.00 2549.40C372.55 2551.73 375.09 2554.40 377.63 2555.75C380.17 2557.11 382.29 2557.66 385.26 2557.53C388.23 2557.41 392.04 2555.92 395.43 2554.99C398.82 2554.06 402.21 2552.66 405.60 2551.94C408.99 2551.22 412.38 2550.88 415.77 2550.67C419.16 2550.46 422.97 2552.15 425.94 2550.67C428.91 2549.19 431.24 2545.80 433.57 2541.77C435.90 2537.74 437.81 2531.18 439.92 2526.51C442.04 2521.85 444.16 2516.77 446.28 2513.80C448.40 2510.84 450.73 2509.78 452.64 2508.72C454.54 2507.66 452.00 2507.87 457.72 2507.44C463.44 2507.02 482.09 2506.39 486.96 2506.17" fill="none" stroke="#1f77b4" stroke-width="2.50"/>
<path d="M132.25 2557.60 L133.07 2557.60 L133.90 2557.60 L134.72 2557.60 L135.55 2557.60 L136.37 2557.60 L137.20 2557.60 L138.02 2557.60 L138.84 2557.60 L139.67 2557.60 L140.49 2557.60 L141.32 2557.60 L142.14 2557.60 L142.97 2557.60 L143.79 2557.60 L144.62 2557.60 L145.44 2557.60 L146.26 2557.60 L147.09 2557.60 L147.91 2557.60 L148.74 2557.60 L149.56 2557.60 L150.39 2557.60 L151.21 2557.60 L152.03 2557.60 L152.86 2557.60 L153.68 2557.60 L154.51 2557.60 L155.33 2557.60 L156.16 2557.60 L156.98 2557.60 L157.81 2557.60 L158.63 2557.60 L159.45 2557.60 L160.28 2557.60 L161.10 2557.60 L161.93 2557.60 L162.75 2557.60 L163.58 2557.60 L164.40 2557.60 L165.22 2557.60 L166.05 2557.60 L166.87 2557.60 L167.70 2557.60 L168.52 2557.60 L169.35 2557.60 L170.17 2557.60 L171.00 2557.60 L171.82 2557.60 L172.64 2557.60 L173.47 2557.60 L174.29 2557.60 L175.12 2557.60 L175.94 2557.60 L176.77 2557.60 L177.59 2557.60 L178.41 2557.60 L179.24 2557.60 L180.06 2557.60 L180.89 2557.60 L181.71 2557.60 L182.54 2557.60 L183.36 2557.60 L184.19 2557.60 L185.01 2557.60 L185.83 2557.60 L186.66 2557.60 L187.48 2557.60 L188.31 2557.60 L189.13 2557.60 L189.96 2557.60 L190.78 2557.60 L191.60 2557.60 L192.43 2557.60 L193.25 2557.60 L194.08 2557.60 L194.90 2557.60 L195.73 2557.60 L196.55 2557.60 L197.38 2557.60 L198.20 2557.60 L199.02 2557.60 L199.85 2557.60 L200.67 2557.60 L201.50 2557.60 L202.32 2557.60 L203.15 2557.60 L203.97 2557.60 L204.80 2557.60 L205.62 2557.60 L206.44 2557.60 L207.27 2557.60 L208.09 2557.60 L208.92 2557.60 L209.74 2557.60 L210.57 2557.60 L211.39 2557.60 L212.21 2557.60 L213.04 2557.60 L213.86 2557.60 L214.69 2557.60 L215.51 2557.60 L216.34 2557.60 L217.16 2557.60 L217.99 2557.60 L218.81 2557.60 L219.63 2557.60 L220.46 2557.60 L221.28 2557.60 L222.11 2557.60 L222.93 2557.60 L223.76 2557.60 L224.58 2557.60 L225.40 2557.60 L226.23 2557.60 L227.05 2557.60 L227.88 2557.60 L228.70 2557.60 L229.53 2557.60 L230.35 2557.60 L231.18 2557.60 L232.00 2557.60 L232.82 2557.60 L233.65 2557.60 L234.47 2557.60 L235.30 2557.60 L236.12 2557.60 L236.95 2557.60 L237.77 2557.60 L238.59 2557.60 L239.42 2557.60 L240.24 2557.60 L241.07 2557.60 L241.89 2557.60 L242.72 2557.60 L243.54 2557.59 L244.37 2557.59 L245.19 2557.59 L246.01 2557.59 L246.84 2557.58 L247.66 2557.58 L248.49 2557.57 L249.31 2557.56 L250.14 2557.55 L250.96 2557.54 L251.78 2557.52 L252.61 2557.49 L253.43 2557.46 L254.26 2557.42 L255.08 2557.37 L255.91 2557.31 L256.73 2557.23 L257.56 2557.14 L258.38 2557.02 L259.20 2556.88 L260.03 2556.71 L260.85 2556.50 L261.68 2556.24 L262.50 2555.94 L263.33 2555.57 L264.15 2555.14 L264.97 2554.63 L265.80 2554.02 L266.62 2553.32 L267.45 2552.49 L268.27 2551.54 L269.10 2550.44 L269.92 2549.18 L270.75 2547.74 L271.57 2546.10 L272.39 2544.26 L273.22 2542.18 L274.04 2539.87 L274.87 2537.30 L275.69 2534.46 L276.52 2531.34 L277.34 2527.94 L278.16 2524.24 L278.99 2520.26 L279.81 2515.98 L280.64 2511.42 L281.46 2506.59 L282.29 2501.51 L283.11 2496.20 L283.94 2490.69 L284.76 2485.01 L285.58 2479.20 L286.41 2473.30 L287.23 2467.37 L288.06 2461.46 L288.88 2455.61 L289.71 2449.90 L290.53 2444.37 L291.35 2439.09 L292.18 2434.13 L293.00 2429.53 L293.83 2425.36 L294.65 2421.66 L295.48 2418.49 L296.30 2415.88 L297.12 2413.86 L297.95 2412.48 L298.77 2411.73 L299.60 2411.64 L300.42 2412.21 L301.25 2413.42 L302.07 2415.26 L302.90 2417.71 L303.72 2420.73 L304.54 2424.29 L305.37 2428.33 L306.19 2432.82 L307.02 2437.69 L307.84 2442.88 L308.67 2448.35 L309.49 2454.01 L310.31 2459.83 L311.14 2465.73 L311.96 2471.66 L312.79 2477.57 L313.61 2483.41 L314.44 2489.13 L315.26 2494.69 L316.09 2500.06 L316.91 2505.21 L317.73 2510.11 L318.56 2514.75 L319.38 2519.10 L320.21 2523.17 L321.03 2526.95 L321.86 2530.43 L322.68 2533.63 L323.50 2536.54 L324.33 2539.18 L325.15 2541.57 L325.98 2543.71 L326.80 2545.61 L327.63 2547.30 L328.45 2548.80 L329.28 2550.11 L330.10 2551.25 L330.92 2552.24 L331.75 2553.10 L332.57 2553.84 L333.40 2554.47 L334.22 2555.01 L335.05 2555.46 L335.87 2555.84 L336.69 2556.16 L337.52 2556.43 L338.34 2556.65 L339.17 2556.84 L339.99 2556.99 L340.82 2557.11 L341.64 2557.21 L342.47 2557.29 L343.29 2557.36 L344.11 2557.41 L344.94 2557.45 L345.76 2557.48 L346.59 2557.51 L347.41 2557.53 L348.24 2557.55 L349.06 2557.56 L349.88 2557.57 L350.71 2557.58 L351.53 2557.58 L352.36 2557.59 L353.18 2557.59 L354.01 2557.59 L354.83 2557.59 L355.66 2557.60 L356.48 2557.60 L357.30 2557.60 L358.13 2557.60 L358.95 2557.60 L359.78 2557.60 L360.60 2557.60 L361.43 2557.60 L362.25 2557.60 L363.07 2557.60 L363.90 2557.60 L364.72 2557.60 L365.55 2557.60 L366.37 2557.60 L367.20 2557.60 L368.02 2557.60 L368.85 2557.60 L369.67 2557.60 L370.49 2557.60 L371.32 2557.60 L372.14 2557.60 L372.97 2557.60 L373.79 2557.60 L374.62 2557.60 L375.44 2557.60 L376.26 2557.60 L377.09 2557.60 L377.91 2557.60 L378.74 2557.60 L379.56 2557.60 L380.39 2557.60 L381.21 2557.60 L382.04 2557.60 L382.86 2557.60 L383.68 2557.60 L384.51 2557.60 L385.33 2557.60 L386.16 2557.60 L386.98 2557.60 L387.81 2557.60 L388.63 2557.60 L389.45 2557.60 L390.28 2557.60 L391.10 2557.60 L391.93 2557.60 L392.75 2557.60 L393.58 2557.60 L394.40 2557.60 L395.23 2557.60 L396.05 2557.60 L396.87 2557.60 L397.70 2557.60 L398.52 2557.60 L399.35 2557.60 L400.17 2557.60 L401.00 2557.60 L401.82 2557.60 L402.64 2557.60 L403.47 2557.60 L404.29 2557.60 L405.12 2557.60 L405.94 2557.60 L406.77 2557.60 L407.59 2557.60 L408.42 2557.60 L409.24 2557.60 L410.06 2557.60 L410.89 2557.60 L411.71 2557.60 L412.54 2557.60 L413.36 2557.60 L414.19 2557.60 L415.01 2557.60 L415.83 2557.60 L416.66 2557.60 L417.48 2557.60 L418.31 2557.60 L419.13 2557.60 L419.96 2557.60 L420.78 2557.60 L421.61 2557.60 L422.43 2557.60 L423.25 2557.60 L424.08 2557.60 L424.90 2557.60 L425.73 2557.60 L426.55 2557.60 L427.38 2557.60 L428.20 2557.60 L429.02 2557.60 L429.85 2557.60 L430.67 2557.60 L431.50 2557.60 L432.32 2557.60 L433.15 2557.60 L433.97 2557.60 L434.80 2557.60 L435.62 2557.60 L436.44 2557.60 L437.27 2557.60 L438.09 2557.60 L438.92 2557.60 L439.74 2557.60 L440.57 2557.60 L441.39 2557.60 L442.21 2557.60 L443.04 2557.60 L443.86 2557.60 L444.69 2557.60 L445.51 2557.60 L446.34 2557.60 L447.16 2557.60 L447.99 2557.60 L448.81 2557.60 L449.63 2557.60 L450.46 2557.60 L451.28 2557.60 L452.11 2557.60 L452.93 2557.60 L453.76 2557.60 L454.58 2557.60 L455.40 2557.60 L456.23 2557.60 L457.05 2557.60 L457.88 2557.60 L458.70 2557.60 L459.53 2557.60 L460.35 2557.60 L461.18 2557.60 L462.00 2557.60" fill="none" stroke="#d62728" stroke-width="2.50"/>
</g>
<rect x="137.25" y="2262.60" width="319.75" height="319.90" fill="none" stroke="#000" stroke-width="2.50"/>
<text x="271.20" y="2622.90" font-size="29.00" textLength="109.58" lengthAdjust="spacingAndGlyphs" text-anchor="middle">149.080</text>
<text x="440.72" y="2622.90" font-size="29.00" textLength="109.58" lengthAdjust="spacingAndGlyphs" text-anchor="middle">149.140</text>
<text x="116.65" y="2567.10" font-size="29.00" textLength="16.86" lengthAdjust="spacingAndGlyphs" text-anchor="end">0</text>
<text x="116.65" y="2468.70" font-size="29.00" textLength="33.72" lengthAdjust="spacingAndGlyphs" text-anchor="end">20</text>
<text x="116.65" y="2370.30" font-size="29.00" textLength="33.72" lengthAdjust="spacingAndGlyphs" text-anchor="end">40</text>
<text x="116.65" y="2271.90" font-size="29.00" textLength="33.72" lengthAdjust="spacingAndGlyphs" text-anchor="end">60</text>
<path d="M271.20 2582.50V2594.30M271.20 2262.60V2250.80M440.72 2582.50V2594.30M440.72 2262.60V2250.80M137.25 2557.60H125.45M457.00 2557.60H468.80M137.25 2459.20H125.45M457.00 2459.20H468.80M137.25 2360.80H125.45M457.00 2360.80H468.80M137.25 2262.40H125.45M457.00 2262.40H468.80" stroke="#000" stroke-width="2.20" fill="none"/>
<path d="M144.06 2582.50V2587.10M144.06 2262.60V2258.00M186.44 2582.50V2587.10M186.44 2262.60V2258.00M228.82 2582.50V2587.10M228.82 2262.60V2258.00M313.58 2582.50V2587.10M313.58 2262.60V2258.00M355.96 2582.50V2587.10M355.96 2262.60V2258.00M398.34 2582.50V2587.10M398.34 2262.60V2258.00M137.25 2582.20H132.65M457.00 2582.20H461.60M137.25 2533.00H132.65M457.00 2533.00H461.60M137.25 2508.40H132.65M457.00 2508.40H461.60M137.25 2483.80H132.65M457.00 2483.80H461.60M137.25 2434.60H132.65M457.00 2434.60H461.60M137.25 2410.00H132.65M457.00 2410.00H461.60M137.25 2385.40H132.65M457.00 2385.40H461.60M137.25 2336.20H132.65M457.00 2336.20H461.60M137.25 2311.60H132.65M457.00 2311.60H461.60M137.25 2287.00H132.65M457.00 2287.00H461.60" stroke="#000" stroke-width="1.80" fill="none"/>
<g font-size="16">
<text transform="translate(608.00 2383.10) rotate(-90)" fill="#0000b0" textLength="24.69" lengthAdjust="spacingAndGlyphs" text-anchor="start"><tspan font-size="16.00" dy="0.00">NO</tspan></text>
<text transform="translate(663.10 2383.10) rotate(-90)" fill="#0000b0" textLength="24.69" lengthAdjust="spacingAndGlyphs" text-anchor="start"><tspan font-size="16.00" dy="0.00">NO</tspan></text>
<text transform="translate(682.20 2383.10) rotate(-90)" fill="#0000b0" textLength="24.69" lengthAdjust="spacingAndGlyphs" text-anchor="start"><tspan font-size="16.00" dy="0.00">NO</tspan></text>
<text transform="translate(738.70 2429.40) rotate(-90)" fill="#0000b0" textLength="24.69" lengthAdjust="spacingAndGlyphs" text-anchor="start"><tspan font-size="16.00" dy="0.00">NO</tspan></text>
</g>
<g clip-path="url(#cp16)">
<path d="M552.90 2549.10V2053.59H556.20V2053.59H559.50V2053.59H562.80V2053.59H566.10V2323.11H569.40V2394.30H572.70V2445.15H576.00V2478.21H579.30V2465.49H582.60V2412.10H585.90V2376.50H589.20V2351.08H592.50V2262.09H595.80V2053.59H599.10V2053.59H602.40V2053.59H605.70V2053.59H609.00V2053.59H612.30V2053.59H615.60V2053.59H618.90V2053.59H622.20V2053.59H625.50V2279.88H628.80V2325.65H632.10V2409.56H635.40V2432.44H638.70V2419.73H642.00V2404.47H645.30V2376.50H648.60V2282.43H651.90V2053.59H655.20V2053.59H658.50V2053.59H661.80V2053.59H665.10V2053.59H668.40V2053.59H671.70V2053.59H675.00V2053.59H678.30V2053.59H681.60V2053.59H684.90V2053.59H688.20V2053.59H691.50V2267.17H694.80V2290.05H698.10V2389.21H701.40V2414.64H704.70V2475.66H708.00V2480.75H711.30V2485.83H714.60V2492.19H717.90V2493.46H721.20V2496.00H724.50V2485.83H727.80V2452.78H731.10V2442.61H734.40V2437.52H737.70V2434.98H741.00V2445.15H744.30V2455.32H747.60V2462.95H750.90V2462.95H754.20V2468.03H757.50V2480.75H760.80V2490.92H764.10V2506.17H767.40V2516.34H770.70V2523.97H774.00V2531.60H777.30V2536.68H780.60V2541.77H783.90V2541.26H787.20V2540.50H790.50V2540.25H793.80V2539.99H797.10V2539.74H800.40V2539.74H803.70V2538.72H807.00V2537.96H810.30V2536.68H813.60V2537.80H816.90V2538.72H820.20V2541.26H823.50V2540.50H826.80V2539.23H830.10V2538.72H833.40V2539.23H836.70V2541.77H840.00V2539.23H843.30V2531.60H846.60V2513.80H849.90V2475.66H853.20V2450.24H856.50V2419.73H859.80V2343.45H863.10V2282.43H866.40V2053.59H869.70V2053.59H873.00V2053.59H876.30V2549.10 Z" fill="#808080" fill-opacity="0.2" stroke="none"/>
<path d="M552.90 2053.59H556.20V2053.59H559.50V2053.59H562.80V2053.59H566.10V2323.11H569.40V2394.30H572.70V2445.15H576.00V2478.21H579.30V2465.49H582.60V2412.10H585.90V2376.50H589.20V2351.08H592.50V2262.09H595.80V2053.59H599.10V2053.59H602.40V2053.59H605.70V2053.59H609.00V2053.59H612.30V2053.59H615.60V2053.59H618.90V2053.59H622.20V2053.59H625.50V2279.88H628.80V2325.65H632.10V2409.56H635.40V2432.44H638.70V2419.73H642.00V2404.47H645.30V2376.50H648.60V2282.43H651.90V2053.59H655.20V2053.59H658.50V2053.59H661.80V2053.59H665.10V2053.59H668.40V2053.59H671.70V2053.59H675.00V2053.59H678.30V2053.59H681.60V2053.59H684.90V2053.59H688.20V2053.59H691.50V2267.17H694.80V2290.05H698.10V2389.21H701.40V2414.64H704.70V2475.66H708.00V2480.75H711.30V2485.83H714.60V2492.19H717.90V2493.46H721.20V2496.00H724.50V2485.83H727.80V2452.78H731.10V2442.61H734.40V2437.52H737.70V2434.98H741.00V2445.15H744.30V2455.32H747.60V2462.95H750.90V2462.95H754.20V2468.03H757.50V2480.75H760.80V2490.92H764.10V2506.17H767.40V2516.34H770.70V2523.97H774.00V2531.60H777.30V2536.68H780.60V2541.77H783.90V2541.26H787.20V2540.50H790.50V2540.25H793.80V2539.99H797.10V2539.74H800.40V2539.74H803.70V2538.72H807.00V2537.96H810.30V2536.68H813.60V2537.80H816.90V2538.72H820.20V2541.26H823.50V2540.50H826.80V2539.23H830.10V2538.72H833.40V2539.23H836.70V2541.77H840.00V2539.23H843.30V2531.60H846.60V2513.80H849.90V2475.66H853.20V2450.24H856.50V2419.73H859.80V2343.45H863.10V2282.43H866.40V2053.59H869.70V2053.59H873.00V2053.59H876.30" fill="none" stroke="#000" stroke-width="2.60" stroke-linejoin="miter"/>
<path d="M561.44 2180.72C561.65 2189.20 562.29 2218.01 562.71 2231.57C563.14 2245.13 563.35 2249.37 563.98 2262.09C564.62 2274.80 565.68 2291.75 566.53 2307.85C567.37 2323.95 568.22 2341.75 569.07 2358.70C569.92 2375.65 570.76 2394.72 571.61 2409.56C572.46 2424.39 573.31 2436.68 574.15 2447.69C575.00 2458.71 576.06 2469.73 576.70 2475.66C577.33 2481.60 577.33 2483.29 577.97 2483.29C578.60 2483.29 579.45 2481.60 580.51 2475.66C581.57 2469.73 583.05 2459.56 584.32 2447.69C585.60 2435.83 587.08 2418.45 588.14 2404.47C589.20 2390.49 589.83 2379.04 590.68 2363.79C591.53 2348.53 592.38 2329.46 593.22 2312.94C594.07 2296.41 595.13 2278.19 595.77 2264.63C596.40 2251.07 596.61 2245.56 597.04 2231.57C597.46 2217.59 598.10 2189.20 598.31 2180.72" fill="none" stroke="#1f77b4" stroke-width="2.50"/>
<path d="M613.56 2180.72C613.78 2189.20 614.33 2216.74 614.84 2231.57C615.34 2246.41 615.98 2257.00 616.62 2269.71C617.25 2282.43 617.68 2293.02 618.65 2307.85C619.62 2322.68 621.19 2341.75 622.46 2358.70C623.74 2375.65 625.01 2393.45 626.28 2409.56C627.55 2425.66 628.82 2441.76 630.09 2455.32C631.36 2468.88 632.63 2487.95 633.91 2490.92C635.18 2493.88 636.45 2482.44 637.72 2473.12C638.99 2463.80 640.26 2447.69 641.53 2434.98C642.80 2422.27 644.08 2413.79 645.35 2396.84C646.62 2379.89 648.10 2352.35 649.16 2333.28C650.22 2314.21 651.07 2299.38 651.70 2282.43C652.34 2265.48 652.55 2248.52 652.97 2231.57C653.40 2214.62 654.03 2189.20 654.25 2180.72" fill="none" stroke="#1f77b4" stroke-width="2.50"/>
<path d="M687.30 2180.72C687.51 2189.20 688.06 2216.74 688.57 2231.57C689.08 2246.41 689.50 2254.88 690.35 2269.71C691.20 2284.54 692.47 2303.61 693.66 2320.56C694.84 2337.52 696.20 2354.47 697.47 2371.42C698.74 2388.37 700.01 2407.44 701.28 2422.27C702.56 2437.10 703.83 2451.93 705.10 2460.41C706.37 2468.88 707.43 2471.85 708.91 2473.12C710.39 2474.39 712.30 2469.65 714.00 2468.03C715.69 2466.42 717.39 2464.31 719.08 2463.46C720.78 2462.61 722.47 2462.40 724.17 2462.95C725.86 2463.50 727.56 2464.22 729.25 2466.76C730.95 2469.31 732.64 2473.76 734.34 2478.21C736.03 2482.65 737.73 2488.80 739.42 2493.46C741.12 2498.12 742.81 2501.94 744.51 2506.17C746.20 2510.41 747.90 2515.07 749.59 2518.89C751.29 2522.70 752.77 2526.09 754.68 2529.06C756.59 2532.02 758.70 2534.57 761.03 2536.68C763.37 2538.80 765.70 2540.63 768.66 2541.77C771.63 2542.91 775.02 2543.13 778.83 2543.55C782.65 2543.97 787.31 2543.97 791.55 2544.31C795.78 2544.65 800.44 2545.16 804.26 2545.58C808.07 2546.01 811.04 2546.64 814.43 2546.86C817.82 2547.07 821.63 2547.28 824.60 2546.86C827.57 2546.43 829.68 2546.01 832.23 2544.31C834.77 2542.62 837.74 2540.07 839.86 2536.68C841.97 2533.29 843.46 2529.06 844.94 2523.97C846.42 2518.89 847.48 2513.38 848.75 2506.17C850.03 2498.97 851.30 2491.34 852.57 2480.75C853.84 2470.15 855.32 2454.47 856.38 2442.61C857.44 2430.74 858.08 2422.69 858.92 2409.56C859.77 2396.42 860.62 2379.89 861.47 2363.79C862.31 2347.69 863.25 2329.89 864.01 2312.94C864.77 2295.99 865.41 2275.65 866.04 2262.09C866.68 2248.52 867.32 2245.13 867.82 2231.57C868.33 2218.01 868.88 2189.20 869.09 2180.72" fill="none" stroke="#1f77b4" stroke-width="2.50"/>
<path d="M551.20 2549.10 L552.03 2549.10 L552.85 2549.10 L553.68 2549.10 L554.50 2549.10 L555.33 2549.10 L556.15 2549.10 L556.98 2549.10 L557.80 2549.10 L558.62 2549.10 L559.45 2549.10 L560.28 2549.10 L561.10 2549.10 L561.93 2549.10 L562.75 2549.10 L563.58 2549.10 L564.40 2549.10 L565.23 2549.10 L566.05 2549.10 L566.88 2549.10 L567.70 2549.10 L568.53 2549.10 L569.35 2549.10 L570.18 2549.10 L571.00 2549.10 L571.83 2549.10 L572.65 2549.10 L573.48 2549.10 L574.30 2549.10 L575.12 2549.10 L575.95 2549.10 L576.78 2549.10 L577.60 2549.10 L578.43 2549.10 L579.25 2549.10 L580.08 2549.10 L580.90 2549.10 L581.73 2549.10 L582.55 2549.10 L583.38 2549.10 L584.20 2549.10 L585.03 2549.10 L585.85 2549.10 L586.68 2549.10 L587.50 2549.10 L588.33 2549.10 L589.15 2549.10 L589.98 2549.10 L590.80 2549.10 L591.62 2549.10 L592.45 2549.10 L593.28 2549.10 L594.10 2549.10 L594.93 2549.10 L595.75 2549.10 L596.58 2549.10 L597.40 2549.10 L598.23 2549.10 L599.05 2549.10 L599.88 2549.10 L600.70 2549.10 L601.53 2549.10 L602.35 2549.10 L603.18 2549.10 L604.00 2549.10 L604.83 2549.10 L605.65 2549.10 L606.48 2549.10 L607.30 2549.10 L608.12 2549.10 L608.95 2549.10 L609.78 2549.10 L610.60 2549.10 L611.43 2549.10 L612.25 2549.10 L613.08 2549.10 L613.90 2549.10 L614.73 2549.10 L615.55 2549.10 L616.38 2549.10 L617.20 2549.10 L618.03 2549.10 L618.85 2549.10 L619.68 2549.10 L620.50 2549.10 L621.33 2549.10 L622.15 2549.10 L622.98 2549.10 L623.80 2549.10 L624.62 2549.10 L625.45 2549.10 L626.28 2549.10 L627.10 2549.10 L627.93 2549.10 L628.75 2549.10 L629.58 2549.10 L630.40 2549.10 L631.23 2549.10 L632.05 2549.10 L632.88 2549.10 L633.70 2549.10 L634.53 2549.10 L635.35 2549.10 L636.18 2549.10 L637.00 2549.10 L637.83 2549.10 L638.65 2549.10 L639.48 2549.10 L640.30 2549.10 L641.12 2549.10 L641.95 2549.10 L642.78 2549.10 L643.60 2549.10 L644.43 2549.10 L645.25 2549.10 L646.08 2549.10 L646.90 2549.10 L647.73 2549.10 L648.55 2549.10 L649.38 2549.10 L650.20 2549.10 L651.03 2549.10 L651.85 2549.10 L652.68 2549.10 L653.50 2549.10 L654.33 2549.10 L655.15 2549.10 L655.98 2549.10 L656.80 2549.10 L657.62 2549.10 L658.45 2549.10 L659.28 2549.10 L660.10 2549.10 L660.93 2549.10 L661.75 2549.10 L662.58 2549.10 L663.40 2549.10 L664.23 2549.10 L665.05 2549.10 L665.88 2549.10 L666.70 2549.09 L667.53 2549.09 L668.35 2549.09 L669.18 2549.09 L670.00 2549.08 L670.83 2549.08 L671.65 2549.07 L672.48 2549.06 L673.30 2549.05 L674.12 2549.03 L674.95 2549.01 L675.78 2548.99 L676.60 2548.95 L677.43 2548.91 L678.25 2548.86 L679.08 2548.80 L679.90 2548.73 L680.73 2548.63 L681.55 2548.52 L682.38 2548.38 L683.20 2548.22 L684.03 2548.02 L684.85 2547.78 L685.68 2547.50 L686.50 2547.17 L687.33 2546.78 L688.15 2546.33 L688.98 2545.81 L689.80 2545.20 L690.62 2544.51 L691.45 2543.72 L692.28 2542.83 L693.10 2541.82 L693.93 2540.69 L694.75 2539.44 L695.58 2538.05 L696.40 2536.53 L697.23 2534.86 L698.05 2533.06 L698.88 2531.11 L699.70 2529.02 L700.53 2526.81 L701.35 2524.46 L702.18 2522.01 L703.00 2519.45 L703.83 2516.81 L704.65 2514.11 L705.48 2511.37 L706.30 2508.61 L707.12 2505.86 L707.95 2503.15 L708.78 2500.51 L709.60 2497.96 L710.43 2495.55 L711.25 2493.29 L712.08 2491.23 L712.90 2489.38 L713.73 2487.77 L714.55 2486.42 L715.38 2485.36 L716.20 2484.60 L717.03 2484.14 L717.85 2484.00 L718.68 2484.18 L719.50 2484.67 L720.33 2485.47 L721.15 2486.57 L721.98 2487.95 L722.80 2489.59 L723.62 2491.47 L724.45 2493.56 L725.28 2495.83 L726.10 2498.27 L726.93 2500.82 L727.75 2503.48 L728.58 2506.19 L729.40 2508.95 L730.23 2511.70 L731.05 2514.44 L731.88 2517.14 L732.70 2519.77 L733.53 2522.31 L734.35 2524.75 L735.18 2527.08 L736.00 2529.28 L736.83 2531.35 L737.65 2533.28 L738.48 2535.07 L739.30 2536.72 L740.12 2538.23 L740.95 2539.60 L741.78 2540.84 L742.60 2541.95 L743.43 2542.94 L744.25 2543.82 L745.08 2544.60 L745.90 2545.28 L746.73 2545.87 L747.55 2546.39 L748.38 2546.83 L749.20 2547.21 L750.03 2547.54 L750.85 2547.81 L751.68 2548.04 L752.50 2548.24 L753.33 2548.40 L754.15 2548.53 L754.98 2548.64 L755.80 2548.74 L756.62 2548.81 L757.45 2548.87 L758.28 2548.92 L759.10 2548.96 L759.93 2548.99 L760.75 2549.01 L761.58 2549.03 L762.40 2549.05 L763.23 2549.06 L764.05 2549.07 L764.88 2549.08 L765.70 2549.08 L766.53 2549.09 L767.35 2549.09 L768.18 2549.09 L769.00 2549.09 L769.83 2549.10 L770.65 2549.10 L771.48 2549.10 L772.30 2549.10 L773.12 2549.10 L773.95 2549.10 L774.78 2549.10 L775.60 2549.10 L776.43 2549.10 L777.25 2549.10 L778.08 2549.10 L778.90 2549.10 L779.73 2549.10 L780.55 2549.10 L781.38 2549.10 L782.20 2549.10 L783.03 2549.10 L783.85 2549.10 L784.68 2549.10 L785.50 2549.10 L786.33 2549.10 L787.15 2549.10 L787.98 2549.10 L788.80 2549.10 L789.62 2549.10 L790.45 2549.10 L791.28 2549.10 L792.10 2549.10 L792.93 2549.10 L793.75 2549.10 L794.58 2549.10 L795.40 2549.10 L796.23 2549.10 L797.05 2549.10 L797.88 2549.10 L798.70 2549.10 L799.53 2549.10 L800.35 2549.10 L801.18 2549.10 L802.00 2549.10 L802.83 2549.10 L803.65 2549.10 L804.48 2549.10 L805.30 2549.10 L806.12 2549.10 L806.95 2549.10 L807.78 2549.10 L808.60 2549.10 L809.43 2549.10 L810.25 2549.10 L811.08 2549.10 L811.90 2549.10 L812.73 2549.10 L813.55 2549.10 L814.38 2549.10 L815.20 2549.10 L816.03 2549.10 L816.85 2549.10 L817.68 2549.10 L818.50 2549.10 L819.33 2549.10 L820.15 2549.10 L820.98 2549.10 L821.80 2549.10 L822.62 2549.10 L823.45 2549.10 L824.28 2549.10 L825.10 2549.10 L825.93 2549.10 L826.75 2549.10 L827.58 2549.10 L828.40 2549.10 L829.23 2549.10 L830.05 2549.10 L830.88 2549.10 L831.70 2549.10 L832.53 2549.10 L833.35 2549.10 L834.18 2549.10 L835.00 2549.10 L835.83 2549.10 L836.65 2549.10 L837.48 2549.10 L838.30 2549.10 L839.12 2549.10 L839.95 2549.10 L840.78 2549.10 L841.60 2549.10 L842.43 2549.10 L843.25 2549.10 L844.08 2549.10 L844.90 2549.10 L845.73 2549.10 L846.55 2549.10 L847.38 2549.10 L848.20 2549.10 L849.03 2549.10 L849.85 2549.10 L850.68 2549.10 L851.50 2549.10 L852.33 2549.10 L853.15 2549.10 L853.98 2549.10 L854.80 2549.10 L855.62 2549.10 L856.45 2549.10 L857.28 2549.10 L858.10 2549.10 L858.93 2549.10 L859.75 2549.10 L860.58 2549.10 L861.40 2549.10 L862.23 2549.10 L863.05 2549.10 L863.88 2549.10 L864.70 2549.10 L865.53 2549.10 L866.35 2549.10 L867.18 2549.10 L868.00 2549.10 L868.83 2549.10 L869.65 2549.10 L870.48 2549.10 L871.30 2549.10 L872.12 2549.10 L872.95 2549.10 L873.78 2549.10 L874.60 2549.10 L875.43 2549.10 L876.25 2549.10 L877.08 2549.10 L877.90 2549.10 L878.73 2549.10 L879.55 2549.10 L880.38 2549.10 L881.20 2549.10" fill="none" stroke="#d62728" stroke-width="2.50"/>
</g>
<rect x="556.20" y="2262.60" width="320.00" height="319.90" fill="none" stroke="#000" stroke-width="2.50"/>
<text x="662.10" y="2622.90" font-size="29.00" textLength="109.58" lengthAdjust="spacingAndGlyphs" text-anchor="middle">150.220</text>
<text x="828.78" y="2622.90" font-size="29.00" textLength="109.58" lengthAdjust="spacingAndGlyphs" text-anchor="middle">150.280</text>
<text x="535.60" y="2558.60" font-size="29.00" textLength="16.86" lengthAdjust="spacingAndGlyphs" text-anchor="end">0</text>
<text x="535.60" y="2503.40" font-size="29.00" textLength="33.72" lengthAdjust="spacingAndGlyphs" text-anchor="end">25</text>
<text x="535.60" y="2448.20" font-size="29.00" textLength="33.72" lengthAdjust="spacingAndGlyphs" text-anchor="end">50</text>
<text x="535.60" y="2393.00" font-size="29.00" textLength="33.72" lengthAdjust="spacingAndGlyphs" text-anchor="end">75</text>
<text x="535.60" y="2337.80" font-size="29.00" textLength="50.58" lengthAdjust="spacingAndGlyphs" text-anchor="end">100</text>
<text x="535.60" y="2282.60" font-size="29.00" textLength="50.58" lengthAdjust="spacingAndGlyphs" text-anchor="end">125</text>
<path d="M662.10 2582.50V2594.30M662.10 2262.60V2250.80M828.78 2582.50V2594.30M828.78 2262.60V2250.80M556.20 2549.10H544.40M876.20 2549.10H888.00M556.20 2493.90H544.40M876.20 2493.90H888.00M556.20 2438.70H544.40M876.20 2438.70H888.00M556.20 2383.50H544.40M876.20 2383.50H888.00M556.20 2328.30H544.40M876.20 2328.30H888.00M556.20 2273.10H544.40M876.20 2273.10H888.00" stroke="#000" stroke-width="2.20" fill="none"/>
<path d="M578.76 2582.50V2587.10M578.76 2262.60V2258.00M620.43 2582.50V2587.10M620.43 2262.60V2258.00M703.77 2582.50V2587.10M703.77 2262.60V2258.00M745.44 2582.50V2587.10M745.44 2262.60V2258.00M787.11 2582.50V2587.10M787.11 2262.60V2258.00M870.45 2582.50V2587.10M870.45 2262.60V2258.00M556.20 2582.22H551.60M876.20 2582.22H880.80M556.20 2571.18H551.60M876.20 2571.18H880.80M556.20 2560.14H551.60M876.20 2560.14H880.80M556.20 2538.06H551.60M876.20 2538.06H880.80M556.20 2527.02H551.60M876.20 2527.02H880.80M556.20 2515.98H551.60M876.20 2515.98H880.80M556.20 2504.94H551.60M876.20 2504.94H880.80M556.20 2482.86H551.60M876.20 2482.86H880.80M556.20 2471.82H551.60M876.20 2471.82H880.80M556.20 2460.78H551.60M876.20 2460.78H880.80M556.20 2449.74H551.60M876.20 2449.74H880.80M556.20 2427.66H551.60M876.20 2427.66H880.80M556.20 2416.62H551.60M876.20 2416.62H880.80M556.20 2405.58H551.60M876.20 2405.58H880.80M556.20 2394.54H551.60M876.20 2394.54H880.80M556.20 2372.46H551.60M876.20 2372.46H880.80M556.20 2361.42H551.60M876.20 2361.42H880.80M556.20 2350.38H551.60M876.20 2350.38H880.80M556.20 2339.34H551.60M876.20 2339.34H880.80M556.20 2317.26H551.60M876.20 2317.26H880.80M556.20 2306.22H551.60M876.20 2306.22H880.80M556.20 2295.18H551.60M876.20 2295.18H880.80M556.20 2284.14H551.60M876.20 2284.14H880.80M556.20 2262.06H551.60M876.20 2262.06H880.80" stroke="#000" stroke-width="1.80" fill="none"/>
<g font-size="16">
<text transform="translate(1068.20 2397.10) rotate(-90)" fill="#0000b0" textLength="40.04" lengthAdjust="spacingAndGlyphs" text-anchor="start"><tspan font-size="16.00" dy="0.00">C</tspan><tspan font-size="11.20" dy="3.04">3</tspan><tspan font-size="16.00" dy="-3.04">H</tspan><tspan font-size="11.20" dy="3.04">6</tspan></text>
<text transform="translate(1094.10 2416.10) rotate(-90)" fill="#0000b0" textLength="80.31" lengthAdjust="spacingAndGlyphs" text-anchor="start"><tspan font-size="16.00" dy="0.00">CH</tspan><tspan font-size="11.20" dy="3.04">3</tspan><tspan font-size="16.00" dy="-3.04">OCHO</tspan></text>
<text transform="translate(1249.40 2445.40) rotate(-90)" fill="#0000b0" textLength="80.31" lengthAdjust="spacingAndGlyphs" text-anchor="start"><tspan font-size="16.00" dy="0.00">CH</tspan><tspan font-size="11.20" dy="3.04">3</tspan><tspan font-size="16.00" dy="-3.04">OCHO</tspan></text>
</g>
<g clip-path="url(#cp17)">
<path d="M971.70 2529.20V2053.59H975.00V2053.59H978.30V2053.59H981.60V2053.59H984.90V2053.59H988.20V2307.85H991.50V2363.79H994.80V2434.98H998.10V2460.41H1001.40V2462.95H1004.70V2498.55H1008.00V2541.77H1011.30V2526.51H1014.60V2485.83H1017.90V2483.29H1021.20V2496.00H1024.50V2498.55H1027.80V2529.06H1031.10V2544.31H1034.40V2546.86H1037.70V2526.51H1041.00V2503.63H1044.30V2485.83H1047.60V2473.12H1050.90V2445.15H1054.20V2455.32H1057.50V2468.03H1060.80V2465.49H1064.10V2457.86H1067.40V2455.32H1070.70V2426.08H1074.00V2434.98H1077.30V2437.52H1080.60V2445.15H1083.90V2417.18H1087.20V2424.81H1090.50V2434.98H1093.80V2455.32H1097.10V2465.49H1100.40V2445.15H1103.70V2446.42H1107.00V2465.49H1110.30V2460.41H1113.60V2468.03H1116.90V2475.66H1120.20V2465.49H1123.50V2440.07H1126.80V2422.27H1130.10V2422.27H1133.40V2410.83H1136.70V2422.27H1140.00V2465.49H1143.30V2478.21H1146.60V2470.58H1149.90V2480.75H1153.20V2483.29H1156.50V2511.26H1159.80V2523.97H1163.10V2530.33H1166.40V2526.51H1169.70V2535.41H1173.00V2526.51H1176.30V2517.62H1179.60V2521.43H1182.90V2513.80H1186.20V2518.89H1189.50V2520.16H1192.80V2518.89H1196.10V2536.68H1199.40V2549.40H1202.70V2539.23H1206.00V2509.99H1209.30V2526.51H1212.60V2529.06H1215.90V2546.86H1219.20V2529.06H1222.50V2535.41H1225.80V2534.14H1229.10V2513.80H1232.40V2473.12H1235.70V2470.58H1239.00V2465.49H1242.30V2460.41H1245.60V2457.86H1248.90V2452.78H1252.20V2456.59H1255.50V2460.41H1258.80V2461.68H1262.10V2455.32H1265.40V2468.03H1268.70V2488.38H1272.00V2490.92H1275.30V2492.19H1278.60V2498.55H1281.90V2501.57H1285.20V2504.90H1288.50V2504.90H1291.80V2488.38H1295.10V2529.20 Z" fill="#808080" fill-opacity="0.2" stroke="none"/>
<path d="M971.70 2053.59H975.00V2053.59H978.30V2053.59H981.60V2053.59H984.90V2053.59H988.20V2307.85H991.50V2363.79H994.80V2434.98H998.10V2460.41H1001.40V2462.95H1004.70V2498.55H1008.00V2541.77H1011.30V2526.51H1014.60V2485.83H1017.90V2483.29H1021.20V2496.00H1024.50V2498.55H1027.80V2529.06H1031.10V2544.31H1034.40V2546.86H1037.70V2526.51H1041.00V2503.63H1044.30V2485.83H1047.60V2473.12H1050.90V2445.15H1054.20V2455.32H1057.50V2468.03H1060.80V2465.49H1064.10V2457.86H1067.40V2455.32H1070.70V2426.08H1074.00V2434.98H1077.30V2437.52H1080.60V2445.15H1083.90V2417.18H1087.20V2424.81H1090.50V2434.98H1093.80V2455.32H1097.10V2465.49H1100.40V2445.15H1103.70V2446.42H1107.00V2465.49H1110.30V2460.41H1113.60V2468.03H1116.90V2475.66H1120.20V2465.49H1123.50V2440.07H1126.80V2422.27H1130.10V2422.27H1133.40V2410.83H1136.70V2422.27H1140.00V2465.49H1143.30V2478.21H1146.60V2470.58H1149.90V2480.75H1153.20V2483.29H1156.50V2511.26H1159.80V2523.97H1163.10V2530.33H1166.40V2526.51H1169.70V2535.41H1173.00V2526.51H1176.30V2517.62H1179.60V2521.43H1182.90V2513.80H1186.20V2518.89H1189.50V2520.16H1192.80V2518.89H1196.10V2536.68H1199.40V2549.40H1202.70V2539.23H1206.00V2509.99H1209.30V2526.51H1212.60V2529.06H1215.90V2546.86H1219.20V2529.06H1222.50V2535.41H1225.80V2534.14H1229.10V2513.80H1232.40V2473.12H1235.70V2470.58H1239.00V2465.49H1242.30V2460.41H1245.60V2457.86H1248.90V2452.78H1252.20V2456.59H1255.50V2460.41H1258.80V2461.68H1262.10V2455.32H1265.40V2468.03H1268.70V2488.38H1272.00V2490.92H1275.30V2492.19H1278.60V2498.55H1281.90V2501.57H1285.20V2504.90H1288.50V2504.90H1291.80V2488.38H1295.10" fill="none" stroke="#000" stroke-width="2.60" stroke-linejoin="miter"/>
<path d="M982.98 2180.72C983.20 2189.20 983.70 2218.01 984.26 2231.57C984.81 2245.13 985.65 2251.49 986.29 2262.09C986.93 2272.68 987.48 2283.27 988.07 2295.14C988.66 2307.00 989.21 2320.56 989.85 2333.28C990.48 2345.99 991.12 2358.70 991.88 2371.42C992.65 2384.13 993.58 2396.84 994.43 2409.56C995.27 2422.27 996.12 2436.25 996.97 2447.69C997.82 2459.14 998.45 2468.46 999.51 2478.21C1000.57 2487.95 1002.05 2498.97 1003.32 2506.17C1004.60 2513.38 1005.66 2517.83 1007.14 2521.43C1008.62 2525.03 1010.11 2526.60 1012.22 2527.79C1014.34 2528.97 1016.89 2528.55 1019.85 2528.55C1022.82 2528.55 1027.06 2528.55 1030.02 2527.79C1032.99 2527.02 1035.53 2526.30 1037.65 2523.97C1039.77 2521.64 1041.04 2519.31 1042.74 2513.80C1044.43 2508.29 1046.13 2500.66 1047.82 2490.92C1049.52 2481.17 1051.21 2466.76 1052.91 2455.32C1054.60 2443.88 1056.21 2430.96 1057.99 2422.27C1059.77 2413.58 1061.89 2404.89 1063.58 2403.20C1065.28 2401.50 1066.55 2406.80 1068.16 2412.10C1069.77 2417.39 1071.55 2428.20 1073.25 2434.98C1074.94 2441.76 1076.64 2449.18 1078.33 2452.78C1080.03 2456.38 1081.72 2456.59 1083.42 2456.59C1085.11 2456.59 1086.81 2453.92 1088.50 2452.78C1090.20 2451.64 1091.89 2449.30 1093.59 2449.73C1095.28 2450.15 1096.98 2452.27 1098.67 2455.32C1100.37 2458.37 1102.06 2464.43 1103.76 2468.03C1105.45 2471.64 1107.36 2475.24 1108.84 2476.93C1110.33 2478.63 1111.38 2478.84 1112.66 2478.21C1113.93 2477.57 1114.99 2477.78 1116.47 2473.12C1117.95 2468.46 1119.86 2458.71 1121.56 2450.24C1123.25 2441.76 1124.73 2430.74 1126.64 2422.27C1128.55 2413.79 1131.09 2404.47 1133.00 2399.38C1134.90 2394.30 1136.39 2390.91 1138.08 2391.76C1139.78 2392.60 1141.47 2398.11 1143.17 2404.47C1144.86 2410.83 1146.56 2420.57 1148.25 2429.90C1149.95 2439.22 1151.64 2451.08 1153.34 2460.41C1155.03 2469.73 1156.73 2478.21 1158.42 2485.83C1160.12 2493.46 1161.60 2500.24 1163.51 2506.17C1165.41 2512.11 1167.53 2517.95 1169.86 2521.43C1172.20 2524.90 1174.53 2525.84 1177.49 2527.02C1180.46 2528.21 1183.42 2528.29 1187.66 2528.55C1191.90 2528.80 1198.68 2528.89 1202.92 2528.55C1207.16 2528.21 1210.12 2527.70 1213.09 2526.51C1216.05 2525.33 1218.60 2523.55 1220.72 2521.43C1222.84 2519.31 1224.11 2517.19 1225.80 2513.80C1227.50 2510.41 1229.19 2505.75 1230.89 2501.09C1232.58 2496.43 1234.06 2490.49 1235.97 2485.83C1237.88 2481.17 1240.21 2476.00 1242.33 2473.12C1244.45 2470.24 1246.57 2468.54 1248.68 2468.54C1250.80 2468.54 1252.92 2470.66 1255.04 2473.12C1257.16 2475.58 1259.07 2479.90 1261.40 2483.29C1263.73 2486.68 1266.48 2490.49 1269.03 2493.46C1271.57 2496.43 1274.11 2499.18 1276.65 2501.09C1279.20 2503.00 1281.95 2504.69 1284.28 2504.90C1286.61 2505.11 1288.73 2504.05 1290.64 2502.36C1292.54 2500.66 1290.00 2497.49 1295.72 2494.73C1301.44 2491.98 1320.09 2487.32 1324.96 2485.83" fill="none" stroke="#1f77b4" stroke-width="2.50"/>
<path d="M970.00 2529.20 L970.83 2529.20 L971.65 2529.20 L972.48 2529.20 L973.30 2529.20 L974.12 2529.20 L974.95 2529.20 L975.77 2529.20 L976.60 2529.20 L977.42 2529.20 L978.25 2529.20 L979.08 2529.20 L979.90 2529.20 L980.73 2529.20 L981.55 2529.20 L982.38 2529.20 L983.20 2529.20 L984.02 2529.20 L984.85 2529.20 L985.67 2529.20 L986.50 2529.20 L987.33 2529.20 L988.15 2529.20 L988.98 2529.20 L989.80 2529.20 L990.62 2529.20 L991.45 2529.20 L992.27 2529.20 L993.10 2529.20 L993.92 2529.20 L994.75 2529.20 L995.58 2529.20 L996.40 2529.20 L997.23 2529.20 L998.05 2529.20 L998.88 2529.20 L999.70 2529.20 L1000.52 2529.20 L1001.35 2529.20 L1002.17 2529.20 L1003.00 2529.20 L1003.83 2529.20 L1004.65 2529.20 L1005.48 2529.20 L1006.30 2529.20 L1007.12 2529.20 L1007.95 2529.20 L1008.77 2529.20 L1009.60 2529.20 L1010.42 2529.20 L1011.25 2529.20 L1012.08 2529.20 L1012.90 2529.20 L1013.73 2529.20 L1014.55 2529.20 L1015.38 2529.20 L1016.20 2529.20 L1017.02 2529.20 L1017.85 2529.20 L1018.67 2529.20 L1019.50 2529.20 L1020.33 2529.20 L1021.15 2529.20 L1021.98 2529.20 L1022.80 2529.20 L1023.62 2529.20 L1024.45 2529.20 L1025.28 2529.20 L1026.10 2529.20 L1026.92 2529.20 L1027.75 2529.20 L1028.58 2529.20 L1029.40 2529.20 L1030.22 2529.20 L1031.05 2529.20 L1031.88 2529.20 L1032.70 2529.20 L1033.53 2529.20 L1034.35 2529.20 L1035.17 2529.20 L1036.00 2529.20 L1036.83 2529.20 L1037.65 2529.20 L1038.47 2529.20 L1039.30 2529.20 L1040.12 2529.20 L1040.95 2529.20 L1041.78 2529.20 L1042.60 2529.20 L1043.42 2529.20 L1044.25 2529.20 L1045.08 2529.20 L1045.90 2529.20 L1046.72 2529.20 L1047.55 2529.20 L1048.38 2529.20 L1049.20 2529.20 L1050.03 2529.20 L1050.85 2529.20 L1051.67 2529.20 L1052.50 2529.20 L1053.33 2529.20 L1054.15 2529.20 L1054.97 2529.20 L1055.80 2529.20 L1056.62 2529.20 L1057.45 2529.20 L1058.28 2529.20 L1059.10 2529.20 L1059.92 2529.20 L1060.75 2529.20 L1061.58 2529.20 L1062.40 2529.20 L1063.22 2529.20 L1064.05 2529.20 L1064.88 2529.20 L1065.70 2529.20 L1066.53 2529.20 L1067.35 2529.20 L1068.17 2529.20 L1069.00 2529.20 L1069.83 2529.20 L1070.65 2529.20 L1071.47 2529.20 L1072.30 2529.20 L1073.12 2529.20 L1073.95 2529.20 L1074.78 2529.20 L1075.60 2529.20 L1076.42 2529.20 L1077.25 2529.20 L1078.08 2529.20 L1078.90 2529.20 L1079.72 2529.20 L1080.55 2529.20 L1081.38 2529.20 L1082.20 2529.20 L1083.03 2529.19 L1083.85 2529.19 L1084.67 2529.19 L1085.50 2529.19 L1086.33 2529.18 L1087.15 2529.18 L1087.97 2529.17 L1088.80 2529.16 L1089.62 2529.15 L1090.45 2529.13 L1091.28 2529.11 L1092.10 2529.09 L1092.92 2529.05 L1093.75 2529.01 L1094.58 2528.96 L1095.40 2528.90 L1096.22 2528.82 L1097.05 2528.73 L1097.88 2528.61 L1098.70 2528.47 L1099.53 2528.29 L1100.35 2528.08 L1101.17 2527.83 L1102.00 2527.53 L1102.83 2527.17 L1103.65 2526.74 L1104.47 2526.24 L1105.30 2525.65 L1106.12 2524.97 L1106.95 2524.17 L1107.78 2523.25 L1108.60 2522.20 L1109.42 2521.00 L1110.25 2519.63 L1111.08 2518.09 L1111.90 2516.35 L1112.72 2514.41 L1113.55 2512.25 L1114.38 2509.87 L1115.20 2507.25 L1116.03 2504.39 L1116.85 2501.28 L1117.67 2497.91 L1118.50 2494.31 L1119.33 2490.46 L1120.15 2486.38 L1120.97 2482.08 L1121.80 2477.59 L1122.62 2472.91 L1123.45 2468.10 L1124.28 2463.16 L1125.10 2458.15 L1125.92 2453.10 L1126.75 2448.06 L1127.58 2443.08 L1128.40 2438.19 L1129.22 2433.47 L1130.05 2428.94 L1130.88 2424.68 L1131.70 2420.72 L1132.53 2417.12 L1133.35 2413.92 L1134.17 2411.17 L1135.00 2408.88 L1135.83 2407.11 L1136.65 2405.86 L1137.47 2405.16 L1138.30 2405.02 L1139.12 2405.43 L1139.95 2406.40 L1140.78 2407.90 L1141.60 2409.93 L1142.42 2412.45 L1143.25 2415.42 L1144.08 2418.82 L1144.90 2422.60 L1145.72 2426.71 L1146.55 2431.11 L1147.38 2435.74 L1148.20 2440.54 L1149.03 2445.48 L1149.85 2450.50 L1150.67 2455.55 L1151.50 2460.59 L1152.33 2465.57 L1153.15 2470.45 L1153.97 2475.20 L1154.80 2479.79 L1155.62 2484.19 L1156.45 2488.38 L1157.28 2492.35 L1158.10 2496.09 L1158.92 2499.58 L1159.75 2502.81 L1160.58 2505.81 L1161.40 2508.55 L1162.22 2511.06 L1163.05 2513.33 L1163.88 2515.38 L1164.70 2517.22 L1165.53 2518.86 L1166.35 2520.31 L1167.17 2521.60 L1168.00 2522.73 L1168.83 2523.72 L1169.65 2524.57 L1170.47 2525.31 L1171.30 2525.95 L1172.12 2526.49 L1172.95 2526.96 L1173.78 2527.35 L1174.60 2527.68 L1175.42 2527.96 L1176.25 2528.19 L1177.08 2528.38 L1177.90 2528.54 L1178.72 2528.67 L1179.55 2528.78 L1180.38 2528.86 L1181.20 2528.93 L1182.03 2528.99 L1182.85 2529.03 L1183.67 2529.07 L1184.50 2529.10 L1185.33 2529.12 L1186.15 2529.14 L1186.97 2529.15 L1187.80 2529.16 L1188.62 2529.17 L1189.45 2529.18 L1190.28 2529.18 L1191.10 2529.19 L1191.92 2529.19 L1192.75 2529.19 L1193.58 2529.20 L1194.40 2529.20 L1195.22 2529.20 L1196.05 2529.20 L1196.88 2529.20 L1197.70 2529.20 L1198.53 2529.20 L1199.35 2529.20 L1200.17 2529.20 L1201.00 2529.20 L1201.83 2529.20 L1202.65 2529.20 L1203.47 2529.20 L1204.30 2529.20 L1205.12 2529.20 L1205.95 2529.20 L1206.78 2529.20 L1207.60 2529.20 L1208.42 2529.20 L1209.25 2529.20 L1210.08 2529.20 L1210.90 2529.20 L1211.72 2529.20 L1212.55 2529.20 L1213.38 2529.20 L1214.20 2529.20 L1215.03 2529.20 L1215.85 2529.20 L1216.67 2529.20 L1217.50 2529.20 L1218.33 2529.20 L1219.15 2529.20 L1219.97 2529.20 L1220.80 2529.20 L1221.62 2529.20 L1222.45 2529.20 L1223.28 2529.20 L1224.10 2529.20 L1224.92 2529.20 L1225.75 2529.20 L1226.58 2529.20 L1227.40 2529.20 L1228.22 2529.20 L1229.05 2529.20 L1229.88 2529.20 L1230.70 2529.20 L1231.53 2529.20 L1232.35 2529.20 L1233.17 2529.20 L1234.00 2529.20 L1234.83 2529.20 L1235.65 2529.20 L1236.47 2529.20 L1237.30 2529.20 L1238.12 2529.20 L1238.95 2529.20 L1239.78 2529.20 L1240.60 2529.20 L1241.42 2529.20 L1242.25 2529.20 L1243.08 2529.20 L1243.90 2529.20 L1244.72 2529.20 L1245.55 2529.20 L1246.38 2529.20 L1247.20 2529.20 L1248.03 2529.20 L1248.85 2529.20 L1249.67 2529.20 L1250.50 2529.20 L1251.33 2529.20 L1252.15 2529.20 L1252.97 2529.20 L1253.80 2529.20 L1254.62 2529.20 L1255.45 2529.20 L1256.28 2529.20 L1257.10 2529.20 L1257.92 2529.20 L1258.75 2529.20 L1259.58 2529.20 L1260.40 2529.20 L1261.22 2529.20 L1262.05 2529.20 L1262.88 2529.20 L1263.70 2529.20 L1264.53 2529.20 L1265.35 2529.20 L1266.17 2529.20 L1267.00 2529.20 L1267.83 2529.20 L1268.65 2529.20 L1269.47 2529.20 L1270.30 2529.20 L1271.12 2529.20 L1271.95 2529.20 L1272.78 2529.20 L1273.60 2529.20 L1274.42 2529.20 L1275.25 2529.20 L1276.08 2529.20 L1276.90 2529.20 L1277.72 2529.20 L1278.55 2529.20 L1279.38 2529.20 L1280.20 2529.20 L1281.03 2529.20 L1281.85 2529.20 L1282.67 2529.20 L1283.50 2529.20 L1284.33 2529.20 L1285.15 2529.20 L1285.97 2529.20 L1286.80 2529.20 L1287.62 2529.20 L1288.45 2529.20 L1289.28 2529.20 L1290.10 2529.20 L1290.92 2529.20 L1291.75 2529.20 L1292.58 2529.20 L1293.40 2529.20 L1294.22 2529.20 L1295.05 2529.20 L1295.88 2529.20 L1296.70 2529.20 L1297.53 2529.20 L1298.35 2529.20 L1299.17 2529.20 L1300.00 2529.20" fill="none" stroke="#d62728" stroke-width="2.50"/>
</g>
<rect x="975.00" y="2262.60" width="320.00" height="319.90" fill="none" stroke="#000" stroke-width="2.50"/>
<text x="1122.10" y="2622.90" font-size="29.00" textLength="109.58" lengthAdjust="spacingAndGlyphs" text-anchor="middle">170.380</text>
<text x="1269.90" y="2622.90" font-size="29.00" textLength="109.58" lengthAdjust="spacingAndGlyphs" text-anchor="middle">170.440</text>
<text x="954.40" y="2591.90" font-size="29.00" textLength="55.92" lengthAdjust="spacingAndGlyphs" text-anchor="end">−10</text>
<text x="954.40" y="2538.70" font-size="29.00" textLength="16.86" lengthAdjust="spacingAndGlyphs" text-anchor="end">0</text>
<text x="954.40" y="2485.50" font-size="29.00" textLength="33.72" lengthAdjust="spacingAndGlyphs" text-anchor="end">10</text>
<text x="954.40" y="2432.30" font-size="29.00" textLength="33.72" lengthAdjust="spacingAndGlyphs" text-anchor="end">20</text>
<text x="954.40" y="2379.10" font-size="29.00" textLength="33.72" lengthAdjust="spacingAndGlyphs" text-anchor="end">30</text>
<text x="954.40" y="2325.90" font-size="29.00" textLength="33.72" lengthAdjust="spacingAndGlyphs" text-anchor="end">40</text>
<text x="954.40" y="2272.70" font-size="29.00" textLength="33.72" lengthAdjust="spacingAndGlyphs" text-anchor="end">50</text>
<path d="M1122.10 2582.50V2594.30M1122.10 2262.60V2250.80M1269.90 2582.50V2594.30M1269.90 2262.60V2250.80M975.00 2582.40H963.20M1295.00 2582.40H1306.80M975.00 2529.20H963.20M1295.00 2529.20H1306.80M975.00 2476.00H963.20M1295.00 2476.00H1306.80M975.00 2422.80H963.20M1295.00 2422.80H1306.80M975.00 2369.60H963.20M1295.00 2369.60H1306.80M975.00 2316.40H963.20M1295.00 2316.40H1306.80M975.00 2263.20H963.20M1295.00 2263.20H1306.80" stroke="#000" stroke-width="2.20" fill="none"/>
<path d="M1011.25 2582.50V2587.10M1011.25 2262.60V2258.00M1048.20 2582.50V2587.10M1048.20 2262.60V2258.00M1085.15 2582.50V2587.10M1085.15 2262.60V2258.00M1159.05 2582.50V2587.10M1159.05 2262.60V2258.00M1196.00 2582.50V2587.10M1196.00 2262.60V2258.00M1232.95 2582.50V2587.10M1232.95 2262.60V2258.00M975.00 2571.76H970.40M1295.00 2571.76H1299.60M975.00 2561.12H970.40M1295.00 2561.12H1299.60M975.00 2550.48H970.40M1295.00 2550.48H1299.60M975.00 2539.84H970.40M1295.00 2539.84H1299.60M975.00 2518.56H970.40M1295.00 2518.56H1299.60M975.00 2507.92H970.40M1295.00 2507.92H1299.60M975.00 2497.28H970.40M1295.00 2497.28H1299.60M975.00 2486.64H970.40M1295.00 2486.64H1299.60M975.00 2465.36H970.40M1295.00 2465.36H1299.60M975.00 2454.72H970.40M1295.00 2454.72H1299.60M975.00 2444.08H970.40M1295.00 2444.08H1299.60M975.00 2433.44H970.40M1295.00 2433.44H1299.60M975.00 2412.16H970.40M1295.00 2412.16H1299.60M975.00 2401.52H970.40M1295.00 2401.52H1299.60M975.00 2390.88H970.40M1295.00 2390.88H1299.60M975.00 2380.24H970.40M1295.00 2380.24H1299.60M975.00 2358.96H970.40M1295.00 2358.96H1299.60M975.00 2348.32H970.40M1295.00 2348.32H1299.60M975.00 2337.68H970.40M1295.00 2337.68H1299.60M975.00 2327.04H970.40M1295.00 2327.04H1299.60M975.00 2305.76H970.40M1295.00 2305.76H1299.60M975.00 2295.12H970.40M1295.00 2295.12H1299.60M975.00 2284.48H970.40M1295.00 2284.48H1299.60M975.00 2273.84H970.40M1295.00 2273.84H1299.60" stroke="#000" stroke-width="1.80" fill="none"/>
<text x="1.00" y="24.30" font-size="29.00" textLength="48.90" lengthAdjust="spacingAndGlyphs">a) K</text>
<text x="53.60" y="30.00" font-size="26.00" textLength="10.60" lengthAdjust="spacingAndGlyphs">a</text>
<text x="74.00" y="24.30" font-size="29.00" textLength="36.60" lengthAdjust="spacingAndGlyphs">= 0</text>
<text x="121.30" y="24.30" font-size="29.00" textLength="121.40" lengthAdjust="spacingAndGlyphs">transitions</text>
<text x="15.00" y="1373.30" font-size="29.00" textLength="48.70" lengthAdjust="spacingAndGlyphs">b) K</text>
<text x="67.00" y="1379.50" font-size="26.00" textLength="10.50" lengthAdjust="spacingAndGlyphs">a</text>
<text x="89.00" y="1373.30" font-size="29.00" textLength="33.60" lengthAdjust="spacingAndGlyphs">= 1</text>
<text x="134.00" y="1373.30" font-size="29.00" textLength="122.50" lengthAdjust="spacingAndGlyphs">transitions</text>
<text transform="translate(28.90 702.80) rotate(-90)" font-size="29.50" textLength="18.40" lengthAdjust="spacingAndGlyphs" font-style="italic">T</text><text transform="translate(33.90 684.10) rotate(-90)" font-size="20.50" textLength="13.70" lengthAdjust="spacingAndGlyphs">A</text><text transform="translate(28.90 664.10) rotate(-90)" font-size="29.50" textLength="13.00" lengthAdjust="spacingAndGlyphs">*</text><text transform="translate(28.90 644.00) rotate(-90)" font-size="29.50" textLength="38.00" lengthAdjust="spacingAndGlyphs">(K)</text>
<text transform="translate(28.90 2070.90) rotate(-90)" font-size="29.50" textLength="18.10" lengthAdjust="spacingAndGlyphs" font-style="italic">T</text><text transform="translate(33.90 2052.00) rotate(-90)" font-size="20.50" textLength="13.10" lengthAdjust="spacingAndGlyphs">A</text><text transform="translate(28.90 2032.00) rotate(-90)" font-size="29.50" textLength="12.90" lengthAdjust="spacingAndGlyphs">*</text><text transform="translate(28.90 2012.40) rotate(-90)" font-size="29.50" textLength="64.10" lengthAdjust="spacingAndGlyphs">(mK)</text>
<text x="665.00" y="1320.00" font-size="27.00" textLength="98.50" lengthAdjust="spacingAndGlyphs"><tspan font-style="italic">ν</tspan> (GHz)</text>
<text x="666.00" y="2674.90" font-size="27.00" textLength="98.00" lengthAdjust="spacingAndGlyphs"><tspan font-style="italic">ν</tspan> (GHz)</text>
</g>
</svg></body></html>
